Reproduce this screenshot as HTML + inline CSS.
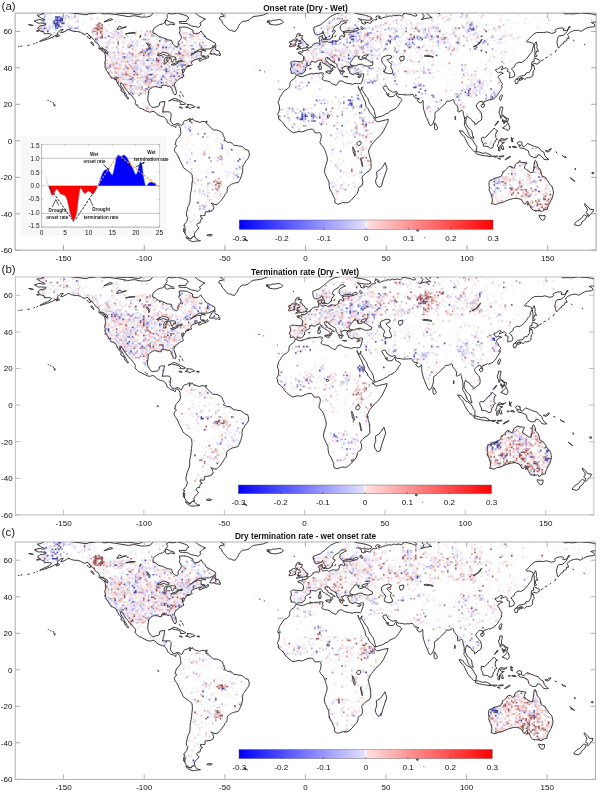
<!DOCTYPE html>
<html><head><meta charset="utf-8"><title>Onset and termination rates (Dry - Wet)</title>
<style>
html,body{margin:0;padding:0;background:#fff;}
body{width:602px;height:793px;position:relative;overflow:hidden;}
text{font-family:"Liberation Sans",Arial,sans-serif;}
.tl{font-size:8px;fill:#111;}
.cl{font-size:8.1px;fill:#111;}
.ia{font-size:4.6px;font-weight:bold;fill:#1a1a1a;}
.it{font-size:6.5px;fill:#1a1a1a;}
.tt{font-size:8.25px;font-weight:bold;fill:#111;}
.pl{font-size:11.5px;fill:#1e1e1e;}
</style></head><body>
<svg width="602" height="793" viewBox="0 0 602 793" style="position:absolute;left:0;top:0"><defs><linearGradient id="cb" x1="0" x2="1" y1="0" y2="0"><stop offset="0" stop-color="#0000ff"/><stop offset="0.496" stop-color="#e0e0fe"/><stop offset="0.5" stop-color="#ffffff"/><stop offset="0.504" stop-color="#fee0e0"/><stop offset="1" stop-color="#ff0000"/></linearGradient></defs><clipPath id="clip0"><rect x="15.1" y="13.1" width="581.0" height="237.1"/></clipPath><rect x="15.1" y="13.1" width="581.0" height="237.1" fill="#fff" stroke="#a4a4a4" stroke-width="1"/><g clip-path="url(#clip0)"><g transform="translate(15,13.8)" fill="none"><path d="M49.6 0.0h1.6M52.8 0.0h1.6M56.0 0.0h3.2M81.6 0.0h1.6M86.4 0.0h1.6M334.4 0.0h3.2M449.6 0.0h1.6M140.8 1.6h1.6M148.8 1.6h1.6M329.6 1.6h1.6M334.4 1.6h1.6M401.6 1.6h1.6M406.4 1.6h1.6M449.6 1.6h1.6M57.6 3.2h1.6M81.6 3.2h1.6M102.4 3.2h1.6M345.6 3.2h1.6M377.6 3.2h3.2M382.4 3.2h1.6M396.8 3.2h1.6M52.8 4.8h1.6M57.6 4.8h1.6M62.4 4.8h1.6M83.2 4.8h1.6M148.8 4.8h1.6M465.6 4.8h1.6M484.8 4.8h1.6M62.4 6.4h1.6M107.2 6.4h1.6M377.6 6.4h1.6M390.4 6.4h1.6M430.4 6.4h1.6M60.8 8.0h1.6M105.6 8.0h1.6M324.8 8.0h1.6M395.2 8.0h1.6M459.2 8.0h1.6M145.6 9.6h1.6M312.0 9.6h1.6M315.2 9.6h1.6M347.2 9.6h1.6M390.4 9.6h1.6M416.0 9.6h1.6M422.4 9.6h1.6M464.0 9.6h1.6M496.0 9.6h1.6M385.6 11.2h1.6M392.0 11.2h1.6M414.4 11.2h1.6M420.8 11.2h1.6M476.8 11.2h1.6M75.2 12.8h1.6M89.6 12.8h1.6M313.6 12.8h1.6M372.8 12.8h1.6M395.2 12.8h1.6M412.8 12.8h1.6M420.8 12.8h1.6M457.6 12.8h1.6M35.2 14.4h1.6M312.0 14.4h1.6M364.8 14.4h1.6M398.4 14.4h1.6M419.2 14.4h1.6M449.6 14.4h1.6M483.2 14.4h3.2M523.2 14.4h1.6M59.2 16.0h1.6M62.4 16.0h1.6M308.8 16.0h1.6M329.6 16.0h1.6M334.4 16.0h3.2M382.4 16.0h1.6M385.6 16.0h1.6M403.2 16.0h3.2M419.2 16.0h1.6M460.8 16.0h1.6M476.8 16.0h1.6M489.6 16.0h1.6M120.0 17.6h1.6M166.4 17.6h1.6M177.6 17.6h1.6M387.2 17.6h1.6M436.8 17.6h1.6M70.4 19.2h1.6M99.2 19.2h3.2M132.8 19.2h1.6M166.4 19.2h1.6M177.6 19.2h1.6M310.4 19.2h1.6M336.0 19.2h1.6M344.0 19.2h1.6M348.8 19.2h1.6M364.8 19.2h1.6M387.2 19.2h1.6M406.4 19.2h1.6M409.6 19.2h1.6M424.0 19.2h1.6M489.6 19.2h1.6M102.4 20.8h1.6M166.4 20.8h1.6M169.6 20.8h1.6M180.8 20.8h3.2M187.2 20.8h1.6M358.4 20.8h1.6M361.6 20.8h1.6M372.8 20.8h1.6M420.8 20.8h3.2M433.6 20.8h1.6M441.6 20.8h1.6M444.8 20.8h1.6M489.6 20.8h1.6M75.2 22.4h1.6M81.6 22.4h1.6M96.0 22.4h1.6M99.2 22.4h1.6M102.4 22.4h3.2M124.8 22.4h1.6M171.2 22.4h1.6M180.8 22.4h3.2M283.2 22.4h1.6M364.8 22.4h1.6M376.0 22.4h1.6M427.2 22.4h1.6M451.2 22.4h1.6M459.2 22.4h1.6M496.0 22.4h1.6M76.8 24.0h1.6M83.2 24.0h1.6M99.2 24.0h1.6M104.0 24.0h1.6M112.0 24.0h1.6M124.8 24.0h1.6M171.2 24.0h1.6M176.0 24.0h3.2M180.8 24.0h1.6M345.6 24.0h1.6M355.2 24.0h1.6M376.0 24.0h3.2M427.2 24.0h1.6M441.6 24.0h1.6M449.6 24.0h1.6M497.6 24.0h1.6M105.6 25.6h1.6M108.8 25.6h1.6M120.0 25.6h1.6M168.0 25.6h1.6M177.6 25.6h1.6M310.4 25.6h1.6M345.6 25.6h3.2M353.6 25.6h3.2M363.2 25.6h1.6M368.0 25.6h1.6M424.0 25.6h1.6M451.2 25.6h1.6M497.6 25.6h1.6M24.0 27.2h1.6M84.8 27.2h1.6M92.8 27.2h1.6M110.4 27.2h1.6M174.4 27.2h1.6M185.6 27.2h1.6M288.0 27.2h1.6M376.0 27.2h1.6M416.0 27.2h1.6M427.2 27.2h3.2M443.2 27.2h1.6M452.8 27.2h1.6M91.2 28.8h1.6M96.0 28.8h1.6M113.6 28.8h1.6M147.2 28.8h1.6M164.8 28.8h1.6M171.2 28.8h1.6M300.8 28.8h1.6M304.0 28.8h1.6M340.8 28.8h1.6M348.8 28.8h3.2M356.8 28.8h1.6M361.6 28.8h3.2M425.6 28.8h3.2M433.6 28.8h1.6M94.4 30.4h1.6M308.8 30.4h1.6M441.6 30.4h1.6M91.2 32.0h3.2M113.6 32.0h1.6M144.0 32.0h1.6M164.8 32.0h1.6M172.8 32.0h1.6M280.0 32.0h1.6M289.6 32.0h1.6M315.2 32.0h1.6M332.8 32.0h1.6M352.0 32.0h1.6M472.0 32.0h1.6M500.8 32.0h1.6M88.0 33.6h1.6M96.0 33.6h3.2M116.8 33.6h1.6M137.6 33.6h1.6M144.0 33.6h1.6M166.4 33.6h3.2M172.8 33.6h1.6M198.4 33.6h1.6M307.2 33.6h1.6M337.6 33.6h1.6M83.2 35.2h1.6M123.2 35.2h1.6M313.6 35.2h3.2M318.4 35.2h1.6M328.0 35.2h3.2M368.0 35.2h1.6M374.4 35.2h1.6M400.0 35.2h1.6M409.6 35.2h1.6M436.8 35.2h1.6M118.4 36.8h1.6M137.6 36.8h1.6M148.8 36.8h4.8M158.4 36.8h1.6M326.4 36.8h1.6M347.2 36.8h3.2M353.6 36.8h1.6M414.4 36.8h1.6M428.8 36.8h1.6M438.4 36.8h1.6M454.4 36.8h1.6M104.0 38.4h4.8M123.2 38.4h1.6M132.8 38.4h1.6M153.6 38.4h1.6M164.8 38.4h1.6M171.2 38.4h1.6M174.4 38.4h1.6M195.2 38.4h3.2M291.2 38.4h1.6M294.4 38.4h1.6M312.0 38.4h1.6M323.2 38.4h1.6M348.8 38.4h1.6M363.2 38.4h1.6M414.4 38.4h4.8M102.4 40.0h1.6M105.6 40.0h1.6M118.4 40.0h4.8M139.2 40.0h1.6M174.4 40.0h1.6M193.6 40.0h1.6M196.8 40.0h1.6M299.2 40.0h1.6M326.4 40.0h1.6M329.6 40.0h1.6M364.8 40.0h1.6M406.4 40.0h1.6M409.6 40.0h1.6M433.6 40.0h1.6M497.6 40.0h1.6M100.8 41.6h1.6M104.0 41.6h4.8M113.6 41.6h3.2M118.4 41.6h1.6M123.2 41.6h1.6M129.6 41.6h1.6M134.4 41.6h1.6M139.2 41.6h1.6M161.6 41.6h1.6M172.8 41.6h1.6M297.6 41.6h1.6M321.6 41.6h3.2M326.4 41.6h1.6M377.6 41.6h1.6M454.4 41.6h1.6M92.8 43.2h1.6M126.4 43.2h3.2M134.4 43.2h1.6M161.6 43.2h3.2M169.6 43.2h1.6M177.6 43.2h1.6M289.6 43.2h1.6M304.0 43.2h1.6M320.0 43.2h1.6M323.2 43.2h4.8M342.4 43.2h1.6M96.0 44.8h1.6M104.0 44.8h1.6M113.6 44.8h3.2M120.0 44.8h1.6M123.2 44.8h1.6M126.4 44.8h1.6M147.2 44.8h1.6M169.6 44.8h1.6M292.8 44.8h1.6M300.8 44.8h1.6M304.0 44.8h3.2M321.6 44.8h1.6M355.2 44.8h1.6M92.8 46.4h1.6M104.0 46.4h1.6M110.4 46.4h1.6M118.4 46.4h1.6M128.0 46.4h1.6M172.8 46.4h3.2M292.8 46.4h1.6M320.0 46.4h1.6M328.0 46.4h1.6M372.8 46.4h1.6M403.2 46.4h1.6M102.4 48.0h1.6M108.8 48.0h1.6M131.2 48.0h1.6M171.2 48.0h1.6M278.4 48.0h1.6M284.8 48.0h1.6M292.8 48.0h1.6M299.2 48.0h1.6M316.8 48.0h1.6M374.4 48.0h1.6M472.0 48.0h1.6M94.4 49.6h1.6M108.8 49.6h3.2M121.6 49.6h1.6M132.8 49.6h3.2M172.8 49.6h1.6M288.0 49.6h1.6M292.8 49.6h1.6M323.2 49.6h1.6M326.4 49.6h1.6M465.6 49.6h1.6M110.4 51.2h1.6M115.2 51.2h1.6M118.4 51.2h1.6M124.8 51.2h1.6M129.6 51.2h1.6M134.4 51.2h3.2M316.8 51.2h1.6M404.8 51.2h1.6M92.8 52.8h1.6M96.0 52.8h1.6M102.4 52.8h3.2M108.8 52.8h1.6M113.6 52.8h1.6M116.8 52.8h1.6M147.2 52.8h3.2M156.8 52.8h1.6M160.0 52.8h1.6M168.0 52.8h1.6M275.2 52.8h1.6M280.0 52.8h1.6M304.0 52.8h1.6M416.0 52.8h1.6M436.8 52.8h1.6M107.2 54.4h1.6M115.2 54.4h1.6M123.2 54.4h1.6M147.2 54.4h1.6M155.2 54.4h1.6M164.8 54.4h1.6M281.6 54.4h1.6M288.0 54.4h1.6M404.8 54.4h1.6M89.6 56.0h1.6M99.2 56.0h1.6M102.4 56.0h1.6M105.6 56.0h1.6M115.2 56.0h1.6M120.0 56.0h1.6M123.2 56.0h1.6M126.4 56.0h1.6M137.6 56.0h3.2M160.0 56.0h1.6M164.8 56.0h1.6M283.2 56.0h3.2M304.0 56.0h1.6M393.6 56.0h1.6M398.4 56.0h1.6M414.4 56.0h1.6M433.6 56.0h1.6M492.8 56.0h1.6M92.8 57.6h1.6M100.8 57.6h3.2M105.6 57.6h4.8M115.2 57.6h3.2M128.0 57.6h1.6M140.8 57.6h4.8M147.2 57.6h3.2M155.2 57.6h1.6M161.6 57.6h1.6M310.4 57.6h1.6M342.4 57.6h1.6M392.0 57.6h3.2M400.0 57.6h1.6M470.4 57.6h1.6M104.0 59.2h1.6M107.2 59.2h1.6M112.0 59.2h1.6M116.8 59.2h1.6M123.2 59.2h3.2M156.8 59.2h1.6M275.2 59.2h1.6M296.0 59.2h3.2M411.2 59.2h1.6M475.2 59.2h1.6M100.8 60.8h1.6M113.6 60.8h4.8M139.2 60.8h1.6M145.6 60.8h1.6M153.6 60.8h1.6M164.8 60.8h1.6M299.2 60.8h1.6M96.0 62.4h3.2M107.2 62.4h3.2M112.0 62.4h1.6M116.8 62.4h3.2M121.6 62.4h1.6M124.8 62.4h1.6M140.8 62.4h1.6M444.8 62.4h1.6M452.8 62.4h1.6M459.2 62.4h1.6M94.4 64.0h1.6M108.8 64.0h1.6M112.0 64.0h3.2M118.4 64.0h1.6M128.0 64.0h1.6M132.8 64.0h3.2M144.0 64.0h1.6M153.6 64.0h1.6M160.0 64.0h1.6M163.2 64.0h1.6M446.4 64.0h1.6M481.6 64.0h1.6M102.4 65.6h1.6M120.0 65.6h1.6M124.8 65.6h1.6M142.4 65.6h1.6M156.8 65.6h1.6M296.0 65.6h1.6M457.6 65.6h1.6M500.8 65.6h1.6M104.0 67.2h3.2M112.0 67.2h1.6M460.8 67.2h1.6M467.2 67.2h1.6M502.4 67.2h1.6M104.0 68.8h3.2M139.2 68.8h1.6M152.0 68.8h1.6M403.2 68.8h1.6M432.0 68.8h1.6M459.2 68.8h1.6M107.2 70.4h1.6M115.2 70.4h1.6M126.4 70.4h1.6M134.4 70.4h3.2M139.2 70.4h1.6M155.2 70.4h1.6M481.6 70.4h1.6M108.8 72.0h3.2M123.2 72.0h1.6M136.0 72.0h1.6M139.2 72.0h1.6M150.4 72.0h1.6M457.6 72.0h1.6M464.0 72.0h1.6M105.6 73.6h1.6M118.4 73.6h1.6M158.4 73.6h1.6M460.8 73.6h3.2M160.0 75.2h1.6M457.6 75.2h3.2M124.8 76.8h3.2M160.0 76.8h1.6M468.8 76.8h1.6M120.0 78.4h1.6M123.2 78.4h3.2M430.4 78.4h1.6M454.4 78.4h1.6M457.6 80.0h1.6M115.2 81.6h1.6M438.4 81.6h1.6M112.0 83.2h1.6M459.2 83.2h1.6M424.0 84.8h1.6M132.8 88.0h1.6M448.0 89.6h1.6M443.2 91.2h1.6M128.0 92.8h4.8M446.4 92.8h1.6M289.6 94.4h1.6M344.0 94.4h1.6M446.4 94.4h3.2M147.2 96.0h1.6M278.4 96.0h1.6M417.6 96.0h1.6M134.4 97.6h1.6M152.0 97.6h1.6M328.0 97.6h1.6M348.8 97.6h1.6M316.8 99.2h1.6M409.6 99.2h1.6M465.6 99.2h1.6M144.0 100.8h1.6M313.6 100.8h1.6M308.8 104.0h1.6M153.6 105.6h1.6M449.6 105.6h1.6M174.4 107.2h1.6M180.8 107.2h1.6M305.6 108.8h1.6M332.8 108.8h1.6M368.0 108.8h1.6M156.8 110.4h1.6M286.4 110.4h1.6M329.6 110.4h1.6M368.0 110.4h1.6M294.4 112.0h1.6M188.8 113.6h1.6M176.0 115.2h1.6M185.6 115.2h1.6M492.8 115.2h1.6M324.8 116.8h1.6M312.0 118.4h1.6M358.4 118.4h1.6M192.0 120.0h1.6M206.4 120.0h1.6M332.8 120.0h1.6M174.4 121.6h1.6M328.0 121.6h1.6M340.8 121.6h1.6M480.0 123.2h1.6M326.4 124.8h1.6M465.6 124.8h1.6M484.8 124.8h1.6M172.8 126.4h1.6M318.4 126.4h1.6M468.8 126.4h1.6M163.2 128.0h1.6M200.0 128.0h1.6M467.2 128.0h1.6M470.4 128.0h1.6M172.8 129.6h1.6M451.2 129.6h1.6M201.6 131.2h1.6M315.2 131.2h1.6M192.0 134.4h1.6M348.8 134.4h1.6M456.0 134.4h1.6M214.4 136.0h1.6M227.2 136.0h1.6M513.6 136.0h1.6M158.4 137.6h1.6M211.2 139.2h1.6M220.8 139.2h1.6M316.8 139.2h1.6M462.4 139.2h1.6M465.6 140.8h1.6M473.6 140.8h1.6M520.0 140.8h1.6M171.2 142.4h1.6M187.2 144.0h1.6M323.2 145.6h1.6M206.4 147.2h1.6M174.4 148.8h1.6M504.0 148.8h1.6M520.0 148.8h1.6M176.0 150.4h1.6M216.0 150.4h1.6M222.4 153.6h1.6M502.4 153.6h1.6M508.8 153.6h1.6M331.2 155.2h1.6M524.8 155.2h1.6M497.6 156.8h1.6M512.0 156.8h1.6M521.6 156.8h1.6M185.6 158.4h1.6M312.0 158.4h1.6M331.2 158.4h1.6M497.6 158.4h1.6M507.2 158.4h1.6M512.0 158.4h1.6M211.2 160.0h1.6M220.8 160.0h1.6M339.2 160.0h1.6M342.4 160.0h1.6M520.0 160.0h1.6M339.2 161.6h1.6M497.6 161.6h1.6M508.8 161.6h1.6M198.4 163.2h1.6M211.2 163.2h1.6M332.8 163.2h1.6M344.0 163.2h1.6M499.2 163.2h1.6M515.2 163.2h1.6M529.6 163.2h1.6M192.0 164.8h1.6M217.6 164.8h1.6M484.8 164.8h1.6M492.8 164.8h1.6M526.4 164.8h3.2M345.6 166.4h1.6M484.8 166.4h1.6M504.0 166.4h1.6M520.0 166.4h3.2M521.6 168.0h1.6M532.8 168.0h1.6M176.0 169.6h1.6M512.0 171.2h1.6M192.0 172.8h1.6M208.0 172.8h1.6M326.4 172.8h1.6M488.0 172.8h1.6M512.0 172.8h1.6M192.0 174.4h1.6M316.8 174.4h1.6M328.0 174.4h1.6M505.6 174.4h1.6M536.0 174.4h1.6M192.0 176.0h1.6M529.6 176.0h1.6M177.6 177.6h1.6M182.4 177.6h1.6M201.6 177.6h1.6M320.0 177.6h1.6M524.8 177.6h3.2M529.6 177.6h1.6M320.0 179.2h3.2M491.2 179.2h1.6M496.0 179.2h1.6M523.2 179.2h3.2M201.6 180.8h1.6M320.0 180.8h1.6M481.6 180.8h1.6M190.4 182.4h1.6M478.4 182.4h3.2M488.0 182.4h1.6M510.4 182.4h1.6M536.0 182.4h1.6M507.2 184.0h3.2M508.8 187.2h1.6M478.4 188.8h1.6M483.2 188.8h1.6M486.4 188.8h1.6M185.6 192.0h1.6M185.6 195.2h1.6M174.4 196.8h1.6M190.4 196.8h1.6M171.2 201.6h1.6M172.8 217.6h1.6M172.8 219.2h1.6" stroke="#fae6e6" stroke-width="1.6"/><path d="M36.8 0.0h1.6M51.2 0.0h1.6M60.8 0.0h1.6M337.6 0.0h1.6M425.6 0.0h1.6M443.2 0.0h1.6M451.2 0.0h1.6M464.0 0.0h1.6M56.0 1.6h1.6M62.4 1.6h1.6M320.0 1.6h1.6M446.4 1.6h3.2M464.0 1.6h1.6M483.2 1.6h1.6M504.0 1.6h1.6M56.0 3.2h1.6M352.0 3.2h1.6M449.6 3.2h1.6M520.0 3.2h1.6M33.6 4.8h1.6M36.8 4.8h1.6M48.0 4.8h1.6M56.0 4.8h1.6M60.8 4.8h1.6M364.8 4.8h1.6M385.6 4.8h1.6M510.4 4.8h1.6M49.6 6.4h1.6M332.8 6.4h1.6M491.2 6.4h3.2M534.4 6.4h1.6M19.2 8.0h1.6M28.8 8.0h1.6M49.6 8.0h1.6M59.2 8.0h1.6M100.8 8.0h1.6M104.0 8.0h1.6M316.8 8.0h1.6M366.4 8.0h1.6M27.2 9.6h1.6M32.0 9.6h1.6M52.8 9.6h1.6M67.2 9.6h1.6M401.6 9.6h1.6M406.4 9.6h1.6M457.6 9.6h1.6M499.2 9.6h1.6M508.8 9.6h1.6M531.2 9.6h1.6M24.0 11.2h1.6M30.4 11.2h1.6M36.8 11.2h1.6M51.2 11.2h3.2M340.8 11.2h1.6M372.8 11.2h3.2M382.4 11.2h1.6M390.4 11.2h1.6M401.6 11.2h1.6M457.6 11.2h1.6M472.0 11.2h1.6M27.2 12.8h3.2M35.2 12.8h1.6M38.4 12.8h1.6M307.2 12.8h1.6M328.0 12.8h1.6M334.4 12.8h1.6M352.0 12.8h1.6M416.0 12.8h1.6M422.4 12.8h1.6M451.2 12.8h1.6M521.6 12.8h1.6M27.2 14.4h1.6M38.4 14.4h1.6M52.8 14.4h1.6M308.8 14.4h3.2M329.6 14.4h3.2M334.4 14.4h1.6M358.4 14.4h1.6M366.4 14.4h1.6M374.4 14.4h1.6M377.6 14.4h6.4M385.6 14.4h3.2M395.2 14.4h1.6M406.4 14.4h1.6M452.8 14.4h1.6M494.4 14.4h1.6M24.0 16.0h1.6M30.4 16.0h1.6M56.0 16.0h1.6M332.8 16.0h1.6M350.4 16.0h1.6M372.8 16.0h1.6M376.0 16.0h1.6M388.8 16.0h1.6M395.2 16.0h1.6M406.4 16.0h1.6M441.6 16.0h1.6M454.4 16.0h1.6M478.4 16.0h1.6M483.2 16.0h1.6M536.0 16.0h1.6M539.2 16.0h1.6M57.6 17.6h3.2M88.0 17.6h1.6M97.6 17.6h1.6M121.6 17.6h1.6M350.4 17.6h1.6M379.2 17.6h1.6M414.4 17.6h1.6M451.2 17.6h1.6M454.4 17.6h3.2M459.2 17.6h1.6M464.0 17.6h1.6M480.0 17.6h1.6M40.0 19.2h1.6M88.0 19.2h1.6M92.8 19.2h3.2M104.0 19.2h3.2M116.8 19.2h1.6M137.6 19.2h1.6M174.4 19.2h1.6M184.0 19.2h1.6M284.8 19.2h1.6M304.0 19.2h1.6M356.8 19.2h1.6M392.0 19.2h1.6M411.2 19.2h4.8M36.8 20.8h1.6M40.0 20.8h1.6M99.2 20.8h1.6M168.0 20.8h1.6M171.2 20.8h1.6M300.8 20.8h3.2M313.6 20.8h1.6M340.8 20.8h3.2M398.4 20.8h1.6M459.2 20.8h1.6M97.6 22.4h1.6M100.8 22.4h1.6M129.6 22.4h3.2M174.4 22.4h1.6M179.2 22.4h1.6M304.0 22.4h3.2M310.4 22.4h1.6M342.4 22.4h1.6M345.6 22.4h1.6M377.6 22.4h3.2M385.6 22.4h1.6M412.8 22.4h1.6M446.4 22.4h1.6M454.4 22.4h1.6M484.8 22.4h1.6M491.2 22.4h1.6M504.0 22.4h1.6M548.8 22.4h1.6M75.2 24.0h1.6M100.8 24.0h1.6M105.6 24.0h1.6M110.4 24.0h1.6M115.2 24.0h1.6M142.4 24.0h1.6M145.6 24.0h1.6M187.2 24.0h1.6M281.6 24.0h1.6M304.0 24.0h1.6M340.8 24.0h1.6M344.0 24.0h1.6M347.2 24.0h1.6M380.8 24.0h3.2M403.2 24.0h1.6M408.0 24.0h1.6M412.8 24.0h3.2M550.4 24.0h1.6M27.2 25.6h1.6M78.4 25.6h1.6M104.0 25.6h1.6M115.2 25.6h1.6M131.2 25.6h1.6M134.4 25.6h1.6M140.8 25.6h1.6M187.2 25.6h1.6M190.4 25.6h1.6M193.6 25.6h1.6M305.6 25.6h1.6M308.8 25.6h1.6M312.0 25.6h1.6M377.6 25.6h1.6M400.0 25.6h1.6M432.0 25.6h3.2M441.6 25.6h1.6M459.2 25.6h1.6M470.4 25.6h3.2M483.2 25.6h1.6M499.2 25.6h1.6M83.2 27.2h1.6M107.2 27.2h1.6M115.2 27.2h1.6M118.4 27.2h1.6M124.8 27.2h1.6M129.6 27.2h1.6M305.6 27.2h1.6M308.8 27.2h1.6M312.0 27.2h1.6M393.6 27.2h1.6M412.8 27.2h1.6M420.8 27.2h1.6M425.6 27.2h1.6M432.0 27.2h1.6M460.8 27.2h1.6M489.6 27.2h1.6M89.6 28.8h1.6M94.4 28.8h1.6M115.2 28.8h1.6M118.4 28.8h3.2M123.2 28.8h1.6M136.0 28.8h1.6M172.8 28.8h1.6M176.0 28.8h1.6M180.8 28.8h1.6M185.6 28.8h1.6M278.4 28.8h1.6M288.0 28.8h1.6M307.2 28.8h1.6M332.8 28.8h1.6M339.2 28.8h1.6M366.4 28.8h1.6M369.6 28.8h3.2M432.0 28.8h1.6M465.6 28.8h1.6M483.2 28.8h1.6M512.0 28.8h1.6M83.2 30.4h1.6M88.0 30.4h1.6M91.2 30.4h3.2M120.0 30.4h1.6M144.0 30.4h1.6M147.2 30.4h3.2M177.6 30.4h1.6M289.6 30.4h1.6M300.8 30.4h3.2M312.0 30.4h1.6M315.2 30.4h1.6M348.8 30.4h1.6M356.8 30.4h1.6M364.8 30.4h1.6M395.2 30.4h1.6M427.2 30.4h1.6M430.4 30.4h1.6M433.6 30.4h1.6M444.8 30.4h1.6M467.2 30.4h1.6M118.4 32.0h1.6M126.4 32.0h1.6M148.8 32.0h1.6M152.0 32.0h1.6M155.2 32.0h1.6M177.6 32.0h1.6M180.8 32.0h1.6M284.8 32.0h1.6M305.6 32.0h1.6M345.6 32.0h1.6M355.2 32.0h1.6M366.4 32.0h1.6M369.6 32.0h3.2M384.0 32.0h1.6M414.4 32.0h1.6M424.0 32.0h1.6M441.6 32.0h1.6M444.8 32.0h1.6M84.8 33.6h1.6M102.4 33.6h1.6M131.2 33.6h1.6M139.2 33.6h1.6M142.4 33.6h1.6M145.6 33.6h1.6M152.0 33.6h1.6M155.2 33.6h3.2M177.6 33.6h1.6M180.8 33.6h1.6M184.0 33.6h1.6M283.2 33.6h1.6M302.4 33.6h1.6M356.8 33.6h1.6M366.4 33.6h1.6M369.6 33.6h1.6M388.8 33.6h1.6M392.0 33.6h1.6M441.6 33.6h1.6M465.6 33.6h1.6M91.2 35.2h3.2M110.4 35.2h1.6M137.6 35.2h3.2M142.4 35.2h1.6M148.8 35.2h1.6M152.0 35.2h3.2M156.8 35.2h1.6M185.6 35.2h1.6M188.8 35.2h1.6M196.8 35.2h1.6M292.8 35.2h3.2M320.0 35.2h1.6M344.0 35.2h1.6M348.8 35.2h1.6M360.0 35.2h1.6M393.6 35.2h1.6M404.8 35.2h1.6M424.0 35.2h1.6M432.0 35.2h1.6M441.6 35.2h1.6M105.6 36.8h1.6M160.0 36.8h1.6M172.8 36.8h1.6M196.8 36.8h1.6M300.8 36.8h1.6M312.0 36.8h1.6M315.2 36.8h1.6M321.6 36.8h1.6M329.6 36.8h4.8M371.2 36.8h1.6M404.8 36.8h1.6M408.0 36.8h1.6M417.6 36.8h1.6M432.0 36.8h1.6M480.0 36.8h1.6M91.2 38.4h1.6M94.4 38.4h1.6M131.2 38.4h1.6M156.8 38.4h1.6M177.6 38.4h1.6M180.8 38.4h1.6M284.8 38.4h1.6M296.0 38.4h1.6M299.2 38.4h1.6M304.0 38.4h1.6M316.8 38.4h1.6M328.0 38.4h1.6M339.2 38.4h1.6M387.2 38.4h1.6M419.2 38.4h1.6M158.4 40.0h1.6M316.8 40.0h1.6M320.0 40.0h1.6M336.0 40.0h1.6M350.4 40.0h1.6M356.8 40.0h1.6M384.0 40.0h1.6M110.4 41.6h1.6M126.4 41.6h1.6M299.2 41.6h1.6M305.6 41.6h1.6M328.0 41.6h1.6M358.4 41.6h1.6M380.8 41.6h1.6M470.4 41.6h1.6M476.8 41.6h1.6M488.0 41.6h1.6M96.0 43.2h1.6M105.6 43.2h1.6M112.0 43.2h1.6M116.8 43.2h1.6M123.2 43.2h1.6M140.8 43.2h1.6M192.0 43.2h1.6M292.8 43.2h1.6M308.8 43.2h1.6M344.0 43.2h1.6M353.6 43.2h1.6M356.8 43.2h1.6M361.6 43.2h1.6M380.8 43.2h1.6M393.6 43.2h1.6M475.2 43.2h1.6M97.6 44.8h4.8M105.6 44.8h3.2M116.8 44.8h1.6M136.0 44.8h3.2M187.2 44.8h1.6M190.4 44.8h1.6M315.2 44.8h3.2M320.0 44.8h1.6M329.6 44.8h1.6M336.0 44.8h1.6M345.6 44.8h1.6M380.8 44.8h1.6M404.8 44.8h1.6M486.4 44.8h1.6M102.4 46.4h1.6M105.6 46.4h1.6M112.0 46.4h3.2M124.8 46.4h1.6M297.6 46.4h1.6M315.2 46.4h1.6M329.6 46.4h1.6M334.4 46.4h1.6M355.2 46.4h1.6M96.0 48.0h4.8M115.2 48.0h1.6M126.4 48.0h1.6M132.8 48.0h1.6M280.0 48.0h1.6M294.4 48.0h1.6M300.8 48.0h1.6M329.6 48.0h1.6M355.2 48.0h1.6M395.2 48.0h1.6M400.0 48.0h1.6M412.8 48.0h1.6M494.4 48.0h1.6M113.6 49.6h1.6M126.4 49.6h1.6M137.6 49.6h3.2M281.6 49.6h1.6M284.8 49.6h1.6M331.2 49.6h3.2M385.6 49.6h1.6M92.8 51.2h1.6M99.2 51.2h3.2M116.8 51.2h1.6M132.8 51.2h1.6M156.8 51.2h1.6M161.6 51.2h1.6M280.0 51.2h1.6M310.4 51.2h1.6M313.6 51.2h1.6M331.2 51.2h3.2M342.4 51.2h3.2M356.8 51.2h1.6M377.6 51.2h1.6M380.8 51.2h3.2M427.2 51.2h1.6M89.6 52.8h1.6M112.0 52.8h1.6M136.0 52.8h1.6M139.2 52.8h3.2M144.0 52.8h1.6M163.2 52.8h1.6M278.4 52.8h1.6M305.6 52.8h1.6M316.8 52.8h1.6M331.2 52.8h3.2M345.6 52.8h1.6M97.6 54.4h1.6M105.6 54.4h1.6M124.8 54.4h1.6M140.8 54.4h1.6M158.4 54.4h1.6M278.4 54.4h3.2M284.8 54.4h1.6M294.4 54.4h1.6M305.6 54.4h1.6M315.2 54.4h3.2M379.2 54.4h1.6M387.2 54.4h1.6M446.4 54.4h1.6M129.6 56.0h1.6M134.4 56.0h1.6M144.0 56.0h1.6M156.8 56.0h1.6M275.2 56.0h3.2M305.6 56.0h1.6M339.2 56.0h1.6M344.0 56.0h1.6M377.6 56.0h1.6M380.8 56.0h1.6M404.8 56.0h1.6M408.0 56.0h1.6M96.0 57.6h1.6M121.6 57.6h1.6M131.2 57.6h1.6M139.2 57.6h1.6M166.4 57.6h1.6M275.2 57.6h1.6M284.8 57.6h1.6M326.4 57.6h1.6M398.4 57.6h1.6M409.6 57.6h1.6M412.8 57.6h1.6M448.0 57.6h1.6M102.4 59.2h1.6M131.2 59.2h1.6M147.2 59.2h1.6M153.6 59.2h1.6M160.0 59.2h1.6M163.2 59.2h1.6M276.8 59.2h1.6M281.6 59.2h3.2M307.2 59.2h1.6M313.6 59.2h1.6M324.8 59.2h3.2M337.6 59.2h1.6M352.0 59.2h1.6M486.4 59.2h1.6M104.0 60.8h3.2M120.0 60.8h1.6M147.2 60.8h6.4M160.0 60.8h1.6M294.4 60.8h1.6M304.0 60.8h1.6M438.4 60.8h1.6M475.2 60.8h1.6M94.4 62.4h1.6M134.4 62.4h1.6M161.6 62.4h1.6M304.0 62.4h1.6M110.4 64.0h1.6M140.8 64.0h1.6M150.4 64.0h1.6M156.8 64.0h1.6M161.6 64.0h1.6M164.8 64.0h1.6M459.2 64.0h1.6M110.4 65.6h1.6M128.0 65.6h1.6M158.4 65.6h1.6M161.6 65.6h1.6M456.0 65.6h1.6M460.8 65.6h1.6M113.6 67.2h1.6M124.8 67.2h1.6M128.0 67.2h1.6M132.8 67.2h1.6M361.6 67.2h1.6M468.8 67.2h3.2M136.0 68.8h1.6M294.4 68.8h1.6M299.2 68.8h1.6M355.2 68.8h1.6M369.6 68.8h1.6M398.4 68.8h1.6M456.0 68.8h1.6M123.2 70.4h3.2M398.4 70.4h3.2M408.0 70.4h1.6M467.2 70.4h1.6M472.0 70.4h1.6M483.2 70.4h1.6M124.8 72.0h1.6M142.4 72.0h1.6M366.4 72.0h1.6M401.6 72.0h1.6M409.6 72.0h1.6M454.4 72.0h3.2M465.6 72.0h1.6M113.6 73.6h1.6M288.0 73.6h1.6M406.4 73.6h1.6M464.0 73.6h1.6M484.8 73.6h1.6M107.2 75.2h1.6M112.0 75.2h1.6M411.2 75.2h1.6M460.8 75.2h1.6M464.0 75.2h1.6M467.2 75.2h1.6M118.4 76.8h1.6M435.2 76.8h1.6M480.0 76.8h3.2M108.8 78.4h1.6M118.4 78.4h1.6M131.2 78.4h1.6M467.2 78.4h1.6M481.6 78.4h1.6M108.8 80.0h1.6M126.4 80.0h3.2M468.8 80.0h1.6M110.4 81.6h1.6M412.8 81.6h1.6M440.0 81.6h1.6M456.0 81.6h1.6M302.4 83.2h1.6M344.0 83.2h1.6M355.2 83.2h1.6M440.0 83.2h1.6M308.8 84.8h1.6M382.4 84.8h1.6M440.0 84.8h1.6M312.0 86.4h1.6M414.4 86.4h1.6M440.0 86.4h1.6M147.2 88.0h1.6M363.2 88.0h1.6M425.6 88.0h1.6M128.0 89.6h1.6M129.6 91.2h1.6M323.2 91.2h1.6M411.2 91.2h1.6M172.8 92.8h1.6M366.4 92.8h1.6M296.0 94.4h1.6M273.6 96.0h3.2M291.2 96.0h1.6M420.8 96.0h3.2M444.8 96.0h1.6M270.4 97.6h3.2M278.4 97.6h1.6M288.0 97.6h1.6M305.6 97.6h1.6M334.4 97.6h1.6M345.6 97.6h1.6M281.6 99.2h3.2M308.8 99.2h3.2M347.2 99.2h1.6M142.4 100.8h1.6M339.2 100.8h1.6M342.4 100.8h1.6M307.2 102.4h1.6M316.8 102.4h1.6M344.0 102.4h1.6M278.4 104.0h1.6M347.2 104.0h1.6M152.0 105.6h1.6M321.6 105.6h1.6M345.6 105.6h1.6M305.6 107.2h1.6M331.2 107.2h1.6M152.0 108.8h1.6M171.2 108.8h1.6M289.6 108.8h1.6M192.0 110.4h1.6M304.0 110.4h1.6M307.2 110.4h1.6M275.2 112.0h1.6M291.2 112.0h1.6M305.6 112.0h1.6M320.0 112.0h1.6M172.8 113.6h1.6M180.8 115.2h1.6M297.6 115.2h1.6M172.8 116.8h1.6M326.4 118.4h1.6M331.2 118.4h1.6M320.0 120.0h1.6M337.6 120.0h1.6M176.0 121.6h1.6M206.4 123.2h1.6M201.6 124.8h1.6M164.8 126.4h1.6M350.4 126.4h1.6M305.6 129.6h1.6M328.0 129.6h1.6M336.0 129.6h1.6M171.2 131.2h1.6M177.6 131.2h1.6M192.0 131.2h1.6M467.2 131.2h1.6M499.2 132.8h1.6M203.2 134.4h3.2M318.4 134.4h1.6M486.4 134.4h1.6M206.4 136.0h1.6M212.8 137.6h1.6M460.8 137.6h1.6M523.2 137.6h1.6M460.8 139.2h1.6M169.6 140.8h1.6M212.8 140.8h1.6M316.8 140.8h1.6M228.8 142.4h1.6M198.4 144.0h1.6M222.4 144.0h1.6M529.6 145.6h1.6M206.4 148.8h1.6M507.2 148.8h1.6M518.4 148.8h1.6M324.8 150.4h1.6M499.2 150.4h1.6M222.4 152.0h1.6M521.6 153.6h1.6M222.4 155.2h3.2M500.8 155.2h1.6M190.4 156.8h1.6M209.6 156.8h1.6M345.6 156.8h1.6M211.2 158.4h3.2M217.6 158.4h3.2M192.0 160.0h1.6M344.0 160.0h1.6M486.4 160.0h1.6M211.2 161.6h1.6M345.6 161.6h1.6M499.2 161.6h3.2M217.6 163.2h1.6M524.8 163.2h1.6M486.4 164.8h1.6M496.0 164.8h1.6M321.6 166.4h1.6M481.6 166.4h1.6M529.6 166.4h1.6M481.6 168.0h1.6M494.4 168.0h1.6M502.4 168.0h1.6M505.6 168.0h1.6M328.0 169.6h1.6M344.0 169.6h1.6M491.2 169.6h1.6M502.4 169.6h1.6M507.2 169.6h1.6M516.8 169.6h1.6M316.8 171.2h1.6M484.8 171.2h1.6M489.6 171.2h1.6M505.6 171.2h1.6M190.4 172.8h1.6M331.2 172.8h1.6M508.8 174.4h1.6M187.2 176.0h1.6M326.4 176.0h3.2M475.2 176.0h1.6M192.0 177.6h1.6M480.0 177.6h1.6M483.2 177.6h1.6M190.4 179.2h3.2M204.8 179.2h1.6M512.0 180.8h1.6M536.0 180.8h1.6M198.4 182.4h1.6M486.4 182.4h1.6M515.2 182.4h1.6M193.6 185.6h1.6M321.6 185.6h1.6M190.4 188.8h1.6M196.8 188.8h1.6M484.8 188.8h1.6M196.8 190.4h1.6M569.6 192.0h1.6M172.8 201.6h1.6M179.2 201.6h1.6M569.6 204.8h1.6M169.6 209.6h1.6" stroke="#e6e6fb" stroke-width="1.6"/><path d="M49.6 1.6h1.6M406.4 3.2h1.6M422.4 3.2h1.6M427.2 3.2h1.6M430.4 3.2h1.6M54.4 4.8h1.6M81.6 4.8h1.6M328.0 4.8h1.6M334.4 4.8h1.6M387.2 4.8h1.6M393.6 6.4h1.6M484.8 6.4h1.6M315.2 8.0h1.6M332.8 8.0h1.6M377.6 8.0h1.6M417.6 8.0h1.6M371.2 9.6h1.6M80.0 11.2h1.6M366.4 11.2h1.6M396.8 11.2h1.6M363.2 12.8h1.6M400.0 12.8h1.6M419.2 12.8h1.6M484.8 12.8h1.6M315.2 14.4h1.6M396.8 14.4h1.6M414.4 14.4h3.2M438.4 14.4h1.6M444.8 14.4h1.6M459.2 14.4h1.6M467.2 14.4h1.6M76.8 16.0h1.6M424.0 16.0h1.6M436.8 16.0h1.6M440.0 16.0h1.6M473.6 16.0h1.6M124.8 17.6h1.6M136.0 17.6h1.6M176.0 17.6h1.6M312.0 17.6h1.6M408.0 17.6h1.6M420.8 17.6h1.6M449.6 17.6h1.6M86.4 19.2h1.6M96.0 19.2h1.6M107.2 19.2h1.6M129.6 19.2h1.6M134.4 19.2h1.6M169.6 19.2h1.6M179.2 19.2h3.2M350.4 19.2h1.6M430.4 19.2h1.6M76.8 20.8h1.6M89.6 20.8h1.6M132.8 20.8h1.6M366.4 20.8h1.6M379.2 20.8h1.6M387.2 20.8h1.6M414.4 20.8h1.6M492.8 20.8h1.6M94.4 22.4h1.6M107.2 22.4h1.6M489.6 22.4h1.6M107.2 24.0h1.6M336.0 24.0h1.6M364.8 24.0h1.6M406.4 24.0h1.6M478.4 24.0h1.6M152.0 25.6h1.6M176.0 25.6h1.6M182.4 25.6h3.2M304.0 25.6h1.6M348.8 25.6h1.6M361.6 25.6h1.6M456.0 25.6h1.6M80.0 27.2h1.6M94.4 27.2h1.6M142.4 27.2h1.6M352.0 27.2h1.6M384.0 27.2h1.6M470.4 27.2h1.6M75.2 28.8h1.6M107.2 28.8h1.6M184.0 28.8h1.6M417.6 28.8h1.6M440.0 28.8h1.6M481.6 28.8h1.6M108.8 30.4h1.6M115.2 30.4h1.6M171.2 30.4h1.6M286.4 30.4h1.6M337.6 30.4h1.6M137.6 32.0h1.6M286.4 32.0h1.6M336.0 32.0h1.6M118.4 33.6h1.6M134.4 33.6h1.6M140.8 33.6h1.6M163.2 33.6h1.6M332.8 33.6h1.6M129.6 35.2h1.6M169.6 35.2h1.6M331.2 35.2h1.6M403.2 35.2h1.6M460.8 35.2h1.6M120.0 36.8h1.6M129.6 36.8h1.6M139.2 36.8h1.6M176.0 36.8h1.6M195.2 36.8h1.6M340.8 36.8h1.6M433.6 36.8h1.6M96.0 38.4h1.6M116.8 38.4h1.6M128.0 38.4h1.6M152.0 38.4h1.6M155.2 38.4h1.6M166.4 38.4h3.2M172.8 38.4h1.6M184.0 38.4h1.6M297.6 38.4h1.6M329.6 38.4h1.6M337.6 38.4h1.6M94.4 40.0h1.6M97.6 40.0h3.2M104.0 40.0h1.6M113.6 40.0h1.6M131.2 40.0h1.6M140.8 40.0h1.6M312.0 40.0h1.6M328.0 40.0h1.6M91.2 41.6h1.6M99.2 41.6h1.6M102.4 41.6h1.6M112.0 41.6h1.6M120.0 41.6h1.6M124.8 41.6h1.6M158.4 41.6h1.6M174.4 41.6h4.8M182.4 41.6h3.2M296.0 41.6h1.6M300.8 41.6h1.6M360.0 41.6h1.6M404.8 41.6h1.6M121.6 43.2h1.6M129.6 43.2h1.6M148.8 43.2h1.6M164.8 43.2h3.2M187.2 43.2h1.6M190.4 43.2h1.6M318.4 43.2h1.6M332.8 43.2h1.6M337.6 43.2h1.6M364.8 43.2h1.6M94.4 44.8h1.6M128.0 44.8h1.6M132.8 44.8h1.6M142.4 44.8h1.6M176.0 44.8h1.6M297.6 44.8h1.6M108.8 46.4h1.6M120.0 46.4h1.6M136.0 46.4h1.6M145.6 46.4h1.6M176.0 46.4h1.6M417.6 46.4h1.6M89.6 48.0h1.6M100.8 48.0h1.6M116.8 48.0h1.6M124.8 48.0h1.6M136.0 48.0h1.6M140.8 48.0h1.6M147.2 48.0h1.6M158.4 48.0h1.6M281.6 48.0h1.6M307.2 48.0h3.2M96.0 49.6h1.6M99.2 49.6h1.6M102.4 49.6h3.2M116.8 49.6h1.6M140.8 49.6h1.6M144.0 49.6h1.6M275.2 49.6h1.6M289.6 49.6h1.6M294.4 49.6h1.6M321.6 49.6h1.6M384.0 49.6h1.6M417.6 49.6h1.6M120.0 51.2h3.2M144.0 51.2h1.6M288.0 51.2h3.2M292.8 51.2h1.6M304.0 51.2h1.6M416.0 51.2h3.2M470.4 51.2h1.6M97.6 52.8h3.2M105.6 52.8h1.6M142.4 52.8h1.6M315.2 52.8h1.6M324.8 52.8h1.6M328.0 52.8h1.6M89.6 54.4h1.6M118.4 54.4h1.6M136.0 54.4h1.6M148.8 54.4h1.6M168.0 54.4h1.6M275.2 54.4h1.6M283.2 54.4h1.6M286.4 54.4h1.6M296.0 54.4h1.6M462.4 54.4h1.6M100.8 56.0h1.6M104.0 56.0h1.6M107.2 56.0h1.6M112.0 56.0h3.2M147.2 56.0h1.6M158.4 56.0h1.6M168.0 56.0h1.6M337.6 56.0h1.6M112.0 57.6h1.6M344.0 57.6h1.6M396.8 57.6h1.6M422.4 57.6h1.6M460.8 57.6h1.6M97.6 59.2h1.6M113.6 59.2h3.2M121.6 59.2h1.6M129.6 59.2h1.6M417.6 59.2h1.6M94.4 60.8h1.6M123.2 60.8h3.2M142.4 60.8h1.6M155.2 60.8h1.6M163.2 60.8h1.6M452.8 60.8h1.6M516.8 60.8h1.6M102.4 62.4h1.6M110.4 62.4h1.6M120.0 62.4h1.6M128.0 62.4h1.6M449.6 62.4h1.6M456.0 62.4h1.6M104.0 64.0h1.6M107.2 64.0h1.6M115.2 64.0h1.6M136.0 64.0h1.6M304.0 64.0h1.6M417.6 64.0h1.6M129.6 65.6h1.6M139.2 65.6h1.6M400.0 65.6h1.6M123.2 67.2h1.6M126.4 67.2h1.6M152.0 67.2h1.6M116.8 68.8h1.6M131.2 68.8h1.6M156.8 68.8h1.6M129.6 70.4h3.2M140.8 70.4h1.6M150.4 70.4h1.6M454.4 70.4h1.6M112.0 72.0h3.2M131.2 72.0h1.6M158.4 72.0h1.6M459.2 72.0h1.6M467.2 72.0h1.6M110.4 73.6h1.6M120.0 73.6h3.2M110.4 75.2h1.6M118.4 75.2h3.2M123.2 75.2h3.2M128.0 76.8h1.6M132.8 76.8h1.6M457.6 76.8h1.6M476.8 76.8h1.6M126.4 78.4h1.6M129.6 78.4h1.6M115.2 80.0h1.6M110.4 83.2h1.6M454.4 83.2h1.6M468.8 86.4h1.6M441.6 89.6h1.6M172.8 91.2h1.6M128.0 94.4h1.6M292.8 94.4h1.6M323.2 94.4h1.6M444.8 94.4h1.6M131.2 96.0h1.6M281.6 96.0h1.6M289.6 96.0h1.6M411.2 96.0h1.6M462.4 96.0h1.6M464.0 97.6h1.6M142.4 99.2h1.6M304.0 99.2h1.6M312.0 99.2h1.6M465.6 102.4h1.6M310.4 105.6h1.6M307.2 107.2h1.6M348.8 108.8h1.6M172.8 112.0h1.6M350.4 113.6h1.6M366.4 113.6h1.6M339.2 115.2h1.6M283.2 116.8h1.6M348.8 116.8h1.6M299.2 118.4h1.6M339.2 118.4h1.6M176.0 120.0h1.6M324.8 120.0h1.6M339.2 120.0h1.6M342.4 120.0h1.6M454.4 120.0h1.6M352.0 121.6h1.6M353.6 123.2h1.6M350.4 124.8h1.6M483.2 126.4h1.6M475.2 128.0h1.6M475.2 129.6h1.6M328.0 131.2h1.6M476.8 131.2h1.6M347.2 134.4h1.6M350.4 134.4h1.6M228.8 136.0h1.6M344.0 136.0h1.6M459.2 136.0h1.6M345.6 137.6h1.6M187.2 139.2h1.6M345.6 139.2h1.6M176.0 140.8h1.6M187.2 140.8h1.6M163.2 142.4h1.6M340.8 142.4h1.6M348.8 142.4h1.6M480.0 142.4h1.6M488.0 142.4h1.6M203.2 145.6h1.6M344.0 145.6h3.2M352.0 145.6h1.6M315.2 147.2h1.6M348.8 147.2h1.6M206.4 150.4h1.6M320.0 150.4h1.6M353.6 150.4h1.6M505.6 150.4h1.6M518.4 150.4h1.6M225.6 152.0h1.6M499.2 152.0h1.6M225.6 155.2h1.6M321.6 155.2h1.6M505.6 156.8h1.6M214.4 158.4h1.6M328.0 158.4h1.6M499.2 158.4h1.6M524.8 160.0h1.6M486.4 161.6h1.6M496.0 161.6h1.6M512.0 161.6h1.6M526.4 161.6h1.6M488.0 163.2h3.2M497.6 163.2h1.6M512.0 163.2h1.6M179.2 164.8h1.6M488.0 164.8h1.6M491.2 164.8h1.6M494.4 164.8h1.6M504.0 164.8h1.6M513.6 164.8h3.2M488.0 166.4h1.6M513.6 166.4h1.6M200.0 168.0h1.6M316.8 168.0h1.6M360.0 168.0h1.6M492.8 168.0h1.6M524.8 168.0h1.6M318.4 169.6h1.6M364.8 169.6h1.6M478.4 169.6h1.6M488.0 169.6h1.6M505.6 169.6h1.6M510.4 169.6h1.6M515.2 169.6h1.6M520.0 169.6h1.6M185.6 171.2h1.6M196.8 171.2h1.6M201.6 172.8h1.6M344.0 172.8h1.6M496.0 172.8h1.6M502.4 172.8h1.6M531.2 172.8h1.6M536.0 172.8h1.6M201.6 174.4h1.6M504.0 174.4h1.6M200.0 176.0h1.6M494.4 176.0h1.6M499.2 176.0h1.6M502.4 176.0h1.6M507.2 176.0h1.6M516.8 176.0h3.2M531.2 176.0h1.6M184.0 177.6h1.6M323.2 177.6h1.6M494.4 177.6h1.6M497.6 177.6h3.2M520.0 177.6h3.2M187.2 179.2h1.6M494.4 179.2h1.6M508.8 179.2h3.2M513.6 179.2h1.6M531.2 179.2h1.6M185.6 180.8h1.6M321.6 180.8h1.6M502.4 180.8h1.6M508.8 180.8h1.6M526.4 180.8h3.2M508.8 182.4h1.6M528.0 182.4h1.6M480.0 184.0h1.6M484.8 184.0h1.6M491.2 184.0h1.6M510.4 184.0h1.6M529.6 184.0h1.6M534.4 184.0h3.2M192.0 185.6h1.6M195.2 185.6h1.6M481.6 185.6h1.6M521.6 185.6h1.6M524.8 185.6h1.6M534.4 185.6h1.6M326.4 187.2h1.6M481.6 187.2h3.2M515.2 187.2h1.6M195.2 188.8h1.6M476.8 188.8h1.6M510.4 188.8h1.6M526.4 190.4h1.6M512.0 192.0h1.6M531.2 192.0h1.6M184.0 193.6h1.6M182.4 206.4h1.6" stroke="#f5d4d4" stroke-width="1.6"/><path d="M46.4 1.6h1.6M96.0 1.6h1.6M323.2 1.6h1.6M446.4 3.2h1.6M28.8 4.8h1.6M48.0 6.4h1.6M324.8 6.4h1.6M328.0 6.4h1.6M433.6 6.4h1.6M36.8 8.0h1.6M99.2 8.0h1.6M323.2 8.0h1.6M428.8 8.0h1.6M452.8 8.0h1.6M36.8 9.6h1.6M320.0 9.6h1.6M403.2 9.6h1.6M33.6 11.2h1.6M92.8 11.2h1.6M368.0 11.2h1.6M446.4 11.2h1.6M25.6 12.8h1.6M30.4 12.8h1.6M33.6 12.8h1.6M56.0 12.8h1.6M62.4 12.8h1.6M401.6 12.8h1.6M454.4 12.8h3.2M62.4 14.4h1.6M336.0 14.4h3.2M350.4 14.4h1.6M361.6 14.4h1.6M412.8 14.4h1.6M456.0 14.4h1.6M28.8 16.0h1.6M32.0 16.0h3.2M44.8 16.0h1.6M52.8 16.0h1.6M89.6 16.0h1.6M299.2 16.0h1.6M337.6 16.0h1.6M374.4 16.0h1.6M398.4 16.0h1.6M408.0 16.0h1.6M422.4 16.0h1.6M451.2 16.0h1.6M480.0 16.0h1.6M555.2 16.0h1.6M22.4 17.6h1.6M48.0 17.6h1.6M332.8 17.6h1.6M339.2 17.6h1.6M345.6 17.6h1.6M364.8 17.6h1.6M409.6 17.6h1.6M419.2 17.6h1.6M438.4 17.6h1.6M136.0 19.2h1.6M139.2 19.2h1.6M164.8 19.2h1.6M283.2 19.2h1.6M329.6 19.2h1.6M340.8 19.2h1.6M358.4 19.2h1.6M377.6 19.2h3.2M436.8 19.2h3.2M451.2 19.2h1.6M459.2 19.2h1.6M100.8 20.8h1.6M104.0 20.8h1.6M139.2 20.8h1.6M164.8 20.8h1.6M308.8 20.8h1.6M337.6 20.8h1.6M353.6 20.8h1.6M393.6 20.8h1.6M412.8 20.8h1.6M454.4 20.8h1.6M462.4 20.8h1.6M496.0 20.8h1.6M112.0 22.4h1.6M139.2 22.4h1.6M312.0 22.4h1.6M340.8 22.4h1.6M350.4 22.4h1.6M363.2 22.4h1.6M411.2 22.4h1.6M494.4 22.4h1.6M102.4 24.0h1.6M307.2 24.0h1.6M313.6 24.0h3.2M326.4 24.0h1.6M331.2 24.0h1.6M337.6 24.0h3.2M348.8 24.0h1.6M374.4 24.0h1.6M384.0 24.0h1.6M390.4 24.0h1.6M400.0 24.0h1.6M420.8 24.0h1.6M476.8 24.0h1.6M486.4 24.0h1.6M94.4 25.6h1.6M126.4 25.6h1.6M329.6 25.6h1.6M392.0 25.6h1.6M395.2 25.6h1.6M398.4 25.6h1.6M401.6 25.6h1.6M116.8 27.2h1.6M155.2 27.2h1.6M171.2 27.2h1.6M304.0 27.2h1.6M331.2 27.2h1.6M404.8 27.2h1.6M441.6 27.2h1.6M478.4 27.2h1.6M116.8 28.8h1.6M121.6 28.8h1.6M280.0 28.8h1.6M284.8 28.8h1.6M318.4 28.8h1.6M337.6 28.8h1.6M353.6 28.8h1.6M380.8 28.8h1.6M385.6 28.8h1.6M390.4 28.8h3.2M420.8 28.8h1.6M424.0 28.8h1.6M470.4 28.8h1.6M484.8 28.8h1.6M116.8 30.4h1.6M153.6 30.4h1.6M280.0 30.4h1.6M283.2 30.4h1.6M305.6 30.4h1.6M388.8 30.4h1.6M422.4 30.4h1.6M443.2 30.4h1.6M102.4 32.0h1.6M128.0 32.0h1.6M136.0 32.0h1.6M147.2 32.0h1.6M188.8 32.0h1.6M288.0 32.0h1.6M304.0 32.0h1.6M308.8 32.0h1.6M316.8 32.0h1.6M328.0 32.0h1.6M344.0 32.0h1.6M350.4 32.0h1.6M382.4 32.0h1.6M393.6 32.0h1.6M417.6 32.0h1.6M89.6 33.6h1.6M112.0 33.6h1.6M148.8 33.6h1.6M158.4 33.6h1.6M187.2 33.6h1.6M318.4 33.6h1.6M355.2 33.6h1.6M438.4 33.6h1.6M86.4 35.2h1.6M150.4 35.2h1.6M200.0 35.2h1.6M310.4 35.2h1.6M326.4 35.2h1.6M340.8 35.2h1.6M358.4 35.2h1.6M371.2 35.2h1.6M132.8 36.8h3.2M145.6 36.8h1.6M156.8 36.8h1.6M179.2 36.8h1.6M198.4 36.8h1.6M304.0 36.8h1.6M308.8 36.8h1.6M328.0 36.8h1.6M334.4 36.8h1.6M352.0 36.8h1.6M360.0 36.8h1.6M390.4 36.8h1.6M409.6 36.8h1.6M441.6 36.8h1.6M99.2 38.4h1.6M137.6 38.4h1.6M150.4 38.4h1.6M182.4 38.4h1.6M198.4 38.4h1.6M315.2 38.4h1.6M324.8 38.4h1.6M401.6 38.4h1.6M486.4 38.4h1.6M112.0 40.0h1.6M136.0 40.0h1.6M179.2 40.0h1.6M182.4 40.0h1.6M310.4 40.0h1.6M313.6 40.0h1.6M387.2 40.0h1.6M484.8 40.0h1.6M192.0 41.6h1.6M315.2 41.6h3.2M344.0 41.6h1.6M435.2 41.6h1.6M97.6 43.2h3.2M113.6 43.2h3.2M118.4 43.2h1.6M142.4 43.2h1.6M179.2 43.2h1.6M299.2 43.2h1.6M329.6 43.2h1.6M336.0 43.2h1.6M345.6 43.2h1.6M406.4 43.2h1.6M144.0 44.8h3.2M177.6 44.8h3.2M312.0 44.8h1.6M356.8 44.8h1.6M96.0 46.4h1.6M100.8 46.4h1.6M107.2 46.4h1.6M115.2 46.4h1.6M126.4 46.4h1.6M134.4 46.4h1.6M353.6 46.4h1.6M356.8 46.4h1.6M392.0 46.4h1.6M473.6 46.4h1.6M121.6 48.0h1.6M128.0 48.0h1.6M276.8 48.0h1.6M296.0 48.0h1.6M332.8 48.0h1.6M124.8 49.6h1.6M129.6 49.6h1.6M142.4 49.6h1.6M164.8 49.6h4.8M312.0 49.6h1.6M377.6 49.6h1.6M521.6 49.6h1.6M102.4 51.2h1.6M105.6 51.2h1.6M139.2 51.2h1.6M145.6 51.2h1.6M160.0 51.2h1.6M321.6 51.2h1.6M336.0 51.2h1.6M345.6 51.2h1.6M379.2 51.2h1.6M100.8 52.8h1.6M120.0 52.8h4.8M126.4 52.8h1.6M137.6 52.8h1.6M283.2 52.8h1.6M336.0 52.8h4.8M348.8 52.8h1.6M352.0 52.8h1.6M408.0 52.8h1.6M113.6 54.4h1.6M139.2 54.4h1.6M142.4 54.4h1.6M152.0 54.4h1.6M156.8 54.4h1.6M169.6 54.4h1.6M304.0 54.4h1.6M336.0 54.4h1.6M368.0 54.4h1.6M449.6 54.4h1.6M116.8 56.0h1.6M132.8 56.0h1.6M142.4 56.0h1.6M153.6 56.0h1.6M281.6 56.0h1.6M286.4 56.0h1.6M326.4 56.0h1.6M334.4 56.0h1.6M364.8 56.0h1.6M368.0 56.0h1.6M126.4 57.6h1.6M132.8 57.6h1.6M160.0 57.6h1.6M276.8 57.6h4.8M288.0 57.6h1.6M312.0 57.6h4.8M328.0 57.6h1.6M339.2 57.6h3.2M361.6 57.6h1.6M382.4 57.6h1.6M406.4 57.6h1.6M446.4 57.6h1.6M137.6 59.2h1.6M152.0 59.2h1.6M280.0 59.2h1.6M300.8 59.2h1.6M305.6 59.2h1.6M339.2 59.2h1.6M364.8 59.2h1.6M377.6 59.2h1.6M398.4 59.2h1.6M412.8 59.2h1.6M451.2 59.2h1.6M102.4 60.8h1.6M129.6 60.8h3.2M137.6 60.8h1.6M140.8 60.8h1.6M158.4 60.8h1.6M168.0 60.8h1.6M302.4 60.8h1.6M337.6 60.8h1.6M379.2 60.8h1.6M104.0 62.4h3.2M132.8 62.4h1.6M160.0 62.4h1.6M164.8 62.4h3.2M379.2 62.4h3.2M139.2 64.0h1.6M147.2 64.0h1.6M158.4 64.0h1.6M361.6 64.0h1.6M379.2 64.0h1.6M112.0 65.6h1.6M152.0 65.6h1.6M155.2 65.6h1.6M350.4 65.6h1.6M353.6 65.6h1.6M358.4 65.6h1.6M361.6 65.6h1.6M464.0 65.6h1.6M121.6 67.2h1.6M134.4 67.2h1.6M142.4 67.2h1.6M147.2 67.2h1.6M160.0 67.2h1.6M280.0 67.2h1.6M356.8 67.2h1.6M456.0 67.2h1.6M113.6 68.8h3.2M140.8 68.8h1.6M158.4 68.8h1.6M286.4 68.8h1.6M348.8 68.8h1.6M142.4 70.4h3.2M156.8 70.4h1.6M364.8 70.4h1.6M464.0 70.4h3.2M104.0 72.0h1.6M116.8 72.0h1.6M120.0 72.0h1.6M126.4 72.0h1.6M144.0 72.0h1.6M369.6 72.0h1.6M406.4 72.0h1.6M451.2 72.0h1.6M124.8 73.6h1.6M396.8 73.6h1.6M452.8 73.6h1.6M113.6 75.2h3.2M281.6 75.2h3.2M448.0 75.2h1.6M444.8 76.8h1.6M464.0 76.8h1.6M116.8 78.4h1.6M464.0 78.4h1.6M121.6 80.0h1.6M396.8 80.0h1.6M464.0 80.0h1.6M478.4 80.0h1.6M116.8 81.6h1.6M340.8 81.6h1.6M449.6 81.6h3.2M456.0 83.2h1.6M472.0 83.2h1.6M480.0 83.2h1.6M340.8 84.8h1.6M308.8 86.4h1.6M444.8 86.4h1.6M302.4 88.0h1.6M316.8 88.0h1.6M323.2 88.0h1.6M424.0 88.0h1.6M312.0 89.6h1.6M446.4 89.6h1.6M441.6 91.2h1.6M336.0 92.8h1.6M419.2 92.8h1.6M272.0 94.4h1.6M328.0 94.4h1.6M345.6 94.4h1.6M414.4 94.4h1.6M267.2 96.0h1.6M337.6 96.0h1.6M132.8 97.6h1.6M419.2 97.6h1.6M147.2 99.2h1.6M288.0 99.2h3.2M299.2 100.8h1.6M304.0 100.8h1.6M281.6 102.4h1.6M300.8 102.4h1.6M326.4 102.4h1.6M283.2 104.0h1.6M302.4 104.0h1.6M348.8 104.0h1.6M281.6 105.6h1.6M296.0 105.6h3.2M358.4 105.6h3.2M412.8 105.6h1.6M460.8 105.6h1.6M273.6 107.2h1.6M348.8 107.2h1.6M347.2 108.8h1.6M350.4 108.8h1.6M449.6 108.8h1.6M340.8 110.4h1.6M348.8 110.4h1.6M352.0 120.0h1.6M326.4 121.6h1.6M337.6 121.6h1.6M350.4 121.6h1.6M321.6 123.2h1.6M347.2 123.2h1.6M320.0 124.8h1.6M465.6 128.0h1.6M332.8 129.6h1.6M473.6 131.2h1.6M520.0 134.4h1.6M174.4 136.0h1.6M227.2 144.0h1.6M328.0 147.2h1.6M505.6 152.0h1.6M195.2 153.6h1.6M499.2 155.2h1.6M324.8 158.4h1.6M222.4 160.0h1.6M345.6 160.0h1.6M364.8 160.0h1.6M337.6 161.6h1.6M324.8 163.2h1.6M528.0 163.2h1.6M480.0 164.8h1.6M524.8 164.8h1.6M483.2 166.4h1.6M497.6 166.4h1.6M512.0 166.4h1.6M480.0 168.0h1.6M484.8 168.0h1.6M315.2 169.6h1.6M337.6 169.6h1.6M484.8 169.6h1.6M513.6 169.6h1.6M320.0 171.2h1.6M491.2 171.2h1.6M318.4 172.8h1.6M480.0 172.8h1.6M489.6 172.8h1.6M480.0 174.4h1.6M532.8 174.4h1.6M320.0 176.0h1.6M483.2 176.0h1.6M515.2 176.0h1.6M203.2 177.6h1.6M518.4 177.6h1.6M184.0 179.2h1.6M193.6 179.2h1.6M480.0 179.2h1.6M507.2 179.2h1.6M475.2 180.8h1.6M513.6 180.8h1.6M204.8 182.4h1.6M201.6 184.0h1.6M536.0 185.6h1.6M484.8 187.2h1.6M188.8 192.0h3.2M188.8 195.2h1.6M177.6 206.4h1.6" stroke="#d6d6f7" stroke-width="1.6"/><path d="M32.0 0.0h1.6M420.8 0.0h1.6M326.4 1.6h1.6M435.2 1.6h1.6M467.2 1.6h1.6M329.6 3.2h1.6M465.6 3.2h1.6M49.6 4.8h1.6M75.2 4.8h1.6M324.8 4.8h1.6M427.2 4.8h1.6M416.0 6.4h1.6M576.0 6.4h1.6M342.4 8.0h1.6M356.8 8.0h1.6M456.0 8.0h1.6M380.8 9.6h1.6M451.2 9.6h1.6M454.4 9.6h1.6M84.8 11.2h1.6M446.4 12.8h1.6M83.2 14.4h1.6M297.6 14.4h1.6M313.6 14.4h1.6M324.8 14.4h1.6M376.0 14.4h1.6M51.2 16.0h1.6M78.4 16.0h1.6M86.4 16.0h1.6M412.8 16.0h1.6M81.6 17.6h1.6M86.4 17.6h1.6M100.8 17.6h1.6M105.6 17.6h1.6M398.4 17.6h1.6M412.8 17.6h1.6M422.4 17.6h1.6M120.0 19.2h1.6M168.0 19.2h1.6M171.2 19.2h1.6M308.8 19.2h1.6M337.6 19.2h1.6M408.0 19.2h1.6M80.0 20.8h1.6M120.0 20.8h1.6M136.0 20.8h3.2M140.8 20.8h1.6M176.0 20.8h3.2M281.6 20.8h1.6M348.8 20.8h1.6M364.8 20.8h1.6M84.8 22.4h1.6M105.6 22.4h1.6M176.0 22.4h3.2M348.8 22.4h1.6M414.4 22.4h1.6M462.4 22.4h1.6M467.2 22.4h1.6M96.0 24.0h3.2M356.8 24.0h3.2M363.2 24.0h1.6M417.6 24.0h1.6M443.2 24.0h1.6M451.2 24.0h1.6M460.8 24.0h3.2M475.2 24.0h1.6M100.8 25.6h1.6M145.6 25.6h1.6M281.6 25.6h1.6M307.2 25.6h1.6M416.0 25.6h1.6M102.4 27.2h1.6M121.6 27.2h1.6M131.2 27.2h1.6M310.4 27.2h1.6M364.8 27.2h1.6M92.8 28.8h1.6M305.6 28.8h1.6M113.6 30.4h1.6M140.8 30.4h1.6M288.0 30.4h1.6M307.2 30.4h1.6M163.2 32.0h1.6M168.0 32.0h3.2M174.4 32.0h1.6M190.4 32.0h1.6M275.2 32.0h4.8M283.2 32.0h1.6M342.4 32.0h1.6M347.2 32.0h1.6M408.0 32.0h1.6M435.2 32.0h1.6M136.0 33.6h1.6M296.0 33.6h1.6M305.6 33.6h1.6M406.4 33.6h1.6M433.6 33.6h1.6M457.6 33.6h1.6M89.6 35.2h1.6M126.4 35.2h1.6M147.2 35.2h1.6M299.2 35.2h1.6M433.6 35.2h1.6M136.0 36.8h1.6M163.2 36.8h1.6M168.0 36.8h3.2M297.6 36.8h1.6M316.8 36.8h1.6M342.4 36.8h1.6M368.0 36.8h1.6M136.0 38.4h1.6M145.6 38.4h1.6M169.6 38.4h1.6M326.4 38.4h1.6M388.8 38.4h1.6M124.8 40.0h1.6M129.6 40.0h1.6M137.6 40.0h1.6M155.2 40.0h1.6M171.2 40.0h1.6M177.6 40.0h1.6M200.0 40.0h1.6M296.0 40.0h1.6M300.8 40.0h1.6M315.2 40.0h1.6M339.2 40.0h1.6M342.4 40.0h1.6M348.8 40.0h1.6M353.6 40.0h1.6M412.8 40.0h1.6M417.6 40.0h1.6M131.2 41.6h1.6M136.0 41.6h1.6M163.2 41.6h1.6M171.2 41.6h1.6M313.6 41.6h1.6M94.4 43.2h1.6M120.0 43.2h1.6M132.8 43.2h1.6M144.0 43.2h3.2M168.0 43.2h1.6M172.8 43.2h1.6M176.0 43.2h1.6M321.6 43.2h1.6M102.4 44.8h1.6M163.2 44.8h1.6M166.4 44.8h1.6M289.6 44.8h1.6M302.4 44.8h1.6M307.2 44.8h1.6M318.4 44.8h1.6M344.0 44.8h1.6M91.2 46.4h1.6M116.8 46.4h1.6M168.0 46.4h1.6M288.0 46.4h1.6M296.0 46.4h1.6M300.8 46.4h1.6M308.8 46.4h1.6M395.2 46.4h1.6M107.2 48.0h1.6M110.4 48.0h1.6M144.0 48.0h1.6M155.2 48.0h1.6M283.2 48.0h1.6M396.8 48.0h1.6M89.6 49.6h3.2M145.6 49.6h1.6M153.6 49.6h1.6M156.8 49.6h1.6M161.6 49.6h1.6M171.2 49.6h1.6M283.2 49.6h1.6M307.2 49.6h1.6M488.0 49.6h1.6M89.6 51.2h1.6M96.0 51.2h1.6M108.8 51.2h1.6M128.0 51.2h1.6M137.6 51.2h1.6M140.8 51.2h3.2M152.0 51.2h1.6M158.4 51.2h1.6M172.8 51.2h1.6M276.8 51.2h1.6M284.8 51.2h1.6M326.4 51.2h1.6M334.4 51.2h1.6M91.2 52.8h1.6M129.6 52.8h1.6M132.8 52.8h1.6M281.6 52.8h1.6M100.8 54.4h4.8M108.8 54.4h3.2M121.6 56.0h1.6M140.8 56.0h1.6M145.6 56.0h1.6M152.0 56.0h1.6M166.4 56.0h1.6M94.4 57.6h1.6M99.2 57.6h1.6M110.4 57.6h1.6M124.8 57.6h1.6M408.0 57.6h1.6M105.6 59.2h1.6M108.8 59.2h1.6M150.4 59.2h1.6M164.8 59.2h1.6M392.0 59.2h1.6M409.6 59.2h1.6M108.8 60.8h1.6M161.6 60.8h1.6M297.6 60.8h1.6M456.0 60.8h1.6M459.2 60.8h1.6M99.2 62.4h3.2M115.2 62.4h1.6M168.0 62.4h1.6M361.6 62.4h1.6M121.6 64.0h6.4M145.6 64.0h1.6M155.2 64.0h1.6M104.0 65.6h1.6M107.2 65.6h1.6M118.4 65.6h1.6M452.8 65.6h1.6M137.6 67.2h1.6M140.8 67.2h1.6M153.6 67.2h1.6M158.4 67.2h1.6M132.8 68.8h1.6M284.8 68.8h1.6M112.0 70.4h1.6M132.8 70.4h1.6M152.0 70.4h1.6M403.2 70.4h1.6M132.8 72.0h1.6M140.8 72.0h1.6M152.0 72.0h1.6M390.4 72.0h1.6M108.8 73.6h1.6M115.2 73.6h1.6M123.2 73.6h1.6M134.4 73.6h3.2M465.6 73.6h1.6M121.6 75.2h1.6M105.6 76.8h3.2M430.4 76.8h1.6M454.4 76.8h1.6M457.6 78.4h1.6M118.4 80.0h1.6M129.6 80.0h1.6M388.8 80.0h1.6M454.4 80.0h1.6M459.2 80.0h1.6M132.8 94.4h1.6M147.2 94.4h1.6M136.0 96.0h1.6M148.8 97.6h1.6M315.2 97.6h1.6M326.4 97.6h1.6M414.4 97.6h1.6M326.4 99.2h1.6M464.0 99.2h1.6M272.0 100.8h1.6M315.2 100.8h1.6M172.8 105.6h1.6M273.6 105.6h1.6M307.2 105.6h1.6M304.0 108.8h1.6M339.2 108.8h1.6M345.6 110.4h1.6M340.8 112.0h1.6M339.2 113.6h1.6M348.8 113.6h1.6M352.0 116.8h1.6M340.8 120.0h1.6M344.0 120.0h1.6M344.0 121.6h1.6M192.0 123.2h1.6M339.2 131.2h1.6M340.8 132.8h1.6M347.2 132.8h1.6M345.6 134.4h1.6M188.8 137.6h1.6M188.8 139.2h1.6M345.6 140.8h1.6M520.0 142.4h1.6M201.6 144.0h3.2M492.8 144.0h1.6M520.0 150.4h1.6M521.6 152.0h1.6M321.6 153.6h1.6M494.4 153.6h1.6M336.0 158.4h1.6M486.4 158.4h1.6M520.0 158.4h1.6M217.6 160.0h1.6M492.8 160.0h1.6M512.0 160.0h1.6M523.2 160.0h1.6M219.2 161.6h1.6M491.2 163.2h1.6M513.6 163.2h1.6M489.6 164.8h1.6M497.6 164.8h1.6M491.2 166.4h1.6M499.2 166.4h1.6M177.6 168.0h1.6M520.0 168.0h1.6M192.0 171.2h1.6M203.2 171.2h3.2M324.8 171.2h1.6M332.8 171.2h1.6M504.0 171.2h1.6M507.2 171.2h1.6M531.2 171.2h1.6M504.0 172.8h1.6M203.2 174.4h1.6M497.6 174.4h1.6M529.6 174.4h1.6M507.2 177.6h1.6M512.0 177.6h1.6M534.4 177.6h1.6M200.0 179.2h1.6M529.6 179.2h1.6M204.8 180.8h1.6M492.8 180.8h1.6M507.2 180.8h1.6M520.0 180.8h1.6M531.2 180.8h1.6M476.8 182.4h1.6M500.8 182.4h1.6M507.2 182.4h1.6M193.6 187.2h1.6M516.8 187.2h1.6M532.8 187.2h1.6M515.2 188.8h1.6M184.0 192.0h1.6M526.4 192.0h1.6M524.8 193.6h1.6M531.2 193.6h1.6M174.4 208.0h1.6M177.6 217.6h1.6M169.6 219.2h1.6" stroke="#ecbcbc" stroke-width="1.6"/><path d="M30.4 0.0h1.6M35.2 0.0h1.6M28.8 1.6h1.6M51.2 1.6h1.6M59.2 1.6h1.6M424.0 1.6h1.6M46.4 3.2h1.6M49.6 3.2h1.6M444.8 3.2h1.6M43.2 4.8h1.6M433.6 4.8h1.6M27.2 6.4h3.2M316.8 6.4h1.6M385.6 6.4h1.6M432.0 6.4h1.6M532.8 6.4h1.6M62.4 8.0h1.6M313.6 8.0h1.6M395.2 9.6h1.6M38.4 11.2h1.6M364.8 11.2h1.6M470.4 11.2h1.6M488.0 11.2h1.6M36.8 12.8h1.6M46.4 12.8h1.6M52.8 12.8h1.6M312.0 12.8h1.6M360.0 12.8h1.6M417.6 12.8h1.6M448.0 12.8h1.6M30.4 14.4h1.6M33.6 14.4h1.6M56.0 14.4h1.6M353.6 14.4h1.6M356.8 14.4h1.6M409.6 14.4h1.6M417.6 14.4h1.6M422.4 14.4h1.6M448.0 14.4h1.6M478.4 14.4h1.6M27.2 16.0h1.6M40.0 16.0h1.6M379.2 16.0h1.6M459.2 16.0h1.6M64.0 17.6h1.6M91.2 17.6h1.6M99.2 17.6h1.6M38.4 19.2h1.6M67.2 19.2h1.6M76.8 19.2h1.6M182.4 19.2h1.6M300.8 19.2h1.6M312.0 19.2h1.6M334.4 19.2h1.6M339.2 19.2h1.6M345.6 19.2h1.6M460.8 19.2h1.6M97.6 20.8h1.6M336.0 20.8h1.6M427.2 20.8h1.6M438.4 20.8h1.6M457.6 20.8h1.6M137.6 22.4h1.6M281.6 22.4h1.6M334.4 22.4h1.6M352.0 22.4h1.6M403.2 22.4h1.6M409.6 22.4h1.6M488.0 22.4h1.6M144.0 24.0h1.6M174.4 24.0h1.6M305.6 24.0h1.6M312.0 24.0h1.6M353.6 24.0h1.6M396.8 24.0h1.6M411.2 24.0h1.6M416.0 24.0h1.6M425.6 24.0h1.6M502.4 24.0h1.6M132.8 25.6h1.6M331.2 25.6h1.6M340.8 25.6h1.6M372.8 25.6h1.6M414.4 25.6h1.6M425.6 25.6h1.6M443.2 25.6h1.6M81.6 27.2h1.6M148.8 27.2h1.6M152.0 27.2h1.6M163.2 27.2h1.6M278.4 27.2h1.6M340.8 27.2h3.2M355.2 27.2h1.6M360.0 27.2h1.6M371.2 27.2h1.6M451.2 27.2h1.6M81.6 28.8h1.6M97.6 28.8h1.6M132.8 28.8h1.6M150.4 28.8h1.6M179.2 28.8h1.6M308.8 28.8h1.6M324.8 28.8h1.6M352.0 28.8h1.6M393.6 28.8h1.6M422.4 28.8h1.6M468.8 28.8h1.6M155.2 30.4h1.6M284.8 30.4h1.6M291.2 30.4h1.6M299.2 30.4h1.6M318.4 30.4h1.6M323.2 30.4h1.6M369.6 30.4h1.6M112.0 32.0h1.6M116.8 32.0h1.6M121.6 32.0h1.6M184.0 32.0h1.6M299.2 32.0h1.6M302.4 32.0h1.6M329.6 32.0h1.6M339.2 32.0h1.6M348.8 32.0h1.6M395.2 32.0h1.6M422.4 32.0h1.6M100.8 33.6h1.6M107.2 33.6h1.6M153.6 33.6h1.6M160.0 33.6h1.6M164.8 33.6h1.6M291.2 33.6h1.6M294.4 33.6h1.6M344.0 33.6h1.6M352.0 33.6h1.6M379.2 33.6h1.6M395.2 33.6h1.6M84.8 35.2h1.6M102.4 35.2h1.6M158.4 35.2h1.6M300.8 35.2h1.6M304.0 35.2h1.6M345.6 35.2h1.6M363.2 35.2h1.6M454.4 35.2h1.6M126.4 36.8h1.6M305.6 36.8h1.6M323.2 36.8h1.6M339.2 36.8h1.6M356.8 36.8h1.6M361.6 36.8h1.6M382.4 36.8h1.6M416.0 36.8h1.6M89.6 38.4h1.6M92.8 38.4h1.6M97.6 38.4h1.6M176.0 38.4h1.6M310.4 38.4h1.6M334.4 38.4h1.6M355.2 38.4h1.6M489.6 38.4h1.6M108.8 40.0h1.6M134.4 40.0h1.6M172.8 40.0h1.6M324.8 40.0h1.6M332.8 40.0h1.6M340.8 40.0h1.6M435.2 40.0h1.6M92.8 41.6h1.6M180.8 41.6h1.6M337.6 41.6h1.6M355.2 41.6h3.2M363.2 41.6h1.6M110.4 43.2h1.6M180.8 43.2h1.6M297.6 43.2h1.6M315.2 43.2h1.6M328.0 43.2h1.6M377.6 43.2h1.6M478.4 43.2h1.6M112.0 44.8h1.6M134.4 44.8h1.6M180.8 44.8h1.6M123.2 46.4h1.6M316.8 46.4h1.6M105.6 48.0h1.6M139.2 48.0h1.6M169.6 48.0h1.6M174.4 48.0h1.6M331.2 48.0h1.6M97.6 49.6h1.6M118.4 49.6h1.6M128.0 49.6h1.6M147.2 49.6h1.6M163.2 49.6h1.6M276.8 49.6h4.8M304.0 49.6h1.6M104.0 51.2h1.6M163.2 51.2h1.6M275.2 51.2h1.6M118.4 52.8h1.6M134.4 52.8h1.6M289.6 52.8h1.6M347.2 52.8h1.6M353.6 52.8h1.6M120.0 54.4h3.2M144.0 54.4h1.6M276.8 54.4h1.6M324.8 54.4h1.6M334.4 54.4h1.6M342.4 54.4h1.6M355.2 54.4h1.6M363.2 54.4h1.6M408.0 54.4h1.6M470.4 54.4h1.6M108.8 56.0h1.6M118.4 56.0h1.6M124.8 56.0h1.6M161.6 56.0h3.2M278.4 56.0h3.2M289.6 56.0h1.6M342.4 56.0h1.6M355.2 56.0h1.6M468.8 56.0h1.6M120.0 57.6h1.6M153.6 57.6h1.6M283.2 57.6h1.6M286.4 57.6h1.6M334.4 57.6h1.6M345.6 57.6h1.6M352.0 57.6h1.6M401.6 57.6h1.6M459.2 57.6h1.6M96.0 59.2h1.6M99.2 59.2h1.6M155.2 59.2h1.6M286.4 59.2h1.6M304.0 59.2h1.6M336.0 59.2h1.6M344.0 59.2h1.6M369.6 59.2h1.6M379.2 59.2h1.6M156.8 60.8h1.6M326.4 60.8h1.6M352.0 60.8h1.6M361.6 60.8h1.6M126.4 62.4h1.6M129.6 62.4h1.6M148.8 62.4h1.6M156.8 62.4h1.6M105.6 64.0h1.6M129.6 64.0h1.6M296.0 64.0h1.6M403.2 64.0h1.6M108.8 65.6h1.6M116.8 65.6h1.6M150.4 65.6h1.6M368.0 65.6h1.6M144.0 67.2h1.6M155.2 67.2h1.6M348.8 67.2h1.6M462.4 67.2h1.6M475.2 67.2h1.6M121.6 68.8h1.6M128.0 68.8h1.6M147.2 68.8h1.6M462.4 68.8h1.6M467.2 68.8h1.6M147.2 70.4h1.6M369.6 70.4h1.6M457.6 70.4h3.2M118.4 72.0h1.6M400.0 72.0h1.6M462.4 72.0h1.6M144.0 73.6h1.6M155.2 73.6h1.6M160.0 73.6h1.6M347.2 73.6h1.6M116.8 75.2h1.6M284.8 75.2h1.6M304.0 75.2h1.6M451.2 75.2h1.6M465.6 75.2h1.6M115.2 76.8h1.6M460.8 76.8h1.6M409.6 80.0h1.6M440.0 80.0h3.2M451.2 80.0h1.6M476.8 80.0h1.6M480.0 80.0h1.6M441.6 81.6h3.2M475.2 81.6h1.6M478.4 81.6h3.2M320.0 83.2h1.6M328.0 83.2h1.6M443.2 83.2h1.6M112.0 84.8h1.6M304.0 86.4h1.6M307.2 86.4h1.6M336.0 86.4h3.2M344.0 86.4h1.6M334.4 88.0h3.2M324.8 89.6h1.6M340.8 92.8h1.6M288.0 94.4h1.6M310.4 94.4h1.6M331.2 94.4h1.6M265.6 96.0h1.6M276.8 96.0h1.6M276.8 97.6h1.6M296.0 99.2h1.6M345.6 99.2h1.6M288.0 100.8h1.6M294.4 100.8h1.6M308.8 100.8h1.6M451.2 100.8h1.6M272.0 104.0h3.2M284.8 104.0h1.6M288.0 104.0h1.6M300.8 104.0h1.6M344.0 104.0h3.2M264.0 105.6h1.6M283.2 105.6h1.6M288.0 105.6h1.6M288.0 107.2h1.6M358.4 107.2h1.6M307.2 108.8h1.6M321.6 108.8h1.6M168.0 110.4h1.6M310.4 110.4h1.6M169.6 113.6h1.6M174.4 113.6h1.6M196.8 115.2h1.6M283.2 115.2h1.6M336.0 116.8h1.6M355.2 120.0h1.6M163.2 121.6h1.6M204.8 129.6h1.6M176.0 139.2h1.6M472.0 140.8h1.6M163.2 144.0h1.6M345.6 144.0h1.6M174.4 145.6h1.6M206.4 145.6h1.6M201.6 147.2h1.6M507.2 150.4h1.6M320.0 152.0h1.6M176.0 155.2h1.6M518.4 155.2h1.6M496.0 156.8h1.6M176.0 158.4h1.6M198.4 158.4h1.6M344.0 158.4h1.6M518.4 158.4h1.6M499.2 160.0h1.6M486.4 163.2h1.6M478.4 164.8h1.6M483.2 164.8h1.6M185.6 166.4h1.6M478.4 166.4h3.2M507.2 166.4h1.6M518.4 166.4h1.6M523.2 166.4h1.6M515.2 168.0h3.2M179.2 169.6h1.6M192.0 169.6h1.6M480.0 169.6h1.6M483.2 169.6h1.6M326.4 171.2h1.6M488.0 171.2h1.6M494.4 171.2h1.6M316.8 172.8h1.6M339.2 172.8h1.6M324.8 174.4h1.6M475.2 174.4h1.6M483.2 174.4h1.6M184.0 176.0h1.6M480.0 176.0h1.6M179.2 177.6h1.6M187.2 177.6h1.6M484.8 177.6h1.6M478.4 179.2h1.6M188.8 180.8h1.6M523.2 185.6h1.6M180.8 188.8h1.6M515.2 192.0h1.6M518.4 192.0h1.6M187.2 195.2h1.6" stroke="#bebef0" stroke-width="1.6"/><path d="M59.2 3.2h1.6M387.2 3.2h1.6M321.6 4.8h1.6M326.4 4.8h1.6M84.8 9.6h1.6M369.6 9.6h1.6M83.2 11.2h1.6M81.6 12.8h1.6M86.4 12.8h1.6M316.8 12.8h1.6M483.2 12.8h1.6M24.0 14.4h3.2M78.4 14.4h1.6M332.8 14.4h1.6M312.0 16.0h1.6M356.8 16.0h1.6M468.8 16.0h1.6M76.8 17.6h4.8M131.2 17.6h1.6M134.4 17.6h1.6M361.6 17.6h1.6M81.6 20.8h1.6M86.4 20.8h1.6M110.4 20.8h1.6M332.8 20.8h1.6M350.4 20.8h1.6M136.0 22.4h1.6M344.0 22.4h1.6M361.6 22.4h1.6M440.0 22.4h1.6M448.0 22.4h1.6M36.8 24.0h1.6M168.0 24.0h1.6M395.2 24.0h1.6M81.6 25.6h1.6M128.0 25.6h1.6M169.6 25.6h1.6M286.4 25.6h1.6M356.8 25.6h1.6M364.8 25.6h1.6M376.0 25.6h1.6M427.2 25.6h3.2M150.4 27.2h1.6M276.8 27.2h1.6M283.2 27.2h1.6M347.2 27.2h1.6M166.4 28.8h1.6M187.2 28.8h1.6M345.6 28.8h1.6M443.2 28.8h1.6M102.4 30.4h1.6M142.4 30.4h1.6M276.8 30.4h3.2M337.6 32.0h1.6M392.0 32.0h1.6M448.0 32.0h1.6M86.4 33.6h1.6M331.2 33.6h1.6M347.2 33.6h1.6M401.6 33.6h1.6M116.8 35.2h1.6M187.2 35.2h1.6M438.4 35.2h1.6M86.4 36.8h1.6M292.8 36.8h1.6M320.0 36.8h1.6M379.2 36.8h1.6M411.2 36.8h1.6M436.8 36.8h1.6M113.6 38.4h1.6M142.4 38.4h1.6M340.8 38.4h1.6M347.2 38.4h1.6M107.2 40.0h1.6M116.8 40.0h1.6M123.2 40.0h1.6M142.4 40.0h1.6M160.0 40.0h3.2M198.4 40.0h1.6M116.8 41.6h1.6M153.6 41.6h3.2M166.4 41.6h3.2M318.4 41.6h3.2M324.8 41.6h1.6M89.6 43.2h1.6M108.8 44.8h1.6M121.6 46.4h1.6M144.0 46.4h1.6M160.0 46.4h1.6M305.6 46.4h1.6M318.4 46.4h1.6M120.0 48.0h1.6M160.0 48.0h1.6M168.0 48.0h1.6M291.2 48.0h1.6M376.0 48.0h1.6M100.8 49.6h1.6M136.0 49.6h1.6M286.4 49.6h1.6M308.8 49.6h3.2M433.6 49.6h1.6M97.6 51.2h1.6M113.6 51.2h1.6M283.2 51.2h1.6M312.0 51.2h1.6M449.6 51.2h1.6M115.2 52.8h1.6M284.8 52.8h1.6M318.4 52.8h1.6M91.2 54.4h1.6M99.2 54.4h1.6M116.8 54.4h1.6M316.8 56.0h1.6M340.8 56.0h1.6M412.8 56.0h1.6M152.0 57.6h1.6M158.4 57.6h1.6M388.8 57.6h3.2M100.8 59.2h1.6M110.4 59.2h1.6M340.8 59.2h1.6M408.0 59.2h1.6M112.0 60.8h1.6M132.8 60.8h1.6M342.4 60.8h1.6M113.6 62.4h1.6M131.2 62.4h1.6M139.2 62.4h1.6M96.0 64.0h1.6M137.6 64.0h1.6M148.8 64.0h1.6M132.8 65.6h1.6M102.4 67.2h1.6M139.2 67.2h1.6M129.6 68.8h1.6M134.4 68.8h1.6M150.4 68.8h1.6M446.4 68.8h1.6M483.2 68.8h1.6M108.8 70.4h3.2M158.4 70.4h1.6M126.4 75.2h1.6M129.6 76.8h1.6M475.2 84.8h1.6M444.8 91.2h1.6M448.0 92.8h1.6M131.2 94.4h1.6M337.6 94.4h1.6M411.2 94.4h1.6M264.0 96.0h1.6M353.6 108.8h1.6M356.8 108.8h1.6M278.4 110.4h1.6M289.6 112.0h1.6M348.8 112.0h1.6M340.8 113.6h1.6M340.8 115.2h1.6M182.4 120.0h1.6M347.2 121.6h1.6M339.2 123.2h1.6M468.8 129.6h1.6M339.2 137.6h1.6M188.8 140.8h1.6M206.4 144.0h1.6M342.4 144.0h1.6M352.0 147.2h3.2M502.4 148.8h1.6M336.0 155.2h1.6M521.6 155.2h3.2M513.6 161.6h1.6M526.4 163.2h1.6M203.2 164.8h1.6M529.6 164.8h1.6M182.4 166.4h1.6M200.0 166.4h1.6M494.4 166.4h1.6M201.6 168.0h1.6M204.8 168.0h1.6M488.0 168.0h1.6M504.0 168.0h1.6M193.6 169.6h1.6M204.8 169.6h1.6M504.0 169.6h1.6M200.0 174.4h1.6M502.4 174.4h1.6M196.8 176.0h1.6M321.6 177.6h1.6M510.4 177.6h1.6M516.8 177.6h1.6M512.0 179.2h1.6M515.2 180.8h1.6M192.0 182.4h1.6M505.6 182.4h1.6M512.0 182.4h1.6M528.0 184.0h1.6M505.6 185.6h1.6M486.4 187.2h1.6M531.2 187.2h1.6M516.8 188.8h1.6M521.6 188.8h1.6M532.8 188.8h1.6M512.0 190.4h3.2M523.2 190.4h1.6M187.2 192.0h1.6M516.8 193.6h1.6M529.6 193.6h1.6M184.0 195.2h1.6M523.2 195.2h1.6M529.6 195.2h1.6" stroke="#d28c8c" stroke-width="1.6"/><path d="M59.2 0.0h1.6M92.8 0.0h1.6M446.4 0.0h1.6M28.8 3.2h1.6M44.8 3.2h1.6M52.8 3.2h1.6M40.0 4.8h1.6M318.4 4.8h1.6M323.2 4.8h1.6M38.4 6.4h1.6M380.8 6.4h1.6M27.2 8.0h1.6M43.2 8.0h1.6M46.4 8.0h1.6M43.2 9.6h1.6M313.6 9.6h1.6M329.6 9.6h1.6M456.0 9.6h1.6M28.8 11.2h1.6M339.2 11.2h1.6M456.0 11.2h1.6M41.6 12.8h1.6M44.8 12.8h1.6M340.8 12.8h1.6M460.8 12.8h1.6M40.0 14.4h1.6M54.4 14.4h1.6M59.2 14.4h3.2M305.6 14.4h1.6M348.8 14.4h1.6M372.8 14.4h1.6M390.4 14.4h1.6M420.8 14.4h1.6M440.0 14.4h1.6M54.4 16.0h1.6M344.0 16.0h1.6M369.6 16.0h1.6M401.6 16.0h1.6M409.6 16.0h1.6M452.8 16.0h1.6M25.6 17.6h3.2M307.2 17.6h1.6M340.8 17.6h1.6M380.8 17.6h1.6M452.8 17.6h1.6M102.4 19.2h1.6M118.4 19.2h1.6M352.0 19.2h4.8M129.6 20.8h1.6M174.4 20.8h1.6M334.4 20.8h1.6M411.2 20.8h1.6M339.2 22.4h1.6M382.4 22.4h1.6M401.6 22.4h1.6M420.8 22.4h1.6M476.8 22.4h1.6M81.6 24.0h1.6M89.6 24.0h1.6M108.8 24.0h1.6M169.6 24.0h1.6M361.6 24.0h1.6M379.2 24.0h1.6M401.6 24.0h1.6M409.6 24.0h1.6M422.4 24.0h1.6M430.4 24.0h1.6M129.6 25.6h1.6M324.8 25.6h1.6M344.0 25.6h1.6M379.2 25.6h1.6M403.2 25.6h1.6M484.8 25.6h1.6M280.0 27.2h1.6M337.6 27.2h1.6M422.4 27.2h1.6M286.4 28.8h1.6M315.2 28.8h1.6M320.0 28.8h1.6M331.2 28.8h1.6M428.8 28.8h1.6M462.4 28.8h1.6M467.2 28.8h1.6M184.0 30.4h1.6M316.8 30.4h1.6M320.0 30.4h1.6M328.0 30.4h1.6M350.4 30.4h3.2M393.6 30.4h1.6M398.4 30.4h1.6M472.0 30.4h1.6M176.0 32.0h1.6M185.6 32.0h1.6M198.4 32.0h3.2M307.2 32.0h1.6M91.2 33.6h1.6M161.6 33.6h1.6M345.6 33.6h1.6M430.4 33.6h1.6M136.0 35.2h1.6M140.8 35.2h1.6M176.0 35.2h1.6M347.2 35.2h1.6M379.2 35.2h1.6M476.8 35.2h1.6M128.0 36.8h1.6M355.2 36.8h1.6M102.4 38.4h1.6M134.4 38.4h1.6M305.6 38.4h1.6M115.2 40.0h1.6M128.0 40.0h1.6M144.0 40.0h1.6M132.8 41.6h1.6M107.2 43.2h1.6M288.0 43.2h1.6M164.8 44.8h1.6M313.6 44.8h1.6M334.4 44.8h1.6M350.4 44.8h1.6M361.6 44.8h1.6M132.8 46.4h1.6M137.6 46.4h1.6M289.6 46.4h1.6M326.4 46.4h1.6M112.0 48.0h1.6M176.0 48.0h1.6M310.4 48.0h1.6M403.2 48.0h1.6M486.4 48.0h1.6M120.0 49.6h1.6M94.4 51.2h1.6M164.8 51.2h3.2M446.4 51.2h1.6M110.4 52.8h1.6M131.2 52.8h1.6M153.6 52.8h1.6M161.6 52.8h1.6M276.8 52.8h1.6M288.0 52.8h1.6M313.6 52.8h1.6M92.8 54.4h1.6M131.2 54.4h3.2M150.4 54.4h1.6M339.2 54.4h1.6M356.8 54.4h1.6M136.0 56.0h1.6M148.8 56.0h1.6M288.0 56.0h1.6M323.2 56.0h1.6M446.4 56.0h1.6M120.0 59.2h1.6M284.8 59.2h1.6M414.4 59.2h1.6M107.2 60.8h1.6M166.4 60.8h1.6M448.0 60.8h1.6M166.4 64.0h1.6M113.6 65.6h1.6M131.2 65.6h1.6M134.4 65.6h3.2M160.0 65.6h1.6M116.8 67.2h1.6M131.2 67.2h1.6M355.2 67.2h1.6M358.4 67.2h3.2M464.0 67.2h1.6M142.4 68.8h1.6M352.0 68.8h3.2M380.8 70.4h1.6M404.8 70.4h1.6M283.2 72.0h1.6M291.2 72.0h1.6M403.2 72.0h3.2M408.0 72.0h1.6M126.4 73.6h1.6M280.0 73.6h1.6M459.2 73.6h1.6M105.6 75.2h1.6M129.6 75.2h1.6M446.4 76.8h1.6M115.2 78.4h1.6M478.4 78.4h1.6M406.4 80.0h1.6M444.8 80.0h1.6M452.8 80.0h1.6M123.2 81.6h1.6M342.4 81.6h1.6M416.0 81.6h3.2M460.8 81.6h1.6M470.4 81.6h1.6M336.0 83.2h1.6M475.2 83.2h1.6M470.4 84.8h1.6M476.8 84.8h1.6M443.2 86.4h1.6M328.0 88.0h1.6M420.8 88.0h1.6M305.6 89.6h1.6M308.8 89.6h1.6M328.0 89.6h1.6M299.2 91.2h1.6M332.8 91.2h3.2M337.6 92.8h1.6M344.0 92.8h1.6M412.8 92.8h1.6M273.6 94.4h1.6M276.8 94.4h1.6M422.4 94.4h1.6M348.8 96.0h1.6M284.8 97.6h1.6M280.0 99.2h1.6M286.4 99.2h1.6M292.8 99.2h1.6M307.2 99.2h1.6M296.0 100.8h1.6M326.4 100.8h1.6M264.0 102.4h1.6M268.8 102.4h1.6M288.0 102.4h1.6M297.6 102.4h3.2M304.0 102.4h1.6M321.6 102.4h1.6M289.6 104.0h1.6M289.6 105.6h1.6M347.2 105.6h1.6M292.8 107.2h1.6M296.0 107.2h1.6M288.0 112.0h1.6M318.4 112.0h1.6M276.8 113.6h1.6M172.8 115.2h1.6M321.6 115.2h1.6M350.4 116.8h1.6M340.8 118.4h1.6M315.2 121.6h1.6M470.4 129.6h1.6M206.4 131.2h1.6M206.4 132.8h1.6M516.8 134.4h1.6M316.8 136.0h1.6M347.2 136.0h1.6M324.8 137.6h1.6M204.8 145.6h1.6M195.2 147.2h1.6M171.2 148.8h1.6M508.8 148.8h3.2M504.0 152.0h1.6M224.0 153.6h1.6M520.0 153.6h1.6M220.8 155.2h1.6M324.8 156.8h1.6M345.6 158.4h1.6M220.8 161.6h1.6M190.4 163.2h1.6M475.2 166.4h1.6M483.2 168.0h1.6M518.4 168.0h1.6M481.6 169.6h1.6M521.6 172.8h1.6M489.6 174.4h1.6M515.2 174.4h1.6M329.6 176.0h1.6M508.8 176.0h1.6M478.4 177.6h1.6M188.8 193.6h1.6" stroke="#8e8edc" stroke-width="1.6"/><path d="M355.2 4.8h1.6M331.2 6.4h1.6M83.2 9.6h1.6M81.6 11.2h1.6M86.4 11.2h1.6M83.2 12.8h1.6M80.0 14.4h3.2M84.8 14.4h3.2M400.0 14.4h1.6M443.2 14.4h1.6M81.6 16.0h3.2M84.8 17.6h1.6M390.4 17.6h1.6M403.2 17.6h1.6M424.0 17.6h1.6M81.6 19.2h1.6M84.8 19.2h1.6M352.0 20.8h1.6M395.2 20.8h1.6M86.4 22.4h1.6M328.0 22.4h1.6M398.4 22.4h1.6M422.4 22.4h1.6M84.8 24.0h1.6M398.4 24.0h1.6M428.8 24.0h1.6M150.4 25.6h1.6M372.8 27.2h1.6M102.4 28.8h1.6M134.4 30.4h1.6M142.4 32.0h1.6M196.8 32.0h1.6M113.6 33.6h1.6M185.6 33.6h1.6M131.2 35.2h1.6M388.8 36.8h1.6M124.8 38.4h3.2M129.6 38.4h1.6M163.2 40.0h3.2M176.0 40.0h1.6M284.8 40.0h1.6M128.0 41.6h1.6M316.8 43.2h1.6M140.8 44.8h1.6M153.6 44.8h1.6M288.0 44.8h1.6M142.4 46.4h1.6M152.0 46.4h1.6M142.4 48.0h1.6M152.0 48.0h1.6M318.4 48.0h1.6M356.8 48.0h1.6M168.0 51.2h1.6M281.6 51.2h1.6M94.4 52.8h1.6M145.6 52.8h1.6M112.0 54.4h1.6M332.8 54.4h1.6M150.4 56.0h1.6M92.8 59.2h1.6M110.4 60.8h1.6M118.4 60.8h1.6M121.6 60.8h1.6M155.2 62.4h1.6M163.2 62.4h1.6M99.2 64.0h4.8M131.2 64.0h1.6M505.6 64.0h1.6M99.2 65.6h1.6M129.6 67.2h1.6M136.0 67.2h1.6M102.4 68.8h1.6M464.0 68.8h1.6M115.2 72.0h1.6M156.8 72.0h1.6M132.8 73.6h1.6M132.8 78.4h1.6M452.8 78.4h1.6M116.8 80.0h1.6M124.8 80.0h1.6M417.6 83.2h1.6M425.6 86.4h1.6M121.6 91.2h1.6M316.8 94.4h1.6M297.6 104.0h1.6M312.0 104.0h1.6M297.6 107.2h1.6M176.0 108.8h1.6M347.2 110.4h1.6M350.4 112.0h1.6M187.2 123.2h1.6M350.4 123.2h1.6M457.6 123.2h1.6M355.2 128.0h1.6M342.4 137.6h1.6M204.8 142.4h1.6M347.2 144.0h1.6M350.4 144.0h1.6M504.0 147.2h1.6M496.0 153.6h1.6M518.4 153.6h1.6M336.0 156.8h1.6M524.8 158.4h1.6M524.8 166.4h1.6M198.4 168.0h1.6M478.4 168.0h1.6M486.4 168.0h1.6M201.6 169.6h3.2M489.6 169.6h1.6M200.0 171.2h1.6M203.2 172.8h1.6M494.4 174.4h3.2M201.6 176.0h1.6M496.0 176.0h1.6M500.8 176.0h1.6M505.6 176.0h1.6M510.4 176.0h1.6M497.6 179.2h1.6M502.4 179.2h1.6M476.8 180.8h1.6M496.0 180.8h1.6M510.4 180.8h1.6M534.4 180.8h1.6M529.6 182.4h1.6M528.0 185.6h3.2M532.8 185.6h1.6M520.0 187.2h1.6M523.2 187.2h1.6M182.4 188.8h1.6M521.6 190.4h1.6M524.8 190.4h1.6M529.6 190.4h3.2M521.6 192.0h1.6M515.2 193.6h1.6M526.4 193.6h1.6M528.0 195.2h1.6M520.0 196.8h1.6M523.2 196.8h1.6M572.8 201.6h1.6" stroke="#9b5252" stroke-width="1.6"/><path d="M27.2 0.0h1.6M40.0 3.2h4.8M41.6 4.8h1.6M44.8 4.8h3.2M40.0 6.4h8.0M38.4 8.0h1.6M41.6 8.0h1.6M44.8 8.0h1.6M38.4 9.6h4.8M46.4 9.6h3.2M40.0 11.2h4.8M454.4 11.2h1.6M40.0 12.8h1.6M43.2 12.8h1.6M28.8 14.4h1.6M41.6 14.4h1.6M342.4 14.4h1.6M454.4 14.4h1.6M457.6 14.4h1.6M456.0 16.0h3.2M32.0 17.6h1.6M316.8 17.6h1.6M470.4 17.6h1.6M307.2 19.2h1.6M328.0 19.2h1.6M342.4 19.2h1.6M92.8 22.4h1.6M188.8 22.4h1.6M313.6 22.4h1.6M336.0 22.4h3.2M374.4 22.4h1.6M380.8 22.4h1.6M416.0 22.4h1.6M465.6 22.4h1.6M86.4 24.0h1.6M310.4 24.0h1.6M334.4 24.0h1.6M404.8 24.0h1.6M80.0 25.6h1.6M336.0 25.6h3.2M393.6 25.6h1.6M396.8 25.6h1.6M406.4 25.6h1.6M144.0 27.2h1.6M284.8 27.2h1.6M316.8 27.2h1.6M320.0 27.2h1.6M345.6 27.2h1.6M374.4 27.2h1.6M468.8 27.2h1.6M316.8 28.8h1.6M334.4 28.8h1.6M374.4 28.8h1.6M396.8 28.8h1.6M441.6 28.8h1.6M163.2 30.4h1.6M275.2 30.4h1.6M304.0 30.4h1.6M371.2 30.4h1.6M390.4 30.4h1.6M115.2 32.0h1.6M147.2 33.6h1.6M150.4 33.6h1.6M393.6 33.6h1.6M403.2 33.6h1.6M460.8 33.6h1.6M132.8 35.2h3.2M164.8 35.2h1.6M177.6 35.2h1.6M369.6 35.2h1.6M459.2 35.2h1.6M131.2 36.8h1.6M465.6 36.8h1.6M163.2 38.4h1.6M179.2 38.4h1.6M307.2 38.4h1.6M380.8 38.4h1.6M470.4 38.4h1.6M132.8 40.0h1.6M195.2 40.0h1.6M332.8 41.6h1.6M420.8 41.6h1.6M108.8 43.2h1.6M147.2 43.2h1.6M323.2 44.8h1.6M332.8 44.8h1.6M131.2 46.4h1.6M140.8 46.4h1.6M323.2 46.4h1.6M291.2 49.6h1.6M169.6 51.2h1.6M278.4 51.2h1.6M291.2 51.2h1.6M315.2 51.2h1.6M166.4 52.8h1.6M302.4 52.8h1.6M353.6 54.4h1.6M332.8 56.0h1.6M118.4 57.6h1.6M150.4 57.6h1.6M281.6 57.6h1.6M368.0 57.6h1.6M161.6 59.2h1.6M342.4 59.2h1.6M134.4 60.8h3.2M377.6 60.8h1.6M147.2 62.4h1.6M158.4 62.4h1.6M116.8 64.0h1.6M100.8 65.6h1.6M115.2 65.6h1.6M145.6 65.6h1.6M379.2 67.2h1.6M145.6 68.8h1.6M292.8 68.8h1.6M356.8 68.8h1.6M398.4 73.6h3.2M131.2 75.2h1.6M404.8 75.2h1.6M454.4 75.2h1.6M475.2 75.2h1.6M409.6 76.8h1.6M452.8 76.8h1.6M403.2 78.4h1.6M449.6 78.4h1.6M113.6 80.0h1.6M400.0 81.6h1.6M452.8 81.6h1.6M441.6 83.2h1.6M476.8 83.2h1.6M342.4 84.8h1.6M300.8 86.4h1.6M332.8 86.4h3.2M334.4 89.6h3.2M336.0 91.2h1.6M345.6 91.2h1.6M345.6 92.8h1.6M288.0 96.0h1.6M310.4 96.0h1.6M344.0 99.2h1.6M286.4 100.8h1.6M289.6 100.8h1.6M297.6 100.8h1.6M286.4 102.4h1.6M289.6 102.4h3.2M296.0 102.4h1.6M281.6 104.0h1.6M286.4 104.0h1.6M304.0 104.0h1.6M358.4 104.0h1.6M449.6 104.0h1.6M284.8 105.6h3.2M299.2 107.2h1.6M347.2 107.2h1.6M305.6 110.4h1.6M350.4 110.4h1.6M326.4 112.0h1.6M174.4 116.8h1.6M188.8 120.0h1.6M206.4 134.4h1.6M216.0 136.0h1.6M193.6 144.0h1.6M224.0 145.6h1.6M179.2 147.2h1.6M222.4 147.2h1.6M196.8 158.4h1.6M496.0 160.0h1.6M222.4 163.2h1.6M523.2 163.2h1.6M478.4 171.2h1.6M505.6 172.8h1.6M481.6 174.4h1.6M520.0 176.0h1.6M523.2 177.6h1.6M513.6 182.4h1.6M193.6 196.8h1.6" stroke="#4646aa" stroke-width="1.6"/></g></g><g clip-path="url(#clip0)"><path d="M184.6,9.5 176.5,13.1 173.3,14.0 168.4,13.5 166.8,15.9 167.6,17.7 166.0,19.5 164.9,22.2 162.8,23.9 159.2,24.8 156.3,26.6 153.9,28.4 152.9,30.8 153.1,33.2 155.5,33.9 158.7,36.5 162.8,37.6 167.6,39.9 171.6,40.3 172.8,44.1 174.5,45.6 177.0,47.0 178.3,45.4 178.1,42.3 180.7,39.4 181.6,37.2 180.5,34.6 179.2,33.4 180.2,30.4 179.4,27.2 182.9,27.0 187.0,27.3 190.2,28.8 192.9,30.1 193.1,32.8 195.4,33.9 198.6,33.5 201.2,30.8 202.6,33.4 205.0,35.7 206.3,38.3 209.6,39.9 212.3,41.6 215.2,43.0 215.5,45.2 213.4,47.0 209.6,48.9 204.7,49.2 199.9,49.2 197.0,50.7 193.4,53.1 190.8,55.3 192.9,54.0 195.5,52.5 198.3,51.2 201.8,51.6 201.0,53.6 201.3,55.8 203.1,57.1 206.2,57.3 208.0,55.3 208.9,57.1 206.7,58.4 203.1,59.4 199.7,61.3 198.8,59.8 201.7,58.2 199.4,58.2 197.3,59.1 194.6,60.0 192.3,61.1 191.5,62.6 191.2,63.6 192.5,64.6 191.7,65.1 189.6,65.5 186.8,66.2 188.9,66.0 189.6,66.2 186.2,66.9 186.0,68.6 184.7,69.8 183.7,68.6 184.4,70.9 183.3,72.8 182.5,71.1 182.3,69.1 182.6,73.1 183.3,74.6 183.7,76.4 182.1,77.3 180.0,78.4 178.4,79.5 176.6,81.3 175.0,82.8 174.2,85.4 175.5,89.0 176.5,91.9 176.0,94.3 175.0,94.8 173.7,93.6 173.1,91.9 172.1,90.1 172.1,88.5 171.0,87.2 169.5,86.1 167.8,86.6 166.2,85.4 163.6,85.2 161.3,85.7 161.6,87.7 160.0,87.7 157.9,87.0 154.7,86.6 152.6,87.2 149.7,89.2 148.6,90.8 148.4,93.6 147.9,97.0 147.8,99.9 148.6,102.5 150.0,105.2 151.3,106.7 153.2,107.6 156.1,106.9 158.1,106.7 159.4,105.0 159.7,102.5 162.0,101.8 164.9,101.6 164.4,104.1 163.9,107.1 163.1,108.9 163.1,111.3 162.1,111.8 164.2,112.0 166.8,111.8 169.5,112.0 171.2,113.4 171.0,116.2 170.7,118.9 170.3,120.7 171.6,122.6 173.3,124.4 174.9,124.6 177.3,123.3 178.9,123.7 180.7,125.1 181.6,125.7 182.9,123.7 183.7,121.6 184.9,120.7 187.0,120.2 189.1,119.1 190.5,118.4 189.7,119.8 190.4,120.9 190.0,122.2 189.6,120.4 190.5,119.6 192.3,119.6 192.5,118.5 193.3,119.8 195.2,121.1 197.0,121.5 199.9,122.4 201.8,121.5 204.6,121.5 205.4,122.4 207.1,123.7 208.3,125.1 210.1,126.9 211.5,128.2 213.4,130.0 216.5,130.0 218.6,130.6 221.2,132.0 222.6,133.1 223.3,135.3 224.3,137.5 225.1,139.0 223.9,140.6 226.5,141.2 227.6,142.6 229.7,142.1 232.3,143.4 234.1,145.5 236.2,145.4 238.6,146.1 241.4,146.3 243.6,147.7 245.6,149.7 248.3,150.3 249.1,152.7 249.4,155.2 248.8,157.2 247.7,158.9 245.9,160.9 244.6,163.2 243.3,164.7 242.7,167.8 242.8,170.9 242.2,173.1 241.5,175.8 240.6,178.0 239.4,180.6 238.0,182.6 235.9,182.7 233.5,183.5 231.5,184.2 229.7,185.5 227.6,187.1 227.2,189.7 227.0,192.2 225.2,194.4 223.9,196.6 222.0,199.2 220.5,201.4 219.1,202.8 217.0,204.5 214.9,204.5 212.6,203.5 211.2,203.2 213.3,205.4 213.1,206.8 214.1,207.6 212.8,210.1 210.9,211.2 208.0,211.8 205.4,211.8 205.0,214.1 205.2,215.2 202.6,215.8 200.7,215.2 200.7,217.4 202.8,218.5 201.3,219.0 200.4,220.9 200.0,222.9 197.8,223.1 196.7,224.7 197.5,226.3 199.2,228.0 196.8,230.2 195.4,232.0 194.2,233.8 195.0,236.2 193.4,236.2 191.8,238.0 191.0,238.9 189.4,238.4 187.0,236.6 185.4,234.2 183.9,231.1 183.7,228.4 185.2,226.0 183.6,225.6 185.5,222.9 186.8,221.4 187.9,217.4 186.6,216.1 186.3,213.4 187.3,209.6 187.6,207.7 188.6,205.6 189.7,202.8 190.2,200.1 190.2,196.4 190.5,193.5 191.2,190.8 191.7,187.3 192.0,183.8 192.5,179.8 192.1,174.5 190.5,173.1 188.6,171.4 186.2,169.8 183.1,167.4 182.5,165.2 181.2,162.9 179.7,160.1 178.3,156.7 176.8,153.8 175.0,151.7 174.5,150.3 174.4,148.6 175.8,147.0 176.8,145.5 176.0,145.0 175.0,144.8 175.7,142.6 176.3,140.1 177.1,139.0 178.4,137.9 179.7,136.1 181.0,133.7 180.5,130.6 180.5,128.4 179.4,126.4 178.7,125.1 177.1,124.6 176.0,125.8 175.8,127.5 174.7,126.9 173.6,125.8 171.8,125.7 170.7,125.1 168.9,123.5 167.4,122.7 167.1,120.9 165.8,118.7 164.2,117.1 162.8,116.7 161.0,116.2 158.9,115.4 156.8,114.4 155.2,112.2 153.1,111.3 151.3,111.8 149.7,112.2 147.1,111.4 144.5,110.2 141.8,108.7 139.7,108.0 137.6,106.3 135.8,104.7 135.2,103.4 135.6,101.6 134.8,99.6 133.5,98.1 131.8,95.9 130.3,94.3 129.0,93.2 127.6,91.4 126.4,89.9 125.0,88.1 124.0,86.3 123.1,84.3 121.4,83.3 120.3,82.8 120.5,84.4 121.1,86.1 122.6,88.1 123.5,90.3 124.7,92.3 126.0,94.1 127.1,96.5 128.2,97.6 128.7,98.7 127.9,99.0 126.6,97.2 125.2,95.9 124.5,94.3 124.3,92.6 122.4,91.9 121.0,90.5 121.4,88.8 120.2,87.0 118.9,85.5 118.1,84.1 117.2,82.8 116.6,81.3 116.3,80.2 115.0,79.1 114.3,78.8 112.7,78.1 111.0,77.7 110.8,76.4 109.7,75.1 108.9,74.0 108.0,72.8 107.9,71.9 107.1,71.3 105.9,69.8 105.8,68.2 104.8,67.1 105.3,65.7 105.1,64.2 104.7,62.7 105.3,60.9 105.6,58.4 105.5,56.3 105.3,54.9 104.3,52.5 106.3,52.9 107.4,54.3 107.7,52.7 107.4,51.4 106.8,50.7 104.8,49.8 103.4,48.7 100.8,48.1 99.3,47.0 99.0,45.4 97.9,43.6 95.5,42.3 94.8,40.8 93.5,39.6 92.1,37.7 90.3,36.3 88.5,34.3 86.9,33.2 85.3,34.5 82.9,33.9 80.3,32.3 77.7,31.5 74.0,31.4 71.1,30.6 69.0,29.5 67.1,29.9 65.9,31.0 64.0,31.9 62.0,32.6 60.6,32.8 61.6,31.2 63.2,29.4 60.9,29.7 59.1,31.4 57.2,33.0 57.9,34.1 56.4,35.0 54.3,36.1 52.5,37.2 49.8,38.3 47.4,39.2 44.6,40.1 42.2,40.8 39.6,41.4 41.7,40.3 44.5,38.8 47.4,37.7 49.9,36.3 51.6,34.5 49.6,33.7 46.9,33.7 44.3,33.9 43.8,31.7 41.2,31.2 39.0,30.3 38.8,29.0 37.5,28.3 39.0,26.8 39.9,25.7 42.4,25.7 44.8,25.0 46.1,24.2 45.6,23.2 43.0,23.3 40.9,23.0 38.2,23.2 36.7,22.4 34.8,21.3 34.3,21.0 36.9,20.1 39.9,19.5 42.2,20.2 44.6,20.1 44.5,19.3 41.7,18.4 40.4,17.5 38.0,16.2 37.0,15.1 39.9,14.9 42.2,13.8 44.1,12.6 48.2,11.8 52.5,10.7 57.0,11.5 61.9,12.2 66.7,12.4 71.6,12.9 78.0,13.7 82.9,14.4 86.9,14.8 88.8,13.8 92.6,13.7 96.6,12.9 100.6,12.8 103.9,14.0 108.7,13.5 115.1,14.4 120.0,15.1 128.1,16.6 134.5,15.7 141.0,17.1 146.6,17.1 150.7,16.0 152.3,14.0 153.9,11.3M187.8,-1.5 192.6,2.2 199.1,2.2 208.8,3.1 212.0,4.0 215.2,7.6 216.8,10.4 218.4,11.7 222.5,12.2 220.9,13.5 223.3,14.6 224.1,16.2 220.1,16.8 219.3,19.0 221.7,20.4 222.5,23.2 224.4,25.0 225.7,26.8 227.3,28.6 228.9,29.9 231.4,30.3 233.0,31.2 235.4,31.4 236.2,29.9 237.8,28.1 238.6,25.9 240.2,23.5 242.7,21.3 245.9,21.1 249.1,20.1 251.5,17.7 254.0,16.4 258.8,15.9 263.6,14.9 267.7,13.1 270.1,12.2 266.9,10.4 271.7,7.6M270.1,24.2 269.0,23.7 270.4,23.2 267.2,22.4 269.3,21.9 266.9,21.3 269.3,20.6 270.9,21.3 272.8,20.2 275.7,20.2 279.0,19.5 281.4,19.9 282.2,20.8 283.6,21.9 282.2,23.3 279.8,24.1 276.5,25.0 273.3,24.8 270.1,24.2M189.4,9.5 192.6,12.2 195.0,12.6 196.7,14.0 198.1,15.5 202.3,17.7 205.5,19.1 203.1,20.2 201.5,22.1 199.9,23.0 201.0,25.0 198.6,27.5 195.8,26.6 191.8,26.1 189.4,24.8 187.0,23.5 182.9,23.5 179.7,23.2 179.2,21.5 186.2,21.5 187.0,19.5 188.9,18.2 187.0,16.0 182.9,14.6 178.9,13.5 176.5,12.6 170.0,12.2M166.8,20.2 169.2,21.7 174.1,23.2 174.5,24.8 170.8,24.1 167.6,25.3 165.5,24.1 165.0,21.9 166.8,20.2M115.1,9.5 116.8,11.3 114.3,12.0 116.8,13.1 123.2,13.5 128.1,13.3 133.7,14.0 137.7,14.8 141.0,14.0 142.6,13.1 142.6,9.5M103.9,9.5 105.5,10.4 104.7,10.9 107.9,11.1 108.7,9.5M209.9,54.0 212.0,54.0 215.1,54.0 216.0,55.3 218.1,54.7 219.1,55.6 220.5,55.3 220.4,53.8 219.1,53.8 219.6,52.3 218.8,50.9 216.0,50.1 215.2,48.7 215.9,46.7 213.6,47.2 213.0,48.3 211.3,51.1 210.4,52.5 209.9,54.0M201.5,49.8 205.5,50.7 206.0,51.2 201.7,50.0M202.3,55.8 205.2,56.2 204.1,56.5 202.3,55.8M168.6,100.9 170.8,100.3 172.9,98.7 175.8,98.7 178.6,99.9 181.0,101.2 183.3,102.3 185.8,103.8 184.6,104.5 182.1,104.5 180.2,104.5 181.0,103.2 178.9,101.4 175.7,100.7 173.6,100.3 171.8,99.6 170.0,100.7 168.6,100.9M185.5,107.2 188.1,107.6 190.5,108.5 191.8,107.6 194.2,107.2 195.2,106.9 193.4,106.0 192.6,105.0 189.7,104.7 187.1,104.5 188.3,106.0 185.5,107.2M179.2,107.2 181.3,108.2 182.6,108.0 181.5,107.1 179.2,107.2M197.1,107.8 199.7,108.0 199.6,107.2 197.1,107.1 197.1,107.8M179.7,91.9 181.3,92.3 180.8,93.0M179.4,94.8 180.0,96.3 180.4,97.4M182.5,94.3 182.9,95.6 183.6,96.7M205.7,122.4 207.1,122.2 207.1,121.1 205.9,121.3 205.7,122.4M106.4,52.5 104.7,52.2 103.0,51.4 101.4,50.3 99.8,49.2 98.5,48.1 100.6,48.5 103.0,49.4 104.7,50.5 106.4,52.5M94.0,45.6 91.7,43.8 90.8,42.1 92.6,42.3 93.2,44.1 94.0,45.6M55.9,37.0 59.6,35.9 58.8,34.8 56.2,35.7 55.9,37.0M86.9,35.9 88.5,38.1 90.0,39.0 90.6,37.2 88.5,35.0M36.2,43.2 37.7,42.3M33.2,44.1 34.8,43.4M27.2,45.4 29.6,45.2M20.2,46.3 22.3,46.0M18.0,46.7 19.3,46.3M28.5,24.6 30.7,25.3 33.2,25.5 31.2,24.8 28.5,24.6M36.4,31.0 38.6,31.4 38.0,30.3 36.4,31.0M54.1,104.0 55.4,105.2 54.5,106.3 53.8,104.7 54.1,104.0M52.7,102.7 53.8,103.0 53.2,103.2 52.7,102.7M50.3,101.4 51.1,101.9 50.4,101.9 50.3,101.4M47.8,100.3 48.5,100.5 48.0,100.9 47.8,100.3M194.9,236.7 195.5,238.0 196.5,239.1 198.4,240.2 200.5,240.6 198.3,241.1 195.8,241.1 193.4,241.7 191.0,241.1 188.6,239.8 185.7,237.3 187.8,238.0 190.2,238.9 191.8,237.5 193.4,236.6 194.9,236.7M206.8,235.3 208.8,234.4 211.2,234.6 212.3,234.9 211.0,236.0 208.8,235.8 206.8,235.3M185.4,228.4 184.1,229.3 183.7,232.0 184.9,232.9 185.4,228.4M259.1,70.4 260.6,70.2M264.0,71.9 264.9,71.9M255.2,68.8 255.4,68.9M293.7,27.2 294.8,27.9 294.3,27.3M277.8,81.2 278.6,81.0M243.9,239.3 246.2,239.7 247.7,240.8 245.9,240.2 243.9,239.3M416.6,229.6 418.9,230.2 418.3,231.3 416.8,230.9 416.6,229.6M423.9,237.5 424.7,237.7M157.8,141.3 158.9,142.1 158.2,142.6 157.8,141.3M573.0,39.9 574.5,41.0M584.0,44.3 585.3,44.5M157.0,55.4 159.5,55.8 162.0,55.1 163.9,54.3 166.3,55.8 169.1,56.0 168.9,54.2 167.1,53.2 163.2,52.0 161.1,53.2 157.0,55.4M163.9,64.2 164.4,62.4 164.1,60.0 165.2,57.8 167.6,57.1 168.4,58.0 166.5,58.9 166.2,61.5 166.0,63.8 163.9,64.2M168.9,57.3 171.2,58.4 171.2,60.0 172.4,62.4 173.7,60.4 174.2,58.9 176.2,59.6 175.5,57.1 172.4,56.7 168.9,57.3M171.0,64.7 174.1,65.1 176.8,63.8 178.3,62.6 175.7,63.1 172.4,64.2 171.0,64.7M176.8,61.8 179.7,61.8 182.5,61.5 182.1,60.2 180.0,60.7 177.4,61.1 176.8,61.8M149.0,48.7 150.3,46.9 147.8,43.2 146.5,43.0 149.0,46.9 149.0,48.7M125.6,33.9 130.5,32.6 135.3,32.8 130.5,33.4 125.6,33.9M139.7,37.7 141.0,35.9 140.5,35.0 139.7,37.7M116.8,29.5 121.6,28.6 126.4,26.8 122.4,27.5 119.2,26.1 116.8,29.5M103.9,21.9 108.7,20.8 112.7,19.5 110.3,18.6 107.1,20.2 103.9,21.9M357.7,83.7 360.8,83.7 361.8,82.2 362.1,81.0 362.9,79.0 363.5,76.0 363.9,74.0 362.9,74.0 361.6,73.7 359.7,74.8 357.2,74.2 355.1,73.5 353.2,74.8 351.1,73.9 349.7,73.3 349.5,71.5 348.4,70.6 348.7,69.3 347.7,68.8 348.0,67.7 350.0,67.1 352.4,67.1 353.2,66.4 352.4,65.8 350.8,66.0 348.9,66.7 347.7,66.6 345.1,66.2 344.0,66.6 343.9,67.5 343.4,67.3 342.7,68.0 342.1,67.3 342.1,68.8 343.0,69.7 342.4,70.0 343.2,70.6 344.5,71.3 344.3,72.0 342.9,71.7 343.0,72.8 342.4,74.4 341.8,74.2 340.9,73.7 340.6,73.5 340.3,72.2 339.7,71.9 340.3,70.9 342.6,71.5 340.8,70.9 339.7,70.8 339.0,69.7 338.2,68.6 337.7,67.5 336.9,66.9 337.1,65.7 336.9,64.4 335.5,63.5 334.0,62.6 332.2,61.5 331.1,60.9 330.0,60.0 329.5,58.5 328.7,58.2 327.9,58.9 327.4,57.8 327.9,57.3 326.7,57.4 325.5,58.2 325.6,59.4 325.9,60.5 327.6,61.5 328.5,63.5 329.8,64.2 331.6,64.4 331.3,65.1 333.0,65.8 334.7,66.7 335.5,67.7 334.5,67.3 333.4,67.1 332.4,67.8 332.4,68.8 333.2,69.7 332.2,70.8 331.6,71.7 330.8,71.5 331.3,70.0 330.9,68.2 329.6,67.1 328.8,66.7 328.2,66.0 326.9,65.5 325.8,64.7 324.5,63.8 323.4,63.3 322.5,62.4 322.2,61.3 321.7,60.5 320.4,60.0 319.2,60.2 317.7,60.9 316.4,62.0 315.0,62.2 313.5,61.6 312.1,61.5 310.9,62.0 310.4,63.5 310.8,64.4 309.2,65.3 307.4,65.8 306.7,66.7 305.6,67.8 305.1,68.9 305.9,70.2 304.8,70.9 304.3,72.2 303.0,73.1 302.2,73.9 300.0,73.9 298.5,73.9 297.5,74.4 296.6,75.1 295.6,74.4 295.3,73.7 294.3,72.9 292.8,73.3 291.2,73.3 291.4,71.1 290.6,70.2 290.4,68.9 291.4,66.9 291.6,65.3 291.2,64.0 290.6,62.6 292.2,61.5 293.5,61.1 296.2,61.3 299.1,61.6 300.9,61.8 302.7,61.6 303.3,60.2 303.7,58.0 303.7,56.5 302.2,55.3 301.6,54.5 300.1,53.8 298.5,53.4 298.0,52.5 299.1,52.0 300.8,51.8 302.4,52.2 303.0,51.8 302.5,50.1 303.8,50.7 305.8,50.5 308.0,49.2 308.3,48.0 309.6,47.6 311.1,47.0 312.2,46.0 313.0,44.9 313.3,44.1 314.6,43.4 316.9,43.0 318.8,43.2 320.0,42.5 319.5,41.2 319.5,39.6 318.7,37.9 319.5,36.6 322.7,35.6 322.4,36.8 322.2,38.1 323.2,38.1 321.7,39.4 321.1,40.5 321.7,41.2 323.2,42.1 325.0,41.9 327.4,41.6 328.5,42.5 331.4,41.8 333.8,40.8 335.6,41.4 337.1,41.4 337.9,40.7 339.7,39.2 339.5,37.7 340.5,36.1 342.1,35.6 343.5,36.8 344.5,36.8 345.0,34.5 343.5,33.9 343.4,32.8 345.5,32.3 348.4,32.1 350.8,32.3 354.5,31.5 352.4,31.0 349.2,30.4 346.0,31.0 342.7,31.7 341.4,30.6 340.1,28.6 340.3,26.8 340.5,25.7 341.9,24.4 345.1,22.6 346.6,22.2 345.1,20.8 341.4,21.1 340.0,23.0 338.7,24.4 336.3,25.3 334.7,26.6 333.5,28.6 333.4,30.1 335.5,31.0 334.8,32.6 333.0,34.1 332.4,35.9 332.1,37.4 331.1,38.5 328.5,39.8 326.6,39.6 325.8,38.1 324.8,35.6 323.7,34.1 322.7,31.5 322.1,33.2 320.1,33.9 318.5,34.8 316.3,34.8 314.6,33.5 314.0,31.0 313.7,28.6 314.0,27.2 315.6,26.8 318.0,25.7 320.9,24.8 321.4,23.9 323.4,22.6 325.8,20.8 327.4,19.0 328.8,18.0 330.6,16.4 332.2,15.7 334.7,14.4 336.3,13.7 339.5,13.1 343.9,11.8 347.2,11.1 350.8,11.5 354.0,12.6 355.6,13.3 358.9,14.2 362.1,14.6 365.3,15.3 369.4,16.6 371.8,17.7 372.1,19.0 370.2,20.1 366.9,20.2 362.9,19.7 359.7,19.1 358.1,18.4 359.7,19.9 361.8,21.1 361.8,23.3 364.5,24.1 366.1,23.2 364.5,22.2 366.1,22.1 369.4,23.2 371.0,23.0 371.0,21.9 373.4,19.9 375.8,19.9 376.9,19.5 375.8,17.7 376.9,15.9 379.8,16.2 380.7,17.1 378.2,17.7 380.7,18.8 383.1,17.5 386.3,16.8 389.5,15.9 391.9,16.2 393.6,15.1 396.0,15.7 399.2,15.1 401.6,16.0 403.2,14.9 403.6,13.5 405.7,13.5 408.9,14.2 412.1,14.9 414.1,15.9 416.2,16.2 417.0,15.1 415.4,13.5 413.7,12.2 413.7,10.4 416.2,8.6M421.8,8.6 423.1,11.3 422.6,14.0 424.2,15.9 422.6,19.0 421.0,19.7 424.2,18.8 426.7,18.2 430.7,17.7 432.3,17.9 429.9,16.2 428.3,14.9 426.7,12.9 429.1,11.3 431.5,10.4 434.7,9.8 436.3,10.7 438.8,12.6 438.8,14.0 439.9,13.1 441.2,12.2 444.4,10.4 442.8,8.6M473.5,5.8 483.1,6.7 486.4,6.7 488.8,7.1 496.1,8.0 502.5,8.0 509.0,8.6 512.2,8.9 514.6,10.4 517.8,11.7 520.3,10.7 523.5,10.4 529.9,10.4 531.6,8.9 533.2,8.4 536.4,8.4 541.2,8.9 547.7,10.2 551.7,11.7 557.4,11.3 562.2,11.7 563.8,13.1 565.5,14.0 568.7,13.7 573.5,14.0 576.8,13.5 580.8,12.9 583.2,13.3 588.1,13.5 592.9,14.2 596.1,15.1M296.4,49.4 299.1,48.9 301.6,48.5 304.0,48.1 307.7,47.6 307.9,47.0 306.4,46.9 308.0,46.0 308.3,44.7 306.4,44.3 305.9,43.2 305.8,43.0 305.0,41.8 303.5,40.8 303.0,39.4 301.6,38.7 300.8,38.7 301.6,38.1 302.4,36.6 302.7,35.7 300.0,35.6 299.1,35.9 300.4,33.9 297.5,33.9 296.7,35.4 296.4,36.8 295.6,37.7 296.6,39.6 296.4,39.9 297.7,39.2 297.7,40.7 298.5,41.0 300.1,40.7 300.0,41.6 300.8,42.5 300.8,43.4 298.3,43.4 298.8,44.3 299.0,45.4 297.2,46.3 299.1,46.7 300.8,46.9 300.0,47.4 298.3,47.8 296.4,49.4M295.9,45.6 295.6,43.6 295.9,42.3 296.7,41.4 295.9,40.1 293.8,39.8 292.2,40.1 291.9,41.4 289.5,41.9 289.8,43.2 291.1,43.8 289.6,45.6 289.1,46.5 290.3,46.9 292.7,46.3 295.3,45.6 295.9,45.6M325.6,71.9 327.2,71.1 330.8,70.9 330.0,73.9 328.7,73.3 325.6,71.9M319.2,69.7 321.1,69.3 321.4,66.6 320.6,65.7 318.8,66.2 319.2,69.7M319.5,65.3 320.8,64.9 320.9,62.4 319.5,63.5 319.5,65.3M343.5,76.4 348.0,76.6 346.8,77.0 343.5,76.4M357.7,77.1 358.9,77.7 360.5,77.1 361.4,75.7 358.9,76.2 357.7,77.1M309.5,68.8 311.1,68.4 310.4,69.1 309.5,68.8M323.4,39.9 325.9,39.4 325.5,38.5 323.4,39.0 323.4,39.9M332.1,37.6 332.9,36.3 332.1,37.6M335.0,36.8 335.9,35.4 335.0,36.8M387.9,10.4 391.1,11.7 397.6,12.0 394.4,9.5 391.1,8.6M424.2,56.0 426.7,55.3 429.9,55.8 433.1,56.5 433.4,57.3 429.9,56.5 426.7,56.5 424.2,56.0M354.0,31.4 356.4,30.8 358.5,29.7 357.2,28.4 354.8,29.0 353.2,30.3 354.0,31.4M361.8,29.5 363.4,29.0 362.4,27.3 361.3,26.3 360.8,27.7 361.8,29.5M352.4,65.7 355.6,65.8 358.9,64.4 362.3,64.2 364.2,65.5 366.9,66.2 369.7,66.0 372.6,65.1 372.9,63.1 369.7,61.3 367.7,59.8 366.6,59.3 364.7,58.2 363.7,58.7 361.3,59.6 359.7,59.4 358.1,58.0 359.7,56.9 357.2,56.0 355.1,56.0 353.5,58.2 351.9,60.2 350.6,62.0 350.0,63.3 350.8,64.9 352.4,65.7M364.7,58.0 362.1,57.8 362.9,56.0 366.1,54.9 368.5,54.7 366.9,56.0 366.1,57.3 364.7,58.0M381.5,59.1 382.3,62.7 383.9,64.6 386.1,67.1 384.7,70.6 384.7,72.4 387.1,73.3 389.5,73.9 392.6,73.1 392.6,70.6 391.1,67.8 390.8,65.7 391.9,64.2 390.3,63.3 388.7,61.5 387.1,59.6 387.9,59.3 391.1,58.2 391.5,56.0 388.7,55.1 385.5,56.0 383.1,56.9 381.5,59.1M400.0,56.9 404.1,56.0 404.1,59.6 400.8,61.5 399.7,58.7 400.0,56.9M473.5,46.5 476.7,45.0 479.9,43.2 482.3,39.2 481.5,39.6 478.3,44.1 475.1,46.7 473.5,46.5M357.7,83.7 356.4,83.3 354.0,83.7 352.4,84.4 350.0,83.7 346.3,83.2 344.3,82.4 342.7,81.3 341.1,80.8 338.7,81.5 337.9,83.3 336.3,85.5 333.8,84.4 331.4,83.5 330.1,81.9 327.4,81.0 325.0,80.8 323.4,80.1 322.2,79.3 321.9,78.2 323.0,77.3 323.5,76.4 322.5,75.1 323.5,73.3 322.1,72.9 320.4,72.8 318.5,73.5 316.1,73.3 313.7,73.9 311.2,73.7 308.8,74.2 306.4,75.1 304.0,76.0 302.0,76.8 300.0,76.4 297.5,75.5 296.1,75.5 295.4,77.0 294.6,78.6 293.3,79.5 291.7,80.2 290.6,81.7 289.8,83.5 289.9,85.5 289.1,87.2 287.0,89.4 284.6,90.3 283.3,92.1 282.2,93.7 280.6,96.1 279.6,97.6 279.0,100.1 278.0,102.7 279.3,105.2 279.6,108.0 279.0,111.3 277.8,113.6 277.4,114.0 278.5,115.6 278.5,118.0 279.1,119.5 281.1,120.7 282.2,121.8 284.1,124.0 285.4,126.4 287.4,128.2 290.3,130.8 293.3,132.8 295.9,132.2 299.1,131.3 301.6,132.0 304.0,131.3 307.2,129.9 309.6,129.3 312.1,129.1 313.7,130.2 314.6,132.4 316.1,133.0 318.2,132.8 319.8,132.6 320.9,133.9 321.4,136.2 320.9,138.6 320.6,140.4 319.8,142.3 320.9,144.4 323.4,147.2 324.6,149.6 325.5,151.7 326.3,154.5 327.1,156.9 327.4,160.0 326.7,162.7 325.8,165.4 324.6,169.6 324.6,172.7 325.9,175.5 327.4,178.7 329.0,181.8 329.2,185.5 329.8,189.1 330.8,191.0 332.2,193.0 333.5,196.4 335.0,199.2 334.7,201.0 335.3,203.0 336.3,203.5 337.9,204.3 340.3,203.5 342.7,202.6 346.8,202.8 348.9,202.1 351.3,200.1 353.2,197.9 355.3,195.5 357.2,193.3 358.2,191.0 358.5,188.2 359.7,186.9 362.1,185.5 362.9,182.8 362.6,180.0 361.8,177.3 363.7,175.1 366.1,172.7 369.4,170.9 371.1,168.2 371.0,163.6 370.8,160.0 369.7,156.3 369.0,153.6 368.4,150.8 369.4,149.0 370.5,146.3 371.8,144.4 373.4,142.6 375.8,139.5 379.0,136.8 381.5,133.9 383.6,130.8 385.5,126.8 387.6,122.6 388.4,119.3 386.3,119.8 383.9,120.4 380.7,121.1 378.2,121.8 376.6,121.6 375.5,120.0 374.7,119.6 375.5,118.4 373.4,116.2 371.8,114.4 370.2,112.5 369.4,111.8 368.2,108.9 366.1,106.7 365.6,104.3 365.2,101.6 363.7,99.0 363.1,97.0 361.6,94.3 360.5,91.9 359.2,89.7 358.2,86.3M385.2,162.7 387.1,168.7 386.0,171.8 383.1,180.0 381.5,186.2 378.6,187.3 376.1,183.7 375.5,180.6 377.1,176.9 376.6,171.8 380.3,169.6 382.3,167.2 384.4,164.1 385.2,162.7M280.1,89.7 280.7,89.5M278.5,89.4 279.5,89.0M282.7,89.4 283.2,88.6M327.1,116.7 328.5,117.3 329.6,116.7 329.2,115.3 327.7,114.9 327.1,116.7M357.2,142.6 358.9,141.3 360.5,141.3 361.3,143.0 359.7,145.4 358.1,145.5 356.8,143.9 357.2,142.6M352.7,146.8 353.2,151.7 354.8,156.3 355.6,155.4 354.8,151.7 353.5,148.1 352.7,146.8M360.8,158.1 361.4,162.7 362.6,166.7 361.9,161.8 360.8,158.1M358.2,86.3 358.5,87.9 360.0,89.7 360.9,90.2 361.3,88.8 362.1,87.0 361.8,89.7 363.1,91.6 364.7,93.7 366.1,96.5 367.7,97.9 368.9,101.6 370.2,104.3 371.8,106.5 373.4,108.9 374.5,111.6 374.8,113.8 375.5,115.6 375.8,117.6 377.4,117.6 379.0,116.9 381.5,116.2 383.9,115.3 386.3,113.6 388.7,112.9 390.0,111.1 391.9,110.3 394.4,109.2 396.0,108.2 397.6,106.5 398.9,104.7 400.2,102.5 401.6,100.5 402.1,99.8 400.5,97.9 398.9,97.4 397.0,96.1 396.6,94.3 396.5,92.8 395.7,93.7 394.9,94.7 393.6,96.5 391.1,96.7 388.9,96.7 388.4,96.1 388.9,94.3 388.2,93.2 387.6,95.6 386.6,93.7 386.3,92.1 385.2,91.0 383.9,89.2 383.1,87.2 383.9,86.3 385.5,86.1 386.6,85.9 387.4,87.5 388.7,89.9 390.3,90.8 392.4,92.1 394.4,92.1 396.5,91.4 397.6,93.4 398.1,94.3 400.0,94.3 401.6,94.5 404.9,95.0 407.3,94.8 409.7,94.8 412.9,94.5 413.7,95.6 414.5,97.2 416.2,98.5 416.2,97.9 419.4,98.8 417.8,99.8 417.0,100.1 418.6,102.1 420.2,103.0 422.1,101.9 422.8,100.3 423.3,102.1 423.1,104.3 423.3,106.1 423.4,108.0 424.1,110.7 424.7,112.7 425.5,115.3 426.3,117.5 427.5,119.8 428.3,121.6 429.1,124.0 430.7,126.0 431.8,124.6 433.1,123.8 433.6,122.0 434.4,119.8 435.0,117.1 434.9,114.4 435.2,112.5 436.7,111.6 438.4,110.3 440.0,108.7 442.0,106.7 443.6,105.0 445.2,104.0 446.0,102.5 446.8,101.2 448.4,101.2 450.1,101.0 451.7,100.3 453.0,99.4 453.8,100.1 454.2,102.1 454.9,103.4 456.5,105.2 457.8,107.1 458.1,109.8 457.8,111.6 458.9,112.0 460.5,111.1 462.2,110.3 463.1,111.6 463.4,114.4 464.3,117.1 464.7,119.8 464.6,122.6 464.3,125.3 465.1,126.6 466.2,128.4 467.5,130.8 468.3,133.5 469.1,135.3 471.0,137.2 472.6,138.4 473.8,138.2 472.6,135.7 472.3,133.1 471.5,130.6 470.2,129.3 468.9,128.2 467.6,127.1 467.0,125.3 465.9,123.5 465.7,121.1 466.2,118.9 467.0,116.4 467.8,116.2 468.6,117.6 470.7,118.5 471.5,119.6 472.6,121.5 474.3,122.0 475.1,124.4 474.7,125.1 475.9,124.0 477.5,123.1 478.3,121.8 479.9,121.1 481.4,120.0 481.8,118.0 481.8,115.6 481.2,112.9 480.2,111.4 478.6,109.8 477.2,108.0 476.2,106.1 476.7,104.5 478.0,103.0 479.6,101.6 481.0,101.4 482.7,101.6 483.1,103.8 483.9,103.6 483.8,101.9 485.9,101.0 488.0,100.3 489.0,99.6 490.1,100.1 492.0,99.2 493.8,98.7 495.2,97.6 496.5,95.9 498.0,94.7 498.6,93.2 499.6,91.6 500.9,89.7 501.7,88.3 502.3,86.3 501.2,85.5 502.5,84.4 502.2,83.2 500.7,81.7 499.9,79.5 498.3,77.7 498.5,76.4 499.8,75.0 500.9,74.0 503.3,73.3 501.7,72.4 500.1,72.0 498.5,72.9 497.3,72.2 496.1,71.1 495.4,69.8 496.5,69.5 498.2,68.8 500.1,67.3 501.4,66.2 503.0,66.9 501.7,68.8 501.2,70.0 503.0,68.9 504.9,68.2 506.4,67.8 507.2,68.6 508.0,69.7 507.0,71.1 508.6,71.9 509.9,72.4 509.8,74.2 509.6,77.0 509.6,78.1 511.4,77.5 513.0,77.0 514.1,76.6 514.6,75.1 514.5,73.3 513.2,70.9 511.4,69.1 512.7,67.8 514.9,66.2 515.1,64.6 516.4,63.5 517.4,62.9 519.1,62.0 521.1,62.7 523.8,61.1 526.4,58.9 528.7,56.0 530.3,53.6 532.0,51.6 532.4,48.7 533.8,45.4 533.5,43.8 531.6,42.7 529.1,41.9 527.2,42.3 526.4,41.2 527.8,40.1 529.1,38.7 531.6,36.1 534.0,33.9 536.4,32.6 540.4,32.5 543.7,32.6 546.9,31.9 550.1,32.8 551.7,33.4 555.0,32.6 555.8,31.5 555.0,30.3 557.4,28.6 559.8,28.1 563.0,27.9 564.3,29.0 563.0,29.9 563.8,30.8 566.3,30.4 569.2,28.4 570.3,26.8 569.0,26.4 567.1,31.7 565.5,33.5 563.0,35.4 559.0,35.9 558.2,36.8 557.4,39.6 556.9,42.3 557.7,46.0 558.5,48.0 560.6,46.0 561.6,44.3 563.5,43.6 563.8,41.9 566.7,40.7 567.1,38.3 569.2,38.3 568.4,35.9 567.4,35.0 569.5,32.6 571.6,31.5 573.5,30.8 575.1,30.4 578.4,30.3 580.8,31.4 584.0,29.5 586.4,28.1 589.7,27.2 593.7,26.8 595.3,25.9 594.0,23.7 591.3,22.6 594.5,21.9 596.1,22.2M434.4,126.2 434.7,122.9 435.5,123.5 437.1,126.6 437.8,128.0 437.1,129.3 435.5,130.0 434.6,128.6 434.4,126.2M480.9,105.8 482.3,107.6 483.9,106.9 484.8,104.7 483.6,104.1 481.5,104.7 480.9,105.8M499.4,98.8 500.4,100.7 500.9,100.1 501.7,97.9 502.5,95.2 501.7,94.7 500.6,95.6 499.4,97.9 499.4,98.8M515.7,83.7 517.7,83.5 518.3,80.6 517.0,79.0 515.4,79.7 514.9,81.2 515.7,83.7M519.5,80.6 523.0,79.1 521.9,78.1 519.5,79.0 519.5,80.6M516.9,78.8 519.5,76.2 523.5,75.7 525.1,75.1 526.4,72.8 529.1,72.6 531.6,68.8 531.6,65.7 534.0,65.5 534.1,67.3 534.8,69.3 533.2,70.9 533.0,73.7 532.9,75.7 531.2,77.0 529.9,77.5 528.3,77.7 526.7,77.7 526.4,78.2 524.8,79.7 523.5,78.2 521.1,77.9 518.6,79.0 516.9,78.8M531.6,65.1 533.2,64.6 534.0,63.1 536.9,64.2 540.4,61.8 539.6,60.2 534.8,58.0 534.0,58.5 534.0,61.5 532.0,61.8 531.6,65.1M534.8,56.9 537.2,56.0 535.6,54.2 536.7,50.9 538.5,51.4 536.7,47.8 537.2,46.0 536.1,41.8 535.1,43.2 534.3,46.0 534.9,50.5 534.8,56.9M541.2,60.9 543.7,59.6M545.3,58.2 547.7,56.9M550.1,55.4 551.7,54.2M555.0,52.3 556.6,49.6M500.2,107.1 502.8,107.1 502.5,109.8 501.7,112.0 502.0,114.9 505.7,117.1 505.6,118.5 503.3,116.2 500.2,115.6 499.3,113.8 499.0,111.1 499.9,110.7 500.2,107.1M502.5,128.0 504.9,126.6 506.5,124.6 508.2,123.1 509.9,127.7 509.0,129.5 508.0,130.6 505.7,129.3 502.5,128.0M506.2,118.0 508.5,118.5 507.4,122.6 506.2,121.1 506.2,118.0M502.5,119.3 504.1,120.7 503.3,121.6 502.5,121.5 502.5,119.3M503.3,121.3 504.6,121.6 504.1,124.0 503.3,121.3M504.8,120.4 505.7,122.2 505.3,122.6 504.8,120.4M494.8,125.5 496.9,124.0 498.6,121.3 498.0,120.9 494.8,125.5M500.1,116.4 501.7,117.1 500.9,118.4 500.1,116.4M455.2,116.2 455.7,118.9 455.1,119.8 455.2,116.2M535.6,160.3 537.2,163.6 537.7,166.9 540.1,169.1 540.9,171.6 541.7,175.3 542.5,176.0 545.8,177.8 546.4,179.3 548.5,181.8 549.0,183.5 551.7,186.0 552.7,188.0 553.2,191.0 553.5,193.1 552.7,196.1 551.7,199.2 550.6,200.8 549.8,202.6 548.7,204.6 547.7,207.0 547.5,209.2 545.0,209.7 542.9,210.5 541.7,211.9 540.0,210.8 539.5,209.9 538.3,210.7 535.6,210.8 533.2,210.1 531.6,208.8 530.9,207.4 530.4,206.1 529.1,204.5 528.2,203.2 527.7,205.2 527.5,204.8 528.2,202.1 527.5,201.0 525.1,204.3 524.8,204.1 523.8,203.7 522.2,200.6 520.3,199.2 517.0,198.3 513.8,198.4 509.0,199.7 505.7,201.0 502.3,202.6 498.5,203.2 495.9,204.6 491.4,203.5 492.2,201.9 492.3,199.2 491.2,194.6 490.6,193.3 488.8,189.1 489.6,188.2 489.0,185.5 489.1,181.8 489.8,180.6 492.0,180.0 494.1,178.4 497.0,177.8 500.9,176.4 502.8,173.6 503.0,171.8 504.9,170.9 506.5,169.1 509.0,166.3 511.4,166.7 513.0,168.2 514.6,167.8 515.4,164.5 516.7,163.4 519.5,161.8 521.1,162.3 524.3,162.7 526.4,163.1 526.6,163.2 525.1,165.4 524.3,168.2 526.7,169.8 530.8,172.7 532.9,172.5 534.0,168.2 534.1,164.5 534.8,160.9 535.6,160.3M539.1,215.0 542.1,215.8 545.0,215.4 545.0,217.8 544.3,219.6 542.5,220.3 540.4,218.7 539.1,215.9 539.1,215.0M584.8,203.5 587.2,206.1 588.9,207.4 589.7,209.2 593.7,209.6 592.7,212.1 591.3,213.0 590.5,214.7 588.4,216.7 587.4,216.1 588.2,214.1 586.4,213.4 586.1,212.3 587.4,210.5 586.9,208.1 584.8,205.6 584.8,203.5M584.3,214.7 586.8,216.1 586.1,218.0 584.3,220.3 581.9,222.0 581.1,224.5 578.4,225.8 574.3,224.7 574.8,223.2 577.2,221.1 580.8,218.9 582.4,216.9 584.3,214.7M517.0,143.2 519.5,141.5 521.9,142.4 522.2,145.9 524.3,146.8 527.5,143.5 531.6,145.2 534.8,146.5 538.8,147.7 540.9,150.5 543.7,152.1 544.8,155.4 546.9,158.1 549.0,159.4 546.9,159.8 543.7,159.2 543.2,158.1 540.4,155.2 538.0,154.7 536.9,157.2 534.8,157.6 533.2,157.4 529.9,155.6 529.1,154.1 528.3,150.8 525.1,149.0 521.9,148.1 520.3,148.1 519.5,146.8 518.6,145.9 521.1,145.4 518.6,144.8 517.0,143.2M545.3,150.8 547.7,150.8 550.1,149.0 551.4,148.6 550.1,150.8 547.7,152.1 545.3,150.8M555.8,151.7 557.1,153.2 555.8,151.7M562.2,155.4 564.6,157.2 562.2,155.4M565.1,156.3 566.3,158.1 565.1,156.3M481.5,138.1 482.3,137.2 484.8,137.7 488.0,135.0 489.6,132.6 491.7,131.1 492.8,129.7 494.1,128.0 495.6,129.5 498.0,131.3 496.4,132.0 495.7,134.4 495.7,137.5 497.5,139.2 495.2,140.4 494.9,142.6 493.6,143.5 493.3,146.3 492.5,147.9 490.4,148.3 488.0,146.6 485.9,146.3 483.5,146.1 483.1,143.5 482.0,141.7 481.5,139.9 481.5,138.1M459.4,130.6 463.0,131.3 464.6,133.5 467.5,136.8 469.4,137.5 472.6,139.9 474.3,142.6 475.1,144.4 476.7,146.3 476.5,151.4 474.3,151.6 470.7,148.1 468.6,145.4 467.0,142.3 465.4,139.0 464.6,137.2 463.0,135.3 461.4,134.1 459.4,130.6M475.4,153.2 476.7,151.6 479.9,152.3 483.1,153.4 485.6,152.8 487.5,153.4 490.4,154.8 490.2,156.7 486.4,155.9 483.1,155.6 479.9,154.8 477.5,154.3 475.4,153.2M490.4,155.8 492.3,156.1 491.5,156.9 490.4,155.8M492.8,156.1 494.0,155.8 493.6,157.0 492.8,156.1M494.3,156.3 497.7,155.9 496.9,156.9 494.4,157.2 494.3,156.3M499.0,156.3 504.0,155.8 503.3,156.7 499.1,156.9 499.0,156.3M497.7,158.1 500.6,159.0 499.3,158.9 497.7,158.1M504.9,159.6 507.7,157.4 510.9,156.3 509.0,157.8 505.7,159.6 504.9,159.6M498.5,150.8 499.9,150.8 499.9,145.9 500.9,145.5 501.7,149.2 503.8,149.6 503.0,146.3 501.4,144.3 504.6,142.4 501.7,142.3 499.6,139.9 500.9,138.4 504.1,139.2 506.5,139.0 507.7,138.1 505.7,140.1 500.9,140.1 499.0,140.8 498.5,143.5 497.3,145.9 498.5,147.2 498.5,150.8M511.4,137.2 512.2,139.0 513.3,138.1 512.2,139.9 513.2,141.9 511.4,141.3 511.4,137.2M512.2,146.6 515.4,146.3 516.7,147.7 513.0,147.2 512.2,146.6M509.0,146.6 510.9,146.8 510.3,147.7 509.0,147.2 509.0,146.6M570.3,177.6 573.5,180.0 575.1,181.5 572.7,180.2 570.3,177.6M591.8,172.7 593.7,172.5 593.4,174.0 591.8,173.4 591.8,172.7M575.1,168.2 575.6,170.0 575.1,168.2" fill="none" stroke="#3a3a3a" stroke-width="1" stroke-linejoin="round"/></g><path d="M63.5,250.2v-5M63.5,13.1v5M144.2,250.2v-5M144.2,13.1v5M224.9,250.2v-5M224.9,13.1v5M305.6,250.2v-5M305.6,13.1v5M386.3,250.2v-5M386.3,13.1v5M467.0,250.2v-5M467.0,13.1v5M547.7,250.2v-5M547.7,13.1v5M15.1,250.2h5M596.1,250.2h-5M15.1,213.8h5M596.1,213.8h-5M15.1,177.3h5M596.1,177.3h-5M15.1,140.8h5M596.1,140.8h-5M15.1,104.3h5M596.1,104.3h-5M15.1,67.8h5M596.1,67.8h-5M15.1,31.4h5M596.1,31.4h-5" stroke="#a4a4a4" stroke-width="1" fill="none"/><text x="63.5" y="261.1" class="tl" text-anchor="middle">-150</text><text x="144.2" y="261.1" class="tl" text-anchor="middle">-100</text><text x="224.9" y="261.1" class="tl" text-anchor="middle">-50</text><text x="305.6" y="261.1" class="tl" text-anchor="middle">0</text><text x="386.3" y="261.1" class="tl" text-anchor="middle">50</text><text x="467.0" y="261.1" class="tl" text-anchor="middle">100</text><text x="547.7" y="261.1" class="tl" text-anchor="middle">150</text><text x="12.3" y="253.1" class="tl" text-anchor="end">-60</text><text x="12.3" y="216.7" class="tl" text-anchor="end">-40</text><text x="12.3" y="180.2" class="tl" text-anchor="end">-20</text><text x="12.3" y="143.7" class="tl" text-anchor="end">0</text><text x="12.3" y="107.2" class="tl" text-anchor="end">20</text><text x="12.3" y="70.7" class="tl" text-anchor="end">40</text><text x="12.3" y="34.3" class="tl" text-anchor="end">60</text><text x="305.5" y="10.8" class="tt" text-anchor="middle">Onset rate (Dry - Wet)</text><text x="1.6" y="9.8" class="pl">(a)</text><rect x="239.2" y="220.0" width="253.8" height="9.4" fill="url(#cb)" stroke="#555" stroke-width="0.4"/><path d="M281.5,229.4v-1.6M323.8,229.4v-1.6M366.1,229.4v-1.6M408.4,229.4v-1.6M450.7,229.4v-1.6" stroke="#333" stroke-width="0.6"/><text x="239.4" y="240.6" class="cl" text-anchor="middle">-0.3</text><text x="281.7" y="240.6" class="cl" text-anchor="middle">-0.2</text><text x="324.0" y="240.6" class="cl" text-anchor="middle">-0.1</text><text x="366.3" y="240.6" class="cl" text-anchor="middle">0</text><text x="408.6" y="240.6" class="cl" text-anchor="middle">0.1</text><text x="450.9" y="240.6" class="cl" text-anchor="middle">0.2</text><text x="493.2" y="240.6" class="cl" text-anchor="middle">0.3</text><clipPath id="clip1"><rect x="15.4" y="277.0" width="578.5" height="237.9"/></clipPath><rect x="15.4" y="277.0" width="578.5" height="237.9" fill="#fff" stroke="#bdbdbd" stroke-width="1"/><g clip-path="url(#clip1)"><g transform="translate(15,277.8)" fill="none"><path d="M25.6 0.0h1.6M56.0 0.0h1.6M81.6 0.0h1.6M395.2 0.0h1.6M400.0 0.0h1.6M430.4 0.0h1.6M440.0 0.0h3.2M451.2 0.0h1.6M457.6 0.0h1.6M462.4 0.0h1.6M22.4 1.6h1.6M27.2 1.6h1.6M371.2 1.6h1.6M417.6 1.6h1.6M456.0 1.6h1.6M472.0 1.6h1.6M28.8 3.2h1.6M339.2 3.2h4.8M400.0 3.2h1.6M457.6 3.2h1.6M478.4 3.2h1.6M481.6 3.2h1.6M528.0 3.2h1.6M49.6 4.8h1.6M382.4 4.8h1.6M385.6 4.8h1.6M408.0 4.8h1.6M443.2 4.8h1.6M44.8 6.4h1.6M102.4 6.4h1.6M324.8 6.4h1.6M337.6 6.4h1.6M340.8 6.4h4.8M385.6 6.4h1.6M443.2 6.4h1.6M49.6 8.0h1.6M60.8 8.0h1.6M339.2 8.0h3.2M355.2 8.0h1.6M403.2 8.0h1.6M460.8 8.0h1.6M480.0 8.0h1.6M569.6 8.0h1.6M49.6 9.6h1.6M52.8 9.6h1.6M99.2 9.6h1.6M371.2 9.6h1.6M379.2 9.6h1.6M409.6 9.6h1.6M427.2 9.6h1.6M470.4 9.6h1.6M491.2 9.6h1.6M16.0 11.2h1.6M25.6 11.2h1.6M28.8 11.2h1.6M40.0 11.2h1.6M44.8 11.2h1.6M113.6 11.2h1.6M305.6 11.2h1.6M329.6 11.2h1.6M340.8 11.2h1.6M353.6 11.2h1.6M356.8 11.2h1.6M369.6 11.2h1.6M393.6 11.2h1.6M416.0 11.2h1.6M441.6 11.2h1.6M481.6 11.2h1.6M22.4 12.8h1.6M25.6 12.8h1.6M28.8 12.8h1.6M32.0 12.8h1.6M40.0 12.8h3.2M59.2 12.8h1.6M62.4 12.8h1.6M110.4 12.8h1.6M305.6 12.8h1.6M331.2 12.8h1.6M358.4 12.8h1.6M25.6 14.4h4.8M64.0 14.4h1.6M96.0 14.4h1.6M299.2 14.4h1.6M305.6 14.4h3.2M316.8 14.4h1.6M332.8 14.4h1.6M347.2 14.4h1.6M392.0 14.4h1.6M417.6 14.4h1.6M561.6 14.4h1.6M564.8 14.4h1.6M24.0 16.0h1.6M30.4 16.0h1.6M129.6 16.0h1.6M350.4 16.0h1.6M355.2 16.0h3.2M446.4 16.0h1.6M478.4 16.0h1.6M497.6 16.0h1.6M508.8 16.0h1.6M28.8 17.6h1.6M38.4 17.6h1.6M68.8 17.6h3.2M120.0 17.6h1.6M124.8 17.6h1.6M128.0 17.6h3.2M136.0 17.6h1.6M176.0 17.6h1.6M307.2 17.6h1.6M337.6 17.6h1.6M352.0 17.6h8.0M385.6 17.6h1.6M390.4 17.6h1.6M395.2 17.6h3.2M424.0 17.6h1.6M440.0 17.6h1.6M448.0 17.6h1.6M472.0 17.6h1.6M68.8 19.2h1.6M84.8 19.2h1.6M120.0 19.2h3.2M126.4 19.2h3.2M136.0 19.2h3.2M299.2 19.2h1.6M304.0 19.2h1.6M334.4 19.2h4.8M353.6 19.2h1.6M358.4 19.2h3.2M364.8 19.2h1.6M374.4 19.2h1.6M379.2 19.2h1.6M398.4 19.2h1.6M460.8 19.2h1.6M110.4 20.8h1.6M166.4 20.8h1.6M179.2 20.8h1.6M307.2 20.8h1.6M313.6 20.8h3.2M337.6 20.8h1.6M340.8 20.8h1.6M361.6 20.8h1.6M366.4 20.8h3.2M374.4 20.8h1.6M427.2 20.8h1.6M110.4 22.4h1.6M132.8 22.4h1.6M169.6 22.4h1.6M176.0 22.4h1.6M283.2 22.4h1.6M360.0 22.4h1.6M436.8 22.4h1.6M36.8 24.0h1.6M129.6 24.0h1.6M132.8 24.0h1.6M168.0 24.0h1.6M188.8 24.0h1.6M278.4 24.0h1.6M324.8 24.0h1.6M372.8 24.0h1.6M387.2 24.0h1.6M428.8 24.0h1.6M435.2 24.0h1.6M454.4 24.0h1.6M27.2 25.6h1.6M92.8 25.6h1.6M100.8 25.6h1.6M118.4 25.6h1.6M134.4 25.6h1.6M169.6 25.6h1.6M179.2 25.6h1.6M276.8 25.6h1.6M302.4 25.6h1.6M305.6 25.6h3.2M422.4 25.6h1.6M448.0 25.6h1.6M475.2 25.6h3.2M100.8 27.2h1.6M104.0 27.2h3.2M131.2 27.2h1.6M275.2 27.2h3.2M280.0 27.2h1.6M288.0 27.2h1.6M302.4 27.2h1.6M321.6 27.2h1.6M337.6 27.2h3.2M358.4 27.2h1.6M361.6 27.2h1.6M427.2 27.2h1.6M436.8 27.2h1.6M440.0 27.2h1.6M451.2 27.2h1.6M454.4 27.2h3.2M81.6 28.8h1.6M136.0 28.8h4.8M161.6 28.8h1.6M166.4 28.8h1.6M185.6 28.8h1.6M304.0 28.8h1.6M316.8 28.8h1.6M320.0 28.8h3.2M358.4 28.8h1.6M368.0 28.8h1.6M396.8 28.8h1.6M420.8 28.8h1.6M435.2 28.8h1.6M451.2 28.8h1.6M459.2 28.8h3.2M507.2 28.8h1.6M91.2 30.4h3.2M128.0 30.4h1.6M161.6 30.4h3.2M174.4 30.4h1.6M195.2 30.4h1.6M286.4 30.4h3.2M318.4 30.4h1.6M369.6 30.4h1.6M379.2 30.4h1.6M403.2 30.4h1.6M451.2 30.4h1.6M457.6 30.4h1.6M464.0 30.4h1.6M129.6 32.0h1.6M163.2 32.0h1.6M169.6 32.0h1.6M190.4 32.0h1.6M276.8 32.0h1.6M283.2 32.0h1.6M310.4 32.0h3.2M379.2 32.0h1.6M395.2 32.0h1.6M416.0 32.0h1.6M433.6 32.0h1.6M448.0 32.0h1.6M464.0 32.0h1.6M472.0 32.0h1.6M83.2 33.6h1.6M129.6 33.6h1.6M158.4 33.6h1.6M166.4 33.6h1.6M169.6 33.6h1.6M177.6 33.6h1.6M192.0 33.6h1.6M288.0 33.6h1.6M291.2 33.6h1.6M312.0 33.6h1.6M324.8 33.6h3.2M336.0 33.6h1.6M342.4 33.6h1.6M356.8 33.6h1.6M361.6 33.6h1.6M385.6 33.6h1.6M388.8 33.6h1.6M432.0 33.6h1.6M456.0 33.6h1.6M459.2 33.6h1.6M465.6 33.6h1.6M96.0 35.2h1.6M107.2 35.2h1.6M110.4 35.2h1.6M123.2 35.2h1.6M132.8 35.2h1.6M139.2 35.2h3.2M160.0 35.2h1.6M171.2 35.2h4.8M177.6 35.2h1.6M196.8 35.2h1.6M280.0 35.2h1.6M310.4 35.2h1.6M315.2 35.2h1.6M323.2 35.2h1.6M329.6 35.2h1.6M339.2 35.2h1.6M360.0 35.2h3.2M380.8 35.2h1.6M411.2 35.2h1.6M417.6 35.2h1.6M430.4 35.2h1.6M433.6 35.2h1.6M94.4 36.8h1.6M104.0 36.8h1.6M132.8 36.8h1.6M144.0 36.8h1.6M152.0 36.8h1.6M155.2 36.8h1.6M169.6 36.8h1.6M176.0 36.8h1.6M200.0 36.8h1.6M289.6 36.8h1.6M308.8 36.8h1.6M312.0 36.8h1.6M328.0 36.8h1.6M336.0 36.8h1.6M339.2 36.8h1.6M345.6 36.8h1.6M388.8 36.8h1.6M411.2 36.8h1.6M430.4 36.8h1.6M444.8 36.8h1.6M472.0 36.8h1.6M89.6 38.4h1.6M107.2 38.4h1.6M110.4 38.4h1.6M113.6 38.4h1.6M118.4 38.4h3.2M139.2 38.4h1.6M150.4 38.4h1.6M155.2 38.4h1.6M164.8 38.4h1.6M174.4 38.4h1.6M291.2 38.4h3.2M308.8 38.4h1.6M315.2 38.4h1.6M323.2 38.4h1.6M337.6 38.4h1.6M342.4 38.4h1.6M411.2 38.4h3.2M443.2 38.4h1.6M470.4 38.4h1.6M107.2 40.0h1.6M113.6 40.0h4.8M124.8 40.0h1.6M131.2 40.0h3.2M137.6 40.0h1.6M160.0 40.0h1.6M166.4 40.0h1.6M307.2 40.0h1.6M312.0 40.0h4.8M329.6 40.0h1.6M336.0 40.0h3.2M342.4 40.0h3.2M350.4 40.0h1.6M353.6 40.0h3.2M360.0 40.0h1.6M382.4 40.0h1.6M99.2 41.6h1.6M121.6 41.6h3.2M129.6 41.6h1.6M284.8 41.6h1.6M305.6 41.6h1.6M308.8 41.6h1.6M313.6 41.6h3.2M336.0 41.6h1.6M345.6 41.6h1.6M352.0 41.6h3.2M414.4 41.6h1.6M473.6 41.6h1.6M105.6 43.2h1.6M116.8 43.2h1.6M123.2 43.2h1.6M139.2 43.2h3.2M160.0 43.2h1.6M176.0 43.2h1.6M288.0 43.2h3.2M302.4 43.2h3.2M307.2 43.2h1.6M312.0 43.2h3.2M316.8 43.2h1.6M326.4 43.2h1.6M329.6 43.2h1.6M344.0 43.2h1.6M432.0 43.2h1.6M92.8 44.8h1.6M100.8 44.8h1.6M104.0 44.8h1.6M107.2 44.8h4.8M118.4 44.8h1.6M126.4 44.8h1.6M129.6 44.8h1.6M144.0 44.8h1.6M147.2 44.8h1.6M176.0 44.8h1.6M187.2 44.8h1.6M288.0 44.8h4.8M302.4 44.8h1.6M307.2 44.8h1.6M316.8 44.8h1.6M320.0 44.8h3.2M476.8 44.8h1.6M94.4 46.4h3.2M100.8 46.4h1.6M108.8 46.4h1.6M112.0 46.4h1.6M115.2 46.4h1.6M120.0 46.4h1.6M153.6 46.4h1.6M177.6 46.4h1.6M318.4 46.4h1.6M328.0 46.4h1.6M520.0 46.4h1.6M91.2 48.0h1.6M102.4 48.0h1.6M112.0 48.0h1.6M116.8 48.0h3.2M139.2 48.0h1.6M182.4 48.0h1.6M292.8 48.0h1.6M297.6 48.0h1.6M315.2 48.0h1.6M331.2 48.0h1.6M353.6 48.0h1.6M454.4 48.0h1.6M457.6 48.0h1.6M99.2 49.6h3.2M104.0 49.6h6.4M115.2 49.6h1.6M123.2 49.6h3.2M144.0 49.6h1.6M169.6 49.6h1.6M286.4 49.6h3.2M291.2 49.6h1.6M308.8 49.6h1.6M318.4 49.6h1.6M323.2 49.6h1.6M395.2 49.6h1.6M404.8 49.6h1.6M483.2 49.6h1.6M102.4 51.2h1.6M124.8 51.2h1.6M128.0 51.2h1.6M132.8 51.2h1.6M137.6 51.2h3.2M155.2 51.2h1.6M280.0 51.2h1.6M284.8 51.2h3.2M289.6 51.2h1.6M323.2 51.2h1.6M332.8 51.2h1.6M339.2 51.2h1.6M345.6 51.2h1.6M377.6 51.2h1.6M411.2 51.2h1.6M414.4 51.2h1.6M462.4 51.2h1.6M99.2 52.8h1.6M104.0 52.8h1.6M116.8 52.8h1.6M142.4 52.8h1.6M145.6 52.8h1.6M304.0 52.8h1.6M313.6 52.8h1.6M316.8 52.8h1.6M321.6 52.8h1.6M336.0 52.8h4.8M342.4 52.8h1.6M353.6 52.8h1.6M379.2 52.8h1.6M409.6 52.8h1.6M467.2 52.8h1.6M488.0 52.8h1.6M113.6 54.4h1.6M148.8 54.4h1.6M160.0 54.4h1.6M164.8 54.4h1.6M273.6 54.4h1.6M276.8 54.4h1.6M336.0 54.4h3.2M340.8 54.4h1.6M352.0 54.4h1.6M92.8 56.0h1.6M96.0 56.0h3.2M121.6 56.0h1.6M132.8 56.0h1.6M139.2 56.0h1.6M142.4 56.0h3.2M153.6 56.0h1.6M166.4 56.0h1.6M273.6 56.0h3.2M284.8 56.0h1.6M339.2 56.0h1.6M363.2 56.0h1.6M408.0 56.0h1.6M441.6 56.0h1.6M483.2 56.0h1.6M91.2 57.6h4.8M104.0 57.6h1.6M118.4 57.6h1.6M139.2 57.6h3.2M145.6 57.6h1.6M150.4 57.6h1.6M163.2 57.6h1.6M281.6 57.6h3.2M326.4 57.6h1.6M340.8 57.6h1.6M441.6 57.6h1.6M92.8 59.2h1.6M99.2 59.2h1.6M121.6 59.2h1.6M124.8 59.2h1.6M147.2 59.2h1.6M155.2 59.2h1.6M299.2 59.2h1.6M302.4 59.2h1.6M332.8 59.2h1.6M353.6 59.2h1.6M492.8 59.2h1.6M107.2 60.8h1.6M123.2 60.8h1.6M137.6 60.8h1.6M161.6 60.8h1.6M291.2 60.8h1.6M294.4 60.8h1.6M299.2 60.8h1.6M339.2 60.8h3.2M355.2 60.8h1.6M376.0 60.8h1.6M401.6 60.8h1.6M441.6 60.8h1.6M508.8 60.8h1.6M108.8 62.4h1.6M118.4 62.4h3.2M152.0 62.4h1.6M94.4 64.0h1.6M110.4 64.0h1.6M121.6 64.0h1.6M124.8 64.0h1.6M131.2 64.0h1.6M144.0 64.0h1.6M464.0 64.0h1.6M475.2 64.0h1.6M105.6 65.6h1.6M108.8 65.6h1.6M118.4 65.6h1.6M131.2 65.6h3.2M136.0 65.6h1.6M148.8 65.6h1.6M371.2 65.6h1.6M441.6 65.6h1.6M102.4 67.2h4.8M126.4 67.2h1.6M136.0 67.2h1.6M153.6 67.2h1.6M452.8 67.2h1.6M100.8 68.8h1.6M107.2 68.8h1.6M136.0 68.8h1.6M140.8 68.8h1.6M144.0 68.8h1.6M152.0 68.8h3.2M464.0 68.8h1.6M108.8 70.4h1.6M113.6 70.4h1.6M144.0 70.4h3.2M148.8 70.4h1.6M441.6 70.4h1.6M446.4 70.4h1.6M142.4 72.0h1.6M145.6 72.0h1.6M150.4 72.0h1.6M374.4 72.0h1.6M446.4 72.0h1.6M460.8 72.0h1.6M113.6 73.6h1.6M116.8 73.6h1.6M120.0 73.6h1.6M129.6 73.6h1.6M144.0 73.6h1.6M286.4 73.6h1.6M350.4 73.6h1.6M449.6 73.6h3.2M398.4 75.2h1.6M115.2 76.8h1.6M129.6 76.8h1.6M155.2 76.8h3.2M422.4 76.8h1.6M115.2 78.4h1.6M158.4 78.4h1.6M129.6 80.0h1.6M158.4 80.0h3.2M470.4 81.6h1.6M129.6 83.2h1.6M465.6 83.2h1.6M411.2 84.8h1.6M430.4 84.8h1.6M456.0 84.8h1.6M465.6 84.8h1.6M483.2 84.8h1.6M417.6 86.4h1.6M436.8 86.4h1.6M454.4 86.4h1.6M464.0 86.4h1.6M467.2 86.4h1.6M420.8 88.0h1.6M422.4 89.6h1.6M171.2 92.8h1.6M348.8 92.8h1.6M291.2 94.4h1.6M331.2 94.4h1.6M283.2 96.0h1.6M329.6 96.0h1.6M332.8 97.6h1.6M142.4 99.2h1.6M334.4 99.2h1.6M340.8 99.2h1.6M144.0 100.8h1.6M302.4 100.8h1.6M305.6 100.8h1.6M312.0 100.8h3.2M316.8 100.8h1.6M337.6 100.8h1.6M305.6 102.4h1.6M316.8 102.4h1.6M459.2 102.4h1.6M270.4 104.0h1.6M316.8 104.0h1.6M320.0 104.0h1.6M459.2 104.0h1.6M283.2 105.6h1.6M412.8 105.6h3.2M412.8 107.2h1.6M185.6 108.8h1.6M267.2 108.8h3.2M275.2 108.8h1.6M280.0 108.8h1.6M176.0 110.4h1.6M270.4 110.4h1.6M278.4 110.4h1.6M302.4 110.4h1.6M361.6 110.4h1.6M275.2 112.0h3.2M283.2 112.0h1.6M342.4 112.0h1.6M174.4 113.6h1.6M185.6 113.6h1.6M188.8 113.6h1.6M486.4 113.6h1.6M302.4 115.2h1.6M336.0 115.2h1.6M339.2 115.2h1.6M188.8 116.8h1.6M185.6 118.4h1.6M192.0 118.4h1.6M297.6 118.4h1.6M315.2 120.0h1.6M320.0 120.0h1.6M331.2 120.0h1.6M472.0 120.0h1.6M163.2 123.2h1.6M308.8 123.2h3.2M345.6 123.2h1.6M198.4 124.8h1.6M329.6 124.8h1.6M449.6 124.8h1.6M456.0 124.8h1.6M329.6 126.4h1.6M345.6 126.4h1.6M161.6 128.0h1.6M182.4 128.0h1.6M203.2 129.6h1.6M315.2 129.6h3.2M336.0 129.6h1.6M454.4 129.6h1.6M174.4 131.2h1.6M318.4 131.2h1.6M334.4 131.2h1.6M451.2 131.2h1.6M174.4 132.8h1.6M312.0 132.8h1.6M516.8 132.8h1.6M214.4 134.4h1.6M320.0 134.4h3.2M348.8 134.4h1.6M164.8 136.0h1.6M206.4 139.2h1.6M460.8 139.2h1.6M180.8 140.8h1.6M211.2 140.8h1.6M483.2 144.0h1.6M310.4 145.6h1.6M340.8 145.6h3.2M168.0 147.2h1.6M198.4 150.4h1.6M201.6 150.4h1.6M211.2 150.4h1.6M366.4 150.4h1.6M500.8 150.4h1.6M499.2 152.0h1.6M500.8 153.6h1.6M515.2 153.6h6.4M342.4 156.8h1.6M369.6 156.8h1.6M488.0 156.8h1.6M497.6 156.8h1.6M500.8 156.8h1.6M520.0 156.8h1.6M206.4 158.4h1.6M217.6 158.4h1.6M315.2 158.4h3.2M484.8 158.4h1.6M497.6 158.4h1.6M510.4 158.4h1.6M521.6 158.4h1.6M206.4 160.0h1.6M316.8 160.0h1.6M489.6 160.0h1.6M512.0 160.0h1.6M320.0 161.6h1.6M334.4 163.2h1.6M494.4 163.2h1.6M508.8 163.2h1.6M515.2 163.2h1.6M520.0 163.2h1.6M329.6 164.8h1.6M494.4 164.8h1.6M184.0 166.4h1.6M318.4 166.4h1.6M526.4 166.4h1.6M491.2 168.0h1.6M497.6 168.0h1.6M518.4 168.0h1.6M524.8 168.0h3.2M187.2 169.6h1.6M497.6 169.6h1.6M318.4 171.2h1.6M504.0 171.2h1.6M528.0 171.2h1.6M211.2 172.8h1.6M488.0 172.8h1.6M508.8 172.8h1.6M204.8 174.4h1.6M472.0 174.4h1.6M488.0 174.4h1.6M529.6 174.4h1.6M209.6 176.0h1.6M470.4 176.0h1.6M473.6 176.0h1.6M476.8 176.0h1.6M500.8 176.0h1.6M176.0 177.6h1.6M518.4 177.6h3.2M528.0 177.6h1.6M484.8 179.2h1.6M534.4 179.2h1.6M328.0 180.8h1.6M476.8 180.8h1.6M491.2 180.8h1.6M524.8 180.8h3.2M187.2 182.4h1.6M513.6 182.4h1.6M518.4 182.4h1.6M521.6 182.4h1.6M526.4 182.4h3.2M203.2 184.0h1.6M318.4 184.0h1.6M321.6 184.0h1.6M500.8 184.0h1.6M504.0 184.0h1.6M516.8 184.0h1.6M476.8 187.2h1.6M486.4 187.2h1.6M507.2 187.2h1.6M529.6 187.2h1.6M478.4 188.8h1.6M473.6 190.4h1.6M192.0 193.6h1.6M195.2 195.2h1.6M518.4 195.2h1.6M523.2 195.2h1.6M192.0 196.8h1.6M569.6 196.8h1.6" stroke="#fae6e6" stroke-width="1.6"/><path d="M331.2 0.0h1.6M334.4 0.0h1.6M449.6 0.0h1.6M470.4 0.0h1.6M473.6 0.0h1.6M550.4 0.0h1.6M25.6 1.6h1.6M49.6 1.6h1.6M64.0 1.6h1.6M134.4 1.6h1.6M336.0 1.6h1.6M123.2 3.2h1.6M150.4 3.2h1.6M377.6 3.2h1.6M388.8 3.2h1.6M393.6 3.2h1.6M436.8 3.2h1.6M33.6 4.8h1.6M62.4 4.8h1.6M316.8 4.8h1.6M387.2 4.8h1.6M523.2 4.8h1.6M99.2 6.4h3.2M390.4 6.4h1.6M33.6 8.0h1.6M62.4 8.0h1.6M112.0 8.0h1.6M385.6 8.0h1.6M408.0 8.0h3.2M457.6 8.0h1.6M496.0 8.0h1.6M32.0 9.6h1.6M41.6 9.6h1.6M59.2 9.6h1.6M70.4 9.6h1.6M86.4 9.6h1.6M345.6 9.6h1.6M366.4 9.6h1.6M392.0 9.6h1.6M489.6 9.6h1.6M24.0 11.2h1.6M33.6 11.2h3.2M56.0 11.2h1.6M67.2 11.2h1.6M99.2 11.2h1.6M304.0 11.2h1.6M427.2 11.2h1.6M24.0 14.4h1.6M60.8 14.4h1.6M164.8 14.4h1.6M312.0 14.4h1.6M336.0 14.4h1.6M352.0 14.4h1.6M464.0 14.4h1.6M553.6 14.4h1.6M164.8 16.0h1.6M305.6 16.0h1.6M312.0 16.0h3.2M336.0 16.0h1.6M348.8 16.0h1.6M366.4 16.0h1.6M390.4 16.0h1.6M449.6 16.0h1.6M467.2 16.0h1.6M486.4 16.0h1.6M102.4 17.6h1.6M172.8 17.6h1.6M302.4 17.6h1.6M305.6 17.6h1.6M310.4 17.6h4.8M344.0 17.6h1.6M377.6 17.6h1.6M400.0 17.6h1.6M433.6 17.6h1.6M449.6 17.6h1.6M459.2 17.6h1.6M96.0 19.2h1.6M329.6 19.2h1.6M342.4 19.2h1.6M396.8 19.2h1.6M462.4 19.2h1.6M97.6 20.8h1.6M132.8 20.8h1.6M171.2 20.8h1.6M299.2 20.8h1.6M310.4 20.8h1.6M452.8 20.8h1.6M486.4 20.8h1.6M33.6 22.4h1.6M80.0 22.4h3.2M94.4 22.4h1.6M131.2 22.4h1.6M139.2 22.4h1.6M304.0 22.4h1.6M313.6 22.4h1.6M334.4 22.4h1.6M353.6 22.4h1.6M460.8 22.4h1.6M33.6 24.0h1.6M136.0 24.0h1.6M166.4 24.0h1.6M430.4 24.0h1.6M104.0 25.6h1.6M121.6 25.6h1.6M136.0 25.6h1.6M168.0 25.6h1.6M176.0 25.6h3.2M280.0 25.6h1.6M433.6 25.6h1.6M452.8 25.6h1.6M473.6 25.6h1.6M96.0 27.2h1.6M113.6 27.2h1.6M140.8 27.2h1.6M174.4 27.2h4.8M304.0 27.2h1.6M307.2 27.2h1.6M316.8 27.2h3.2M323.2 27.2h1.6M366.4 27.2h1.6M438.4 27.2h1.6M91.2 28.8h1.6M94.4 28.8h1.6M105.6 28.8h1.6M108.8 28.8h1.6M115.2 28.8h1.6M121.6 28.8h1.6M134.4 28.8h1.6M153.6 28.8h1.6M180.8 28.8h1.6M283.2 28.8h1.6M305.6 28.8h1.6M326.4 28.8h3.2M337.6 28.8h1.6M355.2 28.8h1.6M361.6 28.8h3.2M366.4 28.8h1.6M379.2 28.8h1.6M428.8 28.8h1.6M436.8 28.8h3.2M441.6 28.8h1.6M457.6 28.8h1.6M97.6 30.4h1.6M150.4 30.4h1.6M177.6 30.4h1.6M180.8 30.4h3.2M297.6 30.4h1.6M310.4 30.4h1.6M316.8 30.4h1.6M320.0 30.4h1.6M326.4 30.4h1.6M332.8 30.4h1.6M336.0 30.4h3.2M355.2 30.4h1.6M388.8 30.4h1.6M89.6 32.0h3.2M97.6 32.0h1.6M104.0 32.0h1.6M155.2 32.0h1.6M176.0 32.0h1.6M182.4 32.0h1.6M195.2 32.0h1.6M281.6 32.0h1.6M307.2 32.0h1.6M328.0 32.0h1.6M331.2 32.0h1.6M337.6 32.0h1.6M384.0 32.0h1.6M392.0 32.0h1.6M108.8 33.6h1.6M163.2 33.6h1.6M198.4 33.6h1.6M283.2 33.6h1.6M297.6 33.6h1.6M300.8 33.6h1.6M307.2 33.6h1.6M316.8 33.6h1.6M323.2 33.6h1.6M328.0 33.6h1.6M344.0 33.6h1.6M347.2 33.6h1.6M392.0 33.6h1.6M448.0 33.6h1.6M470.4 33.6h1.6M91.2 35.2h1.6M102.4 35.2h3.2M118.4 35.2h3.2M187.2 35.2h1.6M307.2 35.2h3.2M320.0 35.2h3.2M328.0 35.2h1.6M340.8 35.2h1.6M347.2 35.2h1.6M353.6 35.2h1.6M371.2 35.2h1.6M396.8 35.2h1.6M454.4 35.2h1.6M457.6 35.2h1.6M480.0 35.2h1.6M107.2 36.8h1.6M110.4 36.8h1.6M118.4 36.8h3.2M137.6 36.8h3.2M145.6 36.8h1.6M171.2 36.8h3.2M179.2 36.8h1.6M195.2 36.8h1.6M300.8 36.8h1.6M313.6 36.8h1.6M318.4 36.8h1.6M321.6 36.8h3.2M329.6 36.8h1.6M344.0 36.8h1.6M385.6 36.8h1.6M433.6 36.8h1.6M438.4 36.8h1.6M448.0 36.8h1.6M459.2 36.8h1.6M502.4 36.8h1.6M108.8 38.4h1.6M121.6 38.4h1.6M124.8 38.4h1.6M144.0 38.4h1.6M182.4 38.4h1.6M310.4 38.4h1.6M316.8 38.4h1.6M321.6 38.4h1.6M332.8 38.4h1.6M372.8 38.4h1.6M384.0 38.4h3.2M400.0 38.4h1.6M92.8 40.0h3.2M100.8 40.0h1.6M126.4 40.0h1.6M129.6 40.0h1.6M139.2 40.0h1.6M168.0 40.0h1.6M172.8 40.0h1.6M198.4 40.0h1.6M318.4 40.0h1.6M328.0 40.0h1.6M347.2 40.0h1.6M92.8 41.6h1.6M110.4 41.6h3.2M115.2 41.6h1.6M124.8 41.6h1.6M147.2 41.6h1.6M334.4 41.6h1.6M364.8 41.6h1.6M390.4 41.6h1.6M497.6 41.6h1.6M102.4 43.2h1.6M120.0 43.2h3.2M144.0 43.2h1.6M169.6 43.2h1.6M185.6 43.2h3.2M300.8 43.2h1.6M331.2 43.2h1.6M334.4 43.2h3.2M379.2 43.2h3.2M388.8 43.2h1.6M483.2 43.2h1.6M491.2 43.2h1.6M96.0 44.8h1.6M112.0 44.8h1.6M115.2 44.8h1.6M121.6 44.8h1.6M142.4 44.8h1.6M169.6 44.8h1.6M174.4 44.8h1.6M329.6 44.8h1.6M348.8 44.8h1.6M363.2 44.8h1.6M91.2 46.4h1.6M99.2 46.4h1.6M113.6 46.4h1.6M123.2 46.4h3.2M134.4 46.4h4.8M184.0 46.4h1.6M353.6 46.4h1.6M449.6 46.4h1.6M94.4 48.0h1.6M97.6 48.0h3.2M134.4 48.0h3.2M140.8 48.0h1.6M291.2 48.0h1.6M299.2 48.0h1.6M326.4 48.0h1.6M492.8 48.0h1.6M89.6 49.6h1.6M110.4 49.6h3.2M120.0 49.6h1.6M134.4 49.6h1.6M137.6 49.6h3.2M163.2 49.6h1.6M280.0 49.6h1.6M304.0 49.6h3.2M321.6 49.6h1.6M328.0 49.6h3.2M388.8 49.6h1.6M104.0 51.2h1.6M108.8 51.2h1.6M115.2 51.2h1.6M120.0 51.2h1.6M142.4 51.2h1.6M302.4 51.2h1.6M310.4 51.2h1.6M340.8 51.2h1.6M392.0 51.2h1.6M105.6 52.8h1.6M110.4 52.8h1.6M113.6 52.8h1.6M118.4 52.8h1.6M123.2 52.8h1.6M139.2 52.8h1.6M152.0 52.8h1.6M158.4 52.8h1.6M326.4 52.8h1.6M355.2 52.8h1.6M384.0 52.8h1.6M126.4 54.4h1.6M140.8 54.4h3.2M147.2 54.4h1.6M275.2 54.4h1.6M286.4 54.4h1.6M356.8 54.4h1.6M408.0 54.4h1.6M465.6 54.4h1.6M100.8 56.0h1.6M129.6 56.0h1.6M145.6 56.0h1.6M280.0 56.0h1.6M331.2 56.0h1.6M390.4 56.0h1.6M97.6 57.6h1.6M108.8 57.6h1.6M115.2 57.6h1.6M168.0 57.6h1.6M331.2 57.6h3.2M339.2 57.6h1.6M358.4 57.6h1.6M392.0 57.6h1.6M411.2 57.6h1.6M457.6 57.6h3.2M104.0 59.2h3.2M129.6 59.2h1.6M132.8 59.2h1.6M139.2 59.2h1.6M142.4 59.2h1.6M161.6 59.2h1.6M164.8 59.2h1.6M294.4 59.2h1.6M342.4 59.2h3.2M356.8 59.2h1.6M388.8 59.2h1.6M409.6 59.2h1.6M422.4 59.2h1.6M460.8 59.2h1.6M100.8 60.8h3.2M126.4 60.8h1.6M131.2 60.8h1.6M136.0 60.8h1.6M150.4 60.8h1.6M164.8 60.8h1.6M372.8 60.8h1.6M385.6 60.8h1.6M393.6 60.8h1.6M465.6 60.8h1.6M99.2 62.4h1.6M112.0 62.4h1.6M115.2 62.4h3.2M364.8 62.4h1.6M393.6 62.4h1.6M420.8 62.4h1.6M462.4 62.4h1.6M473.6 62.4h1.6M105.6 64.0h1.6M126.4 64.0h1.6M142.4 64.0h1.6M156.8 64.0h1.6M160.0 64.0h3.2M345.6 64.0h1.6M419.2 64.0h1.6M100.8 65.6h1.6M137.6 65.6h1.6M142.4 65.6h1.6M145.6 65.6h1.6M153.6 65.6h1.6M457.6 65.6h1.6M100.8 67.2h1.6M107.2 67.2h1.6M115.2 67.2h1.6M118.4 67.2h1.6M121.6 67.2h1.6M128.0 67.2h1.6M150.4 67.2h1.6M156.8 67.2h3.2M433.6 67.2h3.2M441.6 67.2h1.6M462.4 67.2h1.6M110.4 68.8h1.6M113.6 68.8h1.6M116.8 68.8h1.6M124.8 68.8h1.6M148.8 68.8h1.6M417.6 68.8h1.6M465.6 68.8h1.6M112.0 70.4h1.6M142.4 70.4h1.6M345.6 70.4h1.6M417.6 70.4h1.6M451.2 70.4h1.6M480.0 70.4h1.6M112.0 72.0h1.6M121.6 72.0h1.6M124.8 72.0h1.6M129.6 72.0h1.6M137.6 72.0h1.6M153.6 72.0h1.6M156.8 72.0h1.6M444.8 72.0h1.6M448.0 72.0h1.6M480.0 72.0h1.6M112.0 73.6h1.6M118.4 73.6h1.6M380.8 73.6h1.6M452.8 73.6h1.6M480.0 73.6h3.2M123.2 75.2h1.6M361.6 75.2h1.6M376.0 75.2h1.6M388.8 75.2h1.6M416.0 75.2h1.6M451.2 75.2h1.6M454.4 75.2h1.6M112.0 76.8h1.6M116.8 76.8h1.6M158.4 76.8h1.6M411.2 76.8h1.6M419.2 76.8h1.6M430.4 76.8h1.6M449.6 76.8h3.2M481.6 76.8h1.6M105.6 78.4h1.6M123.2 78.4h1.6M126.4 78.4h1.6M390.4 78.4h1.6M444.8 78.4h3.2M457.6 78.4h1.6M408.0 80.0h1.6M459.2 80.0h1.6M131.2 81.6h1.6M307.2 81.6h1.6M400.0 81.6h1.6M412.8 81.6h1.6M460.8 81.6h1.6M481.6 83.2h1.6M424.0 84.8h1.6M128.0 86.4h1.6M264.0 86.4h1.6M459.2 86.4h1.6M456.0 88.0h1.6M145.6 91.2h1.6M308.8 91.2h1.6M441.6 91.2h1.6M411.2 92.8h1.6M140.8 94.4h1.6M441.6 94.4h1.6M409.6 96.0h1.6M131.2 97.6h1.6M284.8 97.6h1.6M313.6 97.6h1.6M369.6 97.6h1.6M304.0 99.2h1.6M331.2 99.2h3.2M331.2 100.8h1.6M281.6 102.4h1.6M292.8 102.4h1.6M318.4 102.4h1.6M331.2 102.4h1.6M262.4 104.0h1.6M289.6 104.0h1.6M292.8 104.0h3.2M300.8 104.0h1.6M318.4 104.0h1.6M268.8 105.6h1.6M331.2 105.6h1.6M409.6 105.6h1.6M454.4 105.6h1.6M150.4 107.2h1.6M288.0 107.2h1.6M328.0 107.2h1.6M177.6 108.8h1.6M294.4 108.8h1.6M310.4 110.4h1.6M156.8 112.0h3.2M163.2 112.0h1.6M177.6 112.0h1.6M307.2 112.0h1.6M182.4 113.6h1.6M185.6 115.2h1.6M281.6 115.2h1.6M353.6 115.2h1.6M363.2 115.2h1.6M476.8 115.2h1.6M275.2 116.8h1.6M339.2 116.8h1.6M164.8 118.4h1.6M308.8 118.4h1.6M473.6 120.0h1.6M321.6 121.6h1.6M176.0 123.2h1.6M452.8 124.8h1.6M158.4 129.6h1.6M177.6 129.6h1.6M456.0 131.2h1.6M187.2 132.8h1.6M200.0 132.8h1.6M308.8 132.8h1.6M480.0 132.8h1.6M184.0 134.4h3.2M212.8 134.4h1.6M307.2 134.4h1.6M345.6 134.4h1.6M208.0 136.0h1.6M219.2 136.0h1.6M177.6 137.6h1.6M180.8 137.6h3.2M196.8 137.6h1.6M168.0 139.2h1.6M177.6 139.2h1.6M209.6 139.2h1.6M520.0 139.2h1.6M228.8 140.8h1.6M459.2 140.8h1.6M510.4 140.8h1.6M520.0 140.8h1.6M164.8 142.4h1.6M230.4 142.4h1.6M483.2 142.4h1.6M164.8 144.0h1.6M227.2 144.0h1.6M230.4 144.0h1.6M196.8 145.6h1.6M172.8 147.2h1.6M200.0 147.2h1.6M185.6 148.8h1.6M201.6 148.8h1.6M225.6 150.4h1.6M220.8 152.0h1.6M502.4 152.0h1.6M182.4 153.6h1.6M212.8 153.6h1.6M499.2 155.2h1.6M315.2 156.8h1.6M321.6 156.8h1.6M326.4 156.8h1.6M502.4 158.4h1.6M318.4 160.0h1.6M334.4 160.0h1.6M337.6 160.0h1.6M508.8 160.0h1.6M198.4 161.6h1.6M502.4 161.6h1.6M192.0 163.2h1.6M216.0 163.2h1.6M224.0 163.2h1.6M318.4 163.2h3.2M323.2 163.2h3.2M340.8 163.2h1.6M507.2 163.2h1.6M206.4 164.8h1.6M217.6 164.8h1.6M313.6 164.8h1.6M339.2 164.8h1.6M483.2 164.8h1.6M526.4 164.8h1.6M211.2 166.4h1.6M214.4 166.4h1.6M326.4 166.4h1.6M473.6 166.4h1.6M212.8 168.0h1.6M332.8 168.0h1.6M521.6 168.0h1.6M212.8 169.6h1.6M216.0 169.6h1.6M342.4 169.6h1.6M523.2 169.6h1.6M212.8 171.2h1.6M328.0 171.2h1.6M475.2 171.2h1.6M174.4 172.8h1.6M177.6 172.8h1.6M331.2 172.8h1.6M521.6 172.8h1.6M331.2 174.4h1.6M334.4 176.0h1.6M532.8 176.0h1.6M526.4 177.6h1.6M529.6 177.6h1.6M532.8 177.6h1.6M195.2 179.2h1.6M532.8 179.2h1.6M196.8 180.8h1.6M334.4 180.8h1.6M520.0 180.8h1.6M488.0 182.4h1.6M532.8 182.4h3.2M323.2 184.0h1.6M521.6 184.0h1.6M204.8 185.6h1.6M507.2 185.6h1.6M529.6 185.6h1.6M174.4 187.2h1.6M331.2 187.2h1.6M504.0 187.2h1.6M505.6 188.8h1.6M187.2 193.6h1.6M571.2 195.2h1.6M182.4 198.4h1.6M179.2 200.0h1.6M185.6 200.0h1.6M180.8 212.8h1.6M168.0 214.4h1.6M182.4 214.4h1.6M172.8 216.0h1.6M177.6 225.6h1.6" stroke="#e6e6fb" stroke-width="1.6"/><path d="M59.2 0.0h1.6M454.4 0.0h1.6M57.6 1.6h1.6M334.4 1.6h1.6M27.2 3.2h1.6M52.8 3.2h1.6M336.0 3.2h1.6M344.0 3.2h1.6M441.6 3.2h1.6M462.4 3.2h1.6M537.6 3.2h1.6M313.6 4.8h1.6M48.0 6.4h1.6M62.4 6.4h1.6M126.4 6.4h1.6M355.2 6.4h1.6M380.8 6.4h1.6M388.8 6.4h1.6M393.6 6.4h1.6M409.6 6.4h1.6M459.2 6.4h1.6M528.0 6.4h1.6M43.2 8.0h1.6M392.0 8.0h1.6M64.0 9.6h1.6M360.0 9.6h1.6M60.8 11.2h1.6M100.8 11.2h1.6M368.0 11.2h1.6M409.6 11.2h1.6M24.0 12.8h1.6M329.6 12.8h1.6M448.0 12.8h1.6M468.8 12.8h1.6M97.6 14.4h1.6M310.4 14.4h1.6M329.6 14.4h1.6M353.6 14.4h1.6M425.6 14.4h1.6M428.8 14.4h1.6M456.0 14.4h1.6M57.6 16.0h3.2M308.8 16.0h1.6M328.0 16.0h1.6M331.2 16.0h1.6M342.4 16.0h1.6M358.4 16.0h1.6M380.8 16.0h1.6M404.8 16.0h1.6M412.8 16.0h1.6M436.8 16.0h1.6M454.4 16.0h1.6M76.8 17.6h1.6M96.0 17.6h3.2M123.2 17.6h1.6M171.2 17.6h1.6M368.0 17.6h1.6M398.4 17.6h1.6M446.4 17.6h1.6M73.6 19.2h1.6M123.2 19.2h1.6M172.8 19.2h1.6M176.0 19.2h1.6M179.2 19.2h3.2M308.8 19.2h1.6M316.8 19.2h1.6M331.2 19.2h1.6M355.2 19.2h3.2M388.8 19.2h1.6M395.2 19.2h1.6M400.0 19.2h3.2M406.4 19.2h1.6M409.6 19.2h1.6M422.4 19.2h1.6M76.8 20.8h1.6M121.6 20.8h1.6M172.8 20.8h6.4M308.8 20.8h1.6M334.4 20.8h3.2M364.8 20.8h1.6M395.2 20.8h1.6M408.0 20.8h1.6M417.6 20.8h3.2M433.6 20.8h1.6M462.4 20.8h1.6M472.0 20.8h1.6M76.8 22.4h1.6M177.6 22.4h1.6M326.4 22.4h1.6M331.2 22.4h1.6M364.8 22.4h1.6M406.4 22.4h1.6M409.6 22.4h1.6M427.2 22.4h1.6M451.2 22.4h1.6M104.0 24.0h1.6M115.2 24.0h1.6M169.6 24.0h3.2M177.6 24.0h4.8M304.0 24.0h1.6M328.0 24.0h1.6M339.2 24.0h1.6M374.4 24.0h1.6M417.6 24.0h3.2M440.0 24.0h3.2M460.8 24.0h1.6M81.6 25.6h1.6M150.4 25.6h1.6M163.2 25.6h3.2M171.2 25.6h1.6M180.8 25.6h1.6M308.8 25.6h1.6M337.6 25.6h1.6M348.8 25.6h1.6M460.8 25.6h1.6M81.6 27.2h1.6M84.8 27.2h1.6M92.8 27.2h1.6M99.2 27.2h1.6M110.4 27.2h1.6M124.8 27.2h3.2M136.0 27.2h1.6M150.4 27.2h1.6M163.2 27.2h1.6M179.2 27.2h3.2M273.6 27.2h1.6M283.2 27.2h1.6M286.4 27.2h1.6M326.4 27.2h1.6M379.2 27.2h1.6M414.4 27.2h1.6M460.8 27.2h1.6M484.8 27.2h1.6M107.2 28.8h1.6M129.6 28.8h3.2M145.6 28.8h1.6M275.2 28.8h3.2M286.4 28.8h1.6M384.0 28.8h1.6M411.2 28.8h3.2M422.4 28.8h1.6M129.6 30.4h1.6M409.6 30.4h3.2M436.8 30.4h1.6M92.8 32.0h1.6M137.6 32.0h1.6M192.0 32.0h1.6M286.4 32.0h1.6M340.8 32.0h1.6M382.4 32.0h1.6M414.4 32.0h1.6M419.2 32.0h1.6M444.8 32.0h1.6M457.6 32.0h3.2M489.6 32.0h1.6M128.0 33.6h1.6M176.0 33.6h1.6M185.6 33.6h1.6M281.6 33.6h1.6M284.8 33.6h1.6M353.6 33.6h1.6M358.4 33.6h1.6M380.8 33.6h1.6M409.6 33.6h1.6M457.6 33.6h1.6M99.2 35.2h1.6M105.6 35.2h1.6M112.0 35.2h1.6M294.4 35.2h1.6M313.6 35.2h1.6M318.4 35.2h1.6M324.8 35.2h1.6M355.2 35.2h3.2M382.4 35.2h1.6M385.6 35.2h1.6M462.4 35.2h1.6M97.6 36.8h1.6M131.2 36.8h1.6M148.8 36.8h1.6M177.6 36.8h1.6M286.4 36.8h1.6M320.0 36.8h1.6M337.6 36.8h1.6M377.6 36.8h1.6M382.4 36.8h1.6M409.6 36.8h1.6M432.0 36.8h1.6M441.6 36.8h1.6M142.4 38.4h1.6M153.6 38.4h1.6M156.8 38.4h1.6M160.0 38.4h3.2M320.0 38.4h1.6M328.0 38.4h1.6M350.4 38.4h1.6M379.2 38.4h1.6M467.2 38.4h1.6M105.6 40.0h1.6M142.4 40.0h1.6M152.0 40.0h1.6M171.2 40.0h1.6M200.0 40.0h1.6M316.8 40.0h1.6M339.2 40.0h3.2M408.0 40.0h1.6M91.2 41.6h1.6M97.6 41.6h1.6M104.0 41.6h1.6M108.8 41.6h1.6M131.2 41.6h4.8M148.8 41.6h1.6M169.6 41.6h1.6M179.2 41.6h1.6M302.4 41.6h1.6M310.4 41.6h1.6M326.4 41.6h1.6M340.8 41.6h1.6M107.2 43.2h4.8M131.2 43.2h1.6M299.2 43.2h1.6M310.4 43.2h1.6M318.4 43.2h1.6M332.8 43.2h1.6M352.0 43.2h3.2M356.8 43.2h1.6M105.6 44.8h1.6M184.0 44.8h1.6M300.8 44.8h1.6M308.8 44.8h1.6M312.0 44.8h1.6M315.2 44.8h1.6M344.0 44.8h1.6M350.4 44.8h1.6M92.8 46.4h1.6M107.2 46.4h1.6M118.4 46.4h1.6M121.6 46.4h1.6M126.4 46.4h1.6M160.0 46.4h1.6M291.2 46.4h1.6M300.8 46.4h1.6M331.2 46.4h1.6M100.8 48.0h1.6M104.0 48.0h1.6M108.8 48.0h1.6M124.8 48.0h1.6M131.2 48.0h1.6M145.6 48.0h1.6M168.0 48.0h4.8M289.6 48.0h1.6M329.6 48.0h1.6M449.6 48.0h1.6M91.2 49.6h1.6M96.0 49.6h3.2M113.6 49.6h1.6M128.0 49.6h1.6M145.6 49.6h1.6M166.4 49.6h1.6M411.2 49.6h1.6M462.4 49.6h1.6M107.2 51.2h1.6M129.6 51.2h1.6M152.0 51.2h1.6M283.2 51.2h1.6M291.2 51.2h1.6M102.4 52.8h1.6M160.0 52.8h1.6M171.2 52.8h1.6M280.0 52.8h1.6M288.0 52.8h3.2M344.0 52.8h1.6M411.2 52.8h1.6M92.8 54.4h1.6M104.0 54.4h4.8M110.4 54.4h3.2M163.2 54.4h1.6M169.6 54.4h1.6M281.6 54.4h1.6M332.8 54.4h3.2M339.2 54.4h1.6M393.6 54.4h1.6M104.0 56.0h1.6M108.8 56.0h1.6M116.8 56.0h1.6M126.4 56.0h1.6M148.8 56.0h3.2M163.2 56.0h1.6M278.4 56.0h1.6M281.6 56.0h1.6M313.6 56.0h1.6M334.4 56.0h1.6M396.8 56.0h1.6M99.2 57.6h1.6M116.8 57.6h1.6M120.0 57.6h1.6M123.2 57.6h1.6M131.2 57.6h1.6M134.4 57.6h1.6M275.2 57.6h3.2M308.8 57.6h1.6M342.4 57.6h1.6M393.6 57.6h1.6M94.4 59.2h1.6M102.4 59.2h1.6M107.2 59.2h3.2M144.0 59.2h1.6M160.0 59.2h1.6M163.2 59.2h1.6M283.2 59.2h1.6M297.6 59.2h1.6M312.0 59.2h1.6M340.8 59.2h1.6M104.0 60.8h1.6M110.4 60.8h1.6M134.4 60.8h1.6M155.2 60.8h1.6M160.0 60.8h1.6M278.4 60.8h1.6M304.0 60.8h1.6M324.8 60.8h1.6M336.0 60.8h1.6M416.0 60.8h3.2M462.4 60.8h1.6M97.6 62.4h1.6M107.2 62.4h1.6M131.2 62.4h1.6M136.0 62.4h1.6M145.6 62.4h1.6M153.6 62.4h1.6M161.6 62.4h1.6M107.2 64.0h1.6M120.0 64.0h1.6M129.6 64.0h1.6M140.8 64.0h1.6M150.4 64.0h1.6M153.6 64.0h1.6M104.0 65.6h1.6M113.6 65.6h1.6M147.2 65.6h1.6M152.0 65.6h1.6M467.2 65.6h1.6M108.8 67.2h1.6M116.8 67.2h1.6M139.2 67.2h1.6M416.0 67.2h1.6M129.6 68.8h1.6M142.4 68.8h1.6M480.0 68.8h1.6M107.2 70.4h1.6M115.2 70.4h1.6M120.0 70.4h1.6M139.2 70.4h3.2M152.0 70.4h1.6M155.2 70.4h1.6M372.8 70.4h1.6M452.8 70.4h1.6M110.4 72.0h1.6M136.0 72.0h1.6M140.8 72.0h1.6M144.0 72.0h1.6M443.2 72.0h1.6M128.0 73.6h1.6M132.8 73.6h1.6M283.2 73.6h1.6M121.6 75.2h1.6M393.6 75.2h1.6M124.8 76.8h1.6M116.8 78.4h1.6M120.0 78.4h1.6M129.6 78.4h3.2M448.0 78.4h3.2M116.8 80.0h1.6M126.4 80.0h1.6M448.0 83.2h1.6M472.0 83.2h1.6M452.8 84.8h1.6M299.2 88.0h1.6M457.6 89.6h1.6M425.6 91.2h1.6M289.6 94.4h1.6M128.0 96.0h1.6M318.4 96.0h3.2M291.2 97.6h1.6M334.4 97.6h1.6M275.2 99.2h1.6M288.0 99.2h1.6M292.8 99.2h1.6M318.4 99.2h1.6M315.2 100.8h1.6M449.6 100.8h1.6M153.6 102.4h1.6M320.0 102.4h1.6M339.2 102.4h1.6M342.4 102.4h1.6M291.2 104.0h1.6M342.4 104.0h1.6M456.0 104.0h1.6M316.8 105.6h1.6M328.0 105.6h1.6M342.4 107.2h1.6M348.8 108.8h1.6M292.8 110.4h1.6M270.4 112.0h1.6M171.2 113.6h1.6M342.4 113.6h1.6M174.4 115.2h1.6M188.8 115.2h1.6M337.6 115.2h1.6M340.8 115.2h1.6M345.6 116.8h1.6M342.4 120.0h1.6M350.4 120.0h1.6M344.0 121.6h1.6M307.2 123.2h1.6M344.0 124.8h1.6M496.0 124.8h1.6M193.6 126.4h1.6M476.8 126.4h1.6M473.6 129.6h1.6M480.0 131.2h1.6M176.0 136.0h1.6M510.4 136.0h1.6M336.0 139.2h1.6M225.6 140.8h1.6M201.6 147.2h1.6M196.8 148.8h1.6M497.6 150.4h1.6M516.8 150.4h1.6M516.8 152.0h1.6M222.4 153.6h1.6M214.4 155.2h1.6M326.4 155.2h1.6M489.6 155.2h8.0M502.4 156.8h3.2M507.2 156.8h3.2M516.8 156.8h1.6M521.6 156.8h1.6M216.0 158.4h1.6M494.4 158.4h1.6M515.2 158.4h1.6M216.0 160.0h1.6M320.0 160.0h1.6M510.4 160.0h1.6M342.4 161.6h1.6M484.8 161.6h1.6M488.0 161.6h3.2M508.8 161.6h1.6M512.0 161.6h1.6M491.2 163.2h3.2M500.8 163.2h1.6M523.2 163.2h3.2M488.0 164.8h1.6M504.0 164.8h4.8M512.0 164.8h1.6M486.4 166.4h1.6M489.6 166.4h1.6M492.8 166.4h1.6M496.0 166.4h1.6M508.8 166.4h1.6M512.0 166.4h1.6M529.6 166.4h1.6M216.0 168.0h1.6M489.6 168.0h1.6M496.0 168.0h1.6M502.4 168.0h1.6M512.0 168.0h1.6M515.2 168.0h1.6M190.4 169.6h1.6M470.4 169.6h1.6M491.2 169.6h1.6M504.0 169.6h1.6M510.4 169.6h1.6M515.2 169.6h1.6M524.8 169.6h1.6M528.0 169.6h1.6M470.4 171.2h3.2M499.2 171.2h1.6M507.2 171.2h1.6M470.4 172.8h3.2M492.8 172.8h1.6M500.8 172.8h1.6M507.2 172.8h1.6M195.2 174.4h1.6M201.6 174.4h1.6M473.6 174.4h3.2M489.6 174.4h1.6M492.8 174.4h1.6M499.2 174.4h1.6M524.8 174.4h1.6M206.4 176.0h1.6M331.2 176.0h1.6M475.2 176.0h1.6M478.4 176.0h1.6M513.6 176.0h1.6M520.0 176.0h1.6M475.2 177.6h1.6M478.4 177.6h1.6M497.6 177.6h1.6M515.2 177.6h1.6M524.8 177.6h1.6M193.6 179.2h1.6M488.0 179.2h1.6M499.2 179.2h1.6M502.4 179.2h1.6M520.0 179.2h1.6M526.4 179.2h1.6M531.2 179.2h1.6M187.2 180.8h1.6M200.0 180.8h3.2M473.6 180.8h1.6M484.8 180.8h1.6M201.6 182.4h1.6M478.4 182.4h1.6M484.8 182.4h1.6M489.6 182.4h1.6M497.6 182.4h3.2M505.6 182.4h1.6M508.8 182.4h1.6M515.2 182.4h3.2M524.8 182.4h1.6M478.4 184.0h1.6M481.6 184.0h1.6M502.4 184.0h1.6M526.4 184.0h1.6M478.4 185.6h3.2M510.4 185.6h1.6M516.8 185.6h1.6M508.8 187.2h1.6M518.4 187.2h1.6M475.2 188.8h1.6M528.0 188.8h1.6M475.2 190.4h3.2M505.6 190.4h1.6M520.0 190.4h1.6M524.8 190.4h1.6M524.8 193.6h1.6M529.6 193.6h1.6M196.8 195.2h1.6M513.6 195.2h1.6M516.8 195.2h1.6M528.0 195.2h1.6M187.2 200.0h1.6M180.8 201.6h1.6M563.2 203.2h1.6" stroke="#f5d4d4" stroke-width="1.6"/><path d="M28.8 0.0h1.6M424.0 0.0h1.6M28.8 1.6h1.6M408.0 1.6h1.6M406.4 3.2h1.6M435.2 3.2h1.6M452.8 3.2h1.6M100.8 4.8h1.6M395.2 4.8h1.6M422.4 4.8h1.6M30.4 6.4h1.6M382.4 6.4h3.2M438.4 6.4h1.6M483.2 8.0h1.6M54.4 9.6h1.6M88.0 9.6h1.6M102.4 9.6h1.6M321.6 9.6h1.6M395.2 11.2h1.6M556.8 11.2h1.6M38.4 12.8h1.6M313.6 12.8h1.6M409.6 12.8h1.6M166.4 14.4h1.6M328.0 14.4h1.6M315.2 16.0h1.6M326.4 16.0h1.6M347.2 16.0h1.6M352.0 16.0h1.6M416.0 16.0h1.6M64.0 17.6h1.6M73.6 17.6h1.6M80.0 17.6h1.6M163.2 17.6h1.6M169.6 17.6h1.6M308.8 17.6h1.6M403.2 17.6h1.6M78.4 19.2h1.6M339.2 19.2h1.6M366.4 19.2h1.6M371.2 19.2h1.6M430.4 19.2h1.6M281.6 20.8h1.6M328.0 20.8h1.6M460.8 20.8h1.6M118.4 22.4h1.6M281.6 22.4h1.6M310.4 22.4h1.6M348.8 22.4h1.6M374.4 22.4h1.6M75.2 24.0h1.6M81.6 24.0h1.6M92.8 24.0h1.6M340.8 24.0h1.6M456.0 24.0h1.6M459.2 24.0h1.6M97.6 25.6h1.6M284.8 25.6h1.6M310.4 25.6h1.6M326.4 25.6h1.6M344.0 25.6h1.6M347.2 25.6h1.6M352.0 25.6h3.2M379.2 25.6h1.6M347.2 27.2h1.6M350.4 27.2h1.6M384.0 27.2h1.6M193.6 28.8h1.6M336.0 28.8h1.6M345.6 28.8h1.6M348.8 28.8h1.6M364.8 28.8h1.6M403.2 28.8h1.6M452.8 28.8h1.6M89.6 30.4h1.6M118.4 30.4h1.6M307.2 30.4h1.6M321.6 30.4h3.2M329.6 30.4h1.6M350.4 30.4h1.6M361.6 30.4h1.6M385.6 30.4h1.6M462.4 30.4h1.6M88.0 32.0h1.6M100.8 32.0h1.6M185.6 32.0h1.6M288.0 32.0h1.6M336.0 32.0h1.6M411.2 32.0h3.2M438.4 32.0h1.6M89.6 33.6h1.6M99.2 33.6h3.2M195.2 33.6h1.6M305.6 33.6h1.6M320.0 33.6h3.2M329.6 33.6h1.6M390.4 33.6h1.6M393.6 33.6h1.6M420.8 33.6h1.6M467.2 33.6h1.6M89.6 35.2h1.6M184.0 35.2h1.6M195.2 35.2h1.6M331.2 35.2h1.6M352.0 35.2h1.6M393.6 35.2h1.6M102.4 36.8h1.6M108.8 36.8h1.6M334.4 36.8h1.6M387.2 36.8h1.6M105.6 38.4h1.6M116.8 38.4h1.6M126.4 38.4h1.6M312.0 38.4h3.2M353.6 38.4h1.6M102.4 40.0h1.6M118.4 40.0h1.6M176.0 40.0h1.6M299.2 40.0h1.6M324.8 40.0h1.6M96.0 41.6h1.6M116.8 41.6h3.2M153.6 41.6h3.2M164.8 41.6h1.6M320.0 41.6h1.6M96.0 43.2h1.6M104.0 43.2h1.6M115.2 43.2h1.6M136.0 43.2h1.6M164.8 43.2h1.6M172.8 43.2h1.6M188.8 43.2h1.6M321.6 43.2h1.6M91.2 44.8h1.6M116.8 44.8h1.6M164.8 44.8h1.6M180.8 44.8h1.6M326.4 44.8h3.2M352.0 44.8h1.6M140.8 46.4h1.6M161.6 46.4h1.6M182.4 46.4h1.6M308.8 46.4h1.6M329.6 46.4h1.6M385.6 46.4h1.6M276.8 48.0h1.6M284.8 48.0h1.6M328.0 48.0h1.6M452.8 48.0h1.6M494.4 48.0h1.6M94.4 49.6h1.6M118.4 49.6h1.6M121.6 49.6h1.6M132.8 49.6h1.6M136.0 49.6h1.6M112.0 51.2h1.6M126.4 51.2h1.6M145.6 51.2h1.6M164.8 51.2h1.6M169.6 51.2h3.2M174.4 51.2h1.6M275.2 51.2h1.6M324.8 51.2h1.6M329.6 51.2h1.6M91.2 52.8h1.6M97.6 52.8h1.6M108.8 52.8h1.6M124.8 52.8h1.6M275.2 52.8h1.6M284.8 52.8h1.6M118.4 54.4h1.6M139.2 54.4h1.6M158.4 54.4h1.6M292.8 54.4h1.6M94.4 56.0h1.6M112.0 56.0h3.2M152.0 56.0h1.6M337.6 56.0h1.6M416.0 56.0h1.6M478.4 56.0h1.6M110.4 57.6h3.2M144.0 57.6h1.6M456.0 57.6h1.6M460.8 57.6h1.6M110.4 59.2h1.6M128.0 59.2h1.6M273.6 59.2h1.6M276.8 59.2h1.6M324.8 59.2h1.6M336.0 59.2h1.6M478.4 59.2h3.2M105.6 60.8h1.6M145.6 60.8h1.6M148.8 60.8h1.6M152.0 60.8h1.6M156.8 60.8h1.6M163.2 60.8h1.6M113.6 62.4h1.6M144.0 62.4h1.6M164.8 62.4h1.6M416.0 62.4h1.6M451.2 62.4h1.6M475.2 62.4h3.2M100.8 64.0h1.6M116.8 64.0h3.2M137.6 64.0h1.6M145.6 64.0h1.6M158.4 64.0h1.6M352.0 64.0h1.6M379.2 64.0h1.6M392.0 64.0h1.6M446.4 64.0h1.6M102.4 65.6h1.6M121.6 65.6h1.6M448.0 65.6h1.6M110.4 67.2h1.6M123.2 67.2h1.6M155.2 67.2h1.6M451.2 67.2h1.6M480.0 67.2h1.6M121.6 68.8h1.6M132.8 68.8h1.6M150.4 68.8h1.6M377.6 68.8h1.6M408.0 68.8h1.6M451.2 68.8h1.6M478.4 68.8h1.6M116.8 70.4h1.6M113.6 72.0h3.2M126.4 72.0h1.6M286.4 72.0h1.6M398.4 72.0h1.6M465.6 72.0h1.6M126.4 73.6h1.6M131.2 73.6h1.6M155.2 73.6h1.6M281.6 73.6h1.6M294.4 73.6h1.6M353.6 73.6h1.6M446.4 73.6h1.6M105.6 75.2h1.6M115.2 75.2h1.6M156.8 75.2h3.2M377.6 75.2h1.6M409.6 75.2h1.6M417.6 75.2h1.6M448.0 75.2h3.2M452.8 75.2h1.6M113.6 76.8h1.6M403.2 76.8h1.6M406.4 76.8h1.6M156.8 78.4h1.6M329.6 78.4h1.6M408.0 78.4h1.6M108.8 80.0h1.6M113.6 80.0h1.6M398.4 80.0h1.6M404.8 80.0h1.6M409.6 80.0h1.6M128.0 81.6h1.6M406.4 81.6h1.6M465.6 81.6h1.6M436.8 83.2h1.6M401.6 84.8h1.6M129.6 88.0h1.6M262.4 88.0h1.6M131.2 89.6h1.6M465.6 89.6h1.6M307.2 91.2h1.6M320.0 97.6h1.6M316.8 99.2h1.6M332.8 100.8h1.6M264.0 102.4h1.6M270.4 105.6h1.6M275.2 105.6h1.6M340.8 105.6h1.6M315.2 107.2h1.6M331.2 107.2h1.6M286.4 108.8h1.6M289.6 108.8h1.6M268.8 110.4h1.6M320.0 113.6h1.6M340.8 113.6h1.6M355.2 115.2h1.6M321.6 116.8h1.6M441.6 116.8h1.6M184.0 118.4h1.6M188.8 118.4h1.6M353.6 118.4h1.6M190.4 120.0h1.6M337.6 124.8h1.6M177.6 126.4h1.6M201.6 126.4h1.6M212.8 129.6h1.6M451.2 129.6h1.6M214.4 131.2h3.2M201.6 132.8h1.6M192.0 139.2h3.2M180.8 142.4h1.6M492.8 142.4h1.6M171.2 147.2h1.6M337.6 147.2h1.6M220.8 153.6h1.6M219.2 156.8h1.6M499.2 156.8h1.6M505.6 156.8h1.6M321.6 158.4h1.6M326.4 158.4h1.6M502.4 160.0h1.6M507.2 160.0h1.6M518.4 160.0h3.2M220.8 161.6h1.6M340.8 161.6h1.6M179.2 163.2h1.6M212.8 163.2h1.6M219.2 163.2h1.6M222.4 163.2h1.6M201.6 164.8h1.6M224.0 164.8h1.6M328.0 164.8h1.6M334.4 164.8h1.6M201.6 166.4h3.2M313.6 166.4h1.6M339.2 166.4h1.6M484.8 166.4h1.6M473.6 168.0h1.6M473.6 169.6h1.6M208.0 171.2h1.6M337.6 171.2h1.6M339.2 172.8h1.6M478.4 172.8h3.2M497.6 172.8h3.2M502.4 172.8h1.6M190.4 174.4h1.6M316.8 174.4h1.6M484.8 174.4h1.6M201.6 176.0h1.6M499.2 177.6h1.6M195.2 180.8h1.6M510.4 180.8h1.6M323.2 182.4h1.6M326.4 182.4h3.2M532.8 184.0h1.6M502.4 185.6h3.2M483.2 188.8h1.6M507.2 188.8h1.6M200.0 190.4h1.6M318.4 190.4h1.6M182.4 196.8h1.6M179.2 212.8h1.6" stroke="#d6d6f7" stroke-width="1.6"/><path d="M48.0 0.0h1.6M57.6 0.0h1.6M60.8 0.0h1.6M20.8 1.6h1.6M44.8 1.6h1.6M331.2 1.6h1.6M86.4 3.2h1.6M328.0 4.8h1.6M131.2 6.4h1.6M318.4 6.4h1.6M339.2 6.4h1.6M424.0 6.4h1.6M36.8 8.0h1.6M356.8 8.0h1.6M51.2 9.6h1.6M355.2 9.6h1.6M403.2 9.6h1.6M451.2 9.6h1.6M308.8 11.2h1.6M352.0 11.2h1.6M537.6 11.2h1.6M326.4 12.8h1.6M411.2 12.8h1.6M355.2 14.4h3.2M416.0 14.4h1.6M446.4 14.4h1.6M27.2 16.0h1.6M307.2 16.0h1.6M108.8 17.6h1.6M126.4 17.6h1.6M174.4 17.6h1.6M304.0 17.6h1.6M340.8 17.6h1.6M369.6 17.6h3.2M408.0 17.6h1.6M412.8 17.6h1.6M76.8 19.2h1.6M132.8 19.2h1.6M174.4 19.2h1.6M283.2 19.2h1.6M300.8 19.2h1.6M312.0 19.2h1.6M315.2 19.2h1.6M361.6 19.2h1.6M368.0 19.2h1.6M382.4 19.2h1.6M408.0 19.2h1.6M419.2 19.2h1.6M435.2 19.2h1.6M440.0 19.2h1.6M446.4 19.2h1.6M449.6 19.2h1.6M129.6 20.8h3.2M137.6 20.8h1.6M169.6 20.8h1.6M331.2 20.8h1.6M363.2 20.8h1.6M379.2 20.8h1.6M392.0 20.8h1.6M100.8 22.4h1.6M121.6 22.4h1.6M137.6 22.4h1.6M185.6 22.4h1.6M280.0 22.4h1.6M332.8 22.4h1.6M366.4 22.4h1.6M376.0 22.4h3.2M411.2 22.4h3.2M419.2 22.4h1.6M444.8 22.4h1.6M449.6 22.4h1.6M457.6 22.4h1.6M91.2 24.0h1.6M172.8 24.0h1.6M176.0 24.0h1.6M376.0 24.0h1.6M404.8 24.0h1.6M414.4 24.0h1.6M457.6 24.0h1.6M91.2 25.6h1.6M323.2 25.6h3.2M364.8 25.6h1.6M390.4 25.6h1.6M412.8 25.6h1.6M417.6 25.6h1.6M424.0 25.6h1.6M456.0 25.6h3.2M278.4 27.2h1.6M284.8 27.2h1.6M308.8 27.2h1.6M329.6 27.2h1.6M398.4 27.2h1.6M403.2 27.2h1.6M411.2 27.2h1.6M132.8 28.8h1.6M164.8 28.8h1.6M273.6 28.8h1.6M315.2 28.8h1.6M318.4 28.8h1.6M414.4 28.8h1.6M540.8 28.8h1.6M94.4 30.4h1.6M152.0 30.4h1.6M176.0 30.4h1.6M334.4 30.4h1.6M356.8 30.4h1.6M360.0 30.4h1.6M422.4 30.4h1.6M446.4 30.4h1.6M105.6 32.0h1.6M139.2 32.0h1.6M156.8 32.0h1.6M180.8 32.0h1.6M284.8 32.0h1.6M294.4 32.0h1.6M299.2 32.0h1.6M302.4 32.0h1.6M313.6 32.0h1.6M385.6 32.0h3.2M408.0 32.0h1.6M460.8 32.0h3.2M86.4 33.6h1.6M92.8 33.6h1.6M104.0 33.6h1.6M144.0 33.6h1.6M172.8 33.6h3.2M384.0 33.6h1.6M408.0 33.6h1.6M412.8 33.6h1.6M129.6 35.2h1.6M142.4 35.2h1.6M145.6 35.2h1.6M168.0 35.2h1.6M176.0 35.2h1.6M185.6 35.2h1.6M336.0 35.2h3.2M345.6 35.2h1.6M369.6 35.2h1.6M408.0 35.2h1.6M432.0 35.2h1.6M464.0 35.2h1.6M140.8 36.8h1.6M147.2 36.8h1.6M315.2 36.8h1.6M326.4 36.8h1.6M366.4 36.8h1.6M422.4 36.8h1.6M97.6 38.4h1.6M134.4 38.4h1.6M137.6 38.4h1.6M152.0 38.4h1.6M284.8 38.4h1.6M324.8 38.4h3.2M339.2 38.4h1.6M96.0 40.0h4.8M121.6 40.0h1.6M153.6 40.0h3.2M326.4 40.0h1.6M334.4 40.0h1.6M473.6 40.0h1.6M89.6 41.6h1.6M126.4 41.6h1.6M289.6 41.6h1.6M304.0 41.6h1.6M318.4 41.6h1.6M324.8 41.6h1.6M358.4 41.6h1.6M406.4 41.6h1.6M99.2 43.2h3.2M112.0 43.2h3.2M126.4 43.2h1.6M129.6 43.2h1.6M377.6 43.2h1.6M427.2 43.2h1.6M486.4 43.2h1.6M102.4 44.8h1.6M123.2 44.8h1.6M136.0 44.8h1.6M331.2 44.8h1.6M89.6 46.4h1.6M129.6 46.4h1.6M158.4 46.4h1.6M174.4 46.4h1.6M332.8 46.4h1.6M412.8 46.4h1.6M475.2 46.4h1.6M89.6 48.0h1.6M92.8 48.0h1.6M121.6 48.0h3.2M126.4 48.0h1.6M129.6 48.0h1.6M132.8 48.0h1.6M160.0 48.0h1.6M172.8 48.0h1.6M332.8 48.0h1.6M126.4 49.6h1.6M168.0 49.6h1.6M283.2 49.6h1.6M444.8 49.6h1.6M366.4 51.2h1.6M107.2 52.8h1.6M112.0 52.8h1.6M140.8 52.8h1.6M148.8 52.8h1.6M283.2 52.8h1.6M361.6 52.8h1.6M124.8 54.4h1.6M129.6 54.4h1.6M136.0 54.4h1.6M478.4 54.4h1.6M91.2 56.0h1.6M115.2 56.0h1.6M136.0 56.0h1.6M147.2 56.0h1.6M161.6 56.0h1.6M283.2 56.0h1.6M96.0 57.6h1.6M107.2 57.6h1.6M121.6 57.6h1.6M132.8 57.6h1.6M313.6 57.6h1.6M408.0 57.6h1.6M100.8 59.2h1.6M134.4 59.2h1.6M137.6 59.2h1.6M278.4 59.2h1.6M475.2 59.2h1.6M96.0 60.8h1.6M99.2 60.8h1.6M115.2 60.8h1.6M118.4 60.8h1.6M158.4 60.8h1.6M356.8 60.8h1.6M388.8 60.8h1.6M129.6 62.4h1.6M140.8 62.4h1.6M156.8 62.4h4.8M443.2 62.4h1.6M108.8 64.0h1.6M128.0 64.0h1.6M136.0 64.0h1.6M139.2 64.0h1.6M297.6 64.0h1.6M99.2 65.6h1.6M131.2 67.2h1.6M137.6 67.2h1.6M140.8 67.2h1.6M160.0 67.2h1.6M464.0 67.2h1.6M102.4 68.8h1.6M112.0 68.8h1.6M118.4 68.8h3.2M292.8 68.8h1.6M110.4 70.4h1.6M126.4 70.4h1.6M134.4 70.4h4.8M139.2 72.0h1.6M147.2 72.0h3.2M152.0 72.0h1.6M353.6 72.0h1.6M360.0 72.0h1.6M129.6 75.2h3.2M446.4 75.2h1.6M128.0 76.8h1.6M420.8 76.8h1.6M392.0 78.4h1.6M131.2 80.0h1.6M156.8 80.0h1.6M401.6 83.2h1.6M412.8 89.6h1.6M305.6 91.2h1.6M420.8 94.4h1.6M294.4 96.0h1.6M296.0 97.6h1.6M315.2 97.6h1.6M294.4 99.2h1.6M280.0 102.4h1.6M313.6 102.4h1.6M462.4 102.4h1.6M326.4 104.0h1.6M350.4 105.6h1.6M310.4 107.2h1.6M324.8 107.2h1.6M342.4 108.8h1.6M353.6 108.8h1.6M299.2 110.4h1.6M308.8 110.4h1.6M340.8 110.4h1.6M331.2 112.0h1.6M347.2 112.0h3.2M190.4 113.6h1.6M339.2 113.6h1.6M185.6 116.8h1.6M475.2 116.8h1.6M345.6 118.4h1.6M195.2 120.0h1.6M310.4 121.6h1.6M340.8 121.6h1.6M345.6 124.8h1.6M203.2 126.4h1.6M315.2 126.4h1.6M337.6 126.4h1.6M188.8 128.0h1.6M340.8 128.0h1.6M160.0 131.2h1.6M172.8 131.2h1.6M352.0 131.2h1.6M193.6 132.8h1.6M203.2 132.8h1.6M200.0 134.4h1.6M316.8 134.4h1.6M350.4 137.6h1.6M459.2 139.2h1.6M204.8 142.4h1.6M209.6 142.4h1.6M198.4 144.0h1.6M211.2 144.0h1.6M220.8 144.0h1.6M211.2 145.6h1.6M190.4 152.0h1.6M211.2 152.0h1.6M502.4 153.6h1.6M224.0 155.2h1.6M504.0 155.2h1.6M507.2 155.2h1.6M206.4 156.8h1.6M204.8 158.4h1.6M499.2 158.4h1.6M516.8 158.4h1.6M491.2 160.0h1.6M505.6 160.0h1.6M521.6 160.0h1.6M492.8 161.6h3.2M499.2 161.6h1.6M516.8 161.6h1.6M523.2 161.6h1.6M206.4 163.2h1.6M316.8 163.2h1.6M336.0 163.2h1.6M496.0 163.2h1.6M520.0 164.8h1.6M472.0 166.4h1.6M499.2 166.4h1.6M505.6 166.4h1.6M518.4 166.4h3.2M472.0 168.0h1.6M494.4 168.0h1.6M500.8 168.0h1.6M504.0 168.0h1.6M507.2 168.0h1.6M510.4 168.0h1.6M513.6 168.0h1.6M472.0 169.6h1.6M492.8 169.6h3.2M500.8 169.6h3.2M526.4 169.6h1.6M195.2 171.2h1.6M484.8 171.2h1.6M489.6 171.2h1.6M529.6 171.2h1.6M198.4 172.8h4.8M475.2 172.8h3.2M489.6 172.8h1.6M198.4 174.4h1.6M486.4 174.4h1.6M494.4 174.4h1.6M497.6 174.4h1.6M513.6 174.4h1.6M516.8 176.0h1.6M201.6 177.6h3.2M340.8 177.6h1.6M473.6 177.6h1.6M502.4 177.6h1.6M513.6 177.6h1.6M516.8 177.6h1.6M473.6 179.2h1.6M507.2 179.2h1.6M510.4 179.2h1.6M513.6 179.2h1.6M523.2 179.2h1.6M198.4 180.8h1.6M337.6 180.8h1.6M480.0 180.8h1.6M516.8 180.8h3.2M528.0 180.8h1.6M473.6 182.4h1.6M496.0 184.0h1.6M505.6 184.0h1.6M488.0 185.6h1.6M480.0 187.2h1.6M483.2 187.2h1.6M512.0 187.2h3.2M520.0 187.2h1.6M523.2 187.2h1.6M526.4 187.2h1.6M187.2 188.8h1.6M520.0 192.0h1.6M524.8 192.0h1.6M526.4 193.6h1.6M193.6 222.4h1.6" stroke="#ecbcbc" stroke-width="1.6"/><path d="M84.8 0.0h1.6M332.8 0.0h1.6M62.4 3.2h1.6M326.4 4.8h1.6M401.6 4.8h1.6M476.8 4.8h1.6M342.4 8.0h1.6M440.0 8.0h1.6M404.8 9.6h1.6M440.0 9.6h1.6M27.2 11.2h1.6M62.4 11.2h1.6M425.6 11.2h1.6M27.2 12.8h1.6M57.6 14.4h1.6M100.8 14.4h1.6M308.8 14.4h1.6M313.6 14.4h1.6M324.8 14.4h1.6M331.2 14.4h1.6M334.4 14.4h1.6M340.8 14.4h1.6M448.0 14.4h1.6M300.8 16.0h1.6M368.0 16.0h1.6M41.6 17.6h1.6M72.0 17.6h1.6M84.8 17.6h1.6M300.8 17.6h1.6M345.6 17.6h1.6M348.8 17.6h1.6M406.4 17.6h1.6M432.0 17.6h1.6M460.8 17.6h1.6M313.6 19.2h1.6M344.0 19.2h3.2M432.0 19.2h1.6M80.0 20.8h1.6M329.6 20.8h1.6M344.0 20.8h1.6M441.6 20.8h1.6M115.2 22.4h1.6M164.8 22.4h1.6M342.4 22.4h1.6M350.4 22.4h1.6M459.2 22.4h1.6M139.2 24.0h1.6M364.8 24.0h1.6M385.6 24.0h1.6M480.0 24.0h1.6M89.6 25.6h1.6M126.4 25.6h1.6M416.0 25.6h1.6M451.2 25.6h1.6M454.4 25.6h1.6M459.2 25.6h1.6M128.0 27.2h1.6M169.6 27.2h1.6M193.6 27.2h1.6M320.0 27.2h1.6M328.0 27.2h1.6M344.0 27.2h1.6M352.0 27.2h1.6M155.2 28.8h1.6M179.2 28.8h1.6M184.0 28.8h1.6M196.8 28.8h1.6M307.2 28.8h1.6M344.0 28.8h1.6M353.6 28.8h1.6M356.8 28.8h1.6M369.6 28.8h1.6M404.8 28.8h1.6M134.4 30.4h1.6M147.2 30.4h1.6M193.6 30.4h1.6M347.2 30.4h1.6M364.8 30.4h1.6M441.6 30.4h1.6M102.4 32.0h1.6M121.6 32.0h1.6M193.6 32.0h1.6M273.6 32.0h1.6M324.8 32.0h3.2M334.4 32.0h1.6M91.2 33.6h1.6M94.4 33.6h3.2M110.4 33.6h1.6M308.8 33.6h3.2M331.2 33.6h1.6M340.8 33.6h1.6M369.6 33.6h1.6M387.2 33.6h1.6M100.8 35.2h1.6M121.6 35.2h1.6M312.0 35.2h1.6M316.8 35.2h1.6M388.8 35.2h1.6M92.8 36.8h1.6M124.8 36.8h1.6M142.4 36.8h1.6M156.8 36.8h1.6M305.6 36.8h1.6M340.8 36.8h3.2M353.6 36.8h1.6M360.0 36.8h1.6M379.2 36.8h1.6M406.4 36.8h1.6M484.8 36.8h1.6M91.2 38.4h1.6M100.8 38.4h1.6M104.0 38.4h1.6M169.6 38.4h1.6M172.8 38.4h1.6M305.6 38.4h1.6M481.6 38.4h1.6M123.2 40.0h1.6M180.8 40.0h1.6M289.6 40.0h1.6M292.8 40.0h1.6M304.0 40.0h1.6M308.8 40.0h1.6M323.2 40.0h1.6M348.8 40.0h1.6M102.4 41.6h1.6M168.0 41.6h1.6M342.4 41.6h3.2M118.4 43.2h1.6M134.4 43.2h1.6M145.6 43.2h1.6M286.4 43.2h1.6M433.6 43.2h1.6M99.2 44.8h1.6M139.2 44.8h1.6M161.6 44.8h3.2M132.8 46.4h1.6M139.2 46.4h1.6M296.0 46.4h1.6M320.0 46.4h1.6M307.2 48.0h1.6M307.2 49.6h1.6M118.4 51.2h1.6M136.0 51.2h1.6M156.8 51.2h3.2M412.8 51.2h1.6M155.2 52.8h1.6M94.4 54.4h1.6M108.8 54.4h1.6M115.2 54.4h1.6M153.6 54.4h1.6M161.6 54.4h1.6M284.8 54.4h1.6M379.2 54.4h1.6M419.2 54.4h1.6M460.8 54.4h1.6M102.4 56.0h1.6M110.4 56.0h1.6M134.4 56.0h1.6M286.4 56.0h1.6M340.8 56.0h1.6M352.0 56.0h1.6M355.2 56.0h1.6M360.0 56.0h1.6M102.4 57.6h1.6M113.6 57.6h1.6M129.6 57.6h1.6M148.8 57.6h1.6M160.0 57.6h1.6M334.4 57.6h1.6M337.6 57.6h1.6M353.6 57.6h1.6M379.2 57.6h1.6M414.4 57.6h1.6M424.0 57.6h1.6M136.0 59.2h1.6M158.4 59.2h1.6M337.6 59.2h1.6M108.8 60.8h1.6M144.0 60.8h1.6M100.8 62.4h1.6M104.0 62.4h1.6M121.6 62.4h1.6M163.2 62.4h1.6M480.0 62.4h1.6M97.6 64.0h1.6M102.4 64.0h1.6M107.2 65.6h1.6M110.4 65.6h1.6M124.8 65.6h1.6M139.2 65.6h1.6M161.6 65.6h1.6M403.2 65.6h1.6M449.6 65.6h1.6M112.0 67.2h3.2M120.0 67.2h1.6M124.8 67.2h1.6M152.0 67.2h1.6M345.6 67.2h1.6M348.8 67.2h1.6M379.2 67.2h1.6M449.6 67.2h1.6M460.8 67.2h1.6M115.2 68.8h1.6M128.0 68.8h1.6M131.2 68.8h1.6M280.0 68.8h3.2M420.8 68.8h1.6M441.6 68.8h1.6M444.8 68.8h3.2M276.8 70.4h1.6M350.4 70.4h1.6M444.8 70.4h1.6M131.2 72.0h1.6M134.4 72.0h1.6M289.6 72.0h1.6M380.8 72.0h1.6M441.6 72.0h1.6M451.2 72.0h1.6M156.8 73.6h1.6M372.8 73.6h1.6M398.4 73.6h1.6M444.8 73.6h1.6M448.0 73.6h1.6M126.4 75.2h1.6M406.4 75.2h1.6M411.2 75.2h3.2M105.6 76.8h1.6M110.4 76.8h1.6M126.4 76.8h1.6M409.6 76.8h1.6M446.4 76.8h3.2M457.6 76.8h1.6M467.2 76.8h1.6M108.8 78.4h1.6M160.0 78.4h1.6M406.4 78.4h1.6M409.6 78.4h3.2M121.6 80.0h1.6M398.4 81.6h1.6M403.2 81.6h1.6M446.4 81.6h1.6M128.0 84.8h3.2M457.6 84.8h1.6M456.0 86.4h1.6M468.8 86.4h1.6M307.2 88.0h1.6M347.2 88.0h1.6M305.6 89.6h1.6M348.8 89.6h1.6M449.6 89.6h1.6M345.6 92.8h1.6M344.0 94.4h1.6M347.2 94.4h1.6M414.4 97.6h1.6M297.6 99.2h1.6M280.0 100.8h1.6M289.6 100.8h1.6M329.6 100.8h1.6M412.8 100.8h1.6M283.2 102.4h1.6M289.6 102.4h1.6M286.4 104.0h1.6M324.8 104.0h1.6M328.0 104.0h1.6M331.2 104.0h1.6M326.4 105.6h1.6M448.0 108.8h1.6M294.4 110.4h1.6M313.6 110.4h1.6M179.2 112.0h1.6M473.6 118.4h1.6M312.0 123.2h1.6M475.2 123.2h1.6M209.6 129.6h1.6M185.6 132.8h1.6M200.0 136.0h1.6M456.0 136.0h1.6M484.8 136.0h1.6M182.4 139.2h1.6M190.4 139.2h1.6M350.4 142.4h1.6M350.4 144.0h1.6M182.4 145.6h1.6M200.0 145.6h1.6M211.2 147.2h1.6M502.4 148.8h1.6M172.8 150.4h1.6M504.0 150.4h1.6M366.4 152.0h1.6M329.6 153.6h1.6M209.6 155.2h1.6M315.2 155.2h1.6M323.2 155.2h1.6M331.2 156.8h1.6M340.8 156.8h1.6M500.8 158.4h1.6M504.0 158.4h3.2M494.4 160.0h1.6M504.0 160.0h1.6M217.6 161.6h1.6M324.8 161.6h3.2M337.6 161.6h3.2M505.6 161.6h3.2M217.6 163.2h1.6M342.4 163.2h1.6M504.0 163.2h1.6M476.8 164.8h1.6M489.6 164.8h1.6M508.8 164.8h1.6M328.0 166.4h1.6M484.8 168.0h1.6M326.4 169.6h1.6M483.2 169.6h1.6M508.8 171.2h1.6M523.2 174.4h1.6M484.8 176.0h1.6M188.8 177.6h1.6M488.0 177.6h1.6M192.0 179.2h1.6M329.6 180.8h1.6M510.4 182.4h1.6M528.0 184.0h1.6M534.4 184.0h1.6M528.0 185.6h1.6M532.8 185.6h1.6M532.8 187.2h1.6M523.2 188.8h1.6M566.4 190.4h1.6M523.2 193.6h1.6M195.2 196.8h1.6M185.6 201.6h1.6M174.4 225.6h1.6M177.6 227.2h1.6" stroke="#bebef0" stroke-width="1.6"/><path d="M452.8 1.6h1.6M500.8 3.2h1.6M531.2 3.2h1.6M379.2 4.8h3.2M403.2 4.8h1.6M44.8 8.0h1.6M310.4 8.0h1.6M417.6 8.0h1.6M48.0 9.6h1.6M368.0 9.6h1.6M449.6 11.2h1.6M96.0 12.8h1.6M412.8 14.4h1.6M420.8 14.4h1.6M62.4 16.0h1.6M310.4 16.0h1.6M329.6 16.0h1.6M334.4 16.0h1.6M382.4 16.0h1.6M409.6 16.0h3.2M414.4 16.0h1.6M448.0 16.0h1.6M134.4 17.6h1.6M411.2 17.6h1.6M419.2 17.6h1.6M177.6 19.2h1.6M310.4 19.2h1.6M416.0 19.2h1.6M444.8 19.2h1.6M38.4 20.8h1.6M332.8 20.8h1.6M412.8 20.8h1.6M416.0 20.8h1.6M140.8 22.4h1.6M171.2 22.4h1.6M302.4 22.4h1.6M328.0 22.4h1.6M416.0 22.4h3.2M462.4 22.4h1.6M76.8 24.0h1.6M302.4 24.0h1.6M347.2 24.0h1.6M361.6 24.0h1.6M416.0 24.0h1.6M420.8 24.0h1.6M99.2 25.6h1.6M115.2 25.6h1.6M336.0 25.6h1.6M363.2 25.6h1.6M368.0 25.6h1.6M372.8 25.6h1.6M406.4 25.6h1.6M91.2 27.2h1.6M147.2 27.2h1.6M334.4 27.2h1.6M355.2 27.2h1.6M420.8 27.2h1.6M489.6 27.2h1.6M83.2 28.8h1.6M92.8 28.8h1.6M113.6 28.8h1.6M163.2 28.8h1.6M313.6 28.8h1.6M323.2 28.8h1.6M489.6 28.8h1.6M190.4 30.4h1.6M275.2 30.4h1.6M416.0 30.4h1.6M456.0 30.4h1.6M305.6 32.0h1.6M377.6 32.0h1.6M393.6 32.0h1.6M190.4 33.6h1.6M313.6 33.6h1.6M360.0 33.6h1.6M411.2 33.6h1.6M430.4 33.6h1.6M436.8 33.6h1.6M464.0 33.6h1.6M392.0 35.2h1.6M150.4 36.8h1.6M288.0 36.8h1.6M296.0 36.8h1.6M299.2 36.8h1.6M364.8 36.8h1.6M408.0 36.8h1.6M435.2 36.8h1.6M102.4 38.4h1.6M336.0 38.4h1.6M352.0 38.4h1.6M128.0 40.0h1.6M174.4 40.0h1.6M286.4 40.0h1.6M332.8 40.0h1.6M100.8 41.6h1.6M113.6 41.6h1.6M137.6 41.6h1.6M294.4 41.6h1.6M379.2 41.6h1.6M97.6 43.2h1.6M128.0 43.2h1.6M142.4 43.2h1.6M147.2 43.2h1.6M152.0 43.2h1.6M315.2 43.2h1.6M342.4 43.2h1.6M304.0 44.8h1.6M313.6 44.8h1.6M494.4 44.8h1.6M104.0 46.4h3.2M110.4 46.4h1.6M152.0 46.4h1.6M166.4 46.4h1.6M286.4 46.4h1.6M417.6 46.4h1.6M153.6 48.0h1.6M286.4 48.0h3.2M310.4 48.0h1.6M150.4 49.6h1.6M156.8 49.6h1.6M161.6 49.6h1.6M164.8 49.6h1.6M310.4 49.6h1.6M331.2 49.6h1.6M110.4 51.2h1.6M131.2 51.2h1.6M172.8 51.2h1.6M288.0 51.2h1.6M344.0 51.2h1.6M89.6 52.8h1.6M131.2 52.8h1.6M147.2 52.8h1.6M278.4 52.8h1.6M324.8 52.8h1.6M120.0 54.4h1.6M156.8 56.0h3.2M142.4 57.6h1.6M475.2 57.6h1.6M489.6 57.6h1.6M145.6 59.2h1.6M150.4 59.2h1.6M153.6 59.2h1.6M393.6 59.2h1.6M459.2 59.2h1.6M472.0 59.2h1.6M92.8 60.8h1.6M129.6 60.8h1.6M153.6 60.8h1.6M342.4 60.8h1.6M105.6 62.4h1.6M132.8 62.4h1.6M142.4 62.4h1.6M148.8 62.4h1.6M152.0 64.0h1.6M123.2 65.6h1.6M134.4 67.2h1.6M481.6 67.2h1.6M108.8 68.8h1.6M128.0 70.4h3.2M107.2 72.0h1.6M457.6 72.0h1.6M142.4 73.6h1.6M478.4 73.6h1.6M155.2 75.2h1.6M355.2 75.2h1.6M456.0 75.2h1.6M118.4 76.8h1.6M131.2 76.8h1.6M124.8 78.4h1.6M120.0 80.0h1.6M401.6 81.6h1.6M408.0 81.6h1.6M456.0 83.2h1.6M420.8 84.8h1.6M329.6 94.4h1.6M444.8 96.0h1.6M264.0 97.6h1.6M328.0 97.6h1.6M313.6 99.2h1.6M344.0 99.2h1.6M291.2 100.8h1.6M296.0 104.0h1.6M292.8 105.6h1.6M347.2 105.6h3.2M179.2 107.2h1.6M288.0 108.8h1.6M348.8 110.4h1.6M308.8 112.0h1.6M340.8 112.0h1.6M344.0 112.0h1.6M348.8 113.6h1.6M345.6 115.2h1.6M344.0 116.8h1.6M315.2 118.4h1.6M345.6 120.0h1.6M451.2 120.0h1.6M345.6 121.6h3.2M475.2 128.0h1.6M350.4 129.6h1.6M166.4 136.0h1.6M195.2 139.2h1.6M203.2 139.2h1.6M217.6 139.2h1.6M350.4 139.2h1.6M208.0 142.4h1.6M208.0 144.0h3.2M198.4 145.6h1.6M204.8 145.6h1.6M203.2 147.2h1.6M214.4 147.2h1.6M353.6 147.2h1.6M208.0 148.8h1.6M212.8 148.8h1.6M500.8 152.0h1.6M518.4 152.0h1.6M499.2 153.6h1.6M516.8 155.2h3.2M328.0 156.8h1.6M515.2 156.8h1.6M486.4 158.4h1.6M520.0 158.4h1.6M496.0 160.0h1.6M515.2 160.0h1.6M206.4 161.6h1.6M486.4 161.6h1.6M520.0 161.6h3.2M497.6 163.2h3.2M502.4 163.2h1.6M521.6 163.2h1.6M336.0 164.8h1.6M510.4 164.8h1.6M513.6 164.8h1.6M523.2 164.8h1.6M480.0 166.4h1.6M497.6 166.4h1.6M500.8 166.4h1.6M505.6 168.0h1.6M516.8 168.0h1.6M523.2 168.0h1.6M200.0 171.2h1.6M491.2 171.2h1.6M497.6 171.2h1.6M500.8 171.2h3.2M510.4 171.2h4.8M491.2 172.8h1.6M494.4 172.8h1.6M512.0 172.8h1.6M196.8 174.4h1.6M476.8 174.4h1.6M510.4 174.4h1.6M337.6 176.0h1.6M472.0 176.0h1.6M488.0 176.0h1.6M494.4 176.0h1.6M508.8 176.0h1.6M515.2 176.0h1.6M331.2 177.6h1.6M472.0 177.6h1.6M494.4 177.6h1.6M510.4 177.6h1.6M531.2 177.6h1.6M200.0 179.2h1.6M497.6 179.2h1.6M518.4 179.2h1.6M324.8 182.4h1.6M475.2 182.4h1.6M500.8 182.4h1.6M475.2 184.0h1.6M480.0 184.0h1.6M488.0 184.0h1.6M499.2 184.0h1.6M523.2 184.0h1.6M531.2 184.0h1.6M188.8 185.6h1.6M475.2 185.6h1.6M481.6 185.6h1.6M513.6 185.6h1.6M515.2 187.2h1.6M515.2 188.8h3.2M521.6 188.8h1.6M531.2 188.8h1.6M510.4 190.4h1.6M512.0 192.0h1.6M515.2 193.6h1.6M515.2 196.8h1.6M523.2 198.4h1.6M179.2 203.2h1.6" stroke="#d28c8c" stroke-width="1.6"/><path d="M448.0 0.0h1.6M460.8 0.0h1.6M108.8 3.2h1.6M35.2 4.8h1.6M419.2 4.8h1.6M488.0 4.8h1.6M504.0 4.8h1.6M387.2 6.4h1.6M307.2 12.8h1.6M38.4 14.4h1.6M374.4 14.4h1.6M465.6 14.4h1.6M166.4 16.0h1.6M332.8 16.0h1.6M164.8 17.6h1.6M364.8 17.6h1.6M444.8 17.6h1.6M28.8 19.2h1.6M134.4 19.2h1.6M363.2 19.2h1.6M377.6 19.2h1.6M464.0 19.2h1.6M403.2 20.8h1.6M443.2 20.8h1.6M336.0 22.4h1.6M131.2 24.0h1.6M352.0 24.0h1.6M379.2 24.0h1.6M147.2 25.6h1.6M184.0 25.6h1.6M334.4 25.6h1.6M350.4 25.6h1.6M192.0 27.2h1.6M342.4 27.2h1.6M348.8 27.2h1.6M422.4 27.2h1.6M177.6 28.8h1.6M334.4 28.8h1.6M342.4 28.8h1.6M347.2 28.8h1.6M179.2 30.4h1.6M184.0 30.4h1.6M396.8 30.4h1.6M120.0 32.0h1.6M150.4 32.0h1.6M315.2 32.0h3.2M345.6 32.0h1.6M465.6 32.0h1.6M294.4 33.6h1.6M337.6 33.6h3.2M97.6 35.2h1.6M304.0 35.2h1.6M88.0 36.8h1.6M100.8 36.8h1.6M105.6 36.8h1.6M112.0 36.8h3.2M116.8 36.8h1.6M174.4 36.8h1.6M292.8 36.8h1.6M358.4 36.8h1.6M446.4 36.8h1.6M483.2 36.8h1.6M171.2 38.4h1.6M177.6 38.4h1.6M318.4 38.4h1.6M358.4 38.4h1.6M120.0 40.0h1.6M136.0 40.0h1.6M196.8 40.0h1.6M310.4 40.0h1.6M352.0 40.0h1.6M358.4 40.0h1.6M161.6 41.6h1.6M172.8 41.6h1.6M316.8 41.6h1.6M350.4 43.2h1.6M131.2 44.8h3.2M334.4 44.8h1.6M356.8 44.8h1.6M131.2 46.4h1.6M145.6 46.4h1.6M323.2 46.4h1.6M326.4 46.4h1.6M144.0 48.0h1.6M363.2 49.6h3.2M91.2 51.2h1.6M115.2 52.8h1.6M121.6 52.8h1.6M129.6 52.8h1.6M144.0 52.8h1.6M156.8 52.8h1.6M100.8 54.4h1.6M152.0 54.4h1.6M140.8 56.0h1.6M100.8 57.6h1.6M310.4 57.6h1.6M473.6 57.6h1.6M112.0 59.2h1.6M484.8 59.2h1.6M139.2 60.8h1.6M292.8 60.8h1.6M110.4 62.4h1.6M128.0 62.4h1.6M150.4 62.4h1.6M366.4 62.4h1.6M116.8 65.6h1.6M134.4 65.6h1.6M451.2 65.6h1.6M465.6 65.6h1.6M480.0 65.6h1.6M104.0 68.8h1.6M422.4 68.8h1.6M147.2 70.4h1.6M156.8 70.4h1.6M104.0 72.0h1.6M379.2 72.0h1.6M400.0 72.0h1.6M478.4 72.0h1.6M108.8 73.6h3.2M121.6 73.6h1.6M377.6 73.6h3.2M443.2 73.6h1.6M113.6 75.2h1.6M116.8 75.2h1.6M120.0 75.2h1.6M398.4 76.8h1.6M408.0 76.8h1.6M123.2 80.0h1.6M388.8 80.0h1.6M457.6 83.2h1.6M462.4 84.8h1.6M129.6 86.4h1.6M281.6 88.0h1.6M457.6 88.0h1.6M347.2 89.6h1.6M342.4 91.2h1.6M345.6 91.2h1.6M147.2 92.8h1.6M129.6 94.4h1.6M312.0 99.2h1.6M308.8 100.8h1.6M294.4 102.4h1.6M332.8 102.4h1.6M153.6 104.0h1.6M265.6 104.0h1.6M283.2 104.0h1.6M281.6 107.2h1.6M284.8 107.2h1.6M353.6 107.2h1.6M281.6 108.8h1.6M316.8 108.8h1.6M156.8 110.4h1.6M176.0 112.0h1.6M350.4 112.0h1.6M184.0 115.2h1.6M475.2 115.2h1.6M188.8 120.0h1.6M504.0 129.6h1.6M504.0 134.4h1.6M180.8 136.0h1.6M454.4 136.0h1.6M204.8 139.2h1.6M337.6 144.0h1.6M222.4 150.4h1.6M497.6 155.2h1.6M318.4 158.4h1.6M496.0 158.4h1.6M209.6 160.0h1.6M321.6 160.0h1.6M329.6 161.6h1.6M510.4 161.6h1.6M510.4 163.2h1.6M204.8 164.8h1.6M332.8 164.8h1.6M475.2 164.8h1.6M497.6 164.8h1.6M204.8 166.4h1.6M476.8 166.4h1.6M481.6 166.4h1.6M507.2 166.4h1.6M510.4 166.4h1.6M334.4 171.2h1.6M480.0 171.2h1.6M483.2 171.2h1.6M502.4 174.4h1.6M529.6 176.0h1.6M483.2 177.6h1.6M486.4 179.2h1.6M528.0 179.2h1.6M184.0 182.4h1.6M321.6 182.4h1.6M480.0 182.4h1.6M336.0 184.0h1.6M520.0 184.0h1.6M484.8 185.6h1.6M484.8 188.8h1.6M515.2 192.0h1.6" stroke="#8e8edc" stroke-width="1.6"/><path d="M30.4 3.2h1.6M41.6 4.8h1.6M384.0 4.8h1.6M488.0 9.6h1.6M395.2 14.4h1.6M409.6 14.4h1.6M424.0 14.4h1.6M427.2 14.4h1.6M369.6 16.0h1.6M425.6 16.0h1.6M404.8 17.6h1.6M409.6 17.6h1.6M422.4 17.6h1.6M464.0 17.6h1.6M131.2 19.2h1.6M307.2 19.2h1.6M392.0 19.2h1.6M403.2 19.2h3.2M411.2 19.2h4.8M401.6 20.8h1.6M404.8 20.8h3.2M409.6 20.8h3.2M307.2 22.4h1.6M379.2 22.4h1.6M401.6 22.4h1.6M404.8 22.4h1.6M144.0 24.0h1.6M350.4 24.0h1.6M406.4 24.0h1.6M409.6 24.0h1.6M185.6 25.6h1.6M304.0 25.6h1.6M403.2 25.6h1.6M408.0 25.6h3.2M129.6 27.2h1.6M134.4 27.2h1.6M360.0 27.2h1.6M364.8 27.2h1.6M412.8 27.2h1.6M128.0 28.8h1.6M350.4 28.8h1.6M401.6 28.8h1.6M475.2 28.8h1.6M278.4 30.4h1.6M281.6 30.4h1.6M408.0 30.4h1.6M412.8 30.4h1.6M278.4 32.0h1.6M300.8 32.0h1.6M371.2 32.0h1.6M454.4 33.6h1.6M326.4 35.2h1.6M99.2 36.8h1.6M348.8 36.8h1.6M96.0 38.4h1.6M115.2 38.4h1.6M179.2 38.4h1.6M281.6 38.4h3.2M347.2 38.4h1.6M169.6 40.0h1.6M339.2 41.6h1.6M124.8 44.8h1.6M128.0 44.8h1.6M172.8 44.8h1.6M179.2 44.8h1.6M332.8 44.8h1.6M342.4 44.8h1.6M150.4 46.4h1.6M289.6 46.4h1.6M110.4 48.0h1.6M128.0 48.0h1.6M294.4 48.0h1.6M305.6 48.0h1.6M363.2 48.0h1.6M521.6 48.0h1.6M131.2 49.6h1.6M289.6 49.6h1.6M100.8 51.2h1.6M342.4 51.2h1.6M132.8 52.8h1.6M286.4 52.8h1.6M134.4 54.4h1.6M120.0 56.0h1.6M137.6 56.0h1.6M315.2 56.0h1.6M128.0 57.6h1.6M155.2 57.6h1.6M312.0 57.6h1.6M148.8 59.2h1.6M281.6 59.2h1.6M286.4 62.4h1.6M132.8 67.2h1.6M144.0 67.2h3.2M134.4 68.8h1.6M147.2 68.8h1.6M158.4 68.8h1.6M283.2 68.8h1.6M416.0 68.8h1.6M118.4 70.4h1.6M124.8 70.4h1.6M476.8 70.4h1.6M350.4 72.0h1.6M483.2 73.6h1.6M128.0 78.4h1.6M449.6 80.0h1.6M131.2 83.2h1.6M265.6 94.4h1.6M416.0 94.4h1.6M131.2 96.0h1.6M344.0 97.6h1.6M350.4 110.4h1.6M342.4 115.2h1.6M337.6 116.8h1.6M340.8 116.8h1.6M342.4 126.4h1.6M355.2 126.4h1.6M355.2 128.0h1.6M203.2 142.4h1.6M200.0 144.0h4.8M206.4 145.6h3.2M190.4 148.8h1.6M515.2 150.4h1.6M489.6 156.8h1.6M492.8 160.0h1.6M484.8 164.8h1.6M524.8 164.8h1.6M494.4 166.4h1.6M502.4 166.4h3.2M515.2 166.4h1.6M193.6 168.0h1.6M484.8 169.6h1.6M496.0 169.6h1.6M510.4 172.8h1.6M505.6 174.4h4.8M515.2 174.4h1.6M486.4 176.0h1.6M491.2 176.0h1.6M504.0 176.0h1.6M484.8 177.6h3.2M489.6 177.6h1.6M504.0 177.6h3.2M475.2 179.2h1.6M478.4 179.2h1.6M504.0 179.2h1.6M488.0 180.8h1.6M500.8 180.8h1.6M505.6 180.8h4.8M529.6 180.8h1.6M534.4 180.8h1.6M185.6 182.4h1.6M336.0 182.4h1.6M481.6 182.4h1.6M491.2 182.4h1.6M507.2 182.4h1.6M529.6 182.4h1.6M188.8 184.0h1.6M491.2 184.0h1.6M494.4 184.0h1.6M497.6 184.0h1.6M508.8 184.0h1.6M518.4 184.0h1.6M483.2 185.6h1.6M489.6 185.6h1.6M492.8 185.6h1.6M512.0 185.6h1.6M521.6 185.6h1.6M488.0 187.2h1.6M505.6 187.2h1.6M521.6 187.2h1.6M510.4 188.8h4.8M512.0 190.4h1.6M516.8 190.4h1.6M521.6 190.4h3.2M518.4 192.0h1.6M523.2 192.0h1.6M526.4 192.0h1.6M521.6 193.6h1.6M526.4 195.2h1.6" stroke="#9b5252" stroke-width="1.6"/><path d="M27.2 0.0h1.6M414.4 0.0h1.6M48.0 1.6h1.6M360.0 1.6h1.6M60.8 3.2h1.6M411.2 4.8h1.6M412.8 6.4h1.6M51.2 8.0h1.6M340.8 9.6h1.6M369.6 9.6h1.6M438.4 9.6h1.6M363.2 16.0h1.6M427.2 16.0h1.6M464.0 16.0h1.6M332.8 19.2h1.6M393.6 20.8h1.6M408.0 22.4h1.6M323.2 24.0h1.6M380.8 24.0h1.6M408.0 24.0h1.6M411.2 24.0h1.6M166.4 25.6h1.6M404.8 25.6h1.6M132.8 27.2h1.6M315.2 27.2h1.6M336.0 27.2h1.6M433.6 27.2h1.6M496.0 27.2h1.6M120.0 28.8h1.6M192.0 28.8h1.6M278.4 28.8h1.6M352.0 28.8h1.6M192.0 30.4h1.6M331.2 30.4h1.6M345.6 30.4h1.6M348.8 30.4h1.6M363.2 30.4h1.6M347.2 32.0h1.6M361.6 32.0h1.6M409.6 32.0h1.6M182.4 33.6h1.6M334.4 33.6h1.6M334.4 35.2h1.6M342.4 35.2h1.6M96.0 36.8h1.6M352.0 36.8h1.6M356.8 36.8h1.6M99.2 38.4h1.6M128.0 38.4h1.6M132.8 38.4h1.6M198.4 38.4h1.6M104.0 40.0h1.6M144.0 40.0h1.6M107.2 41.6h1.6M128.0 41.6h1.6M171.2 41.6h1.6M124.8 43.2h1.6M179.2 43.2h3.2M324.8 43.2h1.6M323.2 44.8h1.6M128.0 46.4h1.6M144.0 46.4h1.6M116.8 49.6h1.6M92.8 51.2h1.6M92.8 52.8h1.6M411.2 54.4h1.6M89.6 56.0h1.6M155.2 56.0h1.6M152.0 57.6h1.6M113.6 59.2h1.6M116.8 59.2h1.6M94.4 60.8h1.6M369.6 60.8h1.6M476.8 60.8h3.2M478.4 62.4h1.6M113.6 64.0h1.6M360.0 64.0h1.6M369.6 64.0h1.6M462.4 64.0h1.6M112.0 65.6h1.6M369.6 65.6h1.6M428.8 65.6h1.6M147.2 67.2h1.6M105.6 68.8h1.6M126.4 68.8h1.6M137.6 68.8h1.6M288.0 68.8h1.6M291.2 68.8h1.6M350.4 68.8h1.6M104.0 70.4h1.6M294.4 72.0h1.6M115.2 73.6h1.6M284.8 73.6h1.6M280.0 75.2h1.6M400.0 75.2h1.6M398.4 78.4h1.6M344.0 88.0h1.6M342.4 89.6h1.6M345.6 89.6h1.6M368.0 89.6h1.6M344.0 91.2h1.6M347.2 91.2h1.6M304.0 92.8h1.6M344.0 92.8h1.6M347.2 92.8h1.6M331.2 97.6h1.6M291.2 102.4h1.6M356.8 105.6h1.6M268.8 107.2h1.6M284.8 112.0h1.6M192.0 115.2h1.6M185.6 139.2h1.6M216.0 139.2h1.6M340.8 139.2h1.6M352.0 139.2h1.6M185.6 140.8h3.2M192.0 140.8h1.6M201.6 145.6h1.6M227.2 145.6h1.6M188.8 152.0h1.6M492.8 153.6h1.6M318.4 156.8h1.6M320.0 158.4h1.6M504.0 161.6h1.6M321.6 163.2h1.6M481.6 163.2h1.6M478.4 164.8h4.8M475.2 166.4h1.6M478.4 166.4h1.6M483.2 166.4h1.6M475.2 168.0h1.6M481.6 168.0h3.2M476.8 169.6h1.6M481.6 169.6h1.6M529.6 169.6h1.6M331.2 171.2h1.6M476.8 171.2h1.6M524.8 172.8h1.6M531.2 172.8h3.2M531.2 174.4h1.6M512.0 176.0h1.6M179.2 177.6h1.6M491.2 177.6h1.6M489.6 179.2h1.6M515.2 179.2h3.2M529.6 179.2h1.6M531.2 180.8h3.2M337.6 182.4h1.6M531.2 182.4h1.6M201.6 185.6h1.6M518.4 185.6h3.2M518.4 193.6h1.6M518.4 196.8h1.6" stroke="#4646aa" stroke-width="1.6"/></g></g><g clip-path="url(#clip1)"><path d="M184.1,273.3 176.1,277.0 172.9,277.9 168.1,277.4 166.4,279.7 167.3,281.6 165.6,283.4 164.5,286.2 162.4,287.8 158.9,288.7 156.0,290.5 153.6,292.4 152.6,294.8 152.8,297.1 155.2,297.9 158.4,300.4 162.4,301.5 167.3,303.9 171.3,304.3 172.4,308.1 174.2,309.6 176.6,311.0 177.9,309.4 177.7,306.3 180.3,303.4 181.2,301.2 180.1,298.6 178.8,297.3 179.8,294.4 179.0,291.1 182.5,290.9 186.5,291.3 189.7,292.7 192.5,294.0 192.6,296.8 194.9,297.9 198.1,297.5 200.7,294.8 202.1,297.3 204.5,299.7 205.8,302.3 209.0,303.9 211.8,305.5 214.7,307.0 215.0,309.2 212.9,311.0 209.0,312.9 204.2,313.2 199.4,313.2 196.5,314.7 193.0,317.1 190.4,319.3 192.5,318.0 195.1,316.5 197.8,315.2 201.3,315.6 200.5,317.6 200.8,319.8 202.6,321.1 205.7,321.3 207.4,319.3 208.4,321.1 206.1,322.4 202.6,323.5 199.2,325.3 198.3,323.8 201.2,322.2 198.9,322.2 196.8,323.1 194.1,324.0 191.8,325.1 191.0,326.6 190.7,327.7 192.0,328.6 191.2,329.2 189.1,329.5 186.4,330.3 188.5,330.1 189.1,330.3 185.7,331.0 185.6,332.6 184.3,333.9 183.3,332.6 184.0,335.0 182.8,336.8 182.0,335.2 181.9,333.2 182.2,337.2 182.8,338.7 183.3,340.5 181.7,341.4 179.6,342.5 178.0,343.6 176.3,345.4 174.6,346.9 173.8,349.5 175.1,353.1 176.1,356.1 175.6,358.4 174.6,359.0 173.4,357.7 172.7,356.1 171.8,354.2 171.8,352.6 170.6,351.3 169.2,350.2 167.4,350.7 165.8,349.5 163.2,349.3 161.0,349.8 161.3,351.8 159.7,351.8 157.6,351.1 154.4,350.7 152.3,351.3 149.4,353.3 148.3,355.0 148.1,357.7 147.6,361.2 147.5,364.1 148.3,366.7 149.7,369.4 151.0,370.9 152.9,371.8 155.8,371.1 157.8,370.9 159.1,369.2 159.4,366.7 161.6,365.9 164.5,365.8 164.0,368.3 163.6,371.2 162.8,373.1 162.8,375.5 161.8,376.0 163.9,376.2 166.4,376.0 169.2,376.2 170.8,377.7 170.6,380.4 170.3,383.1 170.0,385.0 171.3,386.8 172.9,388.6 174.5,388.8 176.9,387.5 178.5,387.9 180.3,389.4 181.2,389.9 182.5,387.9 183.3,385.9 184.4,385.0 186.5,384.4 188.6,383.3 190.1,382.6 189.3,384.1 189.9,385.2 189.6,386.4 189.1,384.6 190.1,383.9 191.8,383.9 192.0,382.8 192.8,384.1 194.7,385.3 196.5,385.7 199.4,386.6 201.3,385.7 204.1,385.7 204.9,386.6 206.6,387.9 207.7,389.4 209.5,391.2 211.0,392.5 212.9,394.3 215.9,394.3 218.0,394.9 220.6,396.3 222.1,397.4 222.7,399.6 223.7,401.8 224.5,403.3 223.3,404.9 225.9,405.5 227.0,406.9 229.1,406.4 231.7,407.7 233.5,409.9 235.5,409.7 238.0,410.4 240.7,410.6 242.9,412.1 244.9,414.1 247.6,414.6 248.4,417.0 248.7,419.6 248.1,421.6 247.0,423.2 245.2,425.2 243.9,427.6 242.6,429.1 242.0,432.2 242.1,435.3 241.5,437.5 240.9,440.2 239.9,442.4 238.8,445.0 237.3,447.0 235.2,447.2 232.8,447.9 230.9,448.7 229.1,449.9 227.0,451.6 226.5,454.1 226.4,456.7 224.6,458.9 223.3,461.1 221.4,463.7 220.0,465.9 218.5,467.3 216.4,469.0 214.3,469.0 212.1,468.1 210.6,467.7 212.7,469.9 212.6,471.3 213.5,472.1 212.2,474.6 210.3,475.7 207.4,476.3 204.9,476.3 204.5,478.7 204.7,479.8 202.1,480.3 200.2,479.8 200.2,482.0 202.3,483.1 200.8,483.6 199.9,485.4 199.6,487.5 197.3,487.6 196.2,489.3 197.0,490.9 198.7,492.6 196.3,494.8 194.9,496.6 193.8,498.4 194.6,500.8 193.0,500.8 191.4,502.6 190.6,503.6 188.9,503.0 186.5,501.2 184.9,498.8 183.5,495.7 183.3,492.9 184.8,490.6 183.2,490.2 185.1,487.5 186.4,486.0 187.5,482.0 186.2,480.7 185.9,477.9 186.9,474.1 187.2,472.3 188.1,470.1 189.3,467.3 189.7,464.6 189.7,460.9 190.1,458.0 190.7,455.2 191.2,451.8 191.5,448.3 192.0,444.3 191.7,439.0 190.1,437.5 188.1,435.8 185.7,434.2 182.7,431.8 182.0,429.6 180.8,427.2 179.3,424.5 177.9,421.0 176.4,418.1 174.6,416.1 174.2,414.6 174.0,413.0 175.4,411.3 176.4,409.9 175.6,409.3 174.6,409.1 175.3,406.9 175.9,404.4 176.7,403.3 178.0,402.2 179.3,400.3 180.6,398.0 180.1,394.9 180.1,392.7 179.0,390.6 178.3,389.4 176.7,388.8 175.6,390.1 175.4,391.7 174.3,391.2 173.2,390.1 171.4,389.9 170.3,389.4 168.5,387.7 167.1,387.0 166.8,385.2 165.5,383.0 163.9,381.3 162.4,380.9 160.7,380.4 158.6,379.7 156.5,378.6 154.9,376.4 152.8,375.5 151.0,376.0 149.4,376.4 146.8,375.6 144.3,374.4 141.5,372.9 139.5,372.2 137.4,370.5 135.6,368.9 135.0,367.6 135.4,365.8 134.6,363.7 133.3,362.3 131.6,360.1 130.1,358.4 128.8,357.3 127.4,355.5 126.3,354.0 124.8,352.2 123.9,350.4 122.9,348.4 121.3,347.5 120.2,346.9 120.3,348.6 121.0,350.2 122.4,352.2 123.4,354.4 124.5,356.4 125.8,358.3 126.9,360.6 128.0,361.7 128.5,362.8 127.7,363.2 126.4,361.4 125.0,360.1 124.3,358.4 124.2,356.8 122.3,356.1 120.8,354.6 121.3,352.9 120.0,351.1 118.7,349.7 117.9,348.2 117.1,346.9 116.5,345.4 116.1,344.3 114.9,343.2 114.2,342.9 112.6,342.1 110.8,341.8 110.7,340.5 109.6,339.2 108.8,338.1 108.0,336.8 107.8,335.9 107.0,335.4 105.9,333.9 105.7,332.3 104.7,331.2 105.2,329.7 105.1,328.2 104.6,326.8 105.2,324.9 105.5,322.4 105.4,320.4 105.2,318.9 104.3,316.5 106.2,316.9 107.3,318.4 107.6,316.7 107.3,315.4 106.7,314.7 104.7,313.8 103.3,312.7 100.7,312.1 99.3,311.0 99.0,309.4 97.8,307.6 95.4,306.3 94.8,304.8 93.5,303.5 92.0,301.7 90.3,300.2 88.5,298.2 86.9,297.1 85.3,298.4 82.9,297.9 80.3,296.2 77.7,295.5 74.0,295.3 71.2,294.6 69.1,293.5 67.1,293.8 66.0,294.9 64.1,295.8 62.2,296.6 60.7,296.8 61.7,295.1 63.3,293.3 61.0,293.7 59.3,295.3 57.3,296.9 58.0,298.0 56.5,299.0 54.4,300.1 52.7,301.2 49.9,302.3 47.5,303.2 44.8,304.1 42.4,304.8 39.8,305.4 41.9,304.3 44.6,302.8 47.5,301.7 50.1,300.2 51.7,298.4 49.8,297.7 47.0,297.7 44.5,297.9 44.0,295.7 41.4,295.1 39.2,294.2 39.0,292.9 37.7,292.2 39.2,290.7 40.1,289.6 42.5,289.6 45.0,288.9 46.2,288.2 45.8,287.1 43.2,287.2 41.1,286.9 38.4,287.1 36.9,286.3 35.0,285.2 34.5,284.9 37.1,284.0 40.1,283.4 42.4,284.1 44.8,284.0 44.6,283.2 41.9,282.3 40.6,281.4 38.2,280.1 37.2,279.0 40.1,278.8 42.4,277.7 44.3,276.5 48.3,275.7 52.7,274.6 57.2,275.4 62.0,276.1 66.8,276.3 71.6,276.8 78.1,277.5 82.9,278.3 86.9,278.6 88.8,277.7 92.5,277.5 96.5,276.8 100.6,276.6 103.8,277.9 108.6,277.4 115.0,278.3 119.8,279.0 127.9,280.5 134.3,279.6 140.7,281.0 146.4,281.0 150.4,279.9 152.0,277.9 153.6,275.2M187.3,262.4 192.2,266.0 198.6,266.0 208.2,266.9 211.4,267.9 214.7,271.5 216.3,274.3 217.9,275.5 221.9,276.1 220.3,277.4 222.7,278.5 223.5,280.1 219.5,280.7 218.7,282.9 221.1,284.3 221.9,287.1 223.8,288.9 225.1,290.7 226.7,292.6 228.3,293.8 230.7,294.2 232.3,295.1 234.7,295.3 235.5,293.8 237.2,292.0 238.0,289.8 239.6,287.4 242.0,285.2 245.2,285.1 248.4,284.0 250.8,281.6 253.2,280.3 258.0,279.7 262.9,278.8 266.9,277.0 269.3,276.1 266.1,274.3 270.9,271.5M269.3,288.2 268.2,287.6 269.6,287.1 266.4,286.3 268.5,285.8 266.1,285.2 268.5,284.5 270.1,285.2 272.0,284.1 274.9,284.1 278.1,283.4 280.5,283.8 281.3,284.7 282.8,285.8 281.3,287.2 278.9,288.0 275.7,288.9 272.5,288.7 269.3,288.2M188.9,273.3 192.2,276.1 194.6,276.5 196.2,277.9 197.6,279.4 201.8,281.6 205.0,283.0 202.6,284.1 201.0,286.0 199.4,286.9 200.5,288.9 198.1,291.5 195.4,290.5 191.4,290.0 188.9,288.7 186.5,287.4 182.5,287.4 179.3,287.1 178.8,285.4 185.7,285.4 186.5,283.4 188.5,282.1 186.5,279.9 182.5,278.5 178.5,277.4 176.1,276.5 169.7,276.1M166.4,284.1 168.9,285.6 173.7,287.1 174.2,288.7 170.5,288.0 167.3,289.3 165.2,288.0 164.7,285.8 166.4,284.1M115.0,273.3 116.6,275.2 114.2,275.9 116.6,277.0 123.1,277.4 127.9,277.2 133.5,277.9 137.5,278.6 140.7,277.9 142.3,277.0 142.3,273.3M103.8,273.3 105.4,274.3 104.6,274.8 107.8,275.0 108.6,273.3M209.4,318.0 211.4,318.0 214.5,318.0 215.5,319.3 217.6,318.7 218.5,319.6 220.0,319.3 219.8,317.8 218.5,317.8 219.0,316.3 218.2,314.9 215.5,314.1 214.7,312.7 215.3,310.7 213.1,311.2 212.4,312.3 210.8,315.1 209.8,316.5 209.4,318.0M201.0,313.8 205.0,314.7 205.5,315.2 201.2,314.0M201.8,319.8 204.7,320.2 203.6,320.6 201.8,319.8M168.2,365.0 170.5,364.5 172.6,362.8 175.4,362.8 178.2,364.1 180.6,365.4 182.8,366.5 185.4,368.0 184.1,368.7 181.7,368.7 179.8,368.7 180.6,367.4 178.5,365.6 175.3,364.8 173.2,364.5 171.4,363.7 169.7,364.8 168.2,365.0M185.1,371.4 187.7,371.8 190.1,372.7 191.4,371.8 193.8,371.4 194.7,371.1 193.0,370.1 192.2,369.2 189.3,368.9 186.7,368.7 187.8,370.1 185.1,371.4M178.8,371.4 180.9,372.3 182.2,372.2 181.1,371.2 178.8,371.4M196.7,372.0 199.2,372.2 199.1,371.4 196.7,371.2 196.7,372.0M179.3,356.1 180.9,356.4 180.4,357.2M179.0,359.0 179.6,360.4 179.9,361.5M182.0,358.4 182.5,359.7 183.2,360.8M205.2,386.6 206.6,386.4 206.6,385.3 205.3,385.5 205.2,386.6M106.3,316.5 104.6,316.2 103.0,315.4 101.4,314.3 99.8,313.2 98.5,312.1 100.6,312.5 103.0,313.4 104.6,314.5 106.3,316.5M94.0,309.6 91.7,307.7 90.8,306.1 92.5,306.3 93.2,308.1 94.0,309.6M56.0,301.0 59.7,299.9 58.9,298.8 56.4,299.7 56.0,301.0M86.9,299.9 88.5,302.1 90.0,303.0 90.6,301.2 88.5,299.0M36.4,307.2 37.9,306.3M33.4,308.1 35.0,307.4M27.4,309.4 29.9,309.2M20.5,310.3 22.6,309.9M18.3,310.7 19.6,310.3M28.7,288.5 31.0,289.3 33.4,289.4 31.5,288.7 28.7,288.5M36.6,294.9 38.9,295.3 38.2,294.2 36.6,294.9M54.3,368.1 55.6,369.4 54.6,370.5 54.0,368.9 54.3,368.1M52.8,366.9 54.0,367.2 53.3,367.4 52.8,366.9M50.4,365.6 51.2,366.1 50.6,366.1 50.4,365.6M48.0,364.5 48.7,364.7 48.2,365.0 48.0,364.5M194.4,501.4 195.1,502.6 196.0,503.7 197.9,504.8 200.0,505.2 197.8,505.8 195.4,505.8 193.0,506.3 190.6,505.8 188.1,504.5 185.2,501.9 187.3,502.6 189.7,503.6 191.4,502.1 193.0,501.2 194.4,501.4M206.3,499.9 208.2,499.0 210.6,499.2 211.8,499.5 210.5,500.6 208.2,500.4 206.3,499.9M184.9,492.9 183.6,493.9 183.3,496.6 184.4,497.5 184.9,492.9M258.4,334.5 259.8,334.3M263.2,335.9 264.2,335.9M254.5,332.8 254.7,333.0M292.8,291.1 293.9,291.8 293.4,291.3M277.0,345.3 277.8,345.1M243.3,503.9 245.5,504.3 247.0,505.4 245.2,504.8 243.3,503.9M415.2,494.2 417.5,494.8 416.8,495.9 415.4,495.5 415.2,494.2M422.4,502.1 423.2,502.3M157.4,405.6 158.6,406.4 157.9,406.9 157.4,405.6M570.9,303.9 572.4,305.0M581.9,308.3 583.1,308.5M156.6,319.5 159.2,319.8 161.6,319.1 163.6,318.4 166.0,319.8 168.7,320.0 168.5,318.2 166.8,317.3 162.9,316.0 160.8,317.3 156.6,319.5M163.6,328.2 164.0,326.4 163.7,324.0 164.8,321.8 167.3,321.1 168.1,322.0 166.1,322.9 165.8,325.5 165.6,327.9 163.6,328.2M168.5,321.3 170.8,322.4 170.8,324.0 172.1,326.4 173.4,324.4 173.8,322.9 175.8,323.7 175.1,321.1 172.1,320.7 168.5,321.3M170.6,328.8 173.7,329.2 176.4,327.9 177.9,326.6 175.3,327.1 172.1,328.2 170.6,328.8M176.4,325.9 179.3,325.9 182.0,325.5 181.7,324.2 179.6,324.8 177.1,325.1 176.4,325.9M148.8,312.7 150.1,310.9 147.5,307.2 146.2,307.0 148.8,310.9 148.8,312.7M125.5,297.9 130.3,296.6 135.1,296.8 130.3,297.3 125.5,297.9M139.5,301.7 140.7,299.9 140.3,299.0 139.5,301.7M116.6,293.5 121.5,292.6 126.3,290.7 122.3,291.5 119.0,290.0 116.6,293.5M103.8,285.8 108.6,284.7 112.6,283.4 110.2,282.5 107.0,284.1 103.8,285.8M356.6,347.8 359.6,347.8 360.6,346.4 360.9,345.1 361.7,343.1 362.3,340.1 362.7,338.1 361.7,338.1 360.4,337.8 358.5,338.9 356.1,338.3 354.0,337.6 352.1,338.9 350.0,337.9 348.5,337.4 348.4,335.6 347.2,334.6 347.6,333.4 346.6,332.8 346.9,331.7 348.8,331.2 351.3,331.2 352.1,330.4 351.3,329.9 349.6,330.1 347.7,330.8 346.6,330.6 344.0,330.3 342.9,330.6 342.7,331.5 342.3,331.4 341.6,332.1 341.0,331.4 341.0,332.8 341.9,333.7 341.3,334.1 342.1,334.6 343.4,335.4 343.2,336.1 341.8,335.7 341.9,336.8 341.3,338.5 340.6,338.3 339.8,337.8 339.5,337.6 339.2,336.3 338.6,335.9 339.2,335.0 341.5,335.6 339.7,335.0 338.6,334.8 337.9,333.7 337.1,332.6 336.6,331.5 335.8,331.0 336.0,329.7 335.8,328.4 334.4,327.5 332.9,326.6 331.2,325.5 330.0,324.9 328.9,324.0 328.4,322.6 327.6,322.2 326.8,322.9 326.3,321.8 326.8,321.3 325.7,321.5 324.4,322.2 324.6,323.5 324.9,324.6 326.5,325.5 327.5,327.5 328.8,328.2 330.5,328.4 330.2,329.2 332.0,329.9 333.6,330.8 334.4,331.7 333.4,331.4 332.3,331.2 331.3,331.9 331.3,332.8 332.1,333.7 331.2,334.8 330.5,335.7 329.7,335.6 330.2,334.1 329.9,332.3 328.6,331.2 327.8,330.8 327.1,330.1 325.9,329.5 324.7,328.8 323.5,327.9 322.3,327.3 321.5,326.4 321.2,325.3 320.7,324.6 319.4,324.0 318.1,324.2 316.7,324.9 315.4,326.0 314.0,326.2 312.5,325.7 311.1,325.5 310.0,326.0 309.5,327.5 309.8,328.4 308.2,329.3 306.4,329.9 305.8,330.8 304.6,331.9 304.2,333.0 305.0,334.3 303.8,335.0 303.4,336.3 302.1,337.2 301.3,337.9 299.0,337.9 297.6,337.9 296.6,338.5 295.7,339.2 294.7,338.5 294.4,337.8 293.4,337.0 292.0,337.4 290.3,337.4 290.5,335.2 289.7,334.3 289.5,333.0 290.5,331.0 290.7,329.3 290.3,328.1 289.7,326.6 291.3,325.5 292.6,325.1 295.3,325.3 298.2,325.7 300.0,325.9 301.8,325.7 302.4,324.2 302.7,322.0 302.7,320.6 301.3,319.3 300.6,318.5 299.2,317.8 297.6,317.4 297.1,316.5 298.2,316.0 299.8,315.8 301.4,316.2 302.1,315.8 301.6,314.1 302.9,314.7 304.8,314.5 307.1,313.2 307.4,312.0 308.7,311.6 310.1,311.0 311.2,309.9 312.0,308.8 312.4,308.1 313.6,307.4 315.9,307.0 317.8,307.2 319.0,306.5 318.5,305.2 318.5,303.5 317.7,301.9 318.5,300.6 321.7,299.5 321.4,300.8 321.2,302.1 322.2,302.1 320.7,303.4 320.1,304.5 320.7,305.2 322.2,306.1 323.9,305.9 326.3,305.5 327.5,306.5 330.4,305.7 332.8,304.8 334.5,305.4 336.0,305.4 336.8,304.6 338.6,303.2 338.4,301.7 339.4,300.1 341.0,299.5 342.4,300.8 343.4,300.8 343.9,298.4 342.4,297.9 342.3,296.8 344.3,296.2 347.2,296.0 349.6,296.2 353.3,295.5 351.3,294.9 348.0,294.4 344.8,294.9 341.6,295.7 340.3,294.6 339.0,292.6 339.2,290.7 339.4,289.6 340.8,288.3 344.0,286.5 345.5,286.2 344.0,284.7 340.3,285.1 338.9,286.9 337.6,288.3 335.2,289.3 333.6,290.5 332.5,292.6 332.3,294.0 334.4,294.9 333.7,296.6 332.0,298.0 331.3,299.9 331.0,301.3 330.0,302.4 327.5,303.7 325.5,303.5 324.7,302.1 323.8,299.5 322.6,298.0 321.7,295.5 321.0,297.1 319.1,297.9 317.5,298.8 315.3,298.8 313.6,297.5 313.0,294.9 312.7,292.6 313.0,291.1 314.6,290.7 317.0,289.6 319.9,288.7 320.4,287.8 322.3,286.5 324.7,284.7 326.3,282.9 327.8,281.9 329.6,280.3 331.2,279.6 333.6,278.3 335.2,277.5 338.4,277.0 342.7,275.7 346.1,275.0 349.6,275.4 352.9,276.5 354.5,277.2 357.7,278.1 360.9,278.5 364.1,279.2 368.1,280.5 370.5,281.6 370.9,282.9 368.9,284.0 365.7,284.1 361.7,283.6 358.5,283.0 356.9,282.3 358.5,283.8 360.6,285.1 360.6,287.2 363.3,288.0 364.9,287.1 363.3,286.2 364.9,286.0 368.1,287.1 369.7,286.9 369.7,285.8 372.1,283.8 374.6,283.8 375.7,283.4 374.6,281.6 375.7,279.7 378.6,280.1 379.4,281.0 377.0,281.6 379.4,282.7 381.8,281.4 385.0,280.7 388.2,279.7 390.6,280.1 392.2,279.0 394.6,279.6 397.9,279.0 400.3,279.9 401.9,278.8 402.2,277.4 404.3,277.4 407.5,278.1 410.7,278.8 412.6,279.7 414.7,280.1 415.5,279.0 413.9,277.4 412.3,276.1 412.3,274.3 414.7,272.4M420.4,272.4 421.6,275.2 421.2,277.9 422.8,279.7 421.2,282.9 419.6,283.6 422.8,282.7 425.2,282.1 429.2,281.6 430.8,281.8 428.4,280.1 426.8,278.8 425.2,276.8 427.6,275.2 430.0,274.3 433.2,273.7 434.8,274.6 437.2,276.5 437.2,277.9 438.4,277.0 439.6,276.1 442.9,274.3 441.2,272.4M471.8,269.7 481.4,270.6 484.6,270.6 487.0,271.0 494.3,271.9 500.7,271.9 507.1,272.4 510.3,272.8 512.8,274.3 516.0,275.5 518.4,274.6 521.6,274.3 528.0,274.3 529.6,272.8 531.2,272.2 534.5,272.2 539.3,272.8 545.7,274.1 549.7,275.5 555.3,275.2 560.2,275.5 561.8,277.0 563.4,277.9 566.6,277.5 571.4,277.9 574.6,277.4 578.6,276.8 581.1,277.2 585.9,277.4 590.7,278.1 593.9,279.0M295.5,313.4 298.2,312.9 300.6,312.5 303.0,312.1 306.7,311.6 306.9,311.0 305.5,310.9 307.1,309.9 307.4,308.7 305.5,308.3 305.0,307.2 304.8,307.0 304.0,305.7 302.6,304.8 302.1,303.4 300.6,302.6 299.8,302.6 300.6,302.1 301.4,300.6 301.8,299.7 299.0,299.5 298.2,299.9 299.5,297.9 296.6,297.9 295.8,299.3 295.5,300.8 294.7,301.7 295.7,303.5 295.5,303.9 296.8,303.2 296.8,304.6 297.6,305.0 299.2,304.6 299.0,305.5 299.8,306.5 299.8,307.4 297.4,307.4 297.9,308.3 298.1,309.4 296.3,310.3 298.2,310.7 299.8,310.9 299.0,311.4 297.4,311.8 295.5,313.4M295.0,309.6 294.7,307.6 295.0,306.3 295.8,305.4 295.0,304.1 292.9,303.7 291.3,304.1 291.0,305.4 288.6,305.9 288.9,307.2 290.2,307.7 288.7,309.6 288.3,310.5 289.4,310.9 291.8,310.3 294.4,309.6 295.0,309.6M324.6,335.9 326.2,335.2 329.7,335.0 328.9,337.9 327.6,337.4 324.6,335.9M318.1,333.7 320.1,333.4 320.4,330.6 319.6,329.7 317.8,330.3 318.1,333.7M318.5,329.3 319.8,329.0 319.9,326.4 318.5,327.5 318.5,329.3M342.4,340.5 346.9,340.7 345.6,341.1 342.4,340.5M356.6,341.2 357.7,341.8 359.3,341.2 360.3,339.8 357.7,340.3 356.6,341.2M308.5,332.8 310.1,332.4 309.5,333.2 308.5,332.8M322.3,303.9 324.9,303.4 324.4,302.4 322.3,303.0 322.3,303.9M331.0,301.5 331.8,300.2 331.0,301.5M333.9,300.8 334.9,299.3 333.9,300.8M386.6,274.3 389.8,275.5 396.2,275.9 393.0,273.3 389.8,272.4M422.8,320.0 425.2,319.3 428.4,319.8 431.6,320.6 431.9,321.3 428.4,320.6 425.2,320.6 422.8,320.0M352.9,295.3 355.3,294.8 357.4,293.7 356.1,292.4 353.7,292.9 352.1,294.2 352.9,295.3M360.6,293.5 362.2,292.9 361.2,291.3 360.1,290.2 359.6,291.6 360.6,293.5M351.3,329.7 354.5,329.9 357.7,328.4 361.1,328.2 363.0,329.5 365.7,330.3 368.4,330.1 371.3,329.2 371.7,327.1 368.4,325.3 366.5,323.8 365.4,323.3 363.5,322.2 362.5,322.8 360.1,323.7 358.5,323.5 356.9,322.0 358.5,320.9 356.1,320.0 354.0,320.0 352.4,322.2 350.8,324.2 349.5,326.0 348.8,327.3 349.6,329.0 351.3,329.7M363.5,322.0 360.9,321.8 361.7,320.0 364.9,318.9 367.3,318.7 365.7,320.0 364.9,321.3 363.5,322.0M380.2,323.1 381.0,326.8 382.6,328.6 384.8,331.2 383.4,334.6 383.4,336.5 385.8,337.4 388.2,337.9 391.3,337.2 391.3,334.6 389.8,331.9 389.5,329.7 390.6,328.2 389.0,327.3 387.4,325.5 385.8,323.7 386.6,323.3 389.8,322.2 390.1,320.0 387.4,319.1 384.2,320.0 381.8,320.9 380.2,323.1M398.7,320.9 402.7,320.0 402.7,323.7 399.5,325.5 398.3,322.8 398.7,320.9M471.8,310.5 475.0,309.0 478.2,307.2 480.6,303.2 479.8,303.5 476.6,308.1 473.4,310.7 471.8,310.5M356.6,347.8 355.3,347.5 352.9,347.8 351.3,348.6 348.8,347.8 345.1,347.3 343.2,346.5 341.6,345.4 340.0,344.9 337.6,345.6 336.8,347.5 335.2,349.7 332.8,348.6 330.4,347.6 329.1,346.0 326.3,345.1 323.9,344.9 322.3,344.2 321.2,343.4 320.9,342.3 322.0,341.4 322.5,340.5 321.5,339.2 322.5,337.4 321.0,337.0 319.4,336.8 317.5,337.6 315.1,337.4 312.7,337.9 310.3,337.8 307.9,338.3 305.5,339.2 303.0,340.1 301.1,340.9 299.0,340.5 296.6,339.6 295.2,339.6 294.5,341.1 293.7,342.7 292.4,343.6 290.8,344.3 289.7,345.8 288.9,347.6 289.1,349.7 288.3,351.3 286.2,353.5 283.8,354.4 282.5,356.2 281.3,357.9 279.7,360.3 278.8,361.7 278.1,364.3 277.2,366.9 278.5,369.4 278.8,372.2 278.1,375.5 277.0,377.8 276.5,378.2 277.7,379.8 277.7,382.2 278.3,383.7 280.2,385.0 281.3,386.1 283.3,388.3 284.6,390.6 286.5,392.5 289.4,395.0 292.4,397.0 295.0,396.5 298.2,395.6 300.6,396.3 303.0,395.6 306.3,394.1 308.7,393.6 311.1,393.4 312.7,394.5 313.6,396.7 315.1,397.2 317.2,397.0 318.8,396.9 319.9,398.1 320.4,400.5 319.9,402.9 319.6,404.7 318.8,406.6 319.9,408.8 322.3,411.5 323.6,413.9 324.4,416.1 325.2,418.8 326.0,421.2 326.3,424.3 325.7,427.1 324.7,429.8 323.6,434.0 323.6,437.1 324.9,439.9 326.3,443.2 328.0,446.3 328.1,449.9 328.8,453.6 329.7,455.4 331.2,457.4 332.5,460.9 333.9,463.7 333.6,465.5 334.2,467.5 335.2,468.1 336.8,468.8 339.2,468.1 341.6,467.1 345.6,467.3 347.7,466.6 350.1,464.6 352.1,462.4 354.1,460.0 356.1,457.8 357.0,455.4 357.4,452.7 358.5,451.4 360.9,449.9 361.7,447.2 361.4,444.4 360.6,441.7 362.5,439.5 364.9,437.1 368.1,435.3 369.9,432.6 369.7,428.0 369.6,424.3 368.4,420.7 367.8,417.9 367.2,415.2 368.1,413.3 369.3,410.6 370.5,408.8 372.1,406.9 374.6,403.8 377.8,401.1 380.2,398.1 382.3,395.0 384.2,391.0 386.3,386.8 387.1,383.5 385.0,384.1 382.6,384.6 379.4,385.3 377.0,386.1 375.4,385.9 374.2,384.2 373.4,383.9 374.2,382.6 372.1,380.4 370.5,378.6 368.9,376.7 368.1,376.0 367.0,373.1 364.9,370.9 364.4,368.5 363.9,365.8 362.5,363.2 361.9,361.2 360.4,358.4 359.3,356.1 358.0,353.9 357.0,350.4M383.9,427.1 385.8,433.1 384.7,436.2 381.8,444.4 380.2,450.7 377.3,451.8 374.9,448.1 374.2,445.0 375.8,441.3 375.4,436.2 379.1,434.0 381.0,431.6 383.1,428.5 383.9,427.1M279.3,353.9 279.9,353.7M277.7,353.5 278.6,353.1M281.8,353.5 282.3,352.8M326.0,380.9 327.5,381.5 328.6,380.9 328.1,379.5 326.7,379.1 326.0,380.9M356.1,406.9 357.7,405.6 359.3,405.6 360.1,407.3 358.5,409.7 356.9,409.9 355.6,408.2 356.1,406.9M351.6,411.1 352.1,416.1 353.7,420.7 354.5,419.7 353.7,416.1 352.4,412.4 351.6,411.1M359.6,422.5 360.3,427.1 361.4,431.1 360.7,426.1 359.6,422.5M357.0,350.4 357.4,352.0 358.8,353.9 359.7,354.3 360.1,352.9 360.9,351.1 360.6,353.9 361.9,355.7 363.5,357.9 364.9,360.6 366.5,362.1 367.6,365.8 368.9,368.5 370.5,370.7 372.1,373.1 373.3,375.8 373.6,378.0 374.2,379.8 374.6,381.9 376.2,381.9 377.8,381.1 380.2,380.4 382.6,379.5 385.0,377.8 387.4,377.1 388.7,375.3 390.6,374.5 393.0,373.4 394.6,372.3 396.2,370.7 397.5,368.9 398.8,366.7 400.3,364.7 400.7,363.9 399.1,362.1 397.5,361.5 395.6,360.3 395.3,358.4 395.1,357.0 394.3,357.9 393.5,358.8 392.2,360.6 389.8,360.8 387.6,360.8 387.1,360.3 387.6,358.4 386.9,357.3 386.3,359.7 385.3,357.9 385.0,356.2 383.9,355.1 382.6,353.3 381.8,351.3 382.6,350.4 384.2,350.2 385.3,350.0 386.1,351.7 387.4,354.0 389.0,355.0 391.1,356.2 393.0,356.2 395.1,355.5 396.2,357.5 396.7,358.4 398.7,358.4 400.3,358.6 403.5,359.2 405.9,359.0 408.3,359.0 411.5,358.6 412.3,359.7 413.1,361.4 414.7,362.6 414.7,362.1 417.9,363.0 416.3,363.9 415.5,364.3 417.1,366.3 418.7,367.2 420.7,366.1 421.3,364.5 421.8,366.3 421.6,368.5 421.8,370.3 422.0,372.2 422.6,374.9 423.2,376.9 424.1,379.5 424.9,381.7 426.0,384.1 426.8,385.9 427.6,388.3 429.2,390.3 430.3,388.8 431.6,388.1 432.1,386.3 432.9,384.1 433.5,381.3 433.4,378.6 433.7,376.7 435.1,375.8 436.9,374.5 438.5,372.9 440.4,370.9 442.0,369.2 443.7,368.1 444.5,366.7 445.3,365.4 446.9,365.4 448.5,365.2 450.1,364.5 451.4,363.6 452.2,364.3 452.7,366.3 453.3,367.6 454.9,369.4 456.2,371.2 456.5,374.0 456.2,375.8 457.3,376.2 458.9,375.3 460.5,374.5 461.5,375.8 461.8,378.6 462.6,381.3 463.1,384.1 462.9,386.8 462.6,389.5 463.4,390.8 464.5,392.7 465.8,395.0 466.6,397.8 467.4,399.6 469.4,401.4 471.0,402.7 472.1,402.5 471.0,400.0 470.7,397.4 469.8,394.9 468.6,393.6 467.3,392.5 466.0,391.4 465.3,389.5 464.2,387.7 464.1,385.3 464.5,383.1 465.3,380.6 466.2,380.4 467.0,381.9 469.0,382.8 469.8,383.9 471.0,385.7 472.6,386.3 473.4,388.6 473.1,389.4 474.2,388.3 475.8,387.3 476.6,386.1 478.2,385.3 479.7,384.2 480.1,382.2 480.1,379.8 479.5,377.1 478.5,375.6 476.9,374.0 475.5,372.2 474.5,370.3 475.0,368.7 476.3,367.2 477.9,365.8 479.3,365.6 480.9,365.8 481.4,368.0 482.2,367.8 482.1,366.1 484.2,365.2 486.2,364.5 487.2,363.7 488.3,364.3 490.3,363.4 492.0,362.8 493.5,361.7 494.8,360.1 496.2,358.8 496.8,357.3 497.8,355.7 499.1,353.9 499.9,352.4 500.5,350.4 499.4,349.7 500.7,348.6 500.4,347.3 498.9,345.8 498.1,343.6 496.5,341.8 496.7,340.5 498.0,339.0 499.1,338.1 501.5,337.4 499.9,336.5 498.3,336.1 496.7,337.0 495.6,336.3 494.3,335.2 493.6,333.9 494.8,333.5 496.4,332.8 498.3,331.4 499.6,330.3 501.2,331.0 499.9,332.8 499.4,334.1 501.2,333.0 503.1,332.3 504.6,331.9 505.4,332.6 506.2,333.7 505.2,335.2 506.8,335.9 508.1,336.5 507.9,338.3 507.8,341.1 507.8,342.1 509.5,341.6 511.1,341.1 512.3,340.7 512.8,339.2 512.6,337.4 511.3,335.0 509.5,333.2 510.8,331.9 513.1,330.3 513.2,328.6 514.5,327.5 515.5,327.0 517.3,326.0 519.2,326.8 521.9,325.1 524.5,322.9 526.7,320.0 528.3,317.6 530.1,315.6 530.4,312.7 531.9,309.4 531.6,307.7 529.6,306.6 527.2,305.9 525.3,306.3 524.5,305.2 525.9,304.1 527.2,302.6 529.6,300.1 532.0,297.9 534.5,296.6 538.5,296.4 541.7,296.6 544.9,295.8 548.1,296.8 549.7,297.3 552.9,296.6 553.7,295.5 552.9,294.2 555.3,292.6 557.8,292.0 561.0,291.8 562.3,292.9 561.0,293.8 561.8,294.8 564.2,294.4 567.1,292.4 568.2,290.7 566.9,290.4 565.0,295.7 563.4,297.5 561.0,299.3 556.9,299.9 556.1,300.8 555.3,303.5 554.9,306.3 555.7,309.9 556.5,312.0 558.6,309.9 559.5,308.3 561.4,307.6 561.8,305.9 564.7,304.6 565.0,302.3 567.1,302.3 566.3,299.9 565.3,299.0 567.4,296.6 569.5,295.5 571.4,294.8 573.0,294.4 576.2,294.2 578.6,295.3 581.9,293.5 584.3,292.0 587.5,291.1 591.5,290.7 593.1,289.8 591.8,287.6 589.1,286.5 592.3,285.8 593.9,286.2M432.9,390.5 433.2,387.2 434.0,387.7 435.6,390.8 436.3,392.3 435.6,393.6 434.0,394.3 433.0,392.8 432.9,390.5M479.2,370.0 480.6,371.8 482.2,371.1 483.0,368.9 481.9,368.3 479.8,368.9 479.2,370.0M497.7,363.0 498.6,364.8 499.1,364.3 499.9,362.1 500.7,359.4 499.9,358.8 498.8,359.7 497.7,362.1 497.7,363.0M513.9,347.8 515.8,347.6 516.5,344.7 515.2,343.1 513.6,343.8 513.1,345.3 513.9,347.8M517.6,344.7 521.1,343.2 520.0,342.1 517.6,343.1 517.6,344.7M515.0,342.9 517.6,340.3 521.6,339.8 523.2,339.2 524.5,336.8 527.2,336.7 529.6,332.8 529.6,329.7 532.0,329.5 532.2,331.4 532.8,333.4 531.2,335.0 531.1,337.8 530.9,339.8 529.3,341.1 528.0,341.6 526.4,341.8 524.8,341.8 524.5,342.3 522.9,343.8 521.6,342.3 519.2,342.0 516.8,343.1 515.0,342.9M529.6,329.2 531.2,328.6 532.0,327.1 534.9,328.2 538.5,325.9 537.7,324.2 532.8,322.0 532.0,322.6 532.0,325.5 530.1,325.9 529.6,329.2M532.8,320.9 535.3,320.0 533.6,318.2 534.8,314.9 536.5,315.4 534.8,311.8 535.3,309.9 534.1,305.7 533.2,307.2 532.4,309.9 533.0,314.5 532.8,320.9M539.3,324.9 541.7,323.7M543.3,322.2 545.7,320.9M548.1,319.5 549.7,318.2M552.9,316.3 554.5,313.6M498.5,371.2 501.0,371.2 500.7,374.0 499.9,376.2 500.2,379.1 503.9,381.3 503.8,382.8 501.5,380.4 498.5,379.8 497.5,378.0 497.2,375.3 498.1,374.9 498.5,371.2M500.7,392.3 503.1,390.8 504.7,388.8 506.3,387.3 508.1,391.9 507.1,393.8 506.2,394.9 503.9,393.6 500.7,392.3M504.4,382.2 506.6,382.8 505.5,386.8 504.4,385.3 504.4,382.2M500.7,383.5 502.3,385.0 501.5,385.9 500.7,385.7 500.7,383.5M501.5,385.5 502.8,385.9 502.3,388.3 501.5,385.5M503.0,384.6 503.9,386.4 503.4,386.8 503.0,384.6M493.0,389.7 495.1,388.3 496.8,385.5 496.2,385.2 493.0,389.7M498.3,380.6 499.9,381.3 499.1,382.6 498.3,380.6M453.6,380.4 454.1,383.1 453.5,384.1 453.6,380.4M533.6,424.7 535.3,428.0 535.7,431.3 538.1,433.5 539.0,436.0 539.8,439.7 540.6,440.4 543.8,442.2 544.4,443.7 546.5,446.3 547.0,447.9 549.7,450.5 550.7,452.5 551.2,455.4 551.5,457.6 550.7,460.5 549.7,463.7 548.6,465.3 547.8,467.1 546.7,469.2 545.7,471.5 545.5,473.7 543.0,474.3 540.9,475.0 539.8,476.5 538.0,475.4 537.5,474.5 536.4,475.2 533.6,475.4 531.2,474.6 529.6,473.4 529.0,471.9 528.5,470.6 527.2,469.0 526.3,467.7 525.8,469.7 525.6,469.3 526.3,466.6 525.6,465.5 523.2,468.8 522.9,468.6 521.9,468.2 520.3,465.1 518.4,463.7 515.2,462.7 512.0,462.9 507.1,464.2 503.9,465.5 500.5,467.1 496.7,467.7 494.1,469.2 489.6,468.1 490.4,466.4 490.6,463.7 489.5,459.1 488.8,457.8 487.0,453.6 487.8,452.7 487.2,449.9 487.4,446.3 488.0,445.0 490.3,444.4 492.3,442.8 495.2,442.2 499.1,440.8 501.0,438.0 501.2,436.2 503.1,435.3 504.7,433.5 507.1,430.7 509.5,431.1 511.1,432.6 512.8,432.2 513.6,428.9 514.8,427.8 517.6,426.1 519.2,426.7 522.4,427.1 524.5,427.4 524.6,427.6 523.2,429.8 522.4,432.6 524.8,434.2 528.8,437.1 530.9,436.9 532.0,432.6 532.2,428.9 532.8,425.2 533.6,424.7M537.2,479.6 540.1,480.3 543.0,479.9 543.0,482.3 542.3,484.2 540.6,484.9 538.5,483.2 537.2,480.5 537.2,479.6M582.7,468.1 585.1,470.6 586.7,471.9 587.5,473.7 591.5,474.1 590.5,476.7 589.1,477.6 588.3,479.2 586.2,481.2 585.2,480.7 586.0,478.7 584.3,477.9 583.9,476.8 585.2,475.0 584.8,472.6 582.7,470.1 582.7,468.1M582.2,479.2 584.6,480.7 583.9,482.5 582.2,484.9 579.8,486.5 579.0,489.1 576.2,490.4 572.2,489.3 572.7,487.8 575.1,485.6 578.6,483.4 580.3,481.4 582.2,479.2M515.2,407.5 517.6,405.8 520.0,406.7 520.3,410.2 522.4,411.1 525.6,407.8 529.6,409.5 532.8,410.8 536.9,412.1 539.0,414.8 541.7,416.4 542.8,419.7 544.9,422.5 547.0,423.8 544.9,424.1 541.7,423.6 541.2,422.5 538.5,419.6 536.1,419.0 534.9,421.6 532.8,421.9 531.2,421.8 528.0,419.9 527.2,418.5 526.4,415.2 523.2,413.3 520.0,412.4 518.4,412.4 517.6,411.1 516.8,410.2 519.2,409.7 516.8,409.1 515.2,407.5M543.3,415.2 545.7,415.2 548.1,413.3 549.4,413.0 548.1,415.2 545.7,416.4 543.3,415.2M553.7,416.1 555.0,417.5 553.7,416.1M560.2,419.7 562.6,421.6 560.2,419.7M563.1,420.7 564.2,422.5 563.1,420.7M479.8,402.4 480.6,401.4 483.0,402.0 486.2,399.2 487.8,396.9 489.9,395.4 491.1,393.9 492.3,392.3 493.8,393.8 496.2,395.6 494.6,396.3 494.0,398.7 494.0,401.8 495.7,403.5 493.5,404.7 493.2,406.9 491.9,407.8 491.5,410.6 490.7,412.2 488.7,412.6 486.2,411.0 484.2,410.6 481.7,410.4 481.4,407.8 480.3,406.0 479.8,404.2 479.8,402.4M457.8,394.9 461.3,395.6 462.9,397.8 465.8,401.1 467.8,401.8 471.0,404.2 472.6,406.9 473.4,408.8 475.0,410.6 474.8,415.7 472.6,415.9 469.0,412.4 467.0,409.7 465.3,406.6 463.7,403.3 462.9,401.4 461.3,399.6 459.7,398.3 457.8,394.9M473.7,417.5 475.0,415.9 478.2,416.6 481.4,417.7 483.8,417.2 485.8,417.7 488.7,419.2 488.5,421.0 484.6,420.3 481.4,419.9 478.2,419.2 475.8,418.6 473.7,417.5M488.7,420.1 490.6,420.5 489.8,421.2 488.7,420.1M491.1,420.5 492.2,420.1 491.9,421.4 491.1,420.5M492.5,420.7 495.9,420.3 495.1,421.2 492.7,421.6 492.5,420.7M497.2,420.7 502.2,420.1 501.5,421.0 497.3,421.2 497.2,420.7M495.9,422.5 498.8,423.4 497.5,423.2 495.9,422.5M503.1,423.9 505.8,421.8 509.1,420.7 507.1,422.1 503.9,423.9 503.1,423.9M496.7,415.2 498.1,415.2 498.1,410.2 499.1,409.9 499.9,413.5 502.0,413.9 501.2,410.6 499.6,408.6 502.8,406.7 499.9,406.6 497.8,404.2 499.1,402.7 502.3,403.5 504.7,403.3 505.8,402.4 503.9,404.4 499.1,404.4 497.2,405.1 496.7,407.8 495.6,410.2 496.7,411.5 496.7,415.2M509.5,401.4 510.3,403.3 511.5,402.4 510.3,404.2 511.3,406.2 509.5,405.6 509.5,401.4M510.3,411.0 513.6,410.6 514.8,412.1 511.1,411.5 510.3,411.0M507.1,411.0 509.1,411.1 508.4,412.1 507.1,411.5 507.1,411.0M568.2,442.1 571.4,444.4 573.0,445.9 570.6,444.6 568.2,442.1M589.6,437.1 591.5,436.9 591.2,438.4 589.6,437.9 589.6,437.1M573.0,432.6 573.5,434.4 573.0,432.6" fill="none" stroke="#3a3a3a" stroke-width="1" stroke-linejoin="round"/></g><path d="M63.6,514.9v-5M63.6,277.0v5M143.9,514.9v-5M143.9,277.0v5M224.3,514.9v-5M224.3,277.0v5M304.6,514.9v-5M304.6,277.0v5M385.0,514.9v-5M385.0,277.0v5M465.3,514.9v-5M465.3,277.0v5M545.7,514.9v-5M545.7,277.0v5M15.4,514.9h5M593.9,514.9h-5M15.4,478.3h5M593.9,478.3h-5M15.4,441.7h5M593.9,441.7h-5M15.4,405.1h5M593.9,405.1h-5M15.4,368.5h5M593.9,368.5h-5M15.4,331.9h5M593.9,331.9h-5M15.4,295.3h5M593.9,295.3h-5" stroke="#bdbdbd" stroke-width="1" fill="none"/><text x="63.6" y="525.8" class="tl" text-anchor="middle">-150</text><text x="143.9" y="525.8" class="tl" text-anchor="middle">-100</text><text x="224.3" y="525.8" class="tl" text-anchor="middle">-50</text><text x="304.6" y="525.8" class="tl" text-anchor="middle">0</text><text x="385.0" y="525.8" class="tl" text-anchor="middle">50</text><text x="465.3" y="525.8" class="tl" text-anchor="middle">100</text><text x="545.7" y="525.8" class="tl" text-anchor="middle">150</text><text x="12.6" y="517.8" class="tl" text-anchor="end">-60</text><text x="12.6" y="481.2" class="tl" text-anchor="end">-40</text><text x="12.6" y="444.6" class="tl" text-anchor="end">-20</text><text x="12.6" y="408.0" class="tl" text-anchor="end">0</text><text x="12.6" y="371.4" class="tl" text-anchor="end">20</text><text x="12.6" y="334.8" class="tl" text-anchor="end">40</text><text x="12.6" y="298.2" class="tl" text-anchor="end">60</text><text x="305.0" y="274.5" class="tt" text-anchor="middle">Termination rate (Dry - Wet)</text><text x="1.6" y="272.7" class="pl">(b)</text><rect x="238.3" y="485.0" width="253.2" height="8.7" fill="url(#cb)" stroke="#555" stroke-width="0.4"/><path d="M280.5,493.7v-1.6M322.7,493.7v-1.6M364.9,493.7v-1.6M407.1,493.7v-1.6M449.3,493.7v-1.6" stroke="#333" stroke-width="0.6"/><text x="238.5" y="504.9" class="cl" text-anchor="middle">-0.3</text><text x="280.7" y="504.9" class="cl" text-anchor="middle">-0.2</text><text x="322.9" y="504.9" class="cl" text-anchor="middle">-0.1</text><text x="365.1" y="504.9" class="cl" text-anchor="middle">0</text><text x="407.3" y="504.9" class="cl" text-anchor="middle">0.1</text><text x="449.5" y="504.9" class="cl" text-anchor="middle">0.2</text><text x="491.7" y="504.9" class="cl" text-anchor="middle">0.3</text><clipPath id="clip2"><rect x="15.2" y="542.0" width="580.3" height="237.4"/></clipPath><rect x="15.2" y="542.0" width="580.3" height="237.4" fill="#fff" stroke="#b0b0b0" stroke-width="1"/><g clip-path="url(#clip2)"><g transform="translate(15,542.8)" fill="none"><path d="M320.0 0.0h4.8M331.2 0.0h1.6M481.6 0.0h1.6M548.8 0.0h1.6M70.4 1.6h1.6M139.2 1.6h1.6M332.8 1.6h1.6M344.0 1.6h1.6M428.8 1.6h3.2M78.4 3.2h1.6M115.2 3.2h1.6M120.0 3.2h1.6M387.2 3.2h1.6M456.0 3.2h1.6M547.2 3.2h1.6M72.0 4.8h1.6M331.2 4.8h3.2M352.0 4.8h1.6M376.0 4.8h1.6M432.0 4.8h1.6M457.6 4.8h1.6M489.6 4.8h1.6M33.6 6.4h1.6M70.4 6.4h1.6M148.8 6.4h1.6M312.0 6.4h1.6M331.2 6.4h1.6M356.8 6.4h1.6M422.4 6.4h1.6M428.8 6.4h1.6M134.4 8.0h1.6M443.2 8.0h1.6M456.0 8.0h1.6M532.8 8.0h1.6M67.2 9.6h1.6M88.0 9.6h1.6M400.0 9.6h1.6M403.2 9.6h1.6M408.0 9.6h1.6M424.0 9.6h1.6M433.6 9.6h1.6M441.6 9.6h1.6M464.0 9.6h1.6M467.2 9.6h1.6M544.0 9.6h1.6M304.0 11.2h1.6M324.8 11.2h1.6M339.2 11.2h1.6M440.0 11.2h1.6M457.6 11.2h1.6M465.6 11.2h1.6M25.6 12.8h1.6M342.4 12.8h1.6M366.4 12.8h1.6M385.6 12.8h1.6M390.4 12.8h1.6M395.2 12.8h1.6M422.4 12.8h3.2M459.2 12.8h1.6M464.0 12.8h1.6M488.0 12.8h1.6M524.8 12.8h1.6M25.6 14.4h1.6M49.6 14.4h3.2M67.2 14.4h1.6M312.0 14.4h1.6M315.2 14.4h3.2M323.2 14.4h1.6M328.0 14.4h1.6M331.2 14.4h1.6M361.6 14.4h1.6M390.4 14.4h1.6M396.8 14.4h1.6M417.6 14.4h1.6M459.2 14.4h1.6M462.4 14.4h1.6M465.6 14.4h1.6M57.6 16.0h1.6M305.6 16.0h1.6M308.8 16.0h1.6M316.8 16.0h1.6M356.8 16.0h1.6M361.6 16.0h3.2M390.4 16.0h1.6M417.6 16.0h1.6M435.2 16.0h1.6M46.4 17.6h1.6M72.0 17.6h1.6M97.6 17.6h1.6M104.0 17.6h1.6M108.8 17.6h1.6M128.0 17.6h1.6M184.0 17.6h1.6M304.0 17.6h1.6M310.4 17.6h3.2M326.4 17.6h1.6M342.4 17.6h1.6M358.4 17.6h1.6M380.8 17.6h1.6M401.6 17.6h1.6M406.4 17.6h1.6M417.6 17.6h1.6M457.6 17.6h1.6M460.8 17.6h1.6M470.4 17.6h1.6M491.2 17.6h1.6M523.2 17.6h1.6M36.8 19.2h3.2M73.6 19.2h1.6M91.2 19.2h3.2M97.6 19.2h1.6M131.2 19.2h1.6M139.2 19.2h1.6M184.0 19.2h1.6M284.8 19.2h1.6M312.0 19.2h1.6M328.0 19.2h1.6M336.0 19.2h1.6M339.2 19.2h1.6M342.4 19.2h1.6M347.2 19.2h1.6M352.0 19.2h3.2M360.0 19.2h1.6M460.8 19.2h1.6M472.0 19.2h1.6M483.2 19.2h1.6M552.0 19.2h1.6M38.4 20.8h1.6M91.2 20.8h3.2M100.8 20.8h1.6M113.6 20.8h1.6M116.8 20.8h1.6M126.4 20.8h1.6M137.6 20.8h1.6M281.6 20.8h1.6M302.4 20.8h1.6M332.8 20.8h1.6M339.2 20.8h1.6M348.8 20.8h1.6M352.0 20.8h1.6M355.2 20.8h1.6M363.2 20.8h1.6M408.0 20.8h1.6M411.2 20.8h1.6M417.6 20.8h1.6M443.2 20.8h1.6M449.6 20.8h1.6M494.4 20.8h1.6M104.0 22.4h1.6M121.6 22.4h1.6M126.4 22.4h1.6M139.2 22.4h3.2M168.0 22.4h1.6M188.8 22.4h1.6M284.8 22.4h1.6M315.2 22.4h1.6M328.0 22.4h1.6M342.4 22.4h3.2M352.0 22.4h1.6M356.8 22.4h1.6M374.4 22.4h1.6M384.0 22.4h1.6M412.8 22.4h1.6M417.6 22.4h1.6M441.6 22.4h3.2M448.0 22.4h1.6M452.8 22.4h1.6M457.6 22.4h1.6M460.8 22.4h1.6M468.8 22.4h1.6M488.0 22.4h1.6M492.8 22.4h1.6M89.6 24.0h1.6M132.8 24.0h1.6M140.8 24.0h1.6M145.6 24.0h1.6M283.2 24.0h3.2M340.8 24.0h1.6M344.0 24.0h1.6M347.2 24.0h1.6M352.0 24.0h1.6M356.8 24.0h1.6M395.2 24.0h6.4M420.8 24.0h1.6M441.6 24.0h1.6M102.4 25.6h1.6M128.0 25.6h3.2M136.0 25.6h1.6M139.2 25.6h3.2M145.6 25.6h1.6M152.0 25.6h1.6M177.6 25.6h1.6M187.2 25.6h1.6M324.8 25.6h1.6M329.6 25.6h1.6M342.4 25.6h1.6M345.6 25.6h1.6M355.2 25.6h1.6M366.4 25.6h1.6M376.0 25.6h1.6M388.8 25.6h1.6M396.8 25.6h1.6M417.6 25.6h1.6M444.8 25.6h1.6M456.0 25.6h1.6M89.6 27.2h1.6M110.4 27.2h1.6M126.4 27.2h1.6M152.0 27.2h1.6M164.8 27.2h1.6M172.8 27.2h1.6M284.8 27.2h1.6M315.2 27.2h1.6M326.4 27.2h3.2M334.4 27.2h1.6M342.4 27.2h1.6M345.6 27.2h1.6M352.0 27.2h1.6M366.4 27.2h1.6M382.4 27.2h1.6M444.8 27.2h3.2M454.4 27.2h1.6M108.8 28.8h1.6M116.8 28.8h1.6M124.8 28.8h1.6M140.8 28.8h1.6M145.6 28.8h1.6M152.0 28.8h1.6M155.2 28.8h1.6M187.2 28.8h1.6M280.0 28.8h1.6M286.4 28.8h1.6M300.8 28.8h1.6M326.4 28.8h3.2M344.0 28.8h1.6M348.8 28.8h1.6M377.6 28.8h1.6M392.0 28.8h1.6M396.8 28.8h3.2M428.8 28.8h1.6M452.8 28.8h1.6M465.6 28.8h3.2M476.8 28.8h1.6M84.8 30.4h1.6M116.8 30.4h1.6M124.8 30.4h1.6M129.6 30.4h1.6M139.2 30.4h1.6M164.8 30.4h1.6M172.8 30.4h1.6M278.4 30.4h1.6M299.2 30.4h1.6M310.4 30.4h1.6M324.8 30.4h1.6M331.2 30.4h1.6M339.2 30.4h1.6M347.2 30.4h1.6M388.8 30.4h1.6M427.2 30.4h1.6M448.0 30.4h1.6M454.4 30.4h1.6M115.2 32.0h1.6M121.6 32.0h1.6M124.8 32.0h1.6M129.6 32.0h1.6M147.2 32.0h1.6M286.4 32.0h1.6M315.2 32.0h1.6M318.4 32.0h4.8M324.8 32.0h1.6M329.6 32.0h1.6M340.8 32.0h1.6M352.0 32.0h1.6M371.2 32.0h1.6M379.2 32.0h1.6M388.8 32.0h1.6M398.4 32.0h1.6M424.0 32.0h1.6M427.2 32.0h1.6M454.4 32.0h1.6M457.6 32.0h1.6M473.6 32.0h1.6M112.0 33.6h1.6M118.4 33.6h1.6M126.4 33.6h1.6M148.8 33.6h1.6M163.2 33.6h1.6M166.4 33.6h1.6M297.6 33.6h1.6M310.4 33.6h3.2M315.2 33.6h6.4M323.2 33.6h1.6M331.2 33.6h1.6M340.8 33.6h1.6M356.8 33.6h1.6M368.0 33.6h1.6M371.2 33.6h1.6M432.0 33.6h1.6M456.0 33.6h1.6M92.8 35.2h1.6M97.6 35.2h1.6M100.8 35.2h1.6M107.2 35.2h1.6M185.6 35.2h1.6M320.0 35.2h1.6M347.2 35.2h1.6M369.6 35.2h1.6M396.8 35.2h1.6M404.8 35.2h1.6M411.2 35.2h1.6M433.6 35.2h1.6M436.8 35.2h1.6M456.0 35.2h1.6M473.6 35.2h1.6M91.2 36.8h1.6M116.8 36.8h1.6M142.4 36.8h1.6M163.2 36.8h1.6M289.6 36.8h1.6M294.4 36.8h1.6M302.4 36.8h1.6M305.6 36.8h1.6M310.4 36.8h1.6M320.0 36.8h1.6M323.2 36.8h1.6M326.4 36.8h1.6M336.0 36.8h1.6M350.4 36.8h1.6M355.2 36.8h1.6M384.0 36.8h1.6M388.8 36.8h1.6M398.4 36.8h1.6M416.0 36.8h1.6M440.0 36.8h1.6M449.6 36.8h1.6M457.6 36.8h1.6M460.8 36.8h1.6M470.4 36.8h1.6M499.2 36.8h1.6M94.4 38.4h1.6M115.2 38.4h1.6M129.6 38.4h1.6M132.8 38.4h1.6M136.0 38.4h1.6M161.6 38.4h1.6M171.2 38.4h1.6M174.4 38.4h1.6M182.4 38.4h1.6M294.4 38.4h1.6M302.4 38.4h3.2M313.6 38.4h1.6M316.8 38.4h1.6M326.4 38.4h1.6M348.8 38.4h1.6M355.2 38.4h1.6M368.0 38.4h1.6M376.0 38.4h1.6M483.2 38.4h1.6M100.8 40.0h1.6M104.0 40.0h1.6M107.2 40.0h1.6M116.8 40.0h1.6M126.4 40.0h1.6M156.8 40.0h1.6M179.2 40.0h1.6M182.4 40.0h3.2M283.2 40.0h1.6M289.6 40.0h3.2M304.0 40.0h1.6M307.2 40.0h1.6M312.0 40.0h1.6M315.2 40.0h1.6M318.4 40.0h3.2M326.4 40.0h1.6M336.0 40.0h4.8M350.4 40.0h1.6M356.8 40.0h1.6M360.0 40.0h1.6M372.8 40.0h1.6M384.0 40.0h1.6M465.6 40.0h1.6M91.2 41.6h1.6M124.8 41.6h1.6M136.0 41.6h3.2M169.6 41.6h1.6M294.4 41.6h1.6M304.0 41.6h1.6M323.2 41.6h1.6M326.4 41.6h1.6M334.4 41.6h3.2M355.2 41.6h3.2M492.8 41.6h1.6M499.2 41.6h1.6M97.6 43.2h3.2M108.8 43.2h1.6M115.2 43.2h1.6M118.4 43.2h1.6M126.4 43.2h1.6M129.6 43.2h1.6M134.4 43.2h1.6M174.4 43.2h3.2M321.6 43.2h1.6M324.8 43.2h1.6M331.2 43.2h1.6M336.0 43.2h1.6M350.4 43.2h1.6M353.6 43.2h3.2M360.0 43.2h1.6M489.6 43.2h1.6M499.2 43.2h1.6M89.6 44.8h1.6M92.8 44.8h1.6M97.6 44.8h1.6M104.0 44.8h1.6M108.8 44.8h1.6M116.8 44.8h1.6M124.8 44.8h9.6M137.6 44.8h1.6M163.2 44.8h1.6M188.8 44.8h1.6M288.0 44.8h3.2M302.4 44.8h1.6M305.6 44.8h3.2M315.2 44.8h1.6M336.0 44.8h1.6M353.6 44.8h1.6M393.6 44.8h1.6M462.4 44.8h1.6M473.6 44.8h1.6M100.8 46.4h1.6M105.6 46.4h3.2M129.6 46.4h4.8M137.6 46.4h1.6M152.0 46.4h1.6M158.4 46.4h1.6M171.2 46.4h1.6M286.4 46.4h1.6M294.4 46.4h1.6M299.2 46.4h1.6M302.4 46.4h1.6M321.6 46.4h1.6M329.6 46.4h1.6M355.2 46.4h1.6M484.8 46.4h1.6M91.2 48.0h1.6M100.8 48.0h1.6M105.6 48.0h1.6M108.8 48.0h1.6M118.4 48.0h1.6M121.6 48.0h1.6M129.6 48.0h1.6M134.4 48.0h1.6M137.6 48.0h3.2M158.4 48.0h3.2M288.0 48.0h1.6M291.2 48.0h3.2M305.6 48.0h1.6M316.8 48.0h1.6M419.2 48.0h1.6M494.4 48.0h1.6M520.0 48.0h1.6M89.6 49.6h1.6M104.0 49.6h1.6M107.2 49.6h1.6M110.4 49.6h1.6M115.2 49.6h1.6M163.2 49.6h1.6M168.0 49.6h1.6M310.4 49.6h1.6M324.8 49.6h1.6M451.2 49.6h1.6M91.2 51.2h3.2M96.0 51.2h1.6M105.6 51.2h1.6M113.6 51.2h1.6M116.8 51.2h1.6M123.2 51.2h1.6M140.8 51.2h1.6M164.8 51.2h3.2M174.4 51.2h3.2M281.6 51.2h1.6M292.8 51.2h1.6M312.0 51.2h1.6M331.2 51.2h1.6M363.2 51.2h1.6M454.4 51.2h1.6M492.8 51.2h1.6M92.8 52.8h1.6M96.0 52.8h3.2M100.8 52.8h1.6M113.6 52.8h4.8M123.2 52.8h3.2M134.4 52.8h1.6M144.0 52.8h3.2M148.8 52.8h1.6M163.2 52.8h1.6M171.2 52.8h3.2M276.8 52.8h1.6M288.0 52.8h3.2M302.4 52.8h3.2M323.2 52.8h1.6M326.4 52.8h1.6M331.2 52.8h1.6M342.4 52.8h1.6M451.2 52.8h3.2M104.0 54.4h1.6M107.2 54.4h1.6M115.2 54.4h1.6M118.4 54.4h1.6M121.6 54.4h3.2M126.4 54.4h1.6M129.6 54.4h3.2M134.4 54.4h1.6M142.4 54.4h1.6M166.4 54.4h3.2M286.4 54.4h1.6M302.4 54.4h1.6M315.2 54.4h1.6M331.2 54.4h1.6M454.4 54.4h1.6M491.2 54.4h1.6M91.2 56.0h1.6M102.4 56.0h1.6M108.8 56.0h1.6M113.6 56.0h1.6M118.4 56.0h1.6M126.4 56.0h1.6M132.8 56.0h6.4M140.8 56.0h1.6M150.4 56.0h1.6M168.0 56.0h1.6M275.2 56.0h1.6M286.4 56.0h1.6M315.2 56.0h1.6M334.4 56.0h1.6M337.6 56.0h3.2M417.6 56.0h1.6M468.8 56.0h1.6M124.8 57.6h1.6M129.6 57.6h1.6M136.0 57.6h3.2M145.6 57.6h1.6M160.0 57.6h1.6M163.2 57.6h1.6M288.0 57.6h1.6M323.2 57.6h1.6M337.6 57.6h1.6M468.8 57.6h1.6M105.6 59.2h3.2M110.4 59.2h1.6M126.4 59.2h4.8M134.4 59.2h1.6M163.2 59.2h1.6M296.0 59.2h1.6M302.4 59.2h1.6M452.8 59.2h1.6M113.6 60.8h1.6M142.4 60.8h1.6M158.4 60.8h1.6M161.6 60.8h1.6M166.4 60.8h1.6M292.8 60.8h1.6M299.2 60.8h1.6M302.4 60.8h1.6M340.8 60.8h1.6M377.6 60.8h3.2M102.4 62.4h1.6M110.4 62.4h1.6M113.6 62.4h1.6M116.8 62.4h1.6M120.0 62.4h3.2M126.4 62.4h1.6M132.8 62.4h1.6M144.0 62.4h1.6M283.2 62.4h1.6M419.2 62.4h1.6M510.4 62.4h1.6M108.8 64.0h1.6M112.0 64.0h1.6M116.8 64.0h1.6M131.2 64.0h3.2M140.8 64.0h3.2M164.8 64.0h1.6M300.8 64.0h3.2M476.8 64.0h1.6M102.4 65.6h1.6M115.2 65.6h1.6M120.0 65.6h1.6M124.8 65.6h1.6M131.2 65.6h1.6M139.2 65.6h1.6M150.4 65.6h1.6M153.6 65.6h1.6M160.0 65.6h3.2M380.8 65.6h1.6M430.4 65.6h1.6M452.8 65.6h1.6M129.6 67.2h1.6M139.2 67.2h3.2M456.0 67.2h1.6M102.4 68.8h1.6M124.8 68.8h3.2M137.6 68.8h1.6M140.8 68.8h1.6M155.2 68.8h1.6M158.4 68.8h1.6M350.4 68.8h1.6M118.4 70.4h1.6M123.2 70.4h1.6M144.0 70.4h1.6M156.8 70.4h1.6M352.0 70.4h1.6M459.2 70.4h1.6M115.2 72.0h3.2M124.8 72.0h3.2M153.6 72.0h1.6M372.8 72.0h1.6M422.4 72.0h1.6M436.8 72.0h1.6M113.6 73.6h3.2M121.6 73.6h1.6M129.6 73.6h1.6M480.0 73.6h1.6M115.2 75.2h3.2M155.2 75.2h1.6M115.2 76.8h1.6M129.6 76.8h3.2M155.2 76.8h1.6M398.4 76.8h1.6M124.8 78.4h1.6M158.4 78.4h1.6M267.2 78.4h1.6M400.0 78.4h1.6M444.8 78.4h1.6M158.4 80.0h3.2M411.2 80.0h1.6M460.8 80.0h4.8M268.8 81.6h1.6M408.0 81.6h1.6M414.4 81.6h1.6M436.8 81.6h1.6M112.0 83.2h1.6M124.8 83.2h1.6M476.8 83.2h1.6M123.2 84.8h1.6M129.6 84.8h1.6M297.6 84.8h1.6M420.8 84.8h1.6M460.8 84.8h1.6M432.0 86.4h1.6M470.4 86.4h1.6M310.4 89.6h1.6M454.4 89.6h1.6M443.2 92.8h1.6M302.4 94.4h1.6M313.6 94.4h3.2M329.6 94.4h1.6M144.0 96.0h1.6M286.4 96.0h1.6M294.4 96.0h1.6M304.0 96.0h1.6M308.8 96.0h1.6M444.8 96.0h1.6M136.0 97.6h1.6M268.8 97.6h1.6M312.0 97.6h1.6M344.0 99.2h1.6M347.2 100.8h3.2M152.0 102.4h1.6M272.0 102.4h1.6M294.4 102.4h1.6M328.0 102.4h1.6M342.4 102.4h1.6M278.4 104.0h1.6M324.8 104.0h1.6M328.0 104.0h1.6M262.4 105.6h1.6M286.4 105.6h1.6M305.6 105.6h1.6M329.6 105.6h1.6M286.4 107.2h1.6M308.8 107.2h1.6M177.6 110.4h1.6M268.8 110.4h1.6M299.2 110.4h1.6M176.0 112.0h1.6M179.2 112.0h1.6M187.2 112.0h1.6M268.8 112.0h1.6M323.2 112.0h1.6M332.8 112.0h1.6M188.8 113.6h1.6M324.8 113.6h1.6M312.0 115.2h1.6M323.2 115.2h1.6M329.6 115.2h1.6M332.8 115.2h1.6M452.8 115.2h1.6M177.6 116.8h1.6M200.0 116.8h1.6M332.8 116.8h1.6M179.2 118.4h1.6M444.8 118.4h1.6M179.2 120.0h1.6M203.2 120.0h1.6M206.4 120.0h1.6M171.2 121.6h1.6M182.4 121.6h1.6M188.8 121.6h1.6M361.6 121.6h1.6M193.6 123.2h1.6M206.4 123.2h1.6M480.0 123.2h1.6M172.8 124.8h1.6M457.6 124.8h1.6M161.6 126.4h1.6M347.2 126.4h1.6M329.6 128.0h1.6M179.2 129.6h1.6M185.6 129.6h1.6M174.4 132.8h1.6M454.4 132.8h1.6M496.0 132.8h1.6M169.6 136.0h1.6M216.0 136.0h1.6M225.6 137.6h1.6M201.6 142.4h1.6M188.8 144.0h1.6M200.0 144.0h1.6M339.2 144.0h1.6M182.4 145.6h1.6M347.2 145.6h1.6M184.0 147.2h1.6M182.4 148.8h1.6M353.6 148.8h1.6M504.0 148.8h1.6M518.4 148.8h1.6M198.4 150.4h1.6M499.2 150.4h1.6M502.4 150.4h1.6M211.2 152.0h1.6M315.2 152.0h1.6M209.6 153.6h1.6M214.4 153.6h1.6M497.6 153.6h1.6M188.8 155.2h1.6M344.0 155.2h1.6M521.6 155.2h1.6M180.8 156.8h1.6M318.4 156.8h1.6M496.0 156.8h1.6M184.0 158.4h1.6M345.6 158.4h1.6M364.8 158.4h1.6M492.8 158.4h1.6M497.6 158.4h1.6M502.4 158.4h1.6M510.4 158.4h1.6M206.4 160.0h1.6M328.0 160.0h1.6M521.6 160.0h1.6M316.8 161.6h1.6M345.6 161.6h1.6M486.4 161.6h1.6M491.2 161.6h1.6M496.0 161.6h1.6M507.2 161.6h1.6M515.2 161.6h1.6M521.6 161.6h1.6M209.6 163.2h1.6M313.6 163.2h1.6M486.4 163.2h1.6M492.8 163.2h1.6M516.8 163.2h1.6M521.6 163.2h1.6M220.8 164.8h1.6M187.2 166.4h1.6M324.8 166.4h1.6M198.4 168.0h1.6M206.4 168.0h1.6M345.6 168.0h1.6M486.4 168.0h1.6M499.2 168.0h1.6M523.2 168.0h1.6M531.2 168.0h1.6M192.0 169.6h1.6M473.6 169.6h1.6M491.2 169.6h1.6M494.4 169.6h1.6M507.2 169.6h1.6M510.4 169.6h1.6M523.2 169.6h1.6M195.2 171.2h1.6M206.4 171.2h1.6M324.8 171.2h1.6M510.4 171.2h1.6M193.6 172.8h1.6M313.6 172.8h1.6M332.8 172.8h3.2M504.0 172.8h3.2M209.6 174.4h1.6M478.4 174.4h1.6M494.4 174.4h3.2M502.4 174.4h1.6M531.2 174.4h1.6M315.2 176.0h1.6M473.6 176.0h1.6M478.4 176.0h1.6M499.2 176.0h1.6M505.6 176.0h1.6M528.0 176.0h1.6M536.0 176.0h1.6M340.8 177.6h1.6M475.2 177.6h3.2M486.4 177.6h1.6M500.8 177.6h1.6M526.4 177.6h1.6M179.2 179.2h1.6M185.6 179.2h1.6M190.4 179.2h1.6M208.0 179.2h1.6M321.6 179.2h1.6M473.6 179.2h1.6M504.0 179.2h1.6M524.8 179.2h1.6M187.2 180.8h1.6M475.2 180.8h1.6M496.0 180.8h1.6M500.8 180.8h1.6M504.0 180.8h1.6M534.4 180.8h1.6M478.4 182.4h1.6M483.2 182.4h1.6M494.4 182.4h1.6M532.8 182.4h1.6M536.0 182.4h1.6M184.0 184.0h1.6M489.6 184.0h1.6M497.6 184.0h1.6M536.0 184.0h1.6M481.6 185.6h1.6M184.0 187.2h1.6M483.2 187.2h1.6M488.0 187.2h1.6M190.4 188.8h1.6M177.6 190.4h1.6M184.0 192.0h1.6M528.0 192.0h1.6M528.0 193.6h1.6M520.0 195.2h1.6M518.4 196.8h1.6M177.6 198.4h1.6M177.6 203.2h1.6M177.6 206.4h1.6M176.0 212.8h1.6M171.2 214.4h1.6" stroke="#fae6e6" stroke-width="1.6"/><path d="M51.2 0.0h4.8M420.8 0.0h1.6M46.4 1.6h1.6M57.6 1.6h1.6M73.6 1.6h1.6M339.2 1.6h1.6M348.8 1.6h1.6M422.4 1.6h1.6M475.2 1.6h1.6M33.6 3.2h1.6M60.8 3.2h1.6M72.0 3.2h1.6M144.0 3.2h1.6M332.8 3.2h1.6M436.8 3.2h1.6M475.2 3.2h1.6M32.0 4.8h4.8M115.2 4.8h1.6M312.0 4.8h1.6M396.8 4.8h1.6M401.6 4.8h1.6M465.6 4.8h1.6M558.4 4.8h1.6M20.8 6.4h1.6M28.8 6.4h1.6M392.0 6.4h1.6M403.2 6.4h3.2M19.2 8.0h1.6M78.4 8.0h1.6M308.8 8.0h1.6M371.2 8.0h1.6M390.4 8.0h1.6M393.6 8.0h1.6M422.4 8.0h1.6M27.2 9.6h1.6M115.2 9.6h1.6M126.4 9.6h1.6M308.8 9.6h1.6M321.6 9.6h1.6M337.6 9.6h1.6M342.4 9.6h1.6M369.6 9.6h1.6M387.2 9.6h4.8M440.0 9.6h1.6M444.8 9.6h3.2M73.6 11.2h1.6M312.0 11.2h1.6M331.2 11.2h1.6M388.8 11.2h3.2M393.6 11.2h3.2M411.2 11.2h1.6M414.4 11.2h1.6M462.4 11.2h1.6M27.2 12.8h1.6M310.4 12.8h1.6M323.2 12.8h1.6M328.0 12.8h1.6M339.2 12.8h3.2M393.6 12.8h1.6M438.4 12.8h3.2M24.0 14.4h1.6M72.0 14.4h1.6M100.8 14.4h1.6M304.0 14.4h1.6M313.6 14.4h1.6M348.8 14.4h1.6M352.0 14.4h3.2M392.0 14.4h1.6M478.4 14.4h1.6M483.2 14.4h1.6M510.4 14.4h1.6M25.6 16.0h1.6M332.8 16.0h1.6M344.0 16.0h1.6M350.4 16.0h3.2M440.0 16.0h1.6M449.6 16.0h1.6M454.4 16.0h1.6M30.4 17.6h1.6M43.2 17.6h1.6M94.4 17.6h3.2M110.4 17.6h6.4M132.8 17.6h1.6M352.0 17.6h1.6M355.2 17.6h1.6M360.0 17.6h1.6M416.0 17.6h1.6M459.2 17.6h1.6M472.0 17.6h1.6M67.2 19.2h1.6M107.2 19.2h1.6M118.4 19.2h1.6M128.0 19.2h1.6M305.6 19.2h1.6M337.6 19.2h1.6M344.0 19.2h1.6M356.8 19.2h1.6M390.4 19.2h1.6M416.0 19.2h3.2M454.4 19.2h3.2M470.4 19.2h1.6M475.2 19.2h1.6M102.4 20.8h1.6M118.4 20.8h1.6M129.6 20.8h1.6M139.2 20.8h1.6M345.6 20.8h1.6M353.6 20.8h1.6M364.8 20.8h1.6M395.2 20.8h1.6M467.2 20.8h1.6M470.4 20.8h1.6M92.8 22.4h1.6M96.0 22.4h1.6M102.4 22.4h1.6M137.6 22.4h1.6M166.4 22.4h1.6M176.0 22.4h1.6M332.8 22.4h3.2M339.2 22.4h1.6M388.8 22.4h1.6M393.6 22.4h1.6M404.8 22.4h1.6M465.6 22.4h1.6M92.8 24.0h1.6M120.0 24.0h1.6M131.2 24.0h1.6M137.6 24.0h1.6M312.0 24.0h3.2M323.2 24.0h1.6M326.4 24.0h1.6M329.6 24.0h1.6M332.8 24.0h1.6M336.0 24.0h1.6M438.4 24.0h1.6M444.8 24.0h1.6M89.6 25.6h1.6M99.2 25.6h3.2M112.0 25.6h1.6M132.8 25.6h1.6M280.0 25.6h1.6M336.0 25.6h1.6M339.2 25.6h1.6M368.0 25.6h1.6M392.0 25.6h1.6M115.2 27.2h1.6M179.2 27.2h1.6M316.8 27.2h1.6M320.0 27.2h1.6M379.2 27.2h1.6M408.0 27.2h1.6M416.0 27.2h1.6M182.4 28.8h1.6M288.0 28.8h3.2M323.2 28.8h1.6M340.8 28.8h1.6M345.6 28.8h1.6M350.4 28.8h1.6M368.0 28.8h1.6M380.8 28.8h1.6M454.4 28.8h3.2M123.2 30.4h1.6M147.2 30.4h1.6M161.6 30.4h1.6M184.0 30.4h1.6M188.8 30.4h1.6M283.2 30.4h1.6M286.4 30.4h3.2M332.8 30.4h1.6M340.8 30.4h4.8M355.2 30.4h1.6M377.6 30.4h1.6M400.0 30.4h1.6M456.0 30.4h1.6M465.6 30.4h1.6M470.4 30.4h1.6M118.4 32.0h1.6M145.6 32.0h1.6M148.8 32.0h1.6M161.6 32.0h3.2M185.6 32.0h3.2M195.2 32.0h1.6M280.0 32.0h1.6M289.6 32.0h1.6M297.6 32.0h1.6M345.6 32.0h1.6M348.8 32.0h1.6M353.6 32.0h1.6M356.8 32.0h1.6M100.8 33.6h1.6M121.6 33.6h1.6M164.8 33.6h1.6M171.2 33.6h3.2M182.4 33.6h3.2M188.8 33.6h3.2M288.0 33.6h1.6M334.4 33.6h1.6M342.4 33.6h1.6M353.6 33.6h3.2M435.2 33.6h1.6M118.4 35.2h1.6M126.4 35.2h1.6M131.2 35.2h3.2M144.0 35.2h3.2M148.8 35.2h1.6M166.4 35.2h1.6M172.8 35.2h1.6M179.2 35.2h1.6M300.8 35.2h1.6M312.0 35.2h1.6M316.8 35.2h1.6M332.8 35.2h1.6M366.4 35.2h1.6M398.4 35.2h1.6M403.2 35.2h1.6M444.8 35.2h1.6M459.2 35.2h1.6M494.4 35.2h1.6M512.0 35.2h1.6M118.4 36.8h1.6M128.0 36.8h1.6M131.2 36.8h1.6M161.6 36.8h1.6M164.8 36.8h1.6M195.2 36.8h1.6M198.4 36.8h1.6M201.6 36.8h1.6M288.0 36.8h1.6M291.2 36.8h1.6M300.8 36.8h1.6M304.0 36.8h1.6M345.6 36.8h1.6M353.6 36.8h1.6M368.0 36.8h1.6M374.4 36.8h1.6M417.6 36.8h3.2M425.6 36.8h1.6M89.6 38.4h4.8M96.0 38.4h1.6M99.2 38.4h4.8M105.6 38.4h1.6M108.8 38.4h1.6M116.8 38.4h1.6M124.8 38.4h1.6M164.8 38.4h1.6M177.6 38.4h1.6M195.2 38.4h1.6M198.4 38.4h1.6M286.4 38.4h1.6M299.2 38.4h1.6M305.6 38.4h3.2M310.4 38.4h1.6M337.6 38.4h1.6M356.8 38.4h1.6M385.6 38.4h1.6M460.8 38.4h1.6M91.2 40.0h3.2M110.4 40.0h1.6M115.2 40.0h1.6M118.4 40.0h1.6M124.8 40.0h1.6M158.4 40.0h1.6M168.0 40.0h1.6M177.6 40.0h1.6M193.6 40.0h1.6M196.8 40.0h1.6M299.2 40.0h1.6M332.8 40.0h1.6M355.2 40.0h1.6M446.4 40.0h1.6M107.2 41.6h1.6M110.4 41.6h3.2M115.2 41.6h3.2M120.0 41.6h1.6M123.2 41.6h1.6M155.2 41.6h1.6M160.0 41.6h1.6M163.2 41.6h3.2M342.4 41.6h4.8M398.4 41.6h1.6M417.6 41.6h1.6M94.4 43.2h1.6M112.0 43.2h1.6M161.6 43.2h1.6M166.4 43.2h1.6M169.6 43.2h1.6M192.0 43.2h1.6M291.2 43.2h1.6M416.0 43.2h3.2M448.0 43.2h1.6M96.0 44.8h1.6M120.0 44.8h1.6M145.6 44.8h1.6M161.6 44.8h1.6M168.0 44.8h1.6M174.4 44.8h3.2M179.2 44.8h1.6M190.4 44.8h1.6M296.0 44.8h3.2M345.6 44.8h1.6M500.8 44.8h1.6M97.6 46.4h1.6M108.8 46.4h1.6M120.0 46.4h4.8M144.0 46.4h1.6M160.0 46.4h1.6M169.6 46.4h1.6M176.0 46.4h1.6M184.0 46.4h1.6M292.8 46.4h1.6M297.6 46.4h1.6M400.0 46.4h1.6M110.4 48.0h1.6M123.2 48.0h1.6M168.0 48.0h9.6M283.2 48.0h1.6M299.2 48.0h1.6M462.4 48.0h1.6M472.0 48.0h1.6M488.0 48.0h1.6M523.2 48.0h1.6M129.6 49.6h1.6M134.4 49.6h1.6M139.2 49.6h1.6M145.6 49.6h1.6M166.4 49.6h1.6M169.6 49.6h1.6M174.4 49.6h1.6M286.4 49.6h1.6M321.6 49.6h1.6M326.4 49.6h1.6M331.2 49.6h1.6M377.6 49.6h1.6M102.4 51.2h1.6M128.0 51.2h1.6M132.8 51.2h1.6M137.6 51.2h1.6M142.4 51.2h3.2M153.6 51.2h1.6M163.2 51.2h1.6M172.8 51.2h1.6M275.2 51.2h1.6M313.6 51.2h1.6M332.8 51.2h1.6M393.6 51.2h1.6M404.8 51.2h1.6M465.6 51.2h1.6M104.0 52.8h1.6M112.0 52.8h1.6M128.0 52.8h1.6M136.0 52.8h3.2M168.0 52.8h1.6M280.0 52.8h1.6M284.8 52.8h3.2M313.6 52.8h1.6M324.8 52.8h1.6M352.0 52.8h1.6M379.2 52.8h1.6M406.4 52.8h1.6M412.8 52.8h1.6M467.2 52.8h1.6M91.2 54.4h1.6M116.8 54.4h1.6M140.8 54.4h1.6M340.8 54.4h1.6M350.4 54.4h1.6M356.8 54.4h1.6M404.8 54.4h1.6M462.4 54.4h6.4M480.0 54.4h1.6M104.0 56.0h1.6M116.8 56.0h1.6M124.8 56.0h1.6M131.2 56.0h1.6M278.4 56.0h3.2M302.4 56.0h3.2M345.6 56.0h1.6M348.8 56.0h1.6M356.8 56.0h1.6M361.6 56.0h1.6M400.0 56.0h1.6M476.8 56.0h1.6M91.2 57.6h1.6M94.4 57.6h1.6M100.8 57.6h1.6M115.2 57.6h1.6M118.4 57.6h1.6M142.4 57.6h3.2M164.8 57.6h1.6M275.2 57.6h3.2M281.6 57.6h3.2M384.0 57.6h1.6M392.0 57.6h1.6M417.6 57.6h1.6M444.8 57.6h1.6M102.4 59.2h1.6M115.2 59.2h1.6M121.6 59.2h1.6M136.0 59.2h1.6M142.4 59.2h1.6M148.8 59.2h1.6M152.0 59.2h1.6M155.2 59.2h1.6M281.6 59.2h4.8M299.2 59.2h3.2M347.2 59.2h1.6M440.0 59.2h1.6M513.6 59.2h1.6M107.2 60.8h1.6M112.0 60.8h1.6M116.8 60.8h3.2M123.2 60.8h1.6M132.8 60.8h1.6M140.8 60.8h1.6M144.0 60.8h1.6M164.8 60.8h1.6M281.6 60.8h1.6M358.4 60.8h1.6M372.8 60.8h1.6M448.0 60.8h1.6M460.8 60.8h1.6M478.4 60.8h1.6M94.4 62.4h1.6M100.8 62.4h1.6M112.0 62.4h1.6M123.2 62.4h1.6M374.4 62.4h1.6M408.0 62.4h1.6M444.8 62.4h1.6M107.2 64.0h1.6M110.4 64.0h1.6M113.6 64.0h1.6M118.4 64.0h1.6M121.6 64.0h3.2M126.4 64.0h1.6M147.2 64.0h1.6M155.2 64.0h1.6M161.6 64.0h1.6M123.2 65.6h1.6M136.0 65.6h1.6M144.0 65.6h1.6M459.2 65.6h3.2M476.8 65.6h1.6M504.0 65.6h1.6M118.4 67.2h3.2M123.2 67.2h1.6M128.0 67.2h1.6M131.2 67.2h1.6M134.4 67.2h1.6M156.8 67.2h1.6M368.0 67.2h1.6M411.2 67.2h1.6M107.2 68.8h1.6M128.0 68.8h1.6M131.2 68.8h1.6M134.4 68.8h3.2M156.8 68.8h1.6M387.2 68.8h1.6M446.4 68.8h1.6M456.0 68.8h1.6M484.8 68.8h1.6M110.4 70.4h1.6M116.8 70.4h1.6M120.0 70.4h1.6M124.8 70.4h1.6M131.2 70.4h3.2M152.0 70.4h1.6M155.2 70.4h1.6M454.4 70.4h1.6M457.6 70.4h1.6M478.4 70.4h1.6M155.2 72.0h1.6M299.2 72.0h1.6M448.0 72.0h1.6M110.4 73.6h1.6M120.0 73.6h1.6M145.6 73.6h1.6M118.4 75.2h1.6M121.6 75.2h1.6M128.0 75.2h1.6M348.8 75.2h1.6M443.2 75.2h1.6M475.2 75.2h1.6M480.0 75.2h1.6M107.2 76.8h1.6M112.0 76.8h1.6M128.0 76.8h1.6M160.0 76.8h1.6M464.0 76.8h1.6M473.6 76.8h1.6M481.6 76.8h1.6M113.6 78.4h1.6M118.4 78.4h3.2M284.8 78.4h1.6M457.6 78.4h1.6M116.8 80.0h1.6M120.0 80.0h1.6M123.2 80.0h1.6M116.8 81.6h1.6M459.2 81.6h1.6M366.4 83.2h1.6M452.8 83.2h1.6M121.6 84.8h1.6M464.0 84.8h1.6M430.4 86.4h1.6M468.8 86.4h1.6M145.6 88.0h1.6M403.2 89.6h1.6M144.0 91.2h1.6M448.0 91.2h1.6M126.4 92.8h1.6M174.4 92.8h1.6M145.6 94.4h1.6M312.0 94.4h1.6M128.0 96.0h3.2M136.0 96.0h1.6M140.8 96.0h1.6M347.2 96.0h1.6M446.4 96.0h1.6M292.8 97.6h1.6M315.2 97.6h1.6M366.4 97.6h1.6M448.0 97.6h1.6M456.0 97.6h1.6M147.2 99.2h1.6M412.8 99.2h1.6M452.8 99.2h1.6M294.4 100.8h1.6M446.4 100.8h3.2M148.8 104.0h1.6M307.2 105.6h1.6M300.8 107.2h1.6M448.0 107.2h1.6M304.0 108.8h1.6M316.8 108.8h1.6M158.4 110.4h1.6M270.4 110.4h1.6M273.6 110.4h1.6M297.6 110.4h1.6M313.6 112.0h1.6M323.2 113.6h1.6M326.4 115.2h1.6M188.8 116.8h3.2M320.0 116.8h1.6M201.6 118.4h1.6M329.6 118.4h1.6M332.8 118.4h1.6M456.0 120.0h1.6M168.0 123.2h1.6M494.4 123.2h1.6M163.2 124.8h1.6M201.6 124.8h1.6M182.4 126.4h1.6M208.0 126.4h1.6M318.4 126.4h1.6M336.0 126.4h1.6M473.6 126.4h1.6M347.2 129.6h1.6M457.6 129.6h1.6M164.8 131.2h1.6M177.6 131.2h1.6M216.0 131.2h1.6M172.8 132.8h1.6M481.6 132.8h1.6M182.4 134.4h1.6M204.8 134.4h1.6M336.0 134.4h1.6M200.0 136.0h1.6M182.4 137.6h1.6M217.6 139.2h1.6M219.2 140.8h1.6M318.4 140.8h1.6M320.0 142.4h1.6M166.4 144.0h1.6M216.0 144.0h1.6M177.6 145.6h1.6M217.6 145.6h1.6M220.8 148.8h1.6M339.2 150.4h1.6M195.2 152.0h1.6M206.4 152.0h1.6M499.2 155.2h1.6M176.0 156.8h1.6M329.6 156.8h1.6M321.6 158.4h1.6M332.8 158.4h1.6M174.4 160.0h1.6M190.4 160.0h1.6M198.4 160.0h1.6M329.6 160.0h1.6M185.6 161.6h1.6M204.8 161.6h1.6M211.2 161.6h1.6M326.4 161.6h1.6M523.2 161.6h1.6M326.4 164.8h1.6M336.0 164.8h1.6M473.6 166.4h1.6M315.2 168.0h1.6M528.0 168.0h1.6M326.4 169.6h1.6M336.0 169.6h3.2M193.6 171.2h1.6M318.4 171.2h1.6M528.0 171.2h1.6M195.2 172.8h1.6M326.4 172.8h1.6M336.0 172.8h1.6M476.8 172.8h1.6M523.2 172.8h1.6M180.8 177.6h1.6M489.6 177.6h1.6M524.8 177.6h1.6M318.4 180.8h3.2M190.4 182.4h1.6M481.6 184.0h1.6M489.6 185.6h1.6M531.2 187.2h1.6M331.2 188.8h3.2M532.8 188.8h1.6M198.4 190.4h1.6M195.2 192.0h1.6M190.4 193.6h1.6M172.8 195.2h1.6M176.0 198.4h1.6M180.8 200.0h1.6M187.2 201.6h1.6M179.2 203.2h1.6M177.6 208.0h1.6M169.6 224.0h1.6" stroke="#e6e6fb" stroke-width="1.6"/><path d="M48.0 0.0h1.6M464.0 0.0h1.6M473.6 0.0h1.6M513.6 0.0h1.6M44.8 1.6h1.6M68.8 1.6h1.6M401.6 1.6h1.6M451.2 1.6h1.6M57.6 3.2h1.6M107.2 3.2h1.6M342.4 3.2h1.6M374.4 3.2h1.6M577.6 3.2h1.6M329.6 4.8h1.6M424.0 4.8h1.6M456.0 4.8h1.6M19.2 6.4h1.6M310.4 6.4h1.6M563.2 6.4h1.6M33.6 8.0h1.6M65.6 8.0h1.6M388.8 8.0h1.6M441.6 8.0h1.6M464.0 8.0h1.6M62.4 9.6h3.2M358.4 11.2h1.6M369.6 11.2h1.6M315.2 12.8h1.6M52.8 14.4h1.6M334.4 14.4h1.6M337.6 14.4h1.6M350.4 14.4h1.6M388.8 14.4h1.6M416.0 14.4h1.6M464.0 14.4h1.6M88.0 16.0h1.6M307.2 16.0h1.6M328.0 16.0h1.6M388.8 16.0h1.6M398.4 16.0h1.6M419.2 16.0h1.6M438.4 16.0h1.6M462.4 16.0h1.6M73.6 17.6h1.6M105.6 17.6h1.6M171.2 17.6h1.6M299.2 17.6h1.6M339.2 17.6h1.6M377.6 17.6h1.6M388.8 17.6h1.6M393.6 17.6h1.6M432.0 17.6h1.6M70.4 19.2h1.6M89.6 19.2h1.6M96.0 19.2h1.6M104.0 19.2h1.6M332.8 19.2h1.6M350.4 19.2h1.6M369.6 19.2h1.6M419.2 19.2h1.6M430.4 19.2h3.2M473.6 19.2h1.6M488.0 19.2h1.6M94.4 20.8h1.6M97.6 20.8h3.2M112.0 20.8h1.6M132.8 20.8h1.6M140.8 20.8h1.6M315.2 20.8h1.6M329.6 20.8h1.6M419.2 20.8h1.6M428.8 20.8h1.6M435.2 20.8h1.6M465.6 20.8h1.6M475.2 20.8h1.6M486.4 20.8h1.6M89.6 22.4h3.2M124.8 22.4h1.6M304.0 22.4h1.6M364.8 22.4h1.6M408.0 22.4h1.6M88.0 24.0h1.6M105.6 24.0h3.2M124.8 24.0h1.6M129.6 24.0h1.6M166.4 24.0h1.6M302.4 24.0h1.6M339.2 24.0h1.6M364.8 24.0h1.6M372.8 24.0h1.6M379.2 24.0h1.6M416.0 24.0h1.6M419.2 24.0h1.6M491.2 24.0h1.6M28.8 25.6h1.6M84.8 25.6h1.6M104.0 25.6h3.2M113.6 25.6h1.6M304.0 25.6h1.6M350.4 25.6h1.6M372.8 25.6h1.6M416.0 25.6h1.6M430.4 25.6h1.6M483.2 25.6h1.6M124.8 27.2h1.6M128.0 27.2h1.6M145.6 27.2h1.6M150.4 27.2h1.6M176.0 27.2h1.6M286.4 27.2h3.2M304.0 27.2h1.6M332.8 27.2h1.6M340.8 27.2h1.6M356.8 27.2h1.6M376.0 27.2h1.6M384.0 27.2h1.6M398.4 27.2h1.6M91.2 28.8h1.6M131.2 28.8h1.6M176.0 28.8h1.6M192.0 28.8h1.6M374.4 28.8h1.6M385.6 28.8h3.2M400.0 28.8h1.6M419.2 28.8h1.6M92.8 30.4h1.6M104.0 30.4h1.6M126.4 30.4h1.6M144.0 30.4h1.6M168.0 30.4h1.6M200.0 30.4h1.6M313.6 30.4h1.6M350.4 30.4h1.6M372.8 30.4h1.6M387.2 30.4h1.6M398.4 30.4h1.6M444.8 30.4h1.6M126.4 32.0h1.6M155.2 32.0h1.6M164.8 32.0h3.2M291.2 32.0h1.6M312.0 32.0h1.6M337.6 32.0h1.6M392.0 32.0h1.6M400.0 32.0h1.6M435.2 32.0h1.6M452.8 32.0h1.6M124.8 33.6h1.6M180.8 33.6h1.6M289.6 33.6h1.6M329.6 33.6h1.6M345.6 33.6h1.6M388.8 33.6h1.6M396.8 33.6h1.6M422.4 33.6h1.6M444.8 33.6h1.6M457.6 33.6h3.2M465.6 33.6h1.6M112.0 35.2h1.6M163.2 35.2h1.6M291.2 35.2h1.6M313.6 35.2h3.2M340.8 35.2h3.2M355.2 35.2h3.2M376.0 35.2h1.6M393.6 35.2h1.6M417.6 35.2h1.6M454.4 35.2h1.6M99.2 36.8h1.6M102.4 36.8h1.6M110.4 36.8h1.6M155.2 36.8h1.6M169.6 36.8h1.6M176.0 36.8h1.6M315.2 36.8h1.6M366.4 36.8h1.6M385.6 36.8h1.6M393.6 36.8h1.6M446.4 36.8h1.6M451.2 36.8h1.6M459.2 36.8h1.6M472.0 36.8h1.6M480.0 36.8h3.2M112.0 38.4h1.6M142.4 38.4h1.6M158.4 38.4h1.6M166.4 38.4h1.6M169.6 38.4h1.6M179.2 38.4h1.6M184.0 38.4h1.6M288.0 38.4h1.6M329.6 38.4h1.6M336.0 38.4h1.6M401.6 38.4h1.6M414.4 38.4h1.6M457.6 38.4h1.6M97.6 40.0h1.6M123.2 40.0h1.6M128.0 40.0h1.6M153.6 40.0h1.6M164.8 40.0h1.6M172.8 40.0h1.6M294.4 40.0h1.6M305.6 40.0h1.6M323.2 40.0h1.6M344.0 40.0h1.6M352.0 40.0h1.6M395.2 40.0h1.6M99.2 41.6h3.2M166.4 41.6h1.6M184.0 41.6h1.6M286.4 41.6h1.6M310.4 41.6h1.6M337.6 41.6h1.6M96.0 43.2h1.6M102.4 43.2h1.6M113.6 43.2h1.6M124.8 43.2h1.6M131.2 43.2h1.6M294.4 43.2h1.6M323.2 43.2h1.6M326.4 43.2h1.6M344.0 43.2h1.6M358.4 43.2h1.6M99.2 44.8h1.6M102.4 44.8h1.6M134.4 44.8h1.6M180.8 44.8h1.6M316.8 44.8h1.6M324.8 44.8h1.6M344.0 44.8h1.6M360.0 44.8h1.6M110.4 46.4h1.6M128.0 46.4h1.6M168.0 46.4h1.6M393.6 46.4h1.6M89.6 48.0h1.6M104.0 48.0h1.6M132.8 48.0h1.6M142.4 48.0h3.2M289.6 48.0h1.6M315.2 48.0h1.6M331.2 48.0h1.6M396.8 48.0h1.6M91.2 49.6h1.6M140.8 49.6h1.6M152.0 49.6h1.6M278.4 49.6h1.6M288.0 49.6h1.6M312.0 49.6h1.6M94.4 51.2h1.6M97.6 51.2h1.6M316.8 51.2h1.6M321.6 51.2h1.6M324.8 51.2h1.6M342.4 51.2h1.6M403.2 51.2h1.6M444.8 51.2h1.6M99.2 52.8h1.6M102.4 52.8h1.6M105.6 52.8h3.2M147.2 52.8h1.6M152.0 52.8h1.6M161.6 52.8h1.6M275.2 52.8h1.6M329.6 52.8h1.6M340.8 52.8h1.6M347.2 52.8h1.6M356.8 52.8h1.6M457.6 52.8h1.6M462.4 52.8h1.6M89.6 54.4h1.6M113.6 54.4h1.6M120.0 54.4h1.6M124.8 54.4h1.6M139.2 54.4h1.6M147.2 54.4h1.6M160.0 54.4h1.6M164.8 54.4h1.6M332.8 54.4h1.6M403.2 54.4h1.6M97.6 56.0h1.6M107.2 56.0h1.6M120.0 56.0h1.6M142.4 56.0h3.2M148.8 56.0h1.6M156.8 56.0h1.6M163.2 56.0h1.6M281.6 56.0h1.6M316.8 56.0h1.6M324.8 56.0h1.6M464.0 56.0h1.6M478.4 56.0h1.6M126.4 57.6h1.6M131.2 57.6h1.6M134.4 57.6h1.6M147.2 57.6h1.6M158.4 57.6h1.6M161.6 57.6h1.6M278.4 57.6h1.6M310.4 57.6h1.6M328.0 57.6h1.6M334.4 57.6h1.6M342.4 57.6h1.6M464.0 57.6h1.6M472.0 57.6h1.6M496.0 57.6h1.6M100.8 59.2h1.6M112.0 59.2h1.6M123.2 59.2h1.6M132.8 59.2h1.6M160.0 59.2h1.6M286.4 59.2h1.6M304.0 59.2h1.6M334.4 59.2h1.6M379.2 59.2h1.6M120.0 60.8h1.6M137.6 60.8h1.6M155.2 60.8h1.6M108.8 62.4h1.6M150.4 62.4h1.6M161.6 62.4h1.6M168.0 62.4h1.6M472.0 62.4h1.6M134.4 64.0h1.6M144.0 64.0h1.6M150.4 64.0h1.6M158.4 64.0h1.6M99.2 65.6h1.6M142.4 65.6h1.6M158.4 65.6h1.6M364.8 65.6h1.6M451.2 65.6h1.6M454.4 65.6h1.6M475.2 65.6h1.6M478.4 65.6h1.6M483.2 65.6h1.6M158.4 67.2h1.6M353.6 67.2h1.6M476.8 67.2h1.6M152.0 68.8h1.6M121.6 70.4h1.6M153.6 70.4h1.6M355.2 70.4h1.6M360.0 70.4h1.6M120.0 72.0h1.6M150.4 72.0h1.6M358.4 72.0h1.6M116.8 73.6h1.6M124.8 73.6h1.6M155.2 73.6h1.6M105.6 75.2h1.6M120.0 75.2h1.6M126.4 75.2h1.6M156.8 75.2h1.6M368.0 75.2h1.6M404.8 75.2h1.6M448.0 75.2h1.6M113.6 76.8h1.6M126.4 76.8h1.6M400.0 76.8h1.6M422.4 76.8h1.6M126.4 78.4h1.6M395.2 78.4h1.6M406.4 78.4h1.6M465.6 78.4h1.6M108.8 80.0h1.6M115.2 80.0h1.6M132.8 80.0h1.6M476.8 81.6h1.6M448.0 83.2h1.6M483.2 86.4h1.6M443.2 94.4h1.6M268.8 96.0h1.6M300.8 97.6h1.6M305.6 97.6h1.6M142.4 99.2h1.6M292.8 99.2h1.6M312.0 99.2h1.6M297.6 100.8h1.6M339.2 100.8h1.6M331.2 104.0h1.6M352.0 104.0h1.6M288.0 105.6h3.2M326.4 105.6h1.6M331.2 105.6h1.6M344.0 105.6h1.6M460.8 105.6h1.6M332.8 107.2h1.6M355.2 107.2h1.6M284.8 108.8h1.6M297.6 108.8h1.6M347.2 108.8h3.2M352.0 108.8h1.6M284.8 110.4h1.6M288.0 110.4h1.6M321.6 110.4h1.6M342.4 110.4h1.6M272.0 112.0h1.6M296.0 112.0h1.6M347.2 113.6h1.6M345.6 115.2h1.6M278.4 116.8h1.6M315.2 116.8h1.6M360.0 116.8h1.6M174.4 118.4h1.6M177.6 118.4h1.6M312.0 118.4h1.6M360.0 118.4h1.6M177.6 120.0h1.6M360.0 120.0h1.6M355.2 123.2h1.6M465.6 123.2h1.6M465.6 126.4h1.6M331.2 134.4h1.6M339.2 134.4h1.6M513.6 136.0h1.6M206.4 137.6h1.6M339.2 137.6h1.6M214.4 139.2h1.6M217.6 140.8h1.6M190.4 142.4h3.2M473.6 142.4h1.6M193.6 145.6h1.6M180.8 148.8h1.6M340.8 148.8h1.6M196.8 152.0h1.6M499.2 152.0h1.6M518.4 152.0h1.6M504.0 153.6h1.6M345.6 155.2h3.2M491.2 155.2h1.6M497.6 155.2h1.6M502.4 155.2h1.6M505.6 155.2h3.2M520.0 155.2h1.6M328.0 156.8h1.6M494.4 156.8h1.6M502.4 156.8h3.2M507.2 156.8h1.6M512.0 156.8h1.6M518.4 156.8h1.6M180.8 158.4h1.6M185.6 158.4h1.6M198.4 158.4h1.6M324.8 158.4h1.6M504.0 158.4h1.6M512.0 158.4h1.6M524.8 158.4h1.6M180.8 160.0h1.6M347.2 160.0h1.6M494.4 160.0h1.6M507.2 160.0h1.6M518.4 160.0h1.6M222.4 161.6h1.6M508.8 161.6h1.6M491.2 163.2h1.6M505.6 163.2h1.6M518.4 163.2h1.6M488.0 164.8h3.2M508.8 164.8h1.6M523.2 164.8h1.6M326.4 166.4h1.6M489.6 166.4h1.6M494.4 166.4h1.6M499.2 166.4h1.6M507.2 166.4h6.4M523.2 166.4h3.2M529.6 166.4h1.6M204.8 168.0h1.6M494.4 168.0h3.2M502.4 168.0h1.6M508.8 168.0h1.6M520.0 168.0h3.2M524.8 168.0h1.6M204.8 169.6h1.6M505.6 169.6h1.6M502.4 171.2h1.6M512.0 171.2h1.6M515.2 171.2h1.6M524.8 171.2h1.6M529.6 171.2h1.6M500.8 172.8h1.6M507.2 172.8h1.6M524.8 172.8h1.6M318.4 174.4h1.6M488.0 174.4h1.6M491.2 174.4h1.6M499.2 174.4h3.2M505.6 174.4h1.6M521.6 174.4h4.8M524.8 176.0h1.6M179.2 177.6h1.6M480.0 177.6h3.2M492.8 177.6h1.6M499.2 177.6h1.6M515.2 177.6h1.6M523.2 177.6h1.6M480.0 179.2h3.2M492.8 179.2h1.6M486.4 180.8h1.6M499.2 180.8h1.6M526.4 180.8h3.2M475.2 182.4h1.6M499.2 182.4h1.6M502.4 182.4h3.2M187.2 184.0h1.6M476.8 184.0h1.6M504.0 184.0h1.6M531.2 184.0h3.2M184.0 185.6h1.6M486.4 185.6h1.6M504.0 185.6h3.2M531.2 185.6h1.6M329.6 187.2h3.2M480.0 187.2h1.6M484.8 187.2h1.6M489.6 187.2h1.6M481.6 188.8h1.6M528.0 188.8h1.6M182.4 192.0h1.6M190.4 192.0h1.6M521.6 192.0h1.6M531.2 192.0h1.6M193.6 193.6h1.6M524.8 195.2h4.8M176.0 208.0h1.6M169.6 220.8h1.6" stroke="#f5d4d4" stroke-width="1.6"/><path d="M49.6 0.0h1.6M56.0 0.0h1.6M398.4 0.0h1.6M417.6 0.0h1.6M456.0 0.0h1.6M28.8 1.6h1.6M75.2 1.6h1.6M150.4 1.6h1.6M331.2 1.6h1.6M486.4 1.6h1.6M404.8 4.8h1.6M507.2 4.8h1.6M30.4 6.4h1.6M326.4 6.4h1.6M440.0 6.4h1.6M28.8 8.0h1.6M369.6 8.0h1.6M436.8 8.0h1.6M422.4 9.6h1.6M465.6 9.6h1.6M540.8 9.6h1.6M16.0 11.2h1.6M28.8 11.2h1.6M113.6 11.2h1.6M120.0 11.2h1.6M441.6 11.2h1.6M444.8 11.2h1.6M22.4 12.8h1.6M28.8 12.8h1.6M73.6 12.8h1.6M312.0 12.8h1.6M27.2 14.4h3.2M302.4 14.4h1.6M393.6 14.4h1.6M433.6 14.4h1.6M454.4 14.4h1.6M507.2 14.4h1.6M30.4 16.0h1.6M52.8 16.0h1.6M302.4 16.0h1.6M353.6 16.0h1.6M360.0 16.0h1.6M416.0 16.0h1.6M446.4 16.0h1.6M460.8 16.0h1.6M40.0 17.6h1.6M99.2 17.6h1.6M126.4 17.6h1.6M361.6 17.6h1.6M390.4 17.6h1.6M414.4 17.6h1.6M419.2 17.6h1.6M28.8 19.2h1.6M329.6 19.2h1.6M388.8 19.2h1.6M420.8 19.2h1.6M441.6 19.2h1.6M89.6 20.8h1.6M96.0 20.8h1.6M177.6 20.8h1.6M180.8 20.8h1.6M187.2 20.8h1.6M299.2 20.8h1.6M350.4 20.8h1.6M366.4 20.8h1.6M393.6 20.8h1.6M432.0 20.8h1.6M451.2 20.8h1.6M171.2 22.4h1.6M179.2 22.4h1.6M182.4 22.4h1.6M310.4 22.4h1.6M414.4 22.4h1.6M496.0 22.4h1.6M94.4 24.0h1.6M128.0 24.0h1.6M176.0 24.0h1.6M281.6 24.0h1.6M315.2 24.0h1.6M393.6 24.0h1.6M412.8 24.0h1.6M118.4 25.6h1.6M123.2 25.6h1.6M137.6 25.6h1.6M150.4 25.6h1.6M168.0 25.6h1.6M192.0 25.6h1.6M312.0 25.6h1.6M454.4 25.6h1.6M112.0 27.2h1.6M129.6 27.2h1.6M139.2 27.2h1.6M169.6 27.2h1.6M187.2 27.2h1.6M374.4 27.2h1.6M440.0 27.2h1.6M126.4 28.8h3.2M139.2 28.8h1.6M150.4 28.8h1.6M332.8 28.8h1.6M342.4 28.8h1.6M353.6 28.8h1.6M473.6 28.8h1.6M107.2 30.4h1.6M145.6 30.4h1.6M318.4 30.4h1.6M348.8 30.4h1.6M353.6 30.4h1.6M116.8 32.0h1.6M123.2 32.0h1.6M172.8 32.0h1.6M182.4 32.0h1.6M200.0 32.0h1.6M284.8 32.0h1.6M288.0 32.0h1.6M316.8 32.0h1.6M404.8 32.0h1.6M494.4 32.0h1.6M129.6 33.6h1.6M161.6 33.6h1.6M192.0 33.6h1.6M337.6 33.6h1.6M379.2 33.6h1.6M398.4 33.6h3.2M404.8 33.6h1.6M102.4 35.2h1.6M115.2 35.2h3.2M129.6 35.2h1.6M134.4 35.2h1.6M182.4 35.2h1.6M321.6 35.2h3.2M350.4 35.2h3.2M105.6 36.8h3.2M121.6 36.8h1.6M179.2 36.8h1.6M297.6 36.8h1.6M352.0 36.8h1.6M97.6 38.4h1.6M104.0 38.4h1.6M121.6 38.4h1.6M160.0 38.4h1.6M283.2 38.4h1.6M331.2 38.4h1.6M459.2 38.4h1.6M94.4 40.0h1.6M132.8 40.0h1.6M144.0 40.0h1.6M161.6 40.0h1.6M174.4 40.0h1.6M284.8 40.0h1.6M310.4 40.0h1.6M329.6 40.0h1.6M404.8 40.0h1.6M417.6 40.0h1.6M496.0 40.0h1.6M105.6 41.6h1.6M132.8 41.6h1.6M172.8 41.6h1.6M177.6 41.6h1.6M296.0 41.6h1.6M307.2 41.6h3.2M100.8 43.2h1.6M120.0 43.2h1.6M190.4 43.2h1.6M136.0 44.8h1.6M164.8 44.8h3.2M172.8 44.8h1.6M185.6 44.8h1.6M299.2 44.8h3.2M313.6 44.8h1.6M494.4 44.8h1.6M104.0 46.4h1.6M118.4 46.4h1.6M134.4 46.4h1.6M174.4 46.4h1.6M92.8 48.0h1.6M112.0 48.0h1.6M116.8 48.0h1.6M126.4 48.0h1.6M136.0 48.0h1.6M320.0 48.0h1.6M483.2 48.0h1.6M92.8 49.6h1.6M97.6 49.6h1.6M102.4 49.6h1.6M113.6 49.6h1.6M121.6 49.6h1.6M131.2 49.6h1.6M153.6 49.6h1.6M171.2 49.6h3.2M99.2 51.2h1.6M152.0 51.2h1.6M171.2 51.2h1.6M291.2 51.2h1.6M408.0 51.2h1.6M140.8 52.8h3.2M278.4 52.8h1.6M321.6 52.8h1.6M348.8 52.8h1.6M353.6 52.8h1.6M408.0 52.8h1.6M444.8 52.8h1.6M102.4 54.4h1.6M144.0 54.4h1.6M148.8 54.4h1.6M284.8 54.4h1.6M336.0 54.4h3.2M92.8 56.0h1.6M161.6 56.0h1.6M283.2 56.0h1.6M323.2 56.0h1.6M353.6 56.0h1.6M411.2 56.0h1.6M451.2 56.0h1.6M460.8 56.0h1.6M467.2 56.0h1.6M92.8 57.6h1.6M116.8 57.6h1.6M123.2 57.6h1.6M153.6 57.6h1.6M284.8 57.6h1.6M312.0 57.6h1.6M315.2 57.6h1.6M336.0 57.6h1.6M339.2 57.6h1.6M412.8 57.6h1.6M94.4 59.2h1.6M99.2 59.2h1.6M131.2 59.2h1.6M137.6 59.2h1.6M145.6 59.2h3.2M150.4 59.2h1.6M164.8 59.2h1.6M280.0 59.2h1.6M305.6 59.2h1.6M336.0 59.2h3.2M355.2 59.2h1.6M411.2 59.2h1.6M448.0 59.2h1.6M94.4 60.8h1.6M128.0 60.8h1.6M152.0 60.8h1.6M163.2 60.8h1.6M300.8 60.8h1.6M380.8 60.8h1.6M99.2 62.4h1.6M115.2 62.4h1.6M129.6 62.4h1.6M153.6 62.4h1.6M347.2 62.4h1.6M376.0 62.4h1.6M105.6 64.0h1.6M115.2 64.0h1.6M120.0 64.0h1.6M139.2 64.0h1.6M296.0 64.0h1.6M382.4 64.0h1.6M104.0 65.6h1.6M112.0 65.6h1.6M132.8 67.2h1.6M136.0 67.2h3.2M283.2 67.2h1.6M356.8 67.2h1.6M364.8 67.2h1.6M113.6 68.8h1.6M116.8 68.8h1.6M120.0 68.8h1.6M292.8 68.8h1.6M376.0 68.8h1.6M476.8 68.8h1.6M289.6 70.4h1.6M292.8 70.4h1.6M456.0 70.4h1.6M476.8 70.4h1.6M107.2 72.0h1.6M110.4 72.0h1.6M137.6 72.0h3.2M281.6 72.0h1.6M296.0 72.0h1.6M353.6 72.0h3.2M459.2 72.0h1.6M108.8 73.6h1.6M123.2 73.6h1.6M126.4 73.6h1.6M156.8 73.6h1.6M278.4 73.6h1.6M283.2 73.6h1.6M347.2 73.6h1.6M374.4 73.6h1.6M435.2 73.6h1.6M454.4 73.6h1.6M123.2 75.2h3.2M132.8 75.2h1.6M120.0 76.8h1.6M156.8 76.8h1.6M451.2 76.8h1.6M123.2 78.4h1.6M379.2 78.4h1.6M401.6 78.4h1.6M408.0 78.4h1.6M480.0 78.4h1.6M108.8 81.6h1.6M305.6 83.2h1.6M281.6 86.4h1.6M302.4 86.4h1.6M305.6 86.4h1.6M428.8 86.4h1.6M473.6 86.4h1.6M305.6 88.0h3.2M118.4 89.6h1.6M126.4 89.6h1.6M145.6 89.6h1.6M302.4 92.8h1.6M137.6 94.4h1.6M318.4 94.4h1.6M139.2 96.0h1.6M318.4 96.0h1.6M422.4 96.0h1.6M313.6 97.6h1.6M321.6 97.6h1.6M268.8 100.8h1.6M460.8 100.8h1.6M288.0 102.4h1.6M262.4 104.0h1.6M334.4 104.0h1.6M283.2 107.2h1.6M353.6 107.2h1.6M184.0 110.4h1.6M283.2 110.4h1.6M328.0 110.4h1.6M334.4 110.4h1.6M350.4 110.4h1.6M318.4 112.0h1.6M336.0 112.0h1.6M344.0 112.0h1.6M353.6 112.0h1.6M160.0 113.6h1.6M184.0 115.2h1.6M195.2 115.2h1.6M350.4 116.8h1.6M358.4 124.8h1.6M456.0 128.0h1.6M179.2 131.2h1.6M460.8 132.8h1.6M340.8 136.0h1.6M188.8 140.8h1.6M342.4 142.4h1.6M352.0 142.4h1.6M166.4 145.6h1.6M350.4 145.6h1.6M500.8 150.4h1.6M500.8 152.0h3.2M225.6 153.6h1.6M172.8 155.2h1.6M331.2 156.8h1.6M500.8 156.8h1.6M318.4 158.4h1.6M523.2 158.4h1.6M516.8 160.0h1.6M520.0 160.0h1.6M500.8 161.6h1.6M518.4 161.6h1.6M198.4 163.2h1.6M483.2 163.2h1.6M328.0 164.8h1.6M529.6 164.8h1.6M483.2 166.4h1.6M326.4 168.0h1.6M344.0 168.0h1.6M516.8 169.6h1.6M524.8 169.6h1.6M315.2 171.2h1.6M336.0 171.2h3.2M516.8 171.2h1.6M520.0 171.2h1.6M198.4 172.8h1.6M339.2 172.8h1.6M478.4 172.8h1.6M483.2 174.4h1.6M177.6 176.0h1.6M484.8 176.0h1.6M508.8 177.6h1.6M489.6 179.2h1.6M499.2 179.2h1.6M179.2 180.8h1.6M488.0 180.8h1.6M182.4 182.4h1.6M476.8 182.4h1.6M491.2 182.4h1.6M486.4 184.0h1.6M331.2 185.6h1.6M475.2 187.2h1.6M326.4 188.8h1.6M193.6 195.2h1.6M524.8 196.8h1.6M182.4 201.6h1.6M184.0 204.8h1.6" stroke="#d6d6f7" stroke-width="1.6"/><path d="M32.0 0.0h1.6M43.2 1.6h1.6M54.4 1.6h1.6M409.6 1.6h1.6M459.2 1.6h1.6M147.2 3.2h1.6M361.6 4.8h1.6M400.0 4.8h1.6M329.6 6.4h1.6M550.4 6.4h1.6M366.4 9.6h1.6M409.6 9.6h1.6M360.0 11.2h1.6M406.4 11.2h1.6M30.4 12.8h1.6M136.0 12.8h1.6M358.4 12.8h1.6M392.0 12.8h1.6M460.8 12.8h1.6M326.4 14.4h1.6M398.4 14.4h1.6M411.2 14.4h1.6M419.2 14.4h1.6M436.8 14.4h1.6M78.4 16.0h1.6M329.6 16.0h1.6M348.8 16.0h1.6M420.8 16.0h1.6M430.4 16.0h1.6M81.6 17.6h1.6M107.2 17.6h1.6M134.4 17.6h1.6M308.8 17.6h1.6M353.6 17.6h1.6M371.2 17.6h1.6M398.4 17.6h1.6M427.2 17.6h1.6M440.0 17.6h1.6M444.8 17.6h1.6M76.8 19.2h1.6M81.6 19.2h1.6M99.2 19.2h1.6M102.4 19.2h1.6M308.8 19.2h3.2M315.2 19.2h1.6M334.4 19.2h1.6M436.8 19.2h1.6M440.0 19.2h1.6M489.6 19.2h1.6M76.8 20.8h1.6M88.0 20.8h1.6M104.0 20.8h1.6M107.2 20.8h1.6M115.2 20.8h1.6M340.8 20.8h1.6M424.0 20.8h1.6M462.4 20.8h1.6M78.4 22.4h1.6M83.2 22.4h1.6M107.2 22.4h1.6M120.0 22.4h1.6M184.0 22.4h1.6M313.6 22.4h1.6M340.8 22.4h1.6M396.8 22.4h1.6M420.8 22.4h1.6M83.2 24.0h1.6M102.4 24.0h1.6M331.2 24.0h1.6M353.6 24.0h1.6M430.4 24.0h1.6M124.8 25.6h1.6M283.2 25.6h1.6M328.0 25.6h1.6M331.2 25.6h1.6M348.8 25.6h1.6M353.6 25.6h1.6M147.2 27.2h3.2M344.0 27.2h1.6M347.2 27.2h1.6M350.4 27.2h1.6M355.2 27.2h1.6M401.6 27.2h1.6M456.0 27.2h1.6M473.6 27.2h1.6M153.6 28.8h1.6M276.8 28.8h1.6M304.0 28.8h1.6M347.2 28.8h1.6M372.8 28.8h1.6M425.6 28.8h3.2M483.2 28.8h1.6M88.0 30.4h1.6M115.2 30.4h1.6M280.0 30.4h1.6M291.2 30.4h1.6M302.4 30.4h1.6M316.8 30.4h1.6M321.6 30.4h1.6M380.8 30.4h1.6M446.4 30.4h1.6M120.0 32.0h1.6M171.2 32.0h1.6M198.4 32.0h1.6M313.6 32.0h1.6M342.4 32.0h1.6M382.4 32.0h1.6M401.6 32.0h1.6M414.4 32.0h1.6M448.0 32.0h1.6M472.0 32.0h1.6M88.0 33.6h1.6M105.6 33.6h1.6M123.2 33.6h1.6M128.0 33.6h1.6M339.2 33.6h1.6M360.0 33.6h1.6M382.4 33.6h1.6M392.0 33.6h4.8M433.6 33.6h1.6M436.8 33.6h1.6M448.0 33.6h1.6M96.0 35.2h1.6M113.6 35.2h1.6M121.6 35.2h1.6M299.2 35.2h1.6M310.4 35.2h1.6M326.4 35.2h1.6M360.0 35.2h1.6M384.0 35.2h1.6M387.2 35.2h1.6M414.4 35.2h1.6M419.2 35.2h1.6M443.2 35.2h1.6M452.8 35.2h1.6M457.6 35.2h1.6M96.0 36.8h3.2M124.8 36.8h1.6M145.6 36.8h1.6M160.0 36.8h1.6M174.4 36.8h1.6M196.8 36.8h1.6M286.4 36.8h1.6M299.2 36.8h1.6M342.4 36.8h1.6M390.4 36.8h1.6M395.2 36.8h1.6M438.4 36.8h1.6M454.4 36.8h1.6M113.6 38.4h1.6M139.2 38.4h1.6M144.0 38.4h1.6M150.4 38.4h1.6M180.8 38.4h1.6M300.8 38.4h1.6M321.6 38.4h1.6M400.0 38.4h1.6M102.4 40.0h1.6M112.0 40.0h1.6M134.4 40.0h1.6M155.2 40.0h1.6M180.8 40.0h1.6M198.4 40.0h1.6M102.4 41.6h1.6M134.4 41.6h1.6M158.4 41.6h1.6M171.2 41.6h1.6M182.4 41.6h1.6M299.2 41.6h1.6M305.6 41.6h1.6M320.0 41.6h1.6M401.6 41.6h1.6M104.0 43.2h1.6M110.4 43.2h1.6M132.8 43.2h1.6M136.0 43.2h1.6M139.2 43.2h1.6M144.0 43.2h3.2M163.2 43.2h1.6M187.2 43.2h1.6M292.8 43.2h1.6M310.4 43.2h1.6M316.8 43.2h1.6M352.0 43.2h1.6M508.8 43.2h1.6M100.8 44.8h1.6M105.6 44.8h1.6M152.0 44.8h1.6M304.0 44.8h1.6M321.6 44.8h3.2M352.0 44.8h1.6M99.2 46.4h1.6M124.8 46.4h3.2M139.2 46.4h1.6M150.4 46.4h1.6M288.0 46.4h1.6M291.2 46.4h1.6M96.0 48.0h1.6M107.2 48.0h1.6M128.0 48.0h1.6M312.0 48.0h1.6M321.6 48.0h1.6M329.6 48.0h1.6M492.8 48.0h1.6M96.0 49.6h1.6M112.0 49.6h1.6M137.6 49.6h1.6M89.6 51.2h1.6M104.0 51.2h1.6M108.8 51.2h1.6M115.2 51.2h1.6M118.4 51.2h3.2M129.6 51.2h1.6M139.2 51.2h1.6M145.6 51.2h3.2M158.4 51.2h4.8M340.8 51.2h1.6M446.4 51.2h1.6M129.6 52.8h1.6M150.4 52.8h1.6M169.6 52.8h1.6M345.6 52.8h1.6M366.4 52.8h1.6M401.6 52.8h1.6M92.8 54.4h1.6M97.6 54.4h1.6M128.0 54.4h1.6M145.6 54.4h1.6M150.4 54.4h1.6M158.4 54.4h1.6M294.4 54.4h1.6M323.2 54.4h3.2M339.2 54.4h1.6M96.0 56.0h1.6M147.2 56.0h1.6M155.2 56.0h1.6M336.0 56.0h1.6M350.4 56.0h3.2M105.6 57.6h1.6M150.4 57.6h1.6M166.4 57.6h1.6M286.4 57.6h1.6M353.6 57.6h1.6M97.6 59.2h1.6M104.0 59.2h1.6M108.8 59.2h1.6M120.0 59.2h1.6M313.6 59.2h1.6M147.2 60.8h1.6M160.0 60.8h1.6M296.0 60.8h1.6M96.0 62.4h1.6M147.2 62.4h1.6M160.0 62.4h1.6M166.4 62.4h1.6M424.0 62.4h1.6M473.6 62.4h1.6M478.4 62.4h1.6M481.6 62.4h1.6M438.4 64.0h1.6M128.0 65.6h1.6M156.8 65.6h1.6M112.0 67.2h1.6M115.2 67.2h1.6M142.4 67.2h6.4M155.2 67.2h1.6M361.6 67.2h1.6M480.0 67.2h1.6M358.4 68.8h1.6M108.8 70.4h1.6M115.2 70.4h1.6M129.6 70.4h1.6M123.2 72.0h1.6M136.0 72.0h1.6M142.4 72.0h1.6M404.8 72.0h1.6M470.4 72.0h1.6M112.0 73.6h1.6M289.6 73.6h1.6M398.4 75.2h1.6M158.4 76.8h1.6M128.0 78.4h3.2M128.0 80.0h1.6M404.8 80.0h1.6M454.4 81.6h1.6M400.0 83.2h1.6M435.2 84.8h1.6M134.4 94.4h1.6M456.0 94.4h1.6M326.4 97.6h1.6M331.2 97.6h1.6M464.0 100.8h1.6M326.4 102.4h1.6M265.6 104.0h1.6M337.6 104.0h1.6M348.8 104.0h1.6M355.2 104.0h1.6M278.4 105.6h1.6M281.6 105.6h1.6M336.0 105.6h1.6M345.6 105.6h4.8M355.2 105.6h3.2M174.4 107.2h1.6M307.2 107.2h1.6M345.6 107.2h1.6M281.6 108.8h1.6M350.4 108.8h1.6M182.4 110.4h1.6M276.8 110.4h1.6M300.8 110.4h1.6M313.6 110.4h1.6M345.6 110.4h1.6M352.0 110.4h1.6M356.8 110.4h1.6M312.0 113.6h1.6M310.4 115.2h1.6M350.4 115.2h1.6M180.8 118.4h1.6M180.8 120.0h1.6M166.4 121.6h1.6M347.2 128.0h1.6M348.8 129.6h1.6M513.6 131.2h1.6M336.0 132.8h1.6M352.0 132.8h3.2M340.8 134.4h1.6M508.8 134.4h1.6M339.2 136.0h1.6M188.8 139.2h1.6M198.4 139.2h1.6M225.6 139.2h1.6M340.8 139.2h1.6M195.2 140.8h1.6M216.0 140.8h1.6M193.6 142.4h1.6M475.2 142.4h1.6M190.4 144.0h1.6M203.2 144.0h1.6M208.0 144.0h3.2M212.8 144.0h1.6M204.8 145.6h1.6M353.6 145.6h1.6M347.2 148.8h1.6M176.0 150.4h1.6M508.8 150.4h1.6M220.8 152.0h1.6M491.2 153.6h1.6M499.2 153.6h1.6M502.4 153.6h1.6M323.2 155.2h1.6M496.0 155.2h1.6M499.2 156.8h1.6M508.8 156.8h1.6M520.0 156.8h1.6M342.4 158.4h1.6M515.2 158.4h1.6M492.8 160.0h1.6M505.6 160.0h1.6M515.2 160.0h1.6M488.0 161.6h1.6M512.0 161.6h1.6M520.0 161.6h1.6M504.0 163.2h1.6M508.8 163.2h1.6M523.2 163.2h3.2M529.6 163.2h1.6M201.6 164.8h1.6M219.2 164.8h1.6M486.4 164.8h1.6M491.2 164.8h1.6M505.6 164.8h3.2M521.6 164.8h1.6M313.6 166.4h1.6M332.8 166.4h1.6M488.0 166.4h1.6M491.2 166.4h1.6M521.6 166.4h1.6M339.2 168.0h1.6M489.6 168.0h1.6M505.6 168.0h1.6M513.6 168.0h1.6M526.4 168.0h1.6M193.6 169.6h1.6M200.0 169.6h1.6M340.8 169.6h1.6M489.6 169.6h1.6M492.8 169.6h1.6M500.8 169.6h1.6M513.6 169.6h1.6M521.6 169.6h1.6M526.4 169.6h1.6M198.4 171.2h1.6M486.4 171.2h1.6M496.0 171.2h1.6M499.2 171.2h1.6M200.0 172.8h1.6M331.2 172.8h1.6M491.2 172.8h1.6M502.4 172.8h1.6M512.0 172.8h1.6M520.0 172.8h3.2M529.6 172.8h1.6M198.4 174.4h1.6M203.2 174.4h3.2M476.8 174.4h1.6M513.6 174.4h1.6M200.0 176.0h1.6M481.6 176.0h1.6M489.6 176.0h1.6M504.0 176.0h1.6M508.8 176.0h1.6M513.6 176.0h1.6M516.8 176.0h1.6M521.6 176.0h1.6M315.2 177.6h1.6M331.2 177.6h1.6M473.6 177.6h1.6M478.4 177.6h1.6M494.4 177.6h1.6M502.4 177.6h1.6M521.6 177.6h1.6M529.6 177.6h1.6M478.4 179.2h1.6M510.4 179.2h1.6M536.0 179.2h1.6M196.8 180.8h1.6M321.6 180.8h1.6M502.4 180.8h1.6M321.6 182.4h1.6M331.2 182.4h1.6M336.0 182.4h1.6M488.0 182.4h3.2M505.6 182.4h1.6M510.4 182.4h1.6M516.8 182.4h1.6M523.2 182.4h1.6M494.4 184.0h1.6M502.4 184.0h1.6M513.6 184.0h1.6M518.4 184.0h1.6M534.4 184.0h1.6M484.8 185.6h1.6M488.0 185.6h1.6M513.6 185.6h1.6M518.4 185.6h1.6M529.6 185.6h1.6M486.4 187.2h1.6M520.0 187.2h1.6M526.4 187.2h1.6M195.2 188.8h1.6M483.2 188.8h1.6M521.6 188.8h1.6M190.4 190.4h1.6M516.8 190.4h3.2M523.2 190.4h1.6M529.6 190.4h1.6M513.6 192.0h1.6M529.6 193.6h1.6M179.2 195.2h1.6M521.6 195.2h3.2M526.4 196.8h1.6" stroke="#ecbcbc" stroke-width="1.6"/><path d="M41.6 0.0h1.6M91.2 0.0h1.6M387.2 0.0h1.6M440.0 0.0h1.6M48.0 1.6h3.2M52.8 1.6h1.6M382.4 1.6h1.6M414.4 1.6h1.6M35.2 3.2h1.6M44.8 3.2h1.6M404.8 3.2h1.6M491.2 3.2h1.6M41.6 4.8h1.6M59.2 4.8h1.6M408.0 4.8h1.6M41.6 6.4h1.6M144.0 6.4h1.6M363.2 6.4h1.6M20.8 8.0h1.6M35.2 8.0h1.6M38.4 8.0h1.6M43.2 8.0h1.6M68.8 8.0h1.6M387.2 8.0h1.6M35.2 9.6h1.6M48.0 9.6h1.6M132.8 9.6h1.6M312.0 9.6h1.6M340.8 9.6h1.6M395.2 9.6h1.6M30.4 11.2h1.6M38.4 11.2h1.6M313.6 11.2h1.6M392.0 11.2h1.6M35.2 12.8h1.6M337.6 12.8h1.6M344.0 12.8h1.6M441.6 12.8h1.6M486.4 12.8h1.6M30.4 14.4h1.6M36.8 14.4h1.6M308.8 14.4h1.6M342.4 14.4h3.2M364.8 14.4h1.6M427.2 14.4h1.6M438.4 14.4h1.6M441.6 14.4h1.6M33.6 16.0h1.6M299.2 16.0h1.6M312.0 16.0h1.6M459.2 16.0h1.6M28.8 17.6h1.6M32.0 17.6h1.6M331.2 17.6h1.6M340.8 17.6h1.6M350.4 17.6h1.6M356.8 17.6h1.6M94.4 19.2h1.6M105.6 19.2h1.6M182.4 19.2h1.6M300.8 19.2h1.6M105.6 20.8h1.6M108.8 20.8h1.6M331.2 20.8h1.6M337.6 20.8h1.6M403.2 20.8h1.6M441.6 20.8h1.6M446.4 20.8h1.6M424.0 22.4h1.6M433.6 22.4h1.6M32.0 24.0h1.6M97.6 24.0h1.6M104.0 24.0h1.6M126.4 24.0h1.6M177.6 24.0h3.2M310.4 24.0h1.6M414.4 24.0h1.6M30.4 25.6h1.6M126.4 25.6h1.6M131.2 25.6h1.6M134.4 25.6h1.6M164.8 25.6h1.6M337.6 25.6h1.6M340.8 25.6h1.6M408.0 25.6h1.6M414.4 25.6h1.6M88.0 27.2h1.6M168.0 27.2h1.6M182.4 27.2h1.6M321.6 27.2h3.2M432.0 27.2h1.6M129.6 28.8h1.6M148.8 28.8h1.6M320.0 28.8h1.6M337.6 28.8h1.6M352.0 28.8h1.6M376.0 28.8h1.6M470.4 28.8h1.6M121.6 30.4h1.6M180.8 30.4h1.6M276.8 30.4h1.6M315.2 30.4h1.6M352.0 30.4h1.6M358.4 30.4h1.6M390.4 30.4h1.6M396.8 30.4h1.6M110.4 32.0h1.6M152.0 32.0h1.6M184.0 32.0h1.6M380.8 32.0h1.6M99.2 33.6h1.6M169.6 33.6h1.6M185.6 33.6h1.6M284.8 33.6h3.2M446.4 33.6h1.6M120.0 35.2h1.6M184.0 35.2h1.6M364.8 35.2h1.6M400.0 35.2h1.6M120.0 36.8h1.6M171.2 36.8h1.6M361.6 36.8h3.2M372.8 38.4h1.6M96.0 40.0h1.6M120.0 40.0h1.6M139.2 40.0h4.8M163.2 40.0h1.6M169.6 40.0h1.6M200.0 40.0h1.6M321.6 40.0h1.6M353.6 40.0h1.6M457.6 40.0h1.6M94.4 41.6h3.2M113.6 41.6h1.6M118.4 41.6h1.6M161.6 41.6h1.6M168.0 41.6h1.6M180.8 41.6h1.6M121.6 43.2h1.6M168.0 43.2h1.6M171.2 43.2h1.6M342.4 43.2h1.6M107.2 44.8h1.6M113.6 44.8h1.6M123.2 44.8h1.6M169.6 44.8h3.2M291.2 44.8h1.6M161.6 46.4h1.6M172.8 46.4h1.6M113.6 48.0h1.6M150.4 48.0h1.6M417.6 48.0h1.6M465.6 48.0h1.6M105.6 49.6h1.6M128.0 49.6h1.6M164.8 49.6h1.6M289.6 49.6h1.6M107.2 51.2h1.6M110.4 51.2h1.6M126.4 51.2h1.6M169.6 51.2h1.6M304.0 51.2h1.6M315.2 51.2h1.6M323.2 51.2h1.6M334.4 51.2h1.6M132.8 52.8h1.6M139.2 52.8h1.6M339.2 52.8h1.6M344.0 52.8h1.6M368.0 52.8h1.6M132.8 54.4h1.6M344.0 54.4h1.6M352.0 54.4h1.6M387.2 54.4h1.6M446.4 54.4h1.6M452.8 54.4h1.6M89.6 56.0h1.6M115.2 56.0h1.6M145.6 56.0h1.6M152.0 56.0h1.6M166.4 56.0h1.6M284.8 56.0h1.6M358.4 56.0h3.2M448.0 56.0h1.6M96.0 57.6h1.6M152.0 57.6h1.6M168.0 57.6h1.6M340.8 57.6h1.6M355.2 57.6h3.2M382.4 57.6h1.6M451.2 57.6h1.6M465.6 57.6h1.6M92.8 59.2h1.6M124.8 59.2h1.6M139.2 59.2h1.6M161.6 59.2h1.6M166.4 59.2h1.6M99.2 60.8h1.6M115.2 60.8h1.6M121.6 60.8h1.6M126.4 60.8h1.6M139.2 60.8h1.6M356.8 60.8h1.6M360.0 60.8h1.6M510.4 60.8h1.6M128.0 62.4h1.6M142.4 62.4h1.6M164.8 62.4h1.6M449.6 62.4h1.6M100.8 64.0h1.6M124.8 64.0h1.6M456.0 64.0h1.6M105.6 65.6h1.6M116.8 65.6h3.2M126.4 65.6h1.6M102.4 67.2h3.2M121.6 67.2h1.6M126.4 67.2h1.6M150.4 67.2h1.6M379.2 67.2h3.2M406.4 67.2h1.6M104.0 68.8h1.6M121.6 68.8h1.6M139.2 68.8h1.6M288.0 68.8h3.2M294.4 68.8h1.6M452.8 68.8h1.6M107.2 70.4h1.6M112.0 70.4h1.6M134.4 70.4h3.2M363.2 70.4h1.6M462.4 70.4h1.6M102.4 72.0h1.6M112.0 72.0h1.6M129.6 72.0h1.6M152.0 72.0h1.6M456.0 72.0h1.6M132.8 73.6h1.6M136.0 73.6h1.6M281.6 73.6h1.6M372.8 73.6h1.6M433.6 73.6h1.6M456.0 73.6h1.6M158.4 75.2h1.6M105.6 76.8h1.6M121.6 76.8h3.2M348.8 76.8h1.6M401.6 76.8h1.6M443.2 78.4h1.6M467.2 78.4h1.6M478.4 83.2h1.6M304.0 84.8h1.6M424.0 84.8h1.6M484.8 84.8h1.6M299.2 86.4h1.6M264.0 88.0h1.6M262.4 89.6h1.6M305.6 92.8h1.6M448.0 92.8h1.6M465.6 92.8h1.6M289.6 94.4h1.6M320.0 94.4h1.6M345.6 94.4h1.6M444.8 94.4h1.6M296.0 96.0h1.6M331.2 96.0h1.6M420.8 96.0h1.6M443.2 96.0h1.6M449.6 99.2h1.6M148.8 100.8h1.6M281.6 102.4h1.6M264.0 104.0h1.6M284.8 104.0h1.6M457.6 104.0h1.6M304.0 105.6h1.6M310.4 105.6h1.6M324.8 105.6h1.6M358.4 105.6h1.6M412.8 105.6h1.6M323.2 107.2h1.6M291.2 108.8h1.6M272.0 110.4h1.6M270.4 112.0h1.6M280.0 112.0h1.6M284.8 112.0h1.6M350.4 112.0h1.6M184.0 116.8h1.6M187.2 116.8h1.6M323.2 116.8h1.6M480.0 116.8h1.6M187.2 118.4h1.6M329.6 123.2h1.6M206.4 124.8h1.6M168.0 126.4h1.6M336.0 128.0h1.6M177.6 129.6h1.6M214.4 129.6h1.6M326.4 131.2h1.6M184.0 132.8h1.6M510.4 136.0h1.6M336.0 137.6h1.6M187.2 142.4h1.6M326.4 144.0h1.6M187.2 147.2h1.6M500.8 153.6h1.6M369.6 158.4h1.6M520.0 158.4h3.2M316.8 160.0h1.6M206.4 161.6h1.6M484.8 163.2h1.6M203.2 164.8h1.6M481.6 164.8h1.6M484.8 166.4h1.6M192.0 168.0h1.6M475.2 168.0h1.6M515.2 169.6h1.6M531.2 169.6h1.6M180.8 171.2h1.6M200.0 171.2h1.6M204.8 171.2h1.6M316.8 171.2h1.6M518.4 171.2h1.6M185.6 172.8h1.6M481.6 174.4h1.6M500.8 176.0h1.6M177.6 179.2h1.6M520.0 188.8h1.6M172.8 198.4h1.6M526.4 203.2h1.6M172.8 212.8h1.6M177.6 219.2h1.6" stroke="#bebef0" stroke-width="1.6"/><path d="M68.8 4.8h1.6M348.8 4.8h1.6M363.2 4.8h1.6M387.2 4.8h1.6M400.0 6.4h1.6M374.4 8.0h1.6M395.2 8.0h1.6M358.4 9.6h1.6M408.0 11.2h1.6M425.6 11.2h1.6M456.0 11.2h1.6M44.8 12.8h1.6M345.6 12.8h1.6M81.6 14.4h3.2M136.0 14.4h1.6M400.0 14.4h1.6M406.4 14.4h1.6M566.4 14.4h1.6M75.2 16.0h1.6M331.2 16.0h1.6M336.0 16.0h1.6M364.8 16.0h1.6M395.2 16.0h1.6M464.0 16.0h1.6M424.0 17.6h1.6M115.2 19.2h3.2M137.6 19.2h1.6M304.0 19.2h1.6M422.4 19.2h1.6M451.2 19.2h1.6M164.8 20.8h1.6M283.2 20.8h1.6M334.4 20.8h1.6M80.0 22.4h1.6M88.0 22.4h1.6M94.4 22.4h1.6M280.0 22.4h1.6M312.0 22.4h1.6M324.8 22.4h1.6M329.6 22.4h3.2M336.0 22.4h1.6M353.6 22.4h1.6M363.2 22.4h1.6M390.4 22.4h1.6M395.2 22.4h1.6M416.0 22.4h1.6M432.0 22.4h1.6M491.2 22.4h1.6M75.2 24.0h1.6M91.2 24.0h1.6M168.0 24.0h1.6M304.0 24.0h3.2M366.4 24.0h1.6M384.0 24.0h1.6M417.6 24.0h1.6M454.4 24.0h1.6M308.8 25.6h1.6M401.6 25.6h1.6M116.8 27.2h1.6M123.2 27.2h1.6M142.4 27.2h1.6M192.0 27.2h1.6M348.8 27.2h1.6M419.2 27.2h1.6M115.2 28.8h1.6M278.4 28.8h1.6M329.6 28.8h1.6M174.4 30.4h1.6M193.6 30.4h1.6M297.6 30.4h1.6M128.0 32.0h1.6M273.6 32.0h1.6M390.4 32.0h1.6M444.8 32.0h1.6M456.0 32.0h1.6M144.0 33.6h1.6M158.4 33.6h1.6M313.6 33.6h1.6M324.8 33.6h1.6M380.8 33.6h1.6M123.2 35.2h1.6M153.6 35.2h1.6M180.8 35.2h1.6M329.6 35.2h1.6M372.8 35.2h1.6M422.4 35.2h1.6M123.2 36.8h1.6M129.6 36.8h1.6M172.8 36.8h1.6M308.8 36.8h1.6M312.0 36.8h3.2M356.8 36.8h3.2M392.0 36.8h1.6M441.6 36.8h1.6M448.0 36.8h1.6M456.0 36.8h1.6M131.2 38.4h1.6M172.8 38.4h1.6M289.6 38.4h1.6M297.6 38.4h1.6M99.2 40.0h1.6M171.2 40.0h1.6M288.0 40.0h1.6M382.4 40.0h1.6M131.2 41.6h1.6M145.6 41.6h1.6M292.8 41.6h1.6M324.8 41.6h1.6M392.0 41.6h1.6M89.6 43.2h3.2M142.4 43.2h1.6M164.8 43.2h1.6M305.6 43.2h1.6M91.2 44.8h1.6M144.0 44.8h1.6M308.8 44.8h1.6M318.4 44.8h1.6M92.8 46.4h1.6M96.0 46.4h1.6M112.0 46.4h1.6M152.0 48.0h1.6M323.2 48.0h1.6M99.2 49.6h1.6M108.8 49.6h1.6M123.2 49.6h1.6M126.4 49.6h1.6M280.0 49.6h1.6M304.0 49.6h1.6M100.8 51.2h1.6M136.0 51.2h1.6M168.0 51.2h1.6M155.2 52.8h1.6M364.8 52.8h1.6M459.2 52.8h1.6M152.0 54.4h1.6M304.0 54.4h1.6M105.6 56.0h1.6M164.8 56.0h1.6M398.4 56.0h1.6M104.0 57.6h1.6M128.0 57.6h1.6M118.4 59.2h1.6M140.8 59.2h1.6M158.4 59.2h1.6M294.4 59.2h1.6M324.8 59.2h1.6M472.0 59.2h1.6M150.4 60.8h1.6M294.4 60.8h1.6M361.6 60.8h1.6M483.2 60.8h1.6M124.8 62.4h1.6M137.6 62.4h1.6M145.6 62.4h1.6M156.8 62.4h1.6M475.2 64.0h1.6M132.8 65.6h1.6M140.8 65.6h1.6M105.6 67.2h1.6M153.6 67.2h1.6M160.0 67.2h1.6M382.4 67.2h1.6M459.2 67.2h3.2M153.6 68.8h1.6M457.6 68.8h1.6M150.4 70.4h1.6M366.4 70.4h1.6M118.4 72.0h1.6M128.0 73.6h1.6M129.6 75.2h1.6M124.8 76.8h1.6M403.2 76.8h1.6M457.6 76.8h1.6M113.6 80.0h1.6M121.6 80.0h1.6M126.4 80.0h1.6M444.8 84.8h1.6M385.6 86.4h1.6M417.6 86.4h1.6M456.0 91.2h1.6M339.2 96.0h1.6M334.4 97.6h1.6M345.6 97.6h1.6M462.4 102.4h1.6M452.8 104.0h1.6M296.0 105.6h1.6M350.4 107.2h1.6M267.2 108.8h1.6M331.2 108.8h1.6M358.4 108.8h1.6M180.8 110.4h1.6M348.8 110.4h1.6M320.0 112.0h1.6M345.6 112.0h1.6M331.2 113.6h1.6M342.4 115.2h1.6M352.0 115.2h1.6M305.6 118.4h1.6M176.0 120.0h1.6M476.8 124.8h1.6M180.8 131.2h1.6M512.0 131.2h1.6M171.2 134.4h1.6M198.4 137.6h1.6M203.2 142.4h1.6M209.6 142.4h1.6M204.8 144.0h1.6M345.6 144.0h1.6M206.4 147.2h1.6M209.6 147.2h1.6M520.0 148.8h1.6M185.6 152.0h1.6M492.8 155.2h1.6M179.2 156.8h1.6M321.6 156.8h1.6M326.4 156.8h1.6M491.2 158.4h1.6M499.2 158.4h1.6M505.6 158.4h1.6M513.6 158.4h1.6M516.8 158.4h1.6M486.4 160.0h1.6M491.2 160.0h1.6M508.8 160.0h3.2M225.6 161.6h1.6M492.8 161.6h3.2M513.6 161.6h1.6M496.0 163.2h1.6M499.2 163.2h4.8M507.2 163.2h1.6M520.0 163.2h1.6M496.0 164.8h1.6M502.4 164.8h1.6M510.4 164.8h1.6M500.8 166.4h4.8M188.8 168.0h1.6M200.0 168.0h1.6M507.2 168.0h1.6M510.4 168.0h1.6M529.6 168.0h1.6M497.6 171.2h1.6M504.0 171.2h1.6M513.6 171.2h1.6M523.2 171.2h1.6M203.2 172.8h1.6M492.8 172.8h1.6M515.2 172.8h1.6M200.0 174.4h3.2M475.2 174.4h1.6M504.0 174.4h1.6M516.8 174.4h1.6M532.8 174.4h1.6M475.2 176.0h1.6M523.2 176.0h1.6M200.0 177.6h1.6M513.6 177.6h1.6M491.2 179.2h1.6M502.4 179.2h1.6M505.6 179.2h1.6M513.6 179.2h1.6M518.4 179.2h1.6M521.6 179.2h3.2M526.4 179.2h1.6M481.6 180.8h1.6M491.2 180.8h3.2M507.2 180.8h1.6M516.8 180.8h1.6M496.0 182.4h1.6M508.8 182.4h1.6M526.4 182.4h1.6M531.2 182.4h1.6M521.6 184.0h1.6M480.0 185.6h1.6M512.0 185.6h1.6M520.0 185.6h1.6M528.0 185.6h1.6M481.6 187.2h1.6M512.0 187.2h3.2M524.8 187.2h1.6M528.0 187.2h1.6M484.8 188.8h1.6M531.2 188.8h1.6M480.0 190.4h1.6M520.0 190.4h1.6M510.4 192.0h1.6M518.4 192.0h1.6" stroke="#d28c8c" stroke-width="1.6"/><path d="M38.4 0.0h1.6M150.4 0.0h1.6M40.0 1.6h1.6M38.4 3.2h1.6M400.0 3.2h1.6M340.8 4.8h1.6M436.8 4.8h1.6M46.4 6.4h1.6M73.6 6.4h1.6M459.2 6.4h1.6M392.0 8.0h1.6M400.0 8.0h1.6M28.8 9.6h1.6M36.8 9.6h3.2M315.2 9.6h3.2M392.0 9.6h1.6M44.8 11.2h1.6M51.2 11.2h1.6M436.8 11.2h1.6M336.0 14.4h1.6M326.4 16.0h1.6M392.0 16.0h1.6M41.6 17.6h1.6M176.0 17.6h1.6M348.8 17.6h1.6M171.2 19.2h1.6M299.2 19.2h1.6M435.2 19.2h1.6M459.2 19.2h1.6M464.0 19.2h1.6M179.2 20.8h1.6M105.6 22.4h1.6M323.2 22.4h1.6M470.4 22.4h1.6M139.2 24.0h1.6M355.2 24.0h1.6M411.2 24.0h1.6M422.4 24.0h1.6M428.8 24.0h1.6M337.6 27.2h1.6M372.8 27.2h1.6M390.4 27.2h1.6M123.2 28.8h1.6M188.8 28.8h1.6M334.4 28.8h1.6M388.8 28.8h1.6M128.0 30.4h1.6M148.8 30.4h1.6M182.4 30.4h1.6M392.0 30.4h1.6M409.6 30.4h1.6M112.0 32.0h1.6M140.8 32.0h1.6M355.2 32.0h1.6M120.0 33.6h1.6M403.2 33.6h1.6M94.4 35.2h1.6M105.6 35.2h1.6M508.8 36.8h1.6M404.8 38.4h1.6M113.6 40.0h1.6M121.6 40.0h1.6M166.4 40.0h1.6M340.8 40.0h1.6M185.6 41.6h1.6M140.8 43.2h1.6M179.2 43.2h1.6M140.8 44.8h1.6M187.2 44.8h1.6M292.8 44.8h3.2M166.4 46.4h1.6M131.2 48.0h1.6M124.8 49.6h1.6M136.0 49.6h1.6M144.0 49.6h1.6M281.6 49.6h1.6M150.4 51.2h1.6M155.2 51.2h1.6M403.2 52.8h1.6M464.0 52.8h1.6M321.6 54.4h1.6M94.4 56.0h1.6M340.8 56.0h1.6M395.2 56.0h1.6M465.6 56.0h1.6M113.6 57.6h1.6M385.6 57.6h1.6M449.6 57.6h1.6M358.4 59.2h1.6M443.2 59.2h1.6M100.8 60.8h1.6M145.6 60.8h1.6M107.2 62.4h1.6M118.4 62.4h1.6M446.4 64.0h1.6M108.8 65.6h1.6M137.6 65.6h1.6M281.6 65.6h1.6M110.4 67.2h1.6M116.8 67.2h1.6M152.0 67.2h1.6M355.2 67.2h1.6M443.2 67.2h1.6M105.6 68.8h1.6M408.0 70.4h1.6M446.4 70.4h1.6M140.8 72.0h1.6M148.8 72.0h1.6M294.4 72.0h1.6M401.6 72.0h1.6M131.2 75.2h1.6M302.4 83.2h1.6M433.6 83.2h1.6M299.2 84.8h1.6M302.4 84.8h1.6M449.6 86.4h1.6M484.8 86.4h1.6M310.4 88.0h1.6M465.6 91.2h1.6M456.0 96.0h1.6M412.8 97.6h1.6M454.4 97.6h1.6M460.8 99.2h3.2M148.8 102.4h1.6M283.2 104.0h1.6M283.2 105.6h1.6M316.8 105.6h1.6M353.6 105.6h1.6M457.6 105.6h1.6M278.4 107.2h1.6M358.4 107.2h1.6M355.2 110.4h1.6M358.4 110.4h1.6M192.0 112.0h1.6M321.6 112.0h1.6M352.0 113.6h1.6M208.0 123.2h1.6M316.8 129.6h1.6M190.4 140.8h1.6M200.0 155.2h1.6M193.6 156.8h1.6M518.4 158.4h1.6M524.8 160.0h1.6M224.0 161.6h1.6M475.2 166.4h1.6M478.4 166.4h3.2M555.2 166.4h1.6M504.0 168.0h1.6M328.0 169.6h1.6M484.8 169.6h1.6M201.6 171.2h1.6M475.2 171.2h1.6M483.2 171.2h1.6M337.6 172.8h1.6M504.0 177.6h1.6M484.8 179.2h1.6M512.0 179.2h1.6M481.6 182.4h1.6M508.8 190.4h1.6" stroke="#8e8edc" stroke-width="1.6"/><path d="M489.6 1.6h1.6M475.2 6.4h1.6M459.2 9.6h1.6M80.0 12.8h1.6M83.2 12.8h1.6M388.8 12.8h1.6M400.0 12.8h1.6M526.4 12.8h1.6M41.6 14.4h1.6M78.4 14.4h3.2M84.8 14.4h1.6M297.6 14.4h1.6M310.4 14.4h1.6M404.8 14.4h1.6M460.8 14.4h1.6M24.0 16.0h1.6M28.8 16.0h1.6M80.0 16.0h8.0M115.2 16.0h1.6M297.6 16.0h1.6M387.2 16.0h1.6M400.0 16.0h1.6M432.0 16.0h1.6M78.4 17.6h3.2M86.4 17.6h1.6M78.4 19.2h3.2M84.8 19.2h4.8M302.4 19.2h1.6M78.4 20.8h3.2M83.2 20.8h4.8M368.0 20.8h1.6M81.6 22.4h1.6M84.8 22.4h1.6M100.8 22.4h1.6M305.6 22.4h1.6M440.0 22.4h1.6M78.4 25.6h1.6M169.6 25.6h1.6M440.0 25.6h1.6M113.6 28.8h1.6M432.0 28.8h1.6M155.2 30.4h1.6M374.4 30.4h1.6M379.2 30.4h1.6M339.2 32.0h1.6M368.0 32.0h1.6M454.4 33.6h1.6M476.8 33.6h1.6M297.6 35.2h1.6M353.6 35.2h1.6M395.2 35.2h1.6M166.4 36.8h1.6M200.0 36.8h1.6M324.8 36.8h1.6M200.0 38.4h1.6M353.6 38.4h1.6M105.6 40.0h1.6M292.8 40.0h1.6M104.0 41.6h1.6M318.4 41.6h1.6M147.2 43.2h1.6M172.8 43.2h1.6M177.6 43.2h1.6M320.0 43.2h1.6M467.2 43.2h1.6M142.4 44.8h1.6M326.4 44.8h1.6M102.4 46.4h1.6M140.8 46.4h1.6M374.4 46.4h1.6M140.8 48.0h1.6M294.4 48.0h1.6M464.0 48.0h1.6M148.8 51.2h1.6M108.8 52.8h1.6M377.6 52.8h1.6M448.0 52.8h1.6M108.8 54.4h1.6M136.0 54.4h1.6M161.6 54.4h1.6M363.2 54.4h1.6M99.2 56.0h1.6M128.0 56.0h1.6M139.2 56.0h1.6M304.0 60.8h1.6M158.4 62.4h1.6M428.8 62.4h1.6M136.0 64.0h1.6M153.6 64.0h1.6M156.8 64.0h1.6M110.4 65.6h1.6M155.2 65.6h1.6M100.8 67.2h1.6M147.2 70.4h3.2M118.4 73.6h1.6M116.8 76.8h1.6M132.8 76.8h1.6M115.2 78.4h3.2M115.2 81.6h1.6M467.2 84.8h1.6M302.4 91.2h3.2M300.8 96.0h3.2M332.8 97.6h1.6M273.6 100.8h1.6M340.8 100.8h1.6M350.4 100.8h1.6M347.2 102.4h3.2M353.6 104.0h1.6M348.8 107.2h1.6M356.8 107.2h1.6M356.8 108.8h1.6M347.2 110.4h1.6M353.6 110.4h1.6M348.8 115.2h1.6M345.6 116.8h1.6M326.4 123.2h1.6M204.8 142.4h3.2M201.6 144.0h1.6M206.4 144.0h1.6M211.2 144.0h1.6M203.2 145.6h1.6M187.2 153.6h1.6M508.8 155.2h1.6M323.2 156.8h1.6M182.4 158.4h1.6M323.2 158.4h1.6M496.0 158.4h1.6M497.6 160.0h1.6M500.8 160.0h1.6M512.0 160.0h1.6M489.6 161.6h1.6M488.0 163.2h3.2M492.8 166.4h1.6M201.6 168.0h1.6M492.8 168.0h1.6M179.2 169.6h1.6M201.6 169.6h3.2M478.4 169.6h1.6M518.4 169.6h1.6M521.6 171.2h1.6M204.8 172.8h3.2M473.6 172.8h1.6M513.6 172.8h1.6M516.8 172.8h1.6M515.2 174.4h1.6M518.4 174.4h3.2M190.4 176.0h1.6M204.8 176.0h1.6M476.8 176.0h1.6M507.2 176.0h1.6M510.4 176.0h1.6M515.2 176.0h1.6M518.4 176.0h1.6M510.4 177.6h1.6M500.8 179.2h1.6M532.8 179.2h1.6M508.8 180.8h1.6M512.0 180.8h3.2M532.8 180.8h1.6M507.2 182.4h1.6M513.6 182.4h1.6M518.4 182.4h1.6M505.6 184.0h3.2M512.0 184.0h1.6M520.0 184.0h1.6M523.2 184.0h1.6M507.2 185.6h1.6M510.4 185.6h1.6M523.2 185.6h1.6M526.4 185.6h1.6M507.2 187.2h1.6M518.4 187.2h1.6M529.6 187.2h1.6M329.6 188.8h1.6M480.0 188.8h1.6M515.2 188.8h1.6M513.6 190.4h1.6M521.6 190.4h1.6M521.6 193.6h1.6" stroke="#9b5252" stroke-width="1.6"/><path d="M43.2 0.0h3.2M41.6 1.6h1.6M43.2 3.2h1.6M68.8 3.2h1.6M30.4 4.8h1.6M44.8 4.8h1.6M36.8 6.4h1.6M40.0 6.4h1.6M43.2 6.4h1.6M41.6 9.6h1.6M40.0 11.2h1.6M32.0 12.8h1.6M36.8 12.8h1.6M496.0 12.8h1.6M86.4 14.4h1.6M112.0 14.4h1.6M387.2 14.4h1.6M484.8 14.4h1.6M36.8 16.0h6.4M334.4 16.0h1.6M129.6 17.6h1.6M99.2 22.4h1.6M364.8 25.6h1.6M166.4 28.8h1.6M336.0 30.4h1.6M385.6 30.4h1.6M131.2 32.0h1.6M137.6 32.0h1.6M401.6 33.6h1.6M124.8 35.2h1.6M198.4 35.2h1.6M401.6 35.2h1.6M396.8 36.8h1.6M120.0 38.4h1.6M350.4 38.4h3.2M152.0 40.0h1.6M108.8 41.6h1.6M174.4 41.6h1.6M116.8 43.2h1.6M118.4 44.8h1.6M177.6 44.8h1.6M120.0 48.0h1.6M153.6 48.0h1.6M118.4 49.6h3.2M147.2 49.6h1.6M320.0 49.6h1.6M329.6 49.6h1.6M89.6 52.8h1.6M137.6 54.4h1.6M156.8 54.4h1.6M153.6 56.0h1.6M99.2 57.6h1.6M132.8 57.6h1.6M387.2 57.6h1.6M116.8 59.2h1.6M148.8 60.8h1.6M148.8 62.4h1.6M152.0 62.4h1.6M155.2 62.4h1.6M163.2 62.4h1.6M152.0 64.0h1.6M160.0 64.0h1.6M163.2 64.0h1.6M456.0 65.6h1.6M107.2 67.2h1.6M147.2 72.0h1.6M156.8 72.0h1.6M409.6 73.6h1.6M113.6 75.2h1.6M160.0 75.2h1.6M264.0 89.6h1.6M304.0 89.6h1.6M150.4 99.2h1.6M313.6 99.2h1.6M300.8 108.8h1.6M355.2 108.8h1.6M190.4 110.4h1.6M350.4 129.6h1.6M310.4 136.0h1.6M206.4 145.6h3.2M187.2 148.8h1.6M505.6 150.4h1.6M200.0 156.8h1.6M323.2 160.0h1.6M219.2 163.2h1.6M478.4 164.8h1.6M476.8 166.4h1.6M476.8 168.0h6.4M518.4 168.0h1.6M475.2 169.6h1.6M480.0 169.6h3.2M508.8 169.6h1.6M364.8 171.2h1.6M480.0 172.8h1.6M518.4 172.8h1.6M192.0 174.4h1.6M313.6 174.4h1.6M505.6 177.6h1.6M516.8 187.2h1.6M523.2 196.8h1.6M177.6 217.6h1.6" stroke="#4646aa" stroke-width="1.6"/></g></g><g clip-path="url(#clip2)"><path d="M184.5,538.3 176.4,542.0 173.2,542.9 168.4,542.3 166.8,544.7 167.6,546.5 166.0,548.4 164.8,551.1 162.7,552.8 159.2,553.7 156.3,555.5 153.9,557.3 152.9,559.7 153.1,562.1 155.5,562.8 158.7,565.4 162.7,566.4 167.6,568.8 171.6,569.2 172.7,573.0 174.5,574.5 176.9,575.9 178.2,574.3 178.1,571.2 180.6,568.3 181.6,566.1 180.5,563.5 179.2,562.2 180.1,559.3 179.3,556.0 182.9,555.9 186.9,556.2 190.1,557.7 192.9,559.0 193.0,561.7 195.3,562.8 198.5,562.4 201.1,559.7 202.6,562.2 205.0,564.6 206.3,567.2 209.5,568.8 212.2,570.5 215.1,571.9 215.5,574.1 213.4,575.9 209.5,577.8 204.6,578.1 199.8,578.1 196.9,579.6 193.4,582.0 190.8,584.2 192.9,582.9 195.5,581.4 198.2,580.1 201.7,580.5 200.9,582.5 201.3,584.7 203.0,586.0 206.1,586.2 207.9,584.2 208.8,586.0 206.6,587.3 203.0,588.4 199.7,590.2 198.7,588.7 201.6,587.1 199.3,587.1 197.2,588.0 194.5,588.9 192.2,590.0 191.4,591.5 191.1,592.6 192.4,593.5 191.6,594.0 189.5,594.4 186.8,595.1 188.9,594.9 189.5,595.1 186.1,595.8 186.0,597.5 184.7,598.8 183.7,597.5 184.3,599.9 183.2,601.7 182.4,600.0 182.2,598.0 182.6,602.1 183.2,603.5 183.7,605.3 182.1,606.3 180.0,607.4 178.4,608.4 176.6,610.3 175.0,611.7 174.2,614.3 175.5,617.9 176.4,620.9 176.0,623.2 175.0,623.8 173.7,622.5 173.1,620.9 172.1,619.0 172.1,617.4 171.0,616.1 169.5,615.0 167.7,615.6 166.1,614.3 163.5,614.1 161.3,614.7 161.6,616.7 160.0,616.7 157.9,615.9 154.7,615.6 152.6,616.1 149.7,618.1 148.6,619.8 148.4,622.5 147.9,626.0 147.7,628.9 148.6,631.5 150.0,634.2 151.3,635.7 153.2,636.6 156.1,635.8 158.1,635.7 159.4,634.0 159.7,631.5 161.9,630.7 164.8,630.5 164.3,633.1 163.9,636.0 163.1,637.8 163.1,640.2 162.1,640.8 164.2,640.9 166.8,640.8 169.5,640.9 171.1,642.4 171.0,645.1 170.6,647.9 170.3,649.7 171.6,651.5 173.2,653.4 174.8,653.5 177.2,652.3 178.9,652.6 180.6,654.1 181.6,654.6 182.9,652.6 183.7,650.6 184.8,649.7 186.9,649.2 189.0,648.1 190.5,647.3 189.7,648.8 190.3,649.9 190.0,651.2 189.5,649.3 190.5,648.6 192.2,648.6 192.4,647.5 193.2,648.8 195.1,650.1 196.9,650.4 199.8,651.4 201.7,650.4 204.5,650.4 205.3,651.4 207.1,652.6 208.2,654.1 210.0,655.9 211.4,657.2 213.4,659.0 216.4,659.0 218.5,659.6 221.1,661.0 222.5,662.1 223.2,664.3 224.2,666.5 225.0,668.0 223.8,669.6 226.4,670.2 227.5,671.6 229.6,671.1 232.2,672.4 234.0,674.5 236.1,674.4 238.5,675.1 241.2,675.3 243.5,676.7 245.4,678.7 248.2,679.3 249.0,681.7 249.3,684.2 248.7,686.2 247.5,687.9 245.8,689.9 244.5,692.3 243.2,693.7 242.5,696.8 242.7,699.9 242.0,702.1 241.4,704.9 240.4,707.1 239.3,709.6 237.9,711.6 235.8,711.8 233.3,712.5 231.4,713.3 229.6,714.5 227.5,716.2 227.1,718.7 226.9,721.3 225.1,723.5 223.8,725.7 221.9,728.2 220.4,730.4 219.0,731.9 216.9,733.5 214.8,733.5 212.5,732.6 211.1,732.2 213.2,734.4 213.0,735.9 214.0,736.6 212.7,739.2 210.8,740.3 207.9,740.8 205.3,740.8 205.0,743.2 205.1,744.3 202.6,744.8 200.6,744.3 200.6,746.5 202.7,747.6 201.3,748.1 200.3,750.0 200.0,752.0 197.7,752.2 196.6,753.8 197.4,755.4 199.2,757.1 196.8,759.3 195.3,761.1 194.2,762.9 195.0,765.3 193.4,765.3 191.8,767.1 190.9,768.0 189.3,767.5 186.9,765.7 185.3,763.3 183.9,760.2 183.7,757.4 185.1,755.1 183.5,754.7 185.5,752.0 186.8,750.5 187.9,746.5 186.6,745.2 186.3,742.5 187.2,738.6 187.6,736.8 188.5,734.6 189.7,731.9 190.1,729.1 190.1,725.5 190.5,722.6 191.1,719.8 191.6,716.4 191.9,712.9 192.4,708.9 192.1,703.6 190.5,702.1 188.5,700.5 186.1,698.8 183.0,696.5 182.4,694.3 181.1,691.9 179.7,689.2 178.2,685.7 176.8,682.8 175.0,680.8 174.5,679.3 174.3,677.7 175.8,676.0 176.8,674.5 176.0,674.0 175.0,673.8 175.6,671.6 176.3,669.1 177.1,668.0 178.4,666.9 179.7,665.1 181.0,662.7 180.5,659.6 180.5,657.4 179.3,655.4 178.7,654.1 177.1,653.5 176.0,654.8 175.8,656.5 174.7,655.9 173.5,654.8 171.8,654.6 170.6,654.1 168.9,652.5 167.4,651.7 167.1,649.9 165.8,647.7 164.2,646.1 162.7,645.7 161.0,645.1 158.9,644.4 156.8,643.3 155.2,641.1 153.1,640.2 151.3,640.8 149.7,641.1 147.1,640.4 144.5,639.1 141.8,637.7 139.7,636.9 137.6,635.3 135.8,633.6 135.2,632.4 135.7,630.5 134.9,628.5 133.6,627.1 131.8,624.9 130.3,623.2 129.0,622.1 127.6,620.3 126.5,618.9 125.0,617.0 124.0,615.2 123.1,613.2 121.5,612.3 120.3,611.7 120.5,613.4 121.1,615.0 122.6,617.0 123.6,619.2 124.7,621.2 126.0,623.1 127.1,625.4 128.2,626.5 128.7,627.6 127.9,628.0 126.6,626.2 125.2,624.9 124.5,623.2 124.4,621.6 122.4,620.9 121.0,619.4 121.5,617.8 120.2,615.9 118.9,614.5 118.1,613.0 117.3,611.7 116.6,610.3 116.3,609.2 115.0,608.1 114.4,607.7 112.8,607.0 111.0,606.6 110.8,605.3 109.7,604.1 108.9,603.0 108.1,601.7 107.9,600.8 107.1,600.2 106.0,598.8 105.8,597.1 104.9,596.0 105.4,594.6 105.2,593.1 104.7,591.6 105.4,589.8 105.7,587.3 105.5,585.3 105.4,583.8 104.4,581.4 106.3,581.8 107.4,583.2 107.8,581.6 107.4,580.3 106.8,579.6 104.9,578.7 103.4,577.6 100.8,577.0 99.4,575.9 99.1,574.3 97.9,572.5 95.5,571.2 94.9,569.7 93.6,568.5 92.1,566.6 90.4,565.2 88.6,563.2 87.0,562.1 85.4,563.3 82.9,562.8 80.4,561.2 77.8,560.4 74.1,560.2 71.2,559.5 69.1,558.4 67.1,558.8 66.0,559.9 64.1,560.8 62.1,561.5 60.7,561.7 61.7,560.1 63.3,558.2 61.0,558.6 59.2,560.2 57.3,561.9 58.0,563.0 56.5,563.9 54.4,565.0 52.6,566.1 49.9,567.2 47.5,568.1 44.7,569.0 42.3,569.7 39.7,570.3 41.8,569.2 44.6,567.7 47.5,566.6 50.1,565.2 51.7,563.3 49.7,562.6 47.0,562.6 44.4,562.8 43.9,560.6 41.4,560.1 39.1,559.1 38.9,557.9 37.6,557.1 39.1,555.7 40.1,554.6 42.5,554.6 44.9,553.8 46.2,553.1 45.7,552.0 43.1,552.2 41.0,551.8 38.3,552.0 36.8,551.3 34.9,550.2 34.4,549.8 37.0,548.9 40.1,548.4 42.3,549.1 44.7,548.9 44.6,548.2 41.8,547.3 40.5,546.4 38.1,545.1 37.2,544.0 40.1,543.8 42.3,542.7 44.3,541.4 48.3,540.7 52.6,539.6 57.2,540.3 62.0,541.1 66.8,541.2 71.7,541.8 78.1,542.5 82.9,543.3 87.0,543.6 88.9,542.7 92.6,542.5 96.6,541.8 100.7,541.6 103.9,542.9 108.7,542.3 115.2,543.3 120.0,544.0 128.1,545.4 134.5,544.5 141.0,546.0 146.6,546.0 150.6,544.9 152.3,542.9 153.9,540.2M187.7,527.4 192.6,531.0 199.0,531.0 208.7,531.9 211.9,532.8 215.1,536.5 216.7,539.2 218.4,540.5 222.4,541.1 220.8,542.3 223.2,543.4 224.0,545.1 220.0,545.6 219.2,547.8 221.6,549.3 222.4,552.0 224.3,553.8 225.6,555.7 227.2,557.5 228.8,558.8 231.2,559.1 232.9,560.1 235.3,560.2 236.1,558.8 237.7,557.0 238.5,554.8 240.1,552.4 242.5,550.2 245.8,550.0 249.0,548.9 251.4,546.5 253.8,545.3 258.7,544.7 263.5,543.8 267.5,542.0 269.9,541.1 266.7,539.2 271.5,536.5M269.9,553.1 268.8,552.6 270.3,552.0 267.0,551.3 269.1,550.7 266.7,550.2 269.1,549.5 270.7,550.2 272.7,549.1 275.6,549.1 278.8,548.4 281.2,548.7 282.0,549.6 283.5,550.7 282.0,552.2 279.6,552.9 276.4,553.8 273.2,553.7 269.9,553.1M189.3,538.3 192.6,541.1 195.0,541.4 196.6,542.9 198.0,544.4 202.2,546.5 205.5,548.0 203.0,549.1 201.4,550.9 199.8,551.8 200.9,553.8 198.5,556.4 195.8,555.5 191.8,554.9 189.3,553.7 186.9,552.4 182.9,552.4 179.7,552.0 179.2,550.4 186.1,550.4 186.9,548.4 188.9,547.1 186.9,544.9 182.9,543.4 178.9,542.3 176.4,541.4 170.0,541.1M166.8,549.1 169.2,550.6 174.0,552.0 174.5,553.7 170.8,552.9 167.6,554.2 165.5,552.9 165.0,550.7 166.8,549.1M115.2,538.3 116.8,540.2 114.4,540.9 116.8,542.0 123.2,542.3 128.1,542.2 133.7,542.9 137.8,543.6 141.0,542.9 142.6,542.0 142.6,538.3M103.9,538.3 105.5,539.2 104.7,539.8 107.9,540.0 108.7,538.3M209.8,582.9 211.9,582.9 215.0,582.9 215.9,584.2 218.0,583.6 219.0,584.5 220.4,584.2 220.3,582.7 219.0,582.7 219.5,581.2 218.7,579.8 215.9,579.0 215.1,577.6 215.8,575.6 213.5,576.1 212.9,577.2 211.3,580.0 210.3,581.4 209.8,582.9M201.4,578.7 205.5,579.6 205.9,580.1 201.6,578.9M202.2,584.7 205.1,585.1 204.0,585.4 202.2,584.7M168.5,629.8 170.8,629.3 172.9,627.6 175.8,627.6 178.5,628.9 181.0,630.2 183.2,631.3 185.8,632.7 184.5,633.5 182.1,633.5 180.1,633.5 181.0,632.2 178.9,630.4 175.6,629.6 173.5,629.3 171.8,628.5 170.0,629.6 168.5,629.8M185.5,636.2 188.0,636.6 190.5,637.5 191.8,636.6 194.2,636.2 195.1,635.8 193.4,634.9 192.6,634.0 189.7,633.6 187.1,633.5 188.2,634.9 185.5,636.2M179.2,636.2 181.3,637.1 182.6,636.9 181.4,636.0 179.2,636.2M197.1,636.7 199.7,636.9 199.5,636.2 197.1,636.0 197.1,636.7M179.7,620.9 181.3,621.2 180.8,622.0M179.3,623.8 180.0,625.2 180.3,626.3M182.4,623.2 182.9,624.5 183.5,625.6M205.6,651.4 207.1,651.2 207.1,650.1 205.8,650.3 205.6,651.4M106.5,581.4 104.7,581.1 103.1,580.3 101.5,579.2 99.9,578.1 98.6,577.0 100.7,577.4 103.1,578.3 104.7,579.4 106.5,581.4M94.1,574.5 91.8,572.7 90.8,571.0 92.6,571.2 93.3,573.0 94.1,574.5M56.0,565.9 59.7,564.8 58.9,563.7 56.3,564.6 56.0,565.9M87.0,564.8 88.6,567.0 90.0,567.9 90.7,566.1 88.6,563.9M36.4,572.1 37.8,571.2M33.3,573.0 34.9,572.3M27.3,574.3 29.7,574.1M20.4,575.2 22.5,574.8M18.1,575.6 19.4,575.2M28.6,553.5 30.9,554.2 33.3,554.4 31.4,553.7 28.6,553.5M36.5,559.9 38.8,560.2 38.1,559.1 36.5,559.9M54.3,632.9 55.5,634.2 54.6,635.3 53.9,633.6 54.3,632.9M52.8,631.6 53.9,632.0 53.3,632.2 52.8,631.6M50.4,630.4 51.2,630.9 50.5,630.9 50.4,630.4M48.0,629.3 48.6,629.4 48.1,629.8 48.0,629.3M194.8,765.8 195.5,767.1 196.4,768.2 198.4,769.3 200.5,769.7 198.2,770.2 195.8,770.2 193.4,770.8 190.9,770.2 188.5,769.0 185.6,766.4 187.7,767.1 190.1,768.0 191.8,766.6 193.4,765.7 194.8,765.8M206.7,764.4 208.7,763.5 211.1,763.7 212.2,764.0 210.9,765.1 208.7,764.9 206.7,764.4M185.3,757.4 184.0,758.4 183.7,761.1 184.8,762.0 185.3,757.4M259.0,599.3 260.4,599.1M263.8,600.8 264.8,600.8M255.1,597.7 255.3,597.9M293.5,556.0 294.6,556.8 294.1,556.2M277.7,610.1 278.5,609.9M243.8,768.4 246.1,768.8 247.5,769.9 245.8,769.3 243.8,768.4M416.3,758.7 418.6,759.3 417.9,760.4 416.5,760.0 416.3,758.7M423.6,766.6 424.4,766.8M157.7,670.3 158.9,671.1 158.2,671.6 157.7,670.3M572.5,568.8 574.0,569.9M583.5,573.2 584.8,573.4M156.9,584.3 159.5,584.7 161.9,584.0 163.9,583.2 166.3,584.7 169.0,584.9 168.9,583.1 167.1,582.2 163.2,580.9 161.1,582.2 156.9,584.3M163.9,593.1 164.3,591.3 164.0,588.9 165.2,586.7 167.6,586.0 168.4,586.9 166.4,587.8 166.1,590.4 166.0,592.7 163.9,593.1M168.9,586.2 171.1,587.3 171.1,588.9 172.4,591.3 173.7,589.3 174.2,587.8 176.1,588.5 175.5,586.0 172.4,585.6 168.9,586.2M171.0,593.7 174.0,594.0 176.8,592.7 178.2,591.5 175.6,592.0 172.4,593.1 171.0,593.7M176.8,590.7 179.7,590.7 182.4,590.4 182.1,589.1 180.0,589.6 177.4,590.0 176.8,590.7M149.0,577.6 150.3,575.8 147.7,572.1 146.5,571.9 149.0,575.8 149.0,577.6M125.7,562.8 130.5,561.5 135.3,561.7 130.5,562.2 125.7,562.8M139.7,566.6 141.0,564.8 140.5,563.9 139.7,566.6M116.8,558.4 121.6,557.5 126.5,555.7 122.4,556.4 119.2,554.9 116.8,558.4M103.9,550.7 108.7,549.6 112.8,548.4 110.3,547.5 107.1,549.1 103.9,550.7M357.5,612.6 360.5,612.6 361.5,611.2 361.8,609.9 362.6,607.9 363.3,605.0 363.6,603.0 362.6,603.0 361.3,602.6 359.4,603.7 357.0,603.2 354.9,602.4 353.0,603.7 350.9,602.8 349.4,602.2 349.2,600.4 348.1,599.5 348.4,598.2 347.5,597.7 347.8,596.6 349.7,596.0 352.1,596.0 353.0,595.3 352.1,594.8 350.5,594.9 348.6,595.7 347.5,595.5 344.9,595.1 343.8,595.5 343.6,596.4 343.1,596.2 342.5,596.9 341.8,596.2 341.8,597.7 342.8,598.6 342.2,599.0 343.0,599.5 344.2,600.2 344.1,601.0 342.6,600.6 342.8,601.7 342.2,603.3 341.5,603.2 340.7,602.6 340.4,602.4 340.1,601.1 339.4,600.8 340.1,599.9 342.3,600.4 340.5,599.9 339.4,599.7 338.8,598.6 338.0,597.5 337.5,596.4 336.7,595.8 336.8,594.6 336.7,593.3 335.2,592.4 333.8,591.5 332.0,590.4 330.9,589.8 329.7,588.9 329.3,587.4 328.5,587.1 327.6,587.8 327.2,586.7 327.6,586.2 326.5,586.4 325.2,587.1 325.4,588.4 325.7,589.5 327.3,590.4 328.3,592.4 329.6,593.1 331.4,593.3 331.0,594.0 332.8,594.8 334.4,595.7 335.2,596.6 334.3,596.2 333.1,596.0 332.2,596.8 332.2,597.7 333.0,598.6 332.0,599.7 331.4,600.6 330.5,600.4 331.0,599.0 330.7,597.1 329.4,596.0 328.6,595.7 328.0,594.9 326.7,594.4 325.5,593.7 324.3,592.7 323.1,592.2 322.3,591.3 322.0,590.2 321.5,589.5 320.2,588.9 318.9,589.1 317.5,589.8 316.2,590.9 314.7,591.1 313.3,590.6 311.8,590.4 310.7,590.9 310.2,592.4 310.6,593.3 308.9,594.2 307.2,594.8 306.5,595.7 305.4,596.8 304.9,597.9 305.7,599.1 304.6,599.9 304.1,601.1 302.8,602.1 302.0,602.8 299.8,602.8 298.3,602.8 297.3,603.3 296.4,604.1 295.4,603.3 295.1,602.6 294.1,601.9 292.7,602.2 291.1,602.2 291.2,600.0 290.4,599.1 290.2,597.9 291.2,595.8 291.4,594.2 291.1,592.9 290.4,591.5 292.0,590.4 293.3,590.0 296.1,590.2 299.0,590.6 300.7,590.7 302.5,590.6 303.1,589.1 303.5,586.9 303.5,585.4 302.0,584.2 301.4,583.4 299.9,582.7 298.3,582.3 297.8,581.4 299.0,580.9 300.6,580.7 302.2,581.1 302.8,580.7 302.3,579.0 303.6,579.6 305.6,579.4 307.8,578.1 308.1,576.9 309.4,576.5 310.9,575.9 312.0,574.8 312.8,573.8 313.1,573.0 314.4,572.3 316.7,571.9 318.6,572.1 319.7,571.4 319.3,570.1 319.3,568.5 318.5,566.8 319.3,565.5 322.5,564.4 322.2,565.7 322.0,567.0 323.0,567.0 321.5,568.3 320.9,569.4 321.5,570.1 323.0,571.0 324.7,570.8 327.2,570.5 328.3,571.4 331.2,570.6 333.6,569.7 335.4,570.3 336.8,570.3 337.6,569.6 339.4,568.1 339.3,566.6 340.2,565.0 341.8,564.4 343.3,565.7 344.2,565.7 344.7,563.3 343.3,562.8 343.1,561.7 345.2,561.2 348.1,561.0 350.5,561.2 354.2,560.4 352.1,559.9 348.9,559.3 345.7,559.9 342.5,560.6 341.2,559.5 339.9,557.5 340.1,555.7 340.2,554.6 341.7,553.3 344.9,551.5 346.3,551.1 344.9,549.6 341.2,550.0 339.7,551.8 338.4,553.3 336.0,554.2 334.4,555.5 333.3,557.5 333.1,559.0 335.2,559.9 334.6,561.5 332.8,563.0 332.2,564.8 331.8,566.3 330.9,567.4 328.3,568.6 326.4,568.5 325.5,567.0 324.6,564.4 323.5,563.0 322.5,560.4 321.8,562.1 319.9,562.8 318.3,563.7 316.0,563.7 314.4,562.4 313.8,559.9 313.5,557.5 313.8,556.0 315.4,555.7 317.8,554.6 320.7,553.7 321.2,552.8 323.1,551.5 325.5,549.6 327.2,547.8 328.6,546.9 330.4,545.3 332.0,544.5 334.4,543.3 336.0,542.5 339.3,542.0 343.6,540.7 347.0,540.0 350.5,540.3 353.8,541.4 355.4,542.2 358.6,543.1 361.8,543.4 365.0,544.2 369.1,545.4 371.5,546.5 371.8,547.8 369.9,548.9 366.7,549.1 362.6,548.6 359.4,548.0 357.8,547.3 359.4,548.7 361.5,550.0 361.5,552.2 364.2,552.9 365.8,552.0 364.2,551.1 365.8,550.9 369.1,552.0 370.7,551.8 370.7,550.7 373.1,548.7 375.5,548.7 376.7,548.4 375.5,546.5 376.7,544.7 379.6,545.1 380.4,546.0 377.9,546.5 380.4,547.6 382.8,546.4 386.0,545.6 389.2,544.7 391.6,545.1 393.3,544.0 395.7,544.5 398.9,544.0 401.3,544.9 402.9,543.8 403.2,542.3 405.3,542.3 408.6,543.1 411.8,543.8 413.7,544.7 415.8,545.1 416.6,544.0 415.0,542.3 413.4,541.1 413.4,539.2 415.8,537.4M421.5,537.4 422.8,540.2 422.3,542.9 423.9,544.7 422.3,547.8 420.7,548.6 423.9,547.6 426.3,547.1 430.3,546.5 431.9,546.7 429.5,545.1 427.9,543.8 426.3,541.8 428.7,540.2 431.1,539.2 434.4,538.7 436.0,539.6 438.4,541.4 438.4,542.9 439.5,542.0 440.8,541.1 444.0,539.2 442.4,537.4M473.0,534.7 482.7,535.6 485.9,535.6 488.4,536.0 495.6,536.9 502.1,536.9 508.5,537.4 511.7,537.8 514.2,539.2 517.4,540.5 519.8,539.6 523.0,539.2 529.5,539.2 531.1,537.8 532.7,537.2 535.9,537.2 540.8,537.8 547.2,539.1 551.2,540.5 556.9,540.2 561.7,540.5 563.3,542.0 564.9,542.9 568.2,542.5 573.0,542.9 576.2,542.3 580.2,541.8 582.7,542.2 587.5,542.3 592.3,543.1 595.6,544.0M296.2,578.3 299.0,577.8 301.4,577.4 303.8,577.0 307.5,576.5 307.7,575.9 306.2,575.8 307.8,574.8 308.1,573.6 306.2,573.2 305.7,572.1 305.6,571.9 304.8,570.6 303.3,569.7 302.8,568.3 301.4,567.5 300.6,567.5 301.4,567.0 302.2,565.5 302.5,564.6 299.8,564.4 299.0,564.8 300.2,562.8 297.3,562.8 296.5,564.3 296.2,565.7 295.4,566.6 296.4,568.5 296.2,568.8 297.5,568.1 297.5,569.6 298.3,569.9 299.9,569.6 299.8,570.5 300.6,571.4 300.6,572.3 298.1,572.3 298.6,573.2 298.8,574.3 297.0,575.2 299.0,575.6 300.6,575.8 299.8,576.3 298.1,576.7 296.2,578.3M295.7,574.5 295.4,572.5 295.7,571.2 296.5,570.3 295.7,569.0 293.6,568.6 292.0,569.0 291.7,570.3 289.3,570.8 289.6,572.1 290.9,572.7 289.4,574.5 289.0,575.4 290.1,575.8 292.5,575.2 295.1,574.5 295.7,574.5M325.4,600.8 327.0,600.0 330.5,599.9 329.7,602.8 328.5,602.2 325.4,600.8M318.9,598.6 320.9,598.2 321.2,595.5 320.4,594.6 318.6,595.1 318.9,598.6M319.3,594.2 320.6,593.8 320.7,591.3 319.3,592.4 319.3,594.2M343.3,605.3 347.8,605.5 346.5,605.9 343.3,605.3M357.5,606.1 358.6,606.6 360.2,606.1 361.2,604.6 358.6,605.2 357.5,606.1M309.3,597.7 310.9,597.3 310.2,598.0 309.3,597.7M323.1,568.8 325.7,568.3 325.2,567.4 323.1,567.9 323.1,568.8M331.8,566.4 332.6,565.2 331.8,566.4M334.7,565.7 335.7,564.3 334.7,565.7M387.6,539.2 390.8,540.5 397.3,540.9 394.1,538.3 390.8,537.4M423.9,584.9 426.3,584.2 429.5,584.7 432.7,585.4 433.1,586.2 429.5,585.4 426.3,585.4 423.9,584.9M353.8,560.2 356.2,559.7 358.3,558.6 357.0,557.3 354.6,557.9 353.0,559.1 353.8,560.2M361.5,558.4 363.1,557.9 362.1,556.2 361.0,555.1 360.5,556.6 361.5,558.4M352.1,594.6 355.4,594.8 358.6,593.3 362.0,593.1 363.9,594.4 366.7,595.1 369.4,594.9 372.3,594.0 372.6,592.0 369.4,590.2 367.5,588.7 366.3,588.2 364.4,587.1 363.4,587.6 361.0,588.5 359.4,588.4 357.8,586.9 359.4,585.8 357.0,584.9 354.9,584.9 353.3,587.1 351.7,589.1 350.4,590.9 349.7,592.2 350.5,593.8 352.1,594.6M364.4,586.9 361.8,586.7 362.6,584.9 365.8,583.8 368.3,583.6 366.7,584.9 365.8,586.2 364.4,586.9M381.2,588.0 382.0,591.6 383.6,593.5 385.8,596.0 384.4,599.5 384.4,601.3 386.8,602.2 389.2,602.8 392.3,602.1 392.3,599.5 390.8,596.8 390.5,594.6 391.6,593.1 390.0,592.2 388.4,590.4 386.8,588.5 387.6,588.2 390.8,587.1 391.2,584.9 388.4,584.0 385.2,584.9 382.8,585.8 381.2,588.0M399.7,585.8 403.7,584.9 403.7,588.5 400.5,590.4 399.4,587.6 399.7,585.8M473.0,575.4 476.3,573.9 479.5,572.1 481.9,568.1 481.1,568.5 477.9,573.0 474.7,575.6 473.0,575.4M357.5,612.6 356.2,612.3 353.8,612.6 352.1,613.4 349.7,612.6 346.0,612.1 344.1,611.4 342.5,610.3 340.9,609.7 338.4,610.5 337.6,612.3 336.0,614.5 333.6,613.4 331.2,612.5 329.9,610.8 327.2,609.9 324.7,609.7 323.1,609.0 322.0,608.3 321.7,607.2 322.8,606.3 323.3,605.3 322.3,604.1 323.3,602.2 321.8,601.9 320.2,601.7 318.3,602.4 315.9,602.2 313.5,602.8 311.0,602.6 308.6,603.2 306.2,604.1 303.8,605.0 301.9,605.7 299.8,605.3 297.3,604.4 295.9,604.4 295.2,605.9 294.4,607.5 293.1,608.4 291.5,609.2 290.4,610.6 289.6,612.5 289.8,614.5 289.0,616.1 286.9,618.3 284.4,619.2 283.2,621.0 282.0,622.7 280.4,625.1 279.4,626.5 278.8,629.1 277.8,631.6 279.1,634.2 279.4,636.9 278.8,640.2 277.7,642.6 277.2,643.0 278.3,644.6 278.3,647.0 279.0,648.4 280.9,649.7 282.0,650.8 284.0,653.0 285.2,655.4 287.2,657.2 290.1,659.8 293.1,661.8 295.7,661.2 299.0,660.3 301.4,661.0 303.8,660.3 307.0,658.8 309.4,658.3 311.8,658.1 313.5,659.2 314.4,661.4 315.9,661.9 318.0,661.8 319.6,661.6 320.7,662.9 321.2,665.2 320.7,667.6 320.4,669.4 319.6,671.3 320.7,673.5 323.1,676.2 324.4,678.6 325.2,680.8 326.0,683.5 326.8,685.9 327.2,689.0 326.5,691.7 325.5,694.5 324.4,698.7 324.4,701.8 325.7,704.5 327.2,707.8 328.8,710.9 328.9,714.5 329.6,718.2 330.5,720.0 332.0,722.0 333.3,725.5 334.7,728.2 334.4,730.1 335.1,732.1 336.0,732.6 337.6,733.3 340.1,732.6 342.5,731.7 346.5,731.9 348.6,731.2 351.0,729.1 353.0,727.0 355.0,724.6 357.0,722.4 358.0,720.0 358.3,717.3 359.4,716.0 361.8,714.5 362.6,711.8 362.3,709.1 361.5,706.3 363.4,704.1 365.8,701.8 369.1,699.9 370.8,697.2 370.7,692.6 370.5,689.0 369.4,685.3 368.8,682.6 368.1,679.8 369.1,678.0 370.2,675.3 371.5,673.5 373.1,671.6 375.5,668.5 378.7,665.8 381.2,662.9 383.3,659.8 385.2,655.7 387.3,651.5 388.1,648.3 386.0,648.8 383.6,649.3 380.4,650.1 377.9,650.8 376.3,650.6 375.2,649.0 374.4,648.6 375.2,647.3 373.1,645.1 371.5,643.3 369.9,641.5 369.1,640.8 367.9,637.8 365.8,635.7 365.4,633.3 364.9,630.5 363.4,628.0 362.8,626.0 361.3,623.2 360.2,620.9 358.9,618.7 358.0,615.2M384.9,691.7 386.8,697.7 385.7,700.8 382.8,709.1 381.2,715.3 378.3,716.4 375.8,712.7 375.2,709.6 376.8,706.0 376.3,700.8 380.0,698.7 382.0,696.3 384.1,693.2 384.9,691.7M279.9,618.7 280.6,618.5M278.3,618.3 279.3,617.9M282.5,618.3 283.0,617.6M326.8,645.7 328.3,646.2 329.4,645.7 328.9,644.2 327.5,643.9 326.8,645.7M357.0,671.6 358.6,670.3 360.2,670.3 361.0,672.0 359.4,674.4 357.8,674.5 356.5,672.9 357.0,671.6M352.5,675.8 353.0,680.8 354.6,685.3 355.4,684.4 354.6,680.8 353.3,677.1 352.5,675.8M360.5,687.1 361.2,691.7 362.3,695.7 361.7,690.8 360.5,687.1M358.0,615.2 358.3,616.8 359.7,618.7 360.6,619.1 361.0,617.8 361.8,615.9 361.5,618.7 362.8,620.5 364.4,622.7 365.8,625.4 367.5,626.9 368.6,630.5 369.9,633.3 371.5,635.5 373.1,637.8 374.2,640.6 374.6,642.8 375.2,644.6 375.5,646.6 377.1,646.6 378.7,645.9 381.2,645.1 383.6,644.2 386.0,642.6 388.4,641.9 389.7,640.0 391.6,639.3 394.1,638.2 395.7,637.1 397.3,635.5 398.6,633.6 399.9,631.5 401.3,629.4 401.8,628.7 400.2,626.9 398.6,626.3 396.6,625.1 396.3,623.2 396.2,621.8 395.3,622.7 394.5,623.6 393.3,625.4 390.8,625.6 388.6,625.6 388.1,625.1 388.6,623.2 387.9,622.1 387.3,624.5 386.3,622.7 386.0,621.0 384.9,620.0 383.6,618.1 382.8,616.1 383.6,615.2 385.2,615.0 386.3,614.8 387.1,616.5 388.4,618.9 390.0,619.8 392.1,621.0 394.1,621.0 396.2,620.3 397.3,622.3 397.8,623.2 399.7,623.2 401.3,623.4 404.5,624.0 407.0,623.8 409.4,623.8 412.6,623.4 413.4,624.5 414.2,626.2 415.8,627.4 415.8,626.9 419.0,627.8 417.4,628.7 416.6,629.1 418.2,631.1 419.9,632.0 421.8,630.9 422.4,629.3 422.9,631.1 422.8,633.3 422.9,635.1 423.1,636.9 423.7,639.7 424.4,641.7 425.2,644.2 426.0,646.4 427.1,648.8 427.9,650.6 428.7,653.0 430.3,655.0 431.5,653.5 432.7,652.8 433.2,651.0 434.0,648.8 434.7,646.1 434.5,643.3 434.8,641.5 436.3,640.6 438.1,639.3 439.7,637.7 441.6,635.7 443.2,634.0 444.8,632.9 445.6,631.5 446.4,630.2 448.1,630.2 449.7,630.0 451.3,629.3 452.6,628.3 453.4,629.1 453.9,631.1 454.5,632.4 456.1,634.2 457.4,636.0 457.7,638.8 457.4,640.6 458.5,640.9 460.2,640.0 461.8,639.3 462.7,640.6 463.1,643.3 463.9,646.1 464.3,648.8 464.2,651.5 463.9,654.3 464.7,655.6 465.8,657.4 467.1,659.8 467.9,662.5 468.7,664.3 470.6,666.1 472.2,667.4 473.4,667.2 472.2,664.7 471.9,662.1 471.1,659.6 469.8,658.3 468.5,657.2 467.2,656.1 466.6,654.3 465.5,652.5 465.3,650.1 465.8,647.9 466.6,645.3 467.4,645.1 468.2,646.6 470.3,647.5 471.1,648.6 472.2,650.4 473.9,651.0 474.7,653.4 474.3,654.1 475.5,653.0 477.1,652.1 477.9,650.8 479.5,650.1 480.9,649.0 481.4,647.0 481.4,644.6 480.8,641.9 479.8,640.4 478.2,638.8 476.8,636.9 475.8,635.1 476.3,633.5 477.6,632.0 479.2,630.5 480.6,630.4 482.2,630.5 482.7,632.7 483.5,632.5 483.4,630.9 485.5,630.0 487.6,629.3 488.5,628.5 489.7,629.1 491.6,628.2 493.4,627.6 494.8,626.5 496.1,624.9 497.6,623.6 498.2,622.1 499.2,620.5 500.5,618.7 501.3,617.2 501.9,615.2 500.8,614.5 502.1,613.4 501.7,612.1 500.3,610.6 499.5,608.4 497.9,606.6 498.0,605.3 499.3,603.9 500.5,603.0 502.9,602.2 501.3,601.3 499.6,601.0 498.0,601.9 496.9,601.1 495.6,600.0 495.0,598.8 496.1,598.4 497.7,597.7 499.6,596.2 500.9,595.1 502.5,595.8 501.3,597.7 500.8,599.0 502.5,597.9 504.5,597.1 505.9,596.8 506.7,597.5 507.5,598.6 506.6,600.0 508.2,600.8 509.5,601.3 509.3,603.2 509.2,605.9 509.2,607.0 510.9,606.4 512.5,605.9 513.7,605.5 514.2,604.1 514.0,602.2 512.7,599.9 510.9,598.0 512.2,596.8 514.5,595.1 514.6,593.5 515.9,592.4 516.9,591.8 518.7,590.9 520.6,591.6 523.3,590.0 525.9,587.8 528.2,584.9 529.8,582.5 531.6,580.5 531.9,577.6 533.3,574.3 533.0,572.7 531.1,571.6 528.7,570.8 526.7,571.2 525.9,570.1 527.4,569.0 528.7,567.5 531.1,565.0 533.5,562.8 535.9,561.5 539.9,561.3 543.2,561.5 546.4,560.8 549.6,561.7 551.2,562.2 554.5,561.5 555.3,560.4 554.5,559.1 556.9,557.5 559.3,557.0 562.5,556.8 563.8,557.9 562.5,558.8 563.3,559.7 565.7,559.3 568.6,557.3 569.8,555.7 568.5,555.3 566.5,560.6 564.9,562.4 562.5,564.3 558.5,564.8 557.7,565.7 556.9,568.5 556.4,571.2 557.2,574.8 558.0,576.9 560.1,574.8 561.1,573.2 563.0,572.5 563.3,570.8 566.2,569.6 566.5,567.2 568.6,567.2 567.8,564.8 566.9,563.9 569.0,561.5 571.1,560.4 573.0,559.7 574.6,559.3 577.8,559.1 580.2,560.2 583.5,558.4 585.9,557.0 589.1,556.0 593.1,555.7 594.8,554.8 593.5,552.6 590.7,551.5 593.9,550.7 595.6,551.1M434.0,655.2 434.4,651.9 435.2,652.5 436.8,655.6 437.4,657.0 436.8,658.3 435.2,659.0 434.2,657.6 434.0,655.2M480.5,634.7 481.9,636.6 483.5,635.8 484.3,633.6 483.2,633.1 481.1,633.6 480.5,634.7M499.0,627.8 500.0,629.6 500.5,629.1 501.3,626.9 502.1,624.1 501.3,623.6 500.1,624.5 499.0,626.9 499.0,627.8M515.3,612.6 517.2,612.5 517.9,609.5 516.6,607.9 515.0,608.6 514.5,610.1 515.3,612.6M519.0,609.5 522.5,608.1 521.4,607.0 519.0,607.9 519.0,609.5M516.4,607.7 519.0,605.2 523.0,604.6 524.6,604.1 525.9,601.7 528.7,601.5 531.1,597.7 531.1,594.6 533.5,594.4 533.7,596.2 534.3,598.2 532.7,599.9 532.5,602.6 532.4,604.6 530.8,605.9 529.5,606.4 527.9,606.6 526.2,606.6 525.9,607.2 524.3,608.6 523.0,607.2 520.6,606.8 518.2,607.9 516.4,607.7M531.1,594.0 532.7,593.5 533.5,592.0 536.4,593.1 539.9,590.7 539.1,589.1 534.3,586.9 533.5,587.4 533.5,590.4 531.6,590.7 531.1,594.0M534.3,585.8 536.7,584.9 535.1,583.1 536.2,579.8 538.0,580.3 536.2,576.7 536.7,574.8 535.6,570.6 534.6,572.1 533.8,574.8 534.5,579.4 534.3,585.8M540.8,589.8 543.2,588.5M544.8,587.1 547.2,585.8M549.6,584.3 551.2,583.1M554.5,581.2 556.1,578.5M499.8,636.0 502.4,636.0 502.1,638.8 501.3,640.9 501.6,643.9 505.3,646.1 505.1,647.5 502.9,645.1 499.8,644.6 498.8,642.8 498.5,640.0 499.5,639.7 499.8,636.0M502.1,657.0 504.5,655.6 506.1,653.5 507.7,652.1 509.5,656.7 508.5,658.5 507.5,659.6 505.3,658.3 502.1,657.0M505.8,647.0 508.0,647.5 506.9,651.5 505.8,650.1 505.8,647.0M502.1,648.3 503.7,649.7 502.9,650.6 502.1,650.4 502.1,648.3M502.9,650.3 504.2,650.6 503.7,653.0 502.9,650.3M504.3,649.3 505.3,651.2 504.8,651.5 504.3,649.3M494.3,654.5 496.4,653.0 498.2,650.3 497.6,649.9 494.3,654.5M499.6,645.3 501.3,646.1 500.5,647.3 499.6,645.3M454.8,645.1 455.3,647.9 454.7,648.8 454.8,645.1M535.1,689.3 536.7,692.6 537.2,695.9 539.6,698.1 540.4,700.7 541.2,704.3 542.0,705.0 545.3,706.9 545.9,708.3 548.0,710.9 548.5,712.5 551.2,715.1 552.2,717.1 552.7,720.0 553.0,722.2 552.2,725.1 551.2,728.2 550.1,729.9 549.3,731.7 548.2,733.7 547.2,736.1 547.0,738.3 544.5,738.8 542.4,739.6 541.2,741.0 539.5,739.9 539.0,739.0 537.9,739.7 535.1,739.9 532.7,739.2 531.1,737.9 530.4,736.4 530.0,735.2 528.7,733.5 527.7,732.2 527.2,734.3 527.0,733.9 527.7,731.2 527.0,730.1 524.6,733.3 524.3,733.2 523.3,732.8 521.7,729.7 519.8,728.2 516.6,727.3 513.3,727.5 508.5,728.8 505.3,730.1 501.9,731.7 498.0,732.2 495.5,733.7 490.9,732.6 491.7,731.0 491.9,728.2 490.8,723.7 490.1,722.4 488.4,718.2 489.2,717.3 488.5,714.5 488.7,710.9 489.3,709.6 491.6,709.1 493.7,707.4 496.6,706.9 500.5,705.4 502.4,702.7 502.5,700.8 504.5,699.9 506.1,698.1 508.5,695.4 510.9,695.7 512.5,697.2 514.2,696.8 515.0,693.5 516.2,692.4 519.0,690.8 520.6,691.3 523.8,691.7 525.9,692.1 526.1,692.3 524.6,694.5 523.8,697.2 526.2,698.8 530.3,701.8 532.4,701.6 533.5,697.2 533.7,693.5 534.3,689.9 535.1,689.3M538.7,744.1 541.6,744.8 544.5,744.5 544.5,746.9 543.8,748.7 542.0,749.4 539.9,747.8 538.7,745.0 538.7,744.1M584.3,732.6 586.7,735.2 588.3,736.4 589.1,738.3 593.1,738.6 592.2,741.2 590.7,742.1 589.9,743.8 587.8,745.8 586.9,745.2 587.7,743.2 585.9,742.5 585.6,741.4 586.9,739.6 586.4,737.2 584.3,734.6 584.3,732.6M583.8,743.8 586.2,745.2 585.6,747.0 583.8,749.4 581.4,751.1 580.6,753.6 577.8,754.9 573.8,753.8 574.3,752.3 576.7,750.1 580.2,748.0 581.9,745.9 583.8,743.8M516.6,672.2 519.0,670.5 521.4,671.4 521.7,674.9 523.8,675.8 527.0,672.5 531.1,674.2 534.3,675.5 538.3,676.7 540.4,679.5 543.2,681.1 544.3,684.4 546.4,687.1 548.5,688.4 546.4,688.8 543.2,688.2 542.7,687.1 539.9,684.2 537.5,683.7 536.4,686.2 534.3,686.6 532.7,686.4 529.5,684.6 528.7,683.1 527.9,679.8 524.6,678.0 521.4,677.1 519.8,677.1 519.0,675.8 518.2,674.9 520.6,674.4 518.2,673.8 516.6,672.2M544.8,679.8 547.2,679.8 549.6,678.0 550.9,677.7 549.6,679.8 547.2,681.1 544.8,679.8M555.3,680.8 556.5,682.2 555.3,680.8M561.7,684.4 564.1,686.2 561.7,684.4M564.6,685.3 565.7,687.1 564.6,685.3M481.1,667.1 481.9,666.1 484.3,666.7 487.6,664.0 489.2,661.6 491.3,660.1 492.4,658.7 493.7,657.0 495.1,658.5 497.6,660.3 495.9,661.0 495.3,663.4 495.3,666.5 497.1,668.2 494.8,669.4 494.5,671.6 493.2,672.5 492.9,675.3 492.1,676.9 490.0,677.3 487.6,675.6 485.5,675.3 483.0,675.1 482.7,672.5 481.6,670.7 481.1,668.9 481.1,667.1M459.0,659.6 462.6,660.3 464.2,662.5 467.1,665.8 469.0,666.5 472.2,668.9 473.9,671.6 474.7,673.5 476.3,675.3 476.1,680.4 473.9,680.6 470.3,677.1 468.2,674.4 466.6,671.3 465.0,668.0 464.2,666.1 462.6,664.3 461.0,663.0 459.0,659.6M475.0,682.2 476.3,680.6 479.5,681.3 482.7,682.4 485.1,681.9 487.1,682.4 490.0,683.9 489.8,685.7 485.9,685.0 482.7,684.6 479.5,683.9 477.1,683.3 475.0,682.2M490.0,684.8 491.9,685.1 491.1,685.9 490.0,684.8M492.4,685.1 493.5,684.8 493.2,686.1 492.4,685.1M493.8,685.3 497.2,685.0 496.4,685.9 494.0,686.2 493.8,685.3M498.5,685.3 503.5,684.8 502.9,685.7 498.7,685.9 498.5,685.3M497.2,687.1 500.1,688.1 498.8,687.9 497.2,687.1M504.5,688.6 507.2,686.4 510.4,685.3 508.5,686.8 505.3,688.6 504.5,688.6M498.0,679.8 499.5,679.8 499.5,674.9 500.5,674.5 501.3,678.2 503.4,678.6 502.5,675.3 500.9,673.3 504.2,671.4 501.3,671.3 499.2,668.9 500.5,667.4 503.7,668.2 506.1,668.0 507.2,667.1 505.3,669.1 500.5,669.1 498.5,669.8 498.0,672.5 496.9,674.9 498.0,676.2 498.0,679.8M510.9,666.1 511.7,668.0 512.9,667.1 511.7,668.9 512.7,670.9 510.9,670.3 510.9,666.1M511.7,675.6 515.0,675.3 516.2,676.7 512.5,676.2 511.7,675.6M508.5,675.6 510.4,675.8 509.8,676.7 508.5,676.2 508.5,675.6M569.8,706.7 573.0,709.1 574.6,710.5 572.2,709.2 569.8,706.7M591.2,701.8 593.1,701.6 592.8,703.0 591.2,702.5 591.2,701.8M574.6,697.2 575.1,699.0 574.6,697.2" fill="none" stroke="#3a3a3a" stroke-width="1" stroke-linejoin="round"/></g><path d="M63.6,779.4v-5M63.6,542.0v5M144.2,779.4v-5M144.2,542.0v5M224.8,779.4v-5M224.8,542.0v5M305.4,779.4v-5M305.4,542.0v5M386.0,779.4v-5M386.0,542.0v5M466.6,779.4v-5M466.6,542.0v5M547.2,779.4v-5M547.2,542.0v5M15.2,779.4h5M595.6,779.4h-5M15.2,742.8h5M595.6,742.8h-5M15.2,706.3h5M595.6,706.3h-5M15.2,669.8h5M595.6,669.8h-5M15.2,633.3h5M595.6,633.3h-5M15.2,596.8h5M595.6,596.8h-5M15.2,560.2h5M595.6,560.2h-5" stroke="#b0b0b0" stroke-width="1" fill="none"/><text x="63.6" y="790.3" class="tl" text-anchor="middle">-150</text><text x="144.2" y="790.3" class="tl" text-anchor="middle">-100</text><text x="224.8" y="790.3" class="tl" text-anchor="middle">-50</text><text x="305.4" y="790.3" class="tl" text-anchor="middle">0</text><text x="386.0" y="790.3" class="tl" text-anchor="middle">50</text><text x="466.6" y="790.3" class="tl" text-anchor="middle">100</text><text x="547.2" y="790.3" class="tl" text-anchor="middle">150</text><text x="12.4" y="782.3" class="tl" text-anchor="end">-60</text><text x="12.4" y="745.7" class="tl" text-anchor="end">-40</text><text x="12.4" y="709.2" class="tl" text-anchor="end">-20</text><text x="12.4" y="672.7" class="tl" text-anchor="end">0</text><text x="12.4" y="636.2" class="tl" text-anchor="end">20</text><text x="12.4" y="599.7" class="tl" text-anchor="end">40</text><text x="12.4" y="563.1" class="tl" text-anchor="end">60</text><text x="305.5" y="539.0" class="tt" text-anchor="middle">Dry termination rate - wet onset rate</text><text x="1.6" y="536.2" class="pl">(c)</text><rect x="239.0" y="749.5" width="253.3" height="9.1" fill="url(#cb)" stroke="#555" stroke-width="0.4"/><path d="M281.2,758.6v-1.6M323.4,758.6v-1.6M365.7,758.6v-1.6M407.9,758.6v-1.6M450.1,758.6v-1.6" stroke="#333" stroke-width="0.6"/><text x="239.2" y="769.8" class="cl" text-anchor="middle">-0.3</text><text x="281.4" y="769.8" class="cl" text-anchor="middle">-0.2</text><text x="323.6" y="769.8" class="cl" text-anchor="middle">-0.1</text><text x="365.9" y="769.8" class="cl" text-anchor="middle">0</text><text x="408.1" y="769.8" class="cl" text-anchor="middle">0.1</text><text x="450.3" y="769.8" class="cl" text-anchor="middle">0.2</text><text x="492.5" y="769.8" class="cl" text-anchor="middle">0.3</text><rect x="21" y="136.5" width="146" height="99" fill="#f8f8f8"/><rect x="41.6" y="144.5" width="117.8" height="82.6" fill="#fff" stroke="#c4c4c4" stroke-width="0.7"/><path d="M41.6,158.27H159.4" stroke="#b0b0b0" stroke-width="0.8"/><path d="M41.6,213.33H159.4" stroke="#b0b0b0" stroke-width="0.8"/><path d="M41.6,185.80H159.4" stroke="#d0d0d0" stroke-width="0.6"/><path d="M41.6,144.5V227.1H159.4" stroke="#b8b8b8" stroke-width="0.8" fill="none"/><path d="M41.60,227.1v-1.5M41.60,144.5v1.5M65.16,227.1v-1.5M65.16,144.5v1.5M88.72,227.1v-1.5M88.72,144.5v1.5M112.28,227.1v-1.5M112.28,144.5v1.5M135.84,227.1v-1.5M135.84,144.5v1.5M159.40,227.1v-1.5M159.40,144.5v1.5M41.6,144.50h1.5M159.4,144.50h-1.5M41.6,158.27h1.5M159.4,158.27h-1.5M41.6,172.03h1.5M159.4,172.03h-1.5M41.6,185.80h1.5M159.4,185.80h-1.5M41.6,199.57h1.5M159.4,199.57h-1.5M41.6,213.33h1.5M159.4,213.33h-1.5M41.6,227.10h1.5M159.4,227.10h-1.5" stroke="#a0a0a0" stroke-width="0.6"/><path d="M48.29,185.80C48.59,186.72 49.50,189.70 50.08,191.31C50.66,192.91 51.15,194.98 51.78,195.44C52.41,195.90 53.08,195.02 53.85,194.06C54.62,193.10 55.61,190.11 56.40,189.65C57.18,189.20 57.85,190.53 58.56,191.31C59.28,192.09 59.87,193.69 60.68,194.34C61.49,194.98 62.62,194.79 63.42,195.16C64.22,195.53 64.81,195.34 65.49,196.54C66.17,197.73 66.88,199.98 67.52,202.32C68.15,204.66 68.68,208.06 69.31,210.58C69.93,213.10 70.60,215.58 71.29,217.46C71.97,219.34 72.78,221.64 73.41,221.87C74.03,222.10 74.47,220.35 75.06,218.84C75.64,217.33 76.42,215.08 76.89,212.78C77.36,210.49 77.53,207.78 77.88,205.07C78.24,202.37 78.70,198.83 79.01,196.54C79.33,194.24 79.48,192.64 79.77,191.31C80.05,189.98 80.32,188.74 80.71,188.55C81.10,188.37 81.68,189.56 82.12,190.21C82.57,190.85 82.83,191.86 83.40,192.41C83.96,192.96 84.71,193.69 85.52,193.51C86.32,193.33 87.51,191.58 88.20,191.31C88.89,191.03 89.21,191.58 89.66,191.86C90.11,192.13 90.31,192.55 90.89,192.96C91.46,193.37 92.38,194.61 93.10,194.34C93.82,194.06 94.62,192.27 95.22,191.31C95.83,190.34 96.28,189.47 96.73,188.55C97.18,187.64 97.71,186.26 97.91,185.80Z" fill="#ff0000"/><path d="M97.91,185.80C98.10,185.25 98.61,183.92 99.09,182.50C99.57,181.07 100.23,178.82 100.78,177.26C101.33,175.70 101.90,174.19 102.38,173.13C102.87,172.08 103.10,171.57 103.70,170.93C104.31,170.29 105.23,169.46 106.01,169.28C106.80,169.10 107.73,169.37 108.42,169.83C109.10,170.29 109.48,171.21 110.11,172.03C110.74,172.86 111.67,174.79 112.19,174.79C112.70,174.79 112.88,173.18 113.22,172.03C113.56,170.89 113.76,170.01 114.21,167.90C114.66,165.79 115.44,161.34 115.91,159.37C116.37,157.39 116.59,156.84 116.99,156.06C117.39,155.28 117.84,154.78 118.31,154.69C118.78,154.60 119.34,155.24 119.82,155.51C120.30,155.79 120.64,156.43 121.19,156.34C121.74,156.25 122.53,155.15 123.12,154.96C123.71,154.78 124.08,154.82 124.72,155.24C125.36,155.65 126.12,156.20 126.98,157.44C127.85,158.68 128.83,160.70 129.90,162.67C130.97,164.65 132.42,167.35 133.39,169.28C134.36,171.21 135.03,173.87 135.70,174.24C136.37,174.60 136.81,173.09 137.39,171.48C137.98,169.88 138.65,166.21 139.19,164.60C139.72,162.99 140.11,161.85 140.60,161.85C141.09,161.85 141.72,163.13 142.11,164.60C142.49,166.07 142.63,168.55 142.91,170.66C143.19,172.77 143.36,174.74 143.80,177.26C144.25,179.79 145.30,184.38 145.59,185.80Z" fill="#0000ff"/><path d="M146.68,185.80C146.98,185.34 147.97,183.64 148.52,183.05C149.07,182.45 149.39,182.40 149.98,182.22C150.56,182.04 151.18,181.81 152.00,181.95C152.83,182.08 154.24,182.68 154.92,183.05C155.61,183.41 155.72,183.69 156.10,184.15C156.49,184.61 157.04,185.52 157.23,185.80Z" fill="#0000ff"/><path d="M46.08,177.26C46.27,178.14 46.89,181.07 47.25,182.50C47.62,183.92 47.82,184.33 48.29,185.80C48.76,187.27 49.50,189.70 50.08,191.31C50.66,192.91 51.15,194.98 51.78,195.44C52.41,195.90 53.08,195.02 53.85,194.06C54.62,193.10 55.61,190.11 56.40,189.65C57.18,189.20 57.85,190.53 58.56,191.31C59.28,192.09 59.87,193.69 60.68,194.34C61.49,194.98 62.62,194.79 63.42,195.16C64.22,195.53 64.81,195.34 65.49,196.54C66.17,197.73 66.88,199.98 67.52,202.32C68.15,204.66 68.68,208.06 69.31,210.58C69.93,213.10 70.60,215.58 71.29,217.46C71.97,219.34 72.78,221.64 73.41,221.87C74.03,222.10 74.47,220.35 75.06,218.84C75.64,217.33 76.42,215.08 76.89,212.78C77.36,210.49 77.53,207.78 77.88,205.07C78.24,202.37 78.70,198.83 79.01,196.54C79.33,194.24 79.48,192.64 79.77,191.31C80.05,189.98 80.32,188.74 80.71,188.55C81.10,188.37 81.68,189.56 82.12,190.21C82.57,190.85 82.83,191.86 83.40,192.41C83.96,192.96 84.71,193.69 85.52,193.51C86.32,193.33 87.51,191.58 88.20,191.31C88.89,191.03 89.21,191.58 89.66,191.86C90.11,192.13 90.31,192.55 90.89,192.96C91.46,193.37 92.38,194.61 93.10,194.34C93.82,194.06 94.62,192.27 95.22,191.31C95.83,190.34 96.28,189.47 96.73,188.55C97.18,187.64 97.52,186.81 97.91,185.80C98.30,184.79 98.61,183.92 99.09,182.50C99.57,181.07 100.23,178.82 100.78,177.26C101.33,175.70 101.90,174.19 102.38,173.13C102.87,172.08 103.10,171.57 103.70,170.93C104.31,170.29 105.23,169.46 106.01,169.28C106.80,169.10 107.73,169.37 108.42,169.83C109.10,170.29 109.48,171.21 110.11,172.03C110.74,172.86 111.67,174.79 112.19,174.79C112.70,174.79 112.88,173.18 113.22,172.03C113.56,170.89 113.76,170.01 114.21,167.90C114.66,165.79 115.44,161.34 115.91,159.37C116.37,157.39 116.59,156.84 116.99,156.06C117.39,155.28 117.84,154.78 118.31,154.69C118.78,154.60 119.34,155.24 119.82,155.51C120.30,155.79 120.64,156.43 121.19,156.34C121.74,156.25 122.53,155.15 123.12,154.96C123.71,154.78 124.08,154.82 124.72,155.24C125.36,155.65 126.12,156.20 126.98,157.44C127.85,158.68 128.83,160.70 129.90,162.67C130.97,164.65 132.42,167.35 133.39,169.28C134.36,171.21 135.03,173.87 135.70,174.24C136.37,174.60 136.81,173.09 137.39,171.48C137.98,169.88 138.65,166.21 139.19,164.60C139.72,162.99 140.11,161.85 140.60,161.85C141.09,161.85 141.72,163.13 142.11,164.60C142.49,166.07 142.63,168.55 142.91,170.66C143.19,172.77 143.36,174.74 143.80,177.26C144.25,179.79 145.21,184.24 145.59,185.80C145.98,187.36 145.93,186.63 146.11,186.63C146.29,186.63 146.28,186.40 146.68,185.80C147.08,185.20 147.97,183.64 148.52,183.05C149.07,182.45 149.39,182.40 149.98,182.22C150.56,182.04 151.18,181.81 152.00,181.95C152.83,182.08 154.24,182.68 154.92,183.05C155.61,183.41 155.72,183.69 156.10,184.15C156.49,184.61 156.84,185.34 157.23,185.80C157.63,186.26 158.10,186.67 158.46,186.90C158.82,187.13 159.24,187.13 159.40,187.18" fill="none" stroke="#9cc3e6" stroke-width="0.6"/><path d="M49.14,186.90L71.76,218.84M76.00,218.84L96.26,188.55" stroke="#111" stroke-width="0.95" stroke-dasharray="2.4,1.4" fill="none"/><path d="M98.52,184.15L118.31,154.69L158.46,186.63" stroke="#f59b3c" stroke-width="1.1" stroke-dasharray="2.2,1.4" fill="none"/><path d="M52.3,207.2L55.8,199.5L58.8,205.5M89.6,198.6L93,206" stroke="#111" stroke-width="0.7" fill="none"/><path d="M103.5,164.5L108.2,169.3M135.6,167.2L144,162.6" stroke="#111" stroke-width="0.8" fill="none"/><path d="M144.8,162.1l-2.3,0.1l1.2,1.8z M108.8,169.9l-0.4,-2.1l-1.6,1.4z" fill="#111"/><text x="57.5" y="212.1" class="ia" text-anchor="middle">Drought</text><text x="57.3" y="219.3" class="ia" text-anchor="middle">onset rate</text><text x="101.1" y="211.4" class="ia" text-anchor="middle">Drought</text><text x="101.1" y="219.3" class="ia" text-anchor="middle">termination rate</text><text x="94.2" y="155.9" class="ia" text-anchor="middle">Wet</text><text x="94.5" y="162.7" class="ia" text-anchor="middle">onset rate</text><text x="151.4" y="153.7" class="ia" text-anchor="middle">Wet</text><text x="151.3" y="160.9" class="ia" text-anchor="middle">termination rate</text><text x="39.6" y="147.90" class="it" text-anchor="end">1.5</text><text x="39.6" y="161.23" class="it" text-anchor="end">1.0</text><text x="39.6" y="174.57" class="it" text-anchor="end">0.5</text><text x="39.6" y="187.90" class="it" text-anchor="end">0.0</text><text x="39.6" y="201.23" class="it" text-anchor="end">-0.5</text><text x="39.6" y="214.57" class="it" text-anchor="end">-1.0</text><text x="39.6" y="227.90" class="it" text-anchor="end">-1.5</text><text x="41.60" y="235.0" class="it" text-anchor="middle">0</text><text x="65.16" y="235.0" class="it" text-anchor="middle">5</text><text x="88.72" y="235.0" class="it" text-anchor="middle">10</text><text x="112.28" y="235.0" class="it" text-anchor="middle">15</text><text x="135.84" y="235.0" class="it" text-anchor="middle">20</text><text x="159.40" y="235.0" class="it" text-anchor="middle">25</text></svg>
</body></html>
